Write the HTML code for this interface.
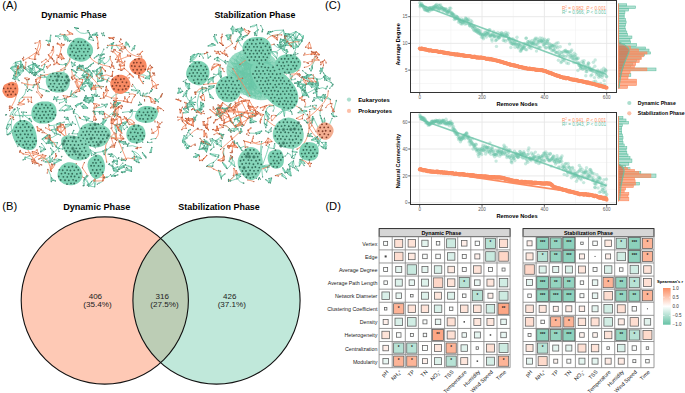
<!DOCTYPE html>
<html><head><meta charset="utf-8"><style>
html,body{margin:0;padding:0;background:#fff;width:685px;height:393px;overflow:hidden}
svg{display:block;font-family:"Liberation Sans", sans-serif}
</style></head><body>
<svg width="685" height="393" viewBox="0 0 685 393">
<rect width="685" height="393" fill="#fff"/>
<text x="2.30" y="8.90" font-size="11.2" text-anchor="start" fill="#000">(A)</text>
<text x="325.10" y="8.90" font-size="11.2" text-anchor="start" fill="#000">(C)</text>
<text x="2.30" y="209.90" font-size="11.2" text-anchor="start" fill="#000">(B)</text>
<text x="325.40" y="209.90" font-size="11.2" text-anchor="start" fill="#000">(D)</text>
<text x="74.00" y="18.30" font-size="8.9" font-weight="bold" text-anchor="middle" fill="#000">Dynamic Phase</text>
<text x="254.90" y="18.30" font-size="8.9" font-weight="bold" text-anchor="middle" fill="#000">Stabilization Phase</text>
<circle cx="104.8" cy="300.5" r="83.6" fill="#FEC9B5"/>
<circle cx="216.5" cy="300.5" r="83.6" fill="#C0E8DA"/>
<clipPath id="vc"><circle cx="104.8" cy="300.5" r="83.6"/></clipPath>
<circle cx="216.5" cy="300.5" r="83.6" fill="#BCCDB5" clip-path="url(#vc)"/>
<circle cx="104.8" cy="300.5" r="83.6" fill="none" stroke="#111" stroke-width="1.1"/>
<circle cx="216.5" cy="300.5" r="83.6" fill="none" stroke="#111" stroke-width="1.1"/>
<text x="96.75" y="209.70" font-size="9.1" font-weight="bold" text-anchor="middle" fill="#000">Dynamic Phase</text>
<text x="219.10" y="209.70" font-size="8.95" font-weight="bold" text-anchor="middle" fill="#000">Stabilization Phase</text>
<text x="95.40" y="298.90" font-size="8.0" text-anchor="middle" fill="#222">406</text>
<text x="97.50" y="307.30" font-size="8.1" text-anchor="middle" fill="#222">(35.4%)</text>
<text x="162.30" y="298.90" font-size="8.0" text-anchor="middle" fill="#222">316</text>
<text x="164.50" y="307.30" font-size="8.1" text-anchor="middle" fill="#222">(27.5%)</text>
<text x="229.70" y="298.90" font-size="8.0" text-anchor="middle" fill="#222">426</text>
<text x="231.80" y="307.30" font-size="8.1" text-anchor="middle" fill="#222">(37.1%)</text>
<line x1="410.5" x2="616.5" y1="83.45" y2="83.45" stroke="#F1F1F1" stroke-width="0.6"/>
<line x1="410.5" x2="616.5" y1="56.75" y2="56.75" stroke="#F1F1F1" stroke-width="0.6"/>
<line x1="410.5" x2="616.5" y1="30.05" y2="30.05" stroke="#F1F1F1" stroke-width="0.6"/>
<line x1="410.5" x2="616.5" y1="3.35" y2="3.35" stroke="#F1F1F1" stroke-width="0.6"/>
<line x1="450.87" x2="450.87" y1="0.5" y2="92.5" stroke="#F1F1F1" stroke-width="0.6"/>
<line x1="513.20" x2="513.20" y1="0.5" y2="92.5" stroke="#F1F1F1" stroke-width="0.6"/>
<line x1="575.53" x2="575.53" y1="0.5" y2="92.5" stroke="#F1F1F1" stroke-width="0.6"/>
<line x1="410.5" x2="616.5" y1="70.10" y2="70.10" stroke="#E6E6E6" stroke-width="0.9"/>
<line x1="410.5" x2="616.5" y1="43.40" y2="43.40" stroke="#E6E6E6" stroke-width="0.9"/>
<line x1="410.5" x2="616.5" y1="16.70" y2="16.70" stroke="#E6E6E6" stroke-width="0.9"/>
<line x1="419.70" x2="419.70" y1="0.5" y2="92.5" stroke="#E6E6E6" stroke-width="0.9"/>
<line x1="482.03" x2="482.03" y1="0.5" y2="92.5" stroke="#E6E6E6" stroke-width="0.9"/>
<line x1="544.37" x2="544.37" y1="0.5" y2="92.5" stroke="#E6E6E6" stroke-width="0.9"/>
<line x1="606.70" x2="606.70" y1="0.5" y2="92.5" stroke="#E6E6E6" stroke-width="0.9"/>
<g fill="#66C2A5" fill-opacity="0.36"><circle cx="419.70" cy="2.75" r="1.7"/><circle cx="420.06" cy="6.74" r="1.7"/><circle cx="420.42" cy="5.43" r="1.7"/><circle cx="420.78" cy="4.79" r="1.7"/><circle cx="421.14" cy="4.98" r="1.7"/><circle cx="421.50" cy="3.47" r="1.7"/><circle cx="421.86" cy="5.76" r="1.7"/><circle cx="422.22" cy="4.97" r="1.7"/><circle cx="422.58" cy="5.67" r="1.7"/><circle cx="422.94" cy="5.80" r="1.7"/><circle cx="423.30" cy="6.60" r="1.7"/><circle cx="423.66" cy="7.72" r="1.7"/><circle cx="424.02" cy="7.77" r="1.7"/><circle cx="424.38" cy="9.74" r="1.7"/><circle cx="424.74" cy="7.16" r="1.7"/><circle cx="425.10" cy="9.74" r="1.7"/><circle cx="425.46" cy="8.84" r="1.7"/><circle cx="425.83" cy="7.19" r="1.7"/><circle cx="426.19" cy="10.24" r="1.7"/><circle cx="426.55" cy="10.13" r="1.7"/><circle cx="426.91" cy="8.74" r="1.7"/><circle cx="427.27" cy="10.18" r="1.7"/><circle cx="427.63" cy="11.12" r="1.7"/><circle cx="427.99" cy="10.09" r="1.7"/><circle cx="428.35" cy="9.70" r="1.7"/><circle cx="428.71" cy="9.52" r="1.7"/><circle cx="429.07" cy="11.60" r="1.7"/><circle cx="429.43" cy="7.82" r="1.7"/><circle cx="429.79" cy="7.60" r="1.7"/><circle cx="430.15" cy="9.17" r="1.7"/><circle cx="430.51" cy="8.88" r="1.7"/><circle cx="430.87" cy="9.80" r="1.7"/><circle cx="431.23" cy="7.39" r="1.7"/><circle cx="431.59" cy="9.92" r="1.7"/><circle cx="431.95" cy="7.80" r="1.7"/><circle cx="432.31" cy="9.04" r="1.7"/><circle cx="432.67" cy="9.27" r="1.7"/><circle cx="433.03" cy="7.53" r="1.7"/><circle cx="433.39" cy="6.66" r="1.7"/><circle cx="433.75" cy="7.85" r="1.7"/><circle cx="434.11" cy="8.77" r="1.7"/><circle cx="434.47" cy="6.54" r="1.7"/><circle cx="434.83" cy="7.36" r="1.7"/><circle cx="435.19" cy="7.12" r="1.7"/><circle cx="435.55" cy="5.39" r="1.7"/><circle cx="435.91" cy="5.51" r="1.7"/><circle cx="436.27" cy="8.31" r="1.7"/><circle cx="436.63" cy="4.55" r="1.7"/><circle cx="436.99" cy="7.62" r="1.7"/><circle cx="437.36" cy="6.73" r="1.7"/><circle cx="437.72" cy="8.49" r="1.7"/><circle cx="438.08" cy="7.63" r="1.7"/><circle cx="438.44" cy="10.38" r="1.7"/><circle cx="438.80" cy="5.13" r="1.7"/><circle cx="439.16" cy="5.46" r="1.7"/><circle cx="439.52" cy="8.78" r="1.7"/><circle cx="439.88" cy="8.77" r="1.7"/><circle cx="440.24" cy="8.88" r="1.7"/><circle cx="440.60" cy="4.91" r="1.7"/><circle cx="440.96" cy="7.69" r="1.7"/><circle cx="441.32" cy="6.94" r="1.7"/><circle cx="441.68" cy="7.59" r="1.7"/><circle cx="442.04" cy="7.64" r="1.7"/><circle cx="442.40" cy="9.61" r="1.7"/><circle cx="442.76" cy="8.43" r="1.7"/><circle cx="443.12" cy="10.85" r="1.7"/><circle cx="443.48" cy="8.55" r="1.7"/><circle cx="443.84" cy="8.77" r="1.7"/><circle cx="444.20" cy="9.09" r="1.7"/><circle cx="444.56" cy="10.11" r="1.7"/><circle cx="444.92" cy="10.74" r="1.7"/><circle cx="445.28" cy="9.10" r="1.7"/><circle cx="445.64" cy="10.83" r="1.7"/><circle cx="446.00" cy="8.62" r="1.7"/><circle cx="446.36" cy="9.74" r="1.7"/><circle cx="446.72" cy="11.38" r="1.7"/><circle cx="447.08" cy="12.34" r="1.7"/><circle cx="447.44" cy="12.41" r="1.7"/><circle cx="447.80" cy="12.51" r="1.7"/><circle cx="448.16" cy="11.79" r="1.7"/><circle cx="448.52" cy="10.95" r="1.7"/><circle cx="448.89" cy="10.73" r="1.7"/><circle cx="449.25" cy="10.39" r="1.7"/><circle cx="449.61" cy="8.10" r="1.7"/><circle cx="449.97" cy="12.72" r="1.7"/><circle cx="450.33" cy="11.76" r="1.7"/><circle cx="450.69" cy="8.22" r="1.7"/><circle cx="451.05" cy="15.57" r="1.7"/><circle cx="451.41" cy="13.45" r="1.7"/><circle cx="451.77" cy="12.55" r="1.7"/><circle cx="452.13" cy="13.64" r="1.7"/><circle cx="452.49" cy="13.77" r="1.7"/><circle cx="452.85" cy="14.83" r="1.7"/><circle cx="453.21" cy="14.80" r="1.7"/><circle cx="453.57" cy="15.64" r="1.7"/><circle cx="453.93" cy="14.36" r="1.7"/><circle cx="454.29" cy="19.57" r="1.7"/><circle cx="454.65" cy="17.64" r="1.7"/><circle cx="455.01" cy="16.33" r="1.7"/><circle cx="455.37" cy="18.49" r="1.7"/><circle cx="455.73" cy="18.76" r="1.7"/><circle cx="456.09" cy="16.09" r="1.7"/><circle cx="456.45" cy="18.60" r="1.7"/><circle cx="456.81" cy="16.40" r="1.7"/><circle cx="457.17" cy="16.88" r="1.7"/><circle cx="457.53" cy="18.17" r="1.7"/><circle cx="457.89" cy="17.83" r="1.7"/><circle cx="458.25" cy="19.28" r="1.7"/><circle cx="458.61" cy="22.27" r="1.7"/><circle cx="458.97" cy="19.91" r="1.7"/><circle cx="459.33" cy="18.92" r="1.7"/><circle cx="459.69" cy="21.26" r="1.7"/><circle cx="460.05" cy="21.43" r="1.7"/><circle cx="460.42" cy="20.35" r="1.7"/><circle cx="460.78" cy="23.64" r="1.7"/><circle cx="461.14" cy="21.41" r="1.7"/><circle cx="461.50" cy="19.04" r="1.7"/><circle cx="461.86" cy="24.02" r="1.7"/><circle cx="462.22" cy="22.13" r="1.7"/><circle cx="462.58" cy="23.03" r="1.7"/><circle cx="462.94" cy="20.10" r="1.7"/><circle cx="463.30" cy="21.88" r="1.7"/><circle cx="463.66" cy="20.22" r="1.7"/><circle cx="464.02" cy="22.66" r="1.7"/><circle cx="464.38" cy="21.20" r="1.7"/><circle cx="464.74" cy="21.04" r="1.7"/><circle cx="465.10" cy="24.15" r="1.7"/><circle cx="465.46" cy="17.88" r="1.7"/><circle cx="465.82" cy="18.87" r="1.7"/><circle cx="466.18" cy="23.60" r="1.7"/><circle cx="466.54" cy="18.76" r="1.7"/><circle cx="466.90" cy="20.86" r="1.7"/><circle cx="467.26" cy="19.92" r="1.7"/><circle cx="467.62" cy="20.31" r="1.7"/><circle cx="467.98" cy="23.53" r="1.7"/><circle cx="468.34" cy="21.51" r="1.7"/><circle cx="468.70" cy="18.98" r="1.7"/><circle cx="469.06" cy="23.59" r="1.7"/><circle cx="469.42" cy="24.94" r="1.7"/><circle cx="469.78" cy="25.70" r="1.7"/><circle cx="470.14" cy="26.07" r="1.7"/><circle cx="470.50" cy="23.38" r="1.7"/><circle cx="470.86" cy="20.47" r="1.7"/><circle cx="471.22" cy="24.49" r="1.7"/><circle cx="471.58" cy="25.67" r="1.7"/><circle cx="471.95" cy="21.98" r="1.7"/><circle cx="472.31" cy="27.54" r="1.7"/><circle cx="472.67" cy="28.09" r="1.7"/><circle cx="473.03" cy="26.23" r="1.7"/><circle cx="473.39" cy="26.23" r="1.7"/><circle cx="473.75" cy="29.58" r="1.7"/><circle cx="474.11" cy="30.47" r="1.7"/><circle cx="474.47" cy="26.85" r="1.7"/><circle cx="474.83" cy="27.21" r="1.7"/><circle cx="475.19" cy="31.01" r="1.7"/><circle cx="475.55" cy="29.22" r="1.7"/><circle cx="475.91" cy="30.39" r="1.7"/><circle cx="476.27" cy="28.74" r="1.7"/><circle cx="476.63" cy="31.45" r="1.7"/><circle cx="476.99" cy="31.83" r="1.7"/><circle cx="477.35" cy="32.17" r="1.7"/><circle cx="477.71" cy="30.06" r="1.7"/><circle cx="478.07" cy="29.61" r="1.7"/><circle cx="478.43" cy="33.07" r="1.7"/><circle cx="478.79" cy="30.46" r="1.7"/><circle cx="479.15" cy="33.46" r="1.7"/><circle cx="479.51" cy="32.86" r="1.7"/><circle cx="479.87" cy="31.90" r="1.7"/><circle cx="480.23" cy="30.73" r="1.7"/><circle cx="480.59" cy="34.64" r="1.7"/><circle cx="480.95" cy="33.55" r="1.7"/><circle cx="481.31" cy="34.27" r="1.7"/><circle cx="481.67" cy="37.37" r="1.7"/><circle cx="482.03" cy="34.83" r="1.7"/><circle cx="482.39" cy="35.97" r="1.7"/><circle cx="482.75" cy="34.41" r="1.7"/><circle cx="483.11" cy="37.51" r="1.7"/><circle cx="483.48" cy="38.77" r="1.7"/><circle cx="483.84" cy="34.51" r="1.7"/><circle cx="484.20" cy="33.96" r="1.7"/><circle cx="484.56" cy="35.39" r="1.7"/><circle cx="484.92" cy="32.26" r="1.7"/><circle cx="485.28" cy="34.92" r="1.7"/><circle cx="485.64" cy="35.01" r="1.7"/><circle cx="486.00" cy="32.28" r="1.7"/><circle cx="486.36" cy="37.11" r="1.7"/><circle cx="486.72" cy="34.02" r="1.7"/><circle cx="487.08" cy="33.37" r="1.7"/><circle cx="487.44" cy="31.19" r="1.7"/><circle cx="487.80" cy="33.80" r="1.7"/><circle cx="488.16" cy="32.87" r="1.7"/><circle cx="488.52" cy="34.89" r="1.7"/><circle cx="488.88" cy="32.83" r="1.7"/><circle cx="489.24" cy="29.65" r="1.7"/><circle cx="489.60" cy="35.91" r="1.7"/><circle cx="489.96" cy="29.83" r="1.7"/><circle cx="490.32" cy="36.42" r="1.7"/><circle cx="490.68" cy="35.46" r="1.7"/><circle cx="491.04" cy="35.63" r="1.7"/><circle cx="491.40" cy="34.38" r="1.7"/><circle cx="491.76" cy="39.13" r="1.7"/><circle cx="492.12" cy="41.00" r="1.7"/><circle cx="492.48" cy="34.30" r="1.7"/><circle cx="492.84" cy="34.66" r="1.7"/><circle cx="493.20" cy="35.34" r="1.7"/><circle cx="493.56" cy="31.51" r="1.7"/><circle cx="493.92" cy="37.03" r="1.7"/><circle cx="494.28" cy="36.41" r="1.7"/><circle cx="494.64" cy="35.62" r="1.7"/><circle cx="495.01" cy="36.47" r="1.7"/><circle cx="495.37" cy="33.29" r="1.7"/><circle cx="495.73" cy="40.67" r="1.7"/><circle cx="496.09" cy="39.97" r="1.7"/><circle cx="496.45" cy="46.41" r="1.7"/><circle cx="496.81" cy="36.20" r="1.7"/><circle cx="497.17" cy="39.21" r="1.7"/><circle cx="497.53" cy="35.74" r="1.7"/><circle cx="497.89" cy="32.43" r="1.7"/><circle cx="498.25" cy="36.75" r="1.7"/><circle cx="498.61" cy="37.81" r="1.7"/><circle cx="498.97" cy="37.71" r="1.7"/><circle cx="499.33" cy="37.71" r="1.7"/><circle cx="499.69" cy="36.46" r="1.7"/><circle cx="500.05" cy="33.50" r="1.7"/><circle cx="500.41" cy="35.38" r="1.7"/><circle cx="500.77" cy="34.74" r="1.7"/><circle cx="501.13" cy="35.27" r="1.7"/><circle cx="501.49" cy="32.61" r="1.7"/><circle cx="501.85" cy="33.14" r="1.7"/><circle cx="502.21" cy="35.15" r="1.7"/><circle cx="502.57" cy="34.60" r="1.7"/><circle cx="502.93" cy="36.97" r="1.7"/><circle cx="503.29" cy="40.54" r="1.7"/><circle cx="503.65" cy="33.59" r="1.7"/><circle cx="504.01" cy="35.95" r="1.7"/><circle cx="504.37" cy="39.93" r="1.7"/><circle cx="504.73" cy="34.84" r="1.7"/><circle cx="505.09" cy="36.30" r="1.7"/><circle cx="505.45" cy="41.19" r="1.7"/><circle cx="505.81" cy="32.51" r="1.7"/><circle cx="506.17" cy="35.95" r="1.7"/><circle cx="506.54" cy="34.12" r="1.7"/><circle cx="506.90" cy="35.29" r="1.7"/><circle cx="507.26" cy="35.58" r="1.7"/><circle cx="507.62" cy="39.88" r="1.7"/><circle cx="507.98" cy="33.18" r="1.7"/><circle cx="508.34" cy="36.93" r="1.7"/><circle cx="508.70" cy="38.71" r="1.7"/><circle cx="509.06" cy="38.66" r="1.7"/><circle cx="509.42" cy="39.20" r="1.7"/><circle cx="509.78" cy="38.79" r="1.7"/><circle cx="510.14" cy="41.95" r="1.7"/><circle cx="510.50" cy="41.61" r="1.7"/><circle cx="510.86" cy="47.57" r="1.7"/><circle cx="511.22" cy="43.82" r="1.7"/><circle cx="511.58" cy="41.19" r="1.7"/><circle cx="511.94" cy="38.86" r="1.7"/><circle cx="512.30" cy="43.87" r="1.7"/><circle cx="512.66" cy="43.46" r="1.7"/><circle cx="513.02" cy="38.90" r="1.7"/><circle cx="513.38" cy="44.46" r="1.7"/><circle cx="513.74" cy="42.42" r="1.7"/><circle cx="514.10" cy="40.20" r="1.7"/><circle cx="514.46" cy="43.97" r="1.7"/><circle cx="514.82" cy="41.74" r="1.7"/><circle cx="515.18" cy="47.25" r="1.7"/><circle cx="515.54" cy="44.11" r="1.7"/><circle cx="515.90" cy="44.41" r="1.7"/><circle cx="516.26" cy="43.91" r="1.7"/><circle cx="516.62" cy="40.70" r="1.7"/><circle cx="516.98" cy="37.22" r="1.7"/><circle cx="517.34" cy="46.33" r="1.7"/><circle cx="517.70" cy="46.98" r="1.7"/><circle cx="518.07" cy="44.31" r="1.7"/><circle cx="518.43" cy="47.94" r="1.7"/><circle cx="518.79" cy="43.93" r="1.7"/><circle cx="519.15" cy="44.16" r="1.7"/><circle cx="519.51" cy="46.84" r="1.7"/><circle cx="519.87" cy="45.33" r="1.7"/><circle cx="520.23" cy="50.97" r="1.7"/><circle cx="520.59" cy="45.00" r="1.7"/><circle cx="520.95" cy="50.98" r="1.7"/><circle cx="521.31" cy="49.79" r="1.7"/><circle cx="521.67" cy="48.87" r="1.7"/><circle cx="522.03" cy="48.54" r="1.7"/><circle cx="522.39" cy="45.85" r="1.7"/><circle cx="522.75" cy="47.24" r="1.7"/><circle cx="523.11" cy="48.47" r="1.7"/><circle cx="523.47" cy="46.84" r="1.7"/><circle cx="523.83" cy="44.02" r="1.7"/><circle cx="524.19" cy="47.94" r="1.7"/><circle cx="524.55" cy="46.84" r="1.7"/><circle cx="524.91" cy="43.53" r="1.7"/><circle cx="525.27" cy="45.61" r="1.7"/><circle cx="525.63" cy="49.49" r="1.7"/><circle cx="525.99" cy="38.24" r="1.7"/><circle cx="526.35" cy="38.11" r="1.7"/><circle cx="526.71" cy="49.83" r="1.7"/><circle cx="527.07" cy="43.91" r="1.7"/><circle cx="527.43" cy="43.89" r="1.7"/><circle cx="527.79" cy="41.64" r="1.7"/><circle cx="528.15" cy="41.66" r="1.7"/><circle cx="528.51" cy="44.64" r="1.7"/><circle cx="528.87" cy="47.24" r="1.7"/><circle cx="529.23" cy="42.63" r="1.7"/><circle cx="529.60" cy="41.08" r="1.7"/><circle cx="529.96" cy="47.04" r="1.7"/><circle cx="530.32" cy="45.36" r="1.7"/><circle cx="530.68" cy="43.12" r="1.7"/><circle cx="531.04" cy="48.47" r="1.7"/><circle cx="531.40" cy="42.41" r="1.7"/><circle cx="531.76" cy="43.23" r="1.7"/><circle cx="532.12" cy="40.40" r="1.7"/><circle cx="532.48" cy="43.49" r="1.7"/><circle cx="532.84" cy="44.84" r="1.7"/><circle cx="533.20" cy="43.58" r="1.7"/><circle cx="533.56" cy="42.49" r="1.7"/><circle cx="533.92" cy="43.96" r="1.7"/><circle cx="534.28" cy="42.10" r="1.7"/><circle cx="534.64" cy="40.13" r="1.7"/><circle cx="535.00" cy="39.57" r="1.7"/><circle cx="535.36" cy="38.24" r="1.7"/><circle cx="535.72" cy="45.27" r="1.7"/><circle cx="536.08" cy="44.16" r="1.7"/><circle cx="536.44" cy="51.11" r="1.7"/><circle cx="536.80" cy="38.19" r="1.7"/><circle cx="537.16" cy="44.48" r="1.7"/><circle cx="537.52" cy="41.73" r="1.7"/><circle cx="537.88" cy="39.77" r="1.7"/><circle cx="538.24" cy="47.48" r="1.7"/><circle cx="538.60" cy="41.43" r="1.7"/><circle cx="538.96" cy="42.69" r="1.7"/><circle cx="539.32" cy="47.26" r="1.7"/><circle cx="539.68" cy="40.55" r="1.7"/><circle cx="540.04" cy="37.94" r="1.7"/><circle cx="540.40" cy="47.34" r="1.7"/><circle cx="540.76" cy="40.40" r="1.7"/><circle cx="541.13" cy="41.62" r="1.7"/><circle cx="541.49" cy="40.75" r="1.7"/><circle cx="541.85" cy="41.56" r="1.7"/><circle cx="542.21" cy="38.13" r="1.7"/><circle cx="542.57" cy="42.03" r="1.7"/><circle cx="542.93" cy="39.86" r="1.7"/><circle cx="543.29" cy="44.64" r="1.7"/><circle cx="543.65" cy="41.01" r="1.7"/><circle cx="544.01" cy="46.03" r="1.7"/><circle cx="544.37" cy="44.25" r="1.7"/><circle cx="544.73" cy="39.18" r="1.7"/><circle cx="545.09" cy="41.98" r="1.7"/><circle cx="545.45" cy="43.48" r="1.7"/><circle cx="545.81" cy="47.78" r="1.7"/><circle cx="546.17" cy="47.76" r="1.7"/><circle cx="546.53" cy="43.53" r="1.7"/><circle cx="546.89" cy="40.66" r="1.7"/><circle cx="547.25" cy="41.36" r="1.7"/><circle cx="547.61" cy="40.88" r="1.7"/><circle cx="547.97" cy="43.74" r="1.7"/><circle cx="548.33" cy="39.33" r="1.7"/><circle cx="548.69" cy="46.85" r="1.7"/><circle cx="549.05" cy="48.05" r="1.7"/><circle cx="549.41" cy="43.47" r="1.7"/><circle cx="549.77" cy="45.92" r="1.7"/><circle cx="550.13" cy="47.70" r="1.7"/><circle cx="550.49" cy="48.86" r="1.7"/><circle cx="550.85" cy="47.64" r="1.7"/><circle cx="551.21" cy="44.67" r="1.7"/><circle cx="551.57" cy="45.35" r="1.7"/><circle cx="551.93" cy="50.70" r="1.7"/><circle cx="552.29" cy="45.76" r="1.7"/><circle cx="552.66" cy="46.29" r="1.7"/><circle cx="553.02" cy="50.51" r="1.7"/><circle cx="553.38" cy="45.45" r="1.7"/><circle cx="553.74" cy="49.67" r="1.7"/><circle cx="554.10" cy="50.05" r="1.7"/><circle cx="554.46" cy="46.50" r="1.7"/><circle cx="554.82" cy="44.80" r="1.7"/><circle cx="555.18" cy="51.81" r="1.7"/><circle cx="555.54" cy="48.06" r="1.7"/><circle cx="555.90" cy="52.84" r="1.7"/><circle cx="556.26" cy="43.09" r="1.7"/><circle cx="556.62" cy="52.48" r="1.7"/><circle cx="556.98" cy="46.11" r="1.7"/><circle cx="557.34" cy="52.34" r="1.7"/><circle cx="557.70" cy="47.74" r="1.7"/><circle cx="558.06" cy="42.82" r="1.7"/><circle cx="558.42" cy="60.18" r="1.7"/><circle cx="558.78" cy="54.50" r="1.7"/><circle cx="559.14" cy="51.30" r="1.7"/><circle cx="559.50" cy="54.12" r="1.7"/><circle cx="559.86" cy="55.61" r="1.7"/><circle cx="560.22" cy="46.70" r="1.7"/><circle cx="560.58" cy="55.87" r="1.7"/><circle cx="560.94" cy="62.51" r="1.7"/><circle cx="561.30" cy="52.46" r="1.7"/><circle cx="561.66" cy="61.72" r="1.7"/><circle cx="562.02" cy="52.65" r="1.7"/><circle cx="562.38" cy="59.17" r="1.7"/><circle cx="562.74" cy="56.12" r="1.7"/><circle cx="563.10" cy="51.76" r="1.7"/><circle cx="563.46" cy="55.67" r="1.7"/><circle cx="563.82" cy="59.95" r="1.7"/><circle cx="564.19" cy="60.68" r="1.7"/><circle cx="564.55" cy="50.71" r="1.7"/><circle cx="564.91" cy="52.05" r="1.7"/><circle cx="565.27" cy="56.62" r="1.7"/><circle cx="565.63" cy="50.30" r="1.7"/><circle cx="565.99" cy="51.26" r="1.7"/><circle cx="566.35" cy="52.02" r="1.7"/><circle cx="566.71" cy="62.94" r="1.7"/><circle cx="567.07" cy="55.73" r="1.7"/><circle cx="567.43" cy="52.02" r="1.7"/><circle cx="567.79" cy="52.17" r="1.7"/><circle cx="568.15" cy="51.60" r="1.7"/><circle cx="568.51" cy="63.43" r="1.7"/><circle cx="568.87" cy="54.58" r="1.7"/><circle cx="569.23" cy="51.91" r="1.7"/><circle cx="569.59" cy="44.09" r="1.7"/><circle cx="569.95" cy="57.68" r="1.7"/><circle cx="570.31" cy="55.95" r="1.7"/><circle cx="570.67" cy="53.20" r="1.7"/><circle cx="571.03" cy="51.09" r="1.7"/><circle cx="571.39" cy="55.95" r="1.7"/><circle cx="571.75" cy="50.04" r="1.7"/><circle cx="572.11" cy="57.86" r="1.7"/><circle cx="572.47" cy="55.54" r="1.7"/><circle cx="572.83" cy="58.86" r="1.7"/><circle cx="573.19" cy="56.56" r="1.7"/><circle cx="573.55" cy="59.34" r="1.7"/><circle cx="573.91" cy="62.66" r="1.7"/><circle cx="574.27" cy="53.25" r="1.7"/><circle cx="574.63" cy="56.08" r="1.7"/><circle cx="574.99" cy="59.46" r="1.7"/><circle cx="575.35" cy="57.06" r="1.7"/><circle cx="575.72" cy="54.59" r="1.7"/><circle cx="576.08" cy="62.60" r="1.7"/><circle cx="576.44" cy="59.21" r="1.7"/><circle cx="576.80" cy="58.03" r="1.7"/><circle cx="577.16" cy="58.88" r="1.7"/><circle cx="577.52" cy="62.37" r="1.7"/><circle cx="577.88" cy="70.46" r="1.7"/><circle cx="578.24" cy="58.26" r="1.7"/><circle cx="578.60" cy="63.39" r="1.7"/><circle cx="578.96" cy="65.05" r="1.7"/><circle cx="579.32" cy="65.60" r="1.7"/><circle cx="579.68" cy="63.04" r="1.7"/><circle cx="580.04" cy="65.73" r="1.7"/><circle cx="580.40" cy="68.23" r="1.7"/><circle cx="580.76" cy="68.30" r="1.7"/><circle cx="581.12" cy="66.20" r="1.7"/><circle cx="581.48" cy="65.93" r="1.7"/><circle cx="581.84" cy="67.27" r="1.7"/><circle cx="582.20" cy="61.29" r="1.7"/><circle cx="582.56" cy="69.08" r="1.7"/><circle cx="582.92" cy="63.07" r="1.7"/><circle cx="583.28" cy="68.89" r="1.7"/><circle cx="583.64" cy="62.88" r="1.7"/><circle cx="584.00" cy="60.59" r="1.7"/><circle cx="584.36" cy="65.16" r="1.7"/><circle cx="584.72" cy="68.27" r="1.7"/><circle cx="585.08" cy="66.73" r="1.7"/><circle cx="585.44" cy="67.75" r="1.7"/><circle cx="585.80" cy="75.78" r="1.7"/><circle cx="586.16" cy="71.64" r="1.7"/><circle cx="586.52" cy="69.49" r="1.7"/><circle cx="586.88" cy="71.60" r="1.7"/><circle cx="587.25" cy="68.93" r="1.7"/><circle cx="587.61" cy="65.59" r="1.7"/><circle cx="587.97" cy="64.72" r="1.7"/><circle cx="588.33" cy="62.85" r="1.7"/><circle cx="588.69" cy="63.21" r="1.7"/><circle cx="589.05" cy="67.95" r="1.7"/><circle cx="589.41" cy="67.37" r="1.7"/><circle cx="589.77" cy="69.28" r="1.7"/><circle cx="590.13" cy="70.30" r="1.7"/><circle cx="590.49" cy="69.72" r="1.7"/><circle cx="590.85" cy="75.79" r="1.7"/><circle cx="591.21" cy="69.74" r="1.7"/><circle cx="591.57" cy="69.87" r="1.7"/><circle cx="591.93" cy="74.64" r="1.7"/><circle cx="592.29" cy="70.68" r="1.7"/><circle cx="592.65" cy="68.54" r="1.7"/><circle cx="593.01" cy="71.42" r="1.7"/><circle cx="593.37" cy="62.30" r="1.7"/><circle cx="593.73" cy="81.80" r="1.7"/><circle cx="594.09" cy="71.35" r="1.7"/><circle cx="594.45" cy="77.58" r="1.7"/><circle cx="594.81" cy="66.26" r="1.7"/><circle cx="595.17" cy="60.03" r="1.7"/><circle cx="595.53" cy="81.18" r="1.7"/><circle cx="595.89" cy="72.76" r="1.7"/><circle cx="596.25" cy="71.77" r="1.7"/><circle cx="596.61" cy="74.83" r="1.7"/><circle cx="596.97" cy="72.39" r="1.7"/><circle cx="597.33" cy="83.39" r="1.7"/><circle cx="597.69" cy="70.28" r="1.7"/><circle cx="598.05" cy="73.25" r="1.7"/><circle cx="598.41" cy="74.63" r="1.7"/><circle cx="598.78" cy="77.18" r="1.7"/><circle cx="599.14" cy="71.46" r="1.7"/><circle cx="599.50" cy="75.43" r="1.7"/><circle cx="599.86" cy="72.45" r="1.7"/><circle cx="600.22" cy="76.19" r="1.7"/><circle cx="600.58" cy="83.45" r="1.7"/><circle cx="600.94" cy="74.19" r="1.7"/><circle cx="601.30" cy="72.50" r="1.7"/><circle cx="601.66" cy="69.94" r="1.7"/><circle cx="602.02" cy="77.47" r="1.7"/><circle cx="602.38" cy="75.14" r="1.7"/><circle cx="602.74" cy="72.64" r="1.7"/><circle cx="603.10" cy="75.18" r="1.7"/><circle cx="603.46" cy="71.40" r="1.7"/><circle cx="603.82" cy="68.13" r="1.7"/><circle cx="604.18" cy="80.64" r="1.7"/><circle cx="604.54" cy="84.65" r="1.7"/><circle cx="604.90" cy="72.27" r="1.7"/><circle cx="605.26" cy="69.72" r="1.7"/><circle cx="605.62" cy="70.14" r="1.7"/><circle cx="605.98" cy="71.03" r="1.7"/><circle cx="606.34" cy="76.28" r="1.7"/><circle cx="606.70" cy="76.81" r="1.7"/></g>
<line x1="419.70" y1="4.42" x2="606.70" y2="74.59" stroke="#66C2A5" stroke-width="1.6" stroke-opacity="0.8"/>
<g fill="#FC8D62" fill-opacity="0.95"><circle cx="419.70" cy="48.28" r="1.85"/><circle cx="420.15" cy="48.74" r="1.85"/><circle cx="420.59" cy="49.01" r="1.85"/><circle cx="421.04" cy="48.92" r="1.85"/><circle cx="421.49" cy="48.25" r="1.85"/><circle cx="421.93" cy="48.44" r="1.85"/><circle cx="422.38" cy="49.08" r="1.85"/><circle cx="422.82" cy="49.16" r="1.85"/><circle cx="423.27" cy="49.04" r="1.85"/><circle cx="423.72" cy="49.32" r="1.85"/><circle cx="424.16" cy="48.96" r="1.85"/><circle cx="424.61" cy="49.33" r="1.85"/><circle cx="425.06" cy="49.62" r="1.85"/><circle cx="425.50" cy="49.19" r="1.85"/><circle cx="425.95" cy="49.67" r="1.85"/><circle cx="426.39" cy="49.57" r="1.85"/><circle cx="426.84" cy="49.70" r="1.85"/><circle cx="427.29" cy="49.84" r="1.85"/><circle cx="427.73" cy="49.78" r="1.85"/><circle cx="428.18" cy="50.07" r="1.85"/><circle cx="428.63" cy="50.40" r="1.85"/><circle cx="429.07" cy="50.55" r="1.85"/><circle cx="429.52" cy="50.43" r="1.85"/><circle cx="429.97" cy="50.39" r="1.85"/><circle cx="430.41" cy="50.31" r="1.85"/><circle cx="430.86" cy="50.37" r="1.85"/><circle cx="431.30" cy="50.34" r="1.85"/><circle cx="431.75" cy="50.51" r="1.85"/><circle cx="432.20" cy="50.78" r="1.85"/><circle cx="432.64" cy="50.84" r="1.85"/><circle cx="433.09" cy="51.22" r="1.85"/><circle cx="433.54" cy="50.88" r="1.85"/><circle cx="433.98" cy="50.82" r="1.85"/><circle cx="434.43" cy="50.88" r="1.85"/><circle cx="434.87" cy="51.10" r="1.85"/><circle cx="435.32" cy="51.19" r="1.85"/><circle cx="435.77" cy="51.03" r="1.85"/><circle cx="436.21" cy="51.30" r="1.85"/><circle cx="436.66" cy="51.22" r="1.85"/><circle cx="437.11" cy="51.33" r="1.85"/><circle cx="437.55" cy="51.49" r="1.85"/><circle cx="438.00" cy="51.33" r="1.85"/><circle cx="438.44" cy="51.81" r="1.85"/><circle cx="438.89" cy="51.84" r="1.85"/><circle cx="439.34" cy="52.01" r="1.85"/><circle cx="439.78" cy="52.08" r="1.85"/><circle cx="440.23" cy="51.66" r="1.85"/><circle cx="440.68" cy="51.69" r="1.85"/><circle cx="441.12" cy="52.14" r="1.85"/><circle cx="441.57" cy="52.10" r="1.85"/><circle cx="442.02" cy="52.05" r="1.85"/><circle cx="442.46" cy="52.20" r="1.85"/><circle cx="442.91" cy="52.19" r="1.85"/><circle cx="443.35" cy="52.80" r="1.85"/><circle cx="443.80" cy="52.74" r="1.85"/><circle cx="444.25" cy="52.58" r="1.85"/><circle cx="444.69" cy="52.45" r="1.85"/><circle cx="445.14" cy="52.81" r="1.85"/><circle cx="445.59" cy="53.09" r="1.85"/><circle cx="446.03" cy="53.06" r="1.85"/><circle cx="446.48" cy="53.20" r="1.85"/><circle cx="446.92" cy="53.32" r="1.85"/><circle cx="447.37" cy="52.89" r="1.85"/><circle cx="447.82" cy="53.42" r="1.85"/><circle cx="448.26" cy="53.36" r="1.85"/><circle cx="448.71" cy="52.98" r="1.85"/><circle cx="449.16" cy="53.27" r="1.85"/><circle cx="449.60" cy="53.52" r="1.85"/><circle cx="450.05" cy="53.80" r="1.85"/><circle cx="450.50" cy="53.66" r="1.85"/><circle cx="450.94" cy="53.48" r="1.85"/><circle cx="451.39" cy="53.77" r="1.85"/><circle cx="451.83" cy="53.69" r="1.85"/><circle cx="452.28" cy="54.00" r="1.85"/><circle cx="452.73" cy="53.97" r="1.85"/><circle cx="453.17" cy="54.18" r="1.85"/><circle cx="453.62" cy="54.10" r="1.85"/><circle cx="454.07" cy="53.97" r="1.85"/><circle cx="454.51" cy="54.61" r="1.85"/><circle cx="454.96" cy="54.38" r="1.85"/><circle cx="455.40" cy="54.37" r="1.85"/><circle cx="455.85" cy="54.60" r="1.85"/><circle cx="456.30" cy="54.60" r="1.85"/><circle cx="456.74" cy="54.42" r="1.85"/><circle cx="457.19" cy="54.22" r="1.85"/><circle cx="457.64" cy="54.57" r="1.85"/><circle cx="458.08" cy="54.69" r="1.85"/><circle cx="458.53" cy="55.15" r="1.85"/><circle cx="458.97" cy="54.46" r="1.85"/><circle cx="459.42" cy="54.92" r="1.85"/><circle cx="459.87" cy="55.00" r="1.85"/><circle cx="460.31" cy="55.28" r="1.85"/><circle cx="460.76" cy="55.12" r="1.85"/><circle cx="461.21" cy="55.39" r="1.85"/><circle cx="461.65" cy="55.20" r="1.85"/><circle cx="462.10" cy="55.17" r="1.85"/><circle cx="462.55" cy="55.32" r="1.85"/><circle cx="462.99" cy="55.33" r="1.85"/><circle cx="463.44" cy="55.63" r="1.85"/><circle cx="463.88" cy="55.20" r="1.85"/><circle cx="464.33" cy="55.70" r="1.85"/><circle cx="464.78" cy="56.00" r="1.85"/><circle cx="465.22" cy="55.71" r="1.85"/><circle cx="465.67" cy="55.89" r="1.85"/><circle cx="466.12" cy="56.00" r="1.85"/><circle cx="466.56" cy="55.92" r="1.85"/><circle cx="467.01" cy="55.84" r="1.85"/><circle cx="467.45" cy="56.21" r="1.85"/><circle cx="467.90" cy="56.04" r="1.85"/><circle cx="468.35" cy="55.77" r="1.85"/><circle cx="468.79" cy="55.98" r="1.85"/><circle cx="469.24" cy="56.22" r="1.85"/><circle cx="469.69" cy="56.21" r="1.85"/><circle cx="470.13" cy="56.32" r="1.85"/><circle cx="470.58" cy="56.37" r="1.85"/><circle cx="471.03" cy="56.26" r="1.85"/><circle cx="471.47" cy="56.49" r="1.85"/><circle cx="471.92" cy="57.04" r="1.85"/><circle cx="472.36" cy="56.59" r="1.85"/><circle cx="472.81" cy="56.83" r="1.85"/><circle cx="473.26" cy="56.56" r="1.85"/><circle cx="473.70" cy="56.89" r="1.85"/><circle cx="474.15" cy="56.78" r="1.85"/><circle cx="474.60" cy="56.40" r="1.85"/><circle cx="475.04" cy="57.15" r="1.85"/><circle cx="475.49" cy="57.22" r="1.85"/><circle cx="475.93" cy="57.34" r="1.85"/><circle cx="476.38" cy="57.61" r="1.85"/><circle cx="476.83" cy="57.55" r="1.85"/><circle cx="477.27" cy="57.13" r="1.85"/><circle cx="477.72" cy="57.40" r="1.85"/><circle cx="478.17" cy="57.72" r="1.85"/><circle cx="478.61" cy="57.70" r="1.85"/><circle cx="479.06" cy="57.31" r="1.85"/><circle cx="479.50" cy="57.66" r="1.85"/><circle cx="479.95" cy="57.63" r="1.85"/><circle cx="480.40" cy="57.54" r="1.85"/><circle cx="480.84" cy="57.38" r="1.85"/><circle cx="481.29" cy="57.31" r="1.85"/><circle cx="481.74" cy="57.56" r="1.85"/><circle cx="482.18" cy="57.81" r="1.85"/><circle cx="482.63" cy="57.88" r="1.85"/><circle cx="483.08" cy="57.61" r="1.85"/><circle cx="483.52" cy="57.77" r="1.85"/><circle cx="483.97" cy="58.22" r="1.85"/><circle cx="484.41" cy="58.13" r="1.85"/><circle cx="484.86" cy="58.24" r="1.85"/><circle cx="485.31" cy="58.37" r="1.85"/><circle cx="485.75" cy="58.56" r="1.85"/><circle cx="486.20" cy="58.82" r="1.85"/><circle cx="486.65" cy="58.72" r="1.85"/><circle cx="487.09" cy="59.01" r="1.85"/><circle cx="487.54" cy="58.50" r="1.85"/><circle cx="487.98" cy="58.72" r="1.85"/><circle cx="488.43" cy="59.17" r="1.85"/><circle cx="488.88" cy="58.69" r="1.85"/><circle cx="489.32" cy="58.88" r="1.85"/><circle cx="489.77" cy="59.55" r="1.85"/><circle cx="490.22" cy="58.83" r="1.85"/><circle cx="490.66" cy="59.12" r="1.85"/><circle cx="491.11" cy="58.93" r="1.85"/><circle cx="491.56" cy="59.71" r="1.85"/><circle cx="492.00" cy="59.41" r="1.85"/><circle cx="492.45" cy="59.51" r="1.85"/><circle cx="492.89" cy="59.64" r="1.85"/><circle cx="493.34" cy="59.72" r="1.85"/><circle cx="493.79" cy="59.61" r="1.85"/><circle cx="494.23" cy="60.23" r="1.85"/><circle cx="494.68" cy="60.25" r="1.85"/><circle cx="495.13" cy="60.36" r="1.85"/><circle cx="495.57" cy="60.27" r="1.85"/><circle cx="496.02" cy="60.41" r="1.85"/><circle cx="496.46" cy="60.34" r="1.85"/><circle cx="496.91" cy="60.49" r="1.85"/><circle cx="497.36" cy="60.67" r="1.85"/><circle cx="497.80" cy="60.95" r="1.85"/><circle cx="498.25" cy="61.03" r="1.85"/><circle cx="498.70" cy="60.87" r="1.85"/><circle cx="499.14" cy="61.04" r="1.85"/><circle cx="499.59" cy="61.31" r="1.85"/><circle cx="500.03" cy="61.53" r="1.85"/><circle cx="500.48" cy="61.26" r="1.85"/><circle cx="500.93" cy="61.85" r="1.85"/><circle cx="501.37" cy="61.72" r="1.85"/><circle cx="501.82" cy="61.74" r="1.85"/><circle cx="502.27" cy="62.17" r="1.85"/><circle cx="502.71" cy="62.07" r="1.85"/><circle cx="503.16" cy="62.62" r="1.85"/><circle cx="503.61" cy="62.29" r="1.85"/><circle cx="504.05" cy="62.60" r="1.85"/><circle cx="504.50" cy="63.11" r="1.85"/><circle cx="504.94" cy="62.76" r="1.85"/><circle cx="505.39" cy="63.22" r="1.85"/><circle cx="505.84" cy="62.89" r="1.85"/><circle cx="506.28" cy="63.44" r="1.85"/><circle cx="506.73" cy="63.46" r="1.85"/><circle cx="507.18" cy="63.50" r="1.85"/><circle cx="507.62" cy="63.76" r="1.85"/><circle cx="508.07" cy="63.76" r="1.85"/><circle cx="508.51" cy="64.07" r="1.85"/><circle cx="508.96" cy="63.94" r="1.85"/><circle cx="509.41" cy="64.21" r="1.85"/><circle cx="509.85" cy="64.30" r="1.85"/><circle cx="510.30" cy="65.06" r="1.85"/><circle cx="510.75" cy="64.36" r="1.85"/><circle cx="511.19" cy="64.73" r="1.85"/><circle cx="511.64" cy="65.25" r="1.85"/><circle cx="512.09" cy="64.95" r="1.85"/><circle cx="512.53" cy="64.98" r="1.85"/><circle cx="512.98" cy="64.96" r="1.85"/><circle cx="513.42" cy="65.53" r="1.85"/><circle cx="513.87" cy="65.08" r="1.85"/><circle cx="514.32" cy="65.56" r="1.85"/><circle cx="514.76" cy="65.12" r="1.85"/><circle cx="515.21" cy="65.77" r="1.85"/><circle cx="515.66" cy="65.70" r="1.85"/><circle cx="516.10" cy="66.04" r="1.85"/><circle cx="516.55" cy="66.31" r="1.85"/><circle cx="516.99" cy="65.94" r="1.85"/><circle cx="517.44" cy="66.09" r="1.85"/><circle cx="517.89" cy="66.07" r="1.85"/><circle cx="518.33" cy="66.32" r="1.85"/><circle cx="518.78" cy="66.74" r="1.85"/><circle cx="519.23" cy="67.08" r="1.85"/><circle cx="519.67" cy="66.97" r="1.85"/><circle cx="520.12" cy="67.09" r="1.85"/><circle cx="520.57" cy="67.22" r="1.85"/><circle cx="521.01" cy="67.04" r="1.85"/><circle cx="521.46" cy="67.20" r="1.85"/><circle cx="521.90" cy="67.44" r="1.85"/><circle cx="522.35" cy="67.45" r="1.85"/><circle cx="522.80" cy="67.63" r="1.85"/><circle cx="523.24" cy="67.66" r="1.85"/><circle cx="523.69" cy="67.65" r="1.85"/><circle cx="524.14" cy="67.72" r="1.85"/><circle cx="524.58" cy="68.18" r="1.85"/><circle cx="525.03" cy="68.43" r="1.85"/><circle cx="525.47" cy="67.87" r="1.85"/><circle cx="525.92" cy="68.21" r="1.85"/><circle cx="526.37" cy="68.06" r="1.85"/><circle cx="526.81" cy="68.71" r="1.85"/><circle cx="527.26" cy="68.49" r="1.85"/><circle cx="527.71" cy="68.48" r="1.85"/><circle cx="528.15" cy="68.85" r="1.85"/><circle cx="528.60" cy="68.72" r="1.85"/><circle cx="529.04" cy="68.51" r="1.85"/><circle cx="529.49" cy="68.50" r="1.85"/><circle cx="529.94" cy="68.45" r="1.85"/><circle cx="530.38" cy="69.04" r="1.85"/><circle cx="530.83" cy="69.22" r="1.85"/><circle cx="531.28" cy="68.87" r="1.85"/><circle cx="531.72" cy="68.84" r="1.85"/><circle cx="532.17" cy="69.06" r="1.85"/><circle cx="532.62" cy="69.44" r="1.85"/><circle cx="533.06" cy="69.06" r="1.85"/><circle cx="533.51" cy="69.12" r="1.85"/><circle cx="533.95" cy="69.23" r="1.85"/><circle cx="534.40" cy="69.52" r="1.85"/><circle cx="534.85" cy="69.41" r="1.85"/><circle cx="535.29" cy="69.37" r="1.85"/><circle cx="535.74" cy="69.72" r="1.85"/><circle cx="536.19" cy="70.05" r="1.85"/><circle cx="536.63" cy="69.65" r="1.85"/><circle cx="537.08" cy="69.68" r="1.85"/><circle cx="537.52" cy="69.84" r="1.85"/><circle cx="537.97" cy="69.72" r="1.85"/><circle cx="538.42" cy="70.09" r="1.85"/><circle cx="538.86" cy="70.05" r="1.85"/><circle cx="539.31" cy="70.16" r="1.85"/><circle cx="539.76" cy="70.03" r="1.85"/><circle cx="540.20" cy="69.88" r="1.85"/><circle cx="540.65" cy="70.33" r="1.85"/><circle cx="541.10" cy="69.90" r="1.85"/><circle cx="541.54" cy="70.08" r="1.85"/><circle cx="541.99" cy="70.30" r="1.85"/><circle cx="542.43" cy="70.40" r="1.85"/><circle cx="542.88" cy="70.21" r="1.85"/><circle cx="543.33" cy="70.69" r="1.85"/><circle cx="543.77" cy="70.74" r="1.85"/><circle cx="544.22" cy="71.00" r="1.85"/><circle cx="544.67" cy="70.80" r="1.85"/><circle cx="545.11" cy="70.78" r="1.85"/><circle cx="545.56" cy="71.11" r="1.85"/><circle cx="546.00" cy="71.30" r="1.85"/><circle cx="546.45" cy="71.60" r="1.85"/><circle cx="546.90" cy="71.68" r="1.85"/><circle cx="547.34" cy="72.18" r="1.85"/><circle cx="547.79" cy="71.82" r="1.85"/><circle cx="548.24" cy="72.29" r="1.85"/><circle cx="548.68" cy="72.60" r="1.85"/><circle cx="549.13" cy="72.69" r="1.85"/><circle cx="549.57" cy="72.87" r="1.85"/><circle cx="550.02" cy="72.67" r="1.85"/><circle cx="550.47" cy="72.79" r="1.85"/><circle cx="550.91" cy="73.47" r="1.85"/><circle cx="551.36" cy="73.15" r="1.85"/><circle cx="551.81" cy="73.32" r="1.85"/><circle cx="552.25" cy="73.79" r="1.85"/><circle cx="552.70" cy="74.15" r="1.85"/><circle cx="553.15" cy="74.16" r="1.85"/><circle cx="553.59" cy="74.30" r="1.85"/><circle cx="554.04" cy="74.25" r="1.85"/><circle cx="554.48" cy="74.56" r="1.85"/><circle cx="554.93" cy="75.08" r="1.85"/><circle cx="555.38" cy="74.76" r="1.85"/><circle cx="555.82" cy="75.30" r="1.85"/><circle cx="556.27" cy="74.94" r="1.85"/><circle cx="556.72" cy="75.56" r="1.85"/><circle cx="557.16" cy="75.61" r="1.85"/><circle cx="557.61" cy="75.81" r="1.85"/><circle cx="558.05" cy="75.90" r="1.85"/><circle cx="558.50" cy="75.67" r="1.85"/><circle cx="558.95" cy="75.93" r="1.85"/><circle cx="559.39" cy="76.15" r="1.85"/><circle cx="559.84" cy="76.37" r="1.85"/><circle cx="560.29" cy="76.93" r="1.85"/><circle cx="560.73" cy="76.88" r="1.85"/><circle cx="561.18" cy="77.05" r="1.85"/><circle cx="561.63" cy="77.24" r="1.85"/><circle cx="562.07" cy="77.02" r="1.85"/><circle cx="562.52" cy="77.38" r="1.85"/><circle cx="562.96" cy="77.47" r="1.85"/><circle cx="563.41" cy="77.64" r="1.85"/><circle cx="563.86" cy="77.96" r="1.85"/><circle cx="564.30" cy="77.49" r="1.85"/><circle cx="564.75" cy="77.43" r="1.85"/><circle cx="565.20" cy="77.78" r="1.85"/><circle cx="565.64" cy="78.12" r="1.85"/><circle cx="566.09" cy="78.59" r="1.85"/><circle cx="566.53" cy="78.07" r="1.85"/><circle cx="566.98" cy="77.95" r="1.85"/><circle cx="567.43" cy="78.24" r="1.85"/><circle cx="567.87" cy="78.20" r="1.85"/><circle cx="568.32" cy="78.18" r="1.85"/><circle cx="568.77" cy="78.36" r="1.85"/><circle cx="569.21" cy="78.79" r="1.85"/><circle cx="569.66" cy="78.57" r="1.85"/><circle cx="570.10" cy="78.73" r="1.85"/><circle cx="570.55" cy="79.32" r="1.85"/><circle cx="571.00" cy="79.18" r="1.85"/><circle cx="571.44" cy="79.49" r="1.85"/><circle cx="571.89" cy="79.31" r="1.85"/><circle cx="572.34" cy="79.26" r="1.85"/><circle cx="572.78" cy="79.71" r="1.85"/><circle cx="573.23" cy="80.02" r="1.85"/><circle cx="573.68" cy="79.40" r="1.85"/><circle cx="574.12" cy="79.69" r="1.85"/><circle cx="574.57" cy="79.56" r="1.85"/><circle cx="575.01" cy="80.25" r="1.85"/><circle cx="575.46" cy="79.84" r="1.85"/><circle cx="575.91" cy="79.72" r="1.85"/><circle cx="576.35" cy="79.83" r="1.85"/><circle cx="576.80" cy="80.40" r="1.85"/><circle cx="577.25" cy="80.39" r="1.85"/><circle cx="577.69" cy="80.57" r="1.85"/><circle cx="578.14" cy="80.42" r="1.85"/><circle cx="578.58" cy="80.51" r="1.85"/><circle cx="579.03" cy="80.80" r="1.85"/><circle cx="579.48" cy="81.21" r="1.85"/><circle cx="579.92" cy="80.85" r="1.85"/><circle cx="580.37" cy="81.21" r="1.85"/><circle cx="580.82" cy="81.07" r="1.85"/><circle cx="581.26" cy="81.24" r="1.85"/><circle cx="581.71" cy="81.04" r="1.85"/><circle cx="582.16" cy="81.24" r="1.85"/><circle cx="582.60" cy="81.67" r="1.85"/><circle cx="583.05" cy="81.60" r="1.85"/><circle cx="583.49" cy="81.39" r="1.85"/><circle cx="583.94" cy="81.97" r="1.85"/><circle cx="584.39" cy="81.86" r="1.85"/><circle cx="584.83" cy="81.79" r="1.85"/><circle cx="585.28" cy="81.87" r="1.85"/><circle cx="585.73" cy="82.12" r="1.85"/><circle cx="586.17" cy="82.61" r="1.85"/><circle cx="586.62" cy="82.69" r="1.85"/><circle cx="587.06" cy="82.46" r="1.85"/><circle cx="587.51" cy="82.53" r="1.85"/><circle cx="587.96" cy="82.16" r="1.85"/><circle cx="588.40" cy="82.98" r="1.85"/><circle cx="588.85" cy="82.65" r="1.85"/><circle cx="589.30" cy="82.82" r="1.85"/><circle cx="589.74" cy="83.44" r="1.85"/><circle cx="590.19" cy="83.35" r="1.85"/><circle cx="590.64" cy="83.23" r="1.85"/><circle cx="591.08" cy="83.47" r="1.85"/><circle cx="591.53" cy="83.49" r="1.85"/><circle cx="591.97" cy="83.47" r="1.85"/><circle cx="592.42" cy="83.87" r="1.85"/><circle cx="592.87" cy="83.72" r="1.85"/><circle cx="593.31" cy="84.08" r="1.85"/><circle cx="593.76" cy="84.19" r="1.85"/><circle cx="594.21" cy="84.08" r="1.85"/><circle cx="594.65" cy="84.45" r="1.85"/><circle cx="595.10" cy="84.39" r="1.85"/><circle cx="595.54" cy="84.23" r="1.85"/><circle cx="595.99" cy="84.70" r="1.85"/><circle cx="596.44" cy="84.86" r="1.85"/><circle cx="596.88" cy="84.80" r="1.85"/><circle cx="597.33" cy="85.16" r="1.85"/><circle cx="597.78" cy="84.97" r="1.85"/><circle cx="598.22" cy="85.60" r="1.85"/><circle cx="598.67" cy="85.32" r="1.85"/><circle cx="599.11" cy="85.69" r="1.85"/><circle cx="599.56" cy="85.88" r="1.85"/><circle cx="600.01" cy="85.46" r="1.85"/><circle cx="600.45" cy="86.14" r="1.85"/><circle cx="600.90" cy="85.71" r="1.85"/><circle cx="601.35" cy="86.07" r="1.85"/><circle cx="601.79" cy="86.03" r="1.85"/><circle cx="602.24" cy="86.67" r="1.85"/><circle cx="602.69" cy="86.33" r="1.85"/><circle cx="603.13" cy="86.40" r="1.85"/><circle cx="603.58" cy="86.87" r="1.85"/><circle cx="604.02" cy="86.99" r="1.85"/><circle cx="604.47" cy="86.57" r="1.85"/><circle cx="604.92" cy="87.18" r="1.85"/><circle cx="605.36" cy="87.43" r="1.85"/><circle cx="605.81" cy="87.60" r="1.85"/><circle cx="606.26" cy="87.50" r="1.85"/><circle cx="606.70" cy="87.65" r="1.85"/></g>
<rect x="410.5" y="0.5" width="206.0" height="92.0" fill="none" stroke="#333333" stroke-width="1"/>
<line x1="408.2" x2="410.5" y1="70.10" y2="70.10" stroke="#333333" stroke-width="0.8"/>
<text x="407.50" y="71.70" font-size="4.6" text-anchor="end" fill="#5a5a5a">5</text>
<line x1="408.2" x2="410.5" y1="43.40" y2="43.40" stroke="#333333" stroke-width="0.8"/>
<text x="407.50" y="45.00" font-size="4.6" text-anchor="end" fill="#5a5a5a">10</text>
<line x1="408.2" x2="410.5" y1="16.70" y2="16.70" stroke="#333333" stroke-width="0.8"/>
<text x="407.50" y="18.30" font-size="4.6" text-anchor="end" fill="#5a5a5a">15</text>
<line x1="419.70" x2="419.70" y1="92.5" y2="94.8" stroke="#333333" stroke-width="0.8"/>
<text x="419.70" y="98.70" font-size="4.6" text-anchor="middle" fill="#5a5a5a">0</text>
<line x1="482.03" x2="482.03" y1="92.5" y2="94.8" stroke="#333333" stroke-width="0.8"/>
<text x="482.03" y="98.70" font-size="4.6" text-anchor="middle" fill="#5a5a5a">200</text>
<line x1="544.37" x2="544.37" y1="92.5" y2="94.8" stroke="#333333" stroke-width="0.8"/>
<text x="544.37" y="98.70" font-size="4.6" text-anchor="middle" fill="#5a5a5a">400</text>
<line x1="606.70" x2="606.70" y1="92.5" y2="94.8" stroke="#333333" stroke-width="0.8"/>
<text x="606.70" y="98.70" font-size="4.6" text-anchor="middle" fill="#5a5a5a">600</text>
<text x="517.00" y="105.60" font-size="5.7" font-weight="bold" text-anchor="middle" fill="#000">Remove Nodes</text>
<text x="400.20" y="44.40" font-size="5.6" font-weight="bold" text-anchor="middle" fill="#000" transform="rotate(-90 400.2 44.4)">Average Degree</text>
<text x="606.00" y="9.60" font-size="4.6" text-anchor="end" fill="#FC8D62">R<tspan font-size="3" dy="-1.6">2</tspan><tspan dy="1.6"> = 0.982, </tspan><tspan font-style="italic">P</tspan> &lt; 0.001</text>
<text x="606.00" y="13.80" font-size="4.6" text-anchor="end" fill="#66C2A5">R<tspan font-size="3" dy="-1.6">2</tspan><tspan dy="1.6"> = 0.966, </tspan><tspan font-style="italic">P</tspan> &lt; 0.001</text>
<line x1="410.5" x2="616.5" y1="189.35" y2="189.35" stroke="#F1F1F1" stroke-width="0.6"/>
<line x1="410.5" x2="616.5" y1="162.45" y2="162.45" stroke="#F1F1F1" stroke-width="0.6"/>
<line x1="410.5" x2="616.5" y1="135.55" y2="135.55" stroke="#F1F1F1" stroke-width="0.6"/>
<line x1="450.87" x2="450.87" y1="112.5" y2="204.5" stroke="#F1F1F1" stroke-width="0.6"/>
<line x1="513.20" x2="513.20" y1="112.5" y2="204.5" stroke="#F1F1F1" stroke-width="0.6"/>
<line x1="575.53" x2="575.53" y1="112.5" y2="204.5" stroke="#F1F1F1" stroke-width="0.6"/>
<line x1="410.5" x2="616.5" y1="202.80" y2="202.80" stroke="#E6E6E6" stroke-width="0.9"/>
<line x1="410.5" x2="616.5" y1="175.90" y2="175.90" stroke="#E6E6E6" stroke-width="0.9"/>
<line x1="410.5" x2="616.5" y1="149.00" y2="149.00" stroke="#E6E6E6" stroke-width="0.9"/>
<line x1="410.5" x2="616.5" y1="122.10" y2="122.10" stroke="#E6E6E6" stroke-width="0.9"/>
<line x1="419.70" x2="419.70" y1="112.5" y2="204.5" stroke="#E6E6E6" stroke-width="0.9"/>
<line x1="482.03" x2="482.03" y1="112.5" y2="204.5" stroke="#E6E6E6" stroke-width="0.9"/>
<line x1="544.37" x2="544.37" y1="112.5" y2="204.5" stroke="#E6E6E6" stroke-width="0.9"/>
<line x1="606.70" x2="606.70" y1="112.5" y2="204.5" stroke="#E6E6E6" stroke-width="0.9"/>
<g fill="#66C2A5" fill-opacity="0.36"><circle cx="419.70" cy="114.87" r="1.7"/><circle cx="420.06" cy="117.10" r="1.7"/><circle cx="420.42" cy="116.90" r="1.7"/><circle cx="420.78" cy="116.18" r="1.7"/><circle cx="421.14" cy="117.56" r="1.7"/><circle cx="421.50" cy="118.05" r="1.7"/><circle cx="421.86" cy="117.82" r="1.7"/><circle cx="422.22" cy="117.49" r="1.7"/><circle cx="422.58" cy="118.88" r="1.7"/><circle cx="422.94" cy="117.97" r="1.7"/><circle cx="423.30" cy="118.34" r="1.7"/><circle cx="423.66" cy="119.30" r="1.7"/><circle cx="424.02" cy="117.93" r="1.7"/><circle cx="424.38" cy="120.29" r="1.7"/><circle cx="424.74" cy="118.97" r="1.7"/><circle cx="425.10" cy="120.65" r="1.7"/><circle cx="425.46" cy="120.06" r="1.7"/><circle cx="425.83" cy="122.89" r="1.7"/><circle cx="426.19" cy="121.56" r="1.7"/><circle cx="426.55" cy="121.99" r="1.7"/><circle cx="426.91" cy="122.71" r="1.7"/><circle cx="427.27" cy="123.13" r="1.7"/><circle cx="427.63" cy="123.12" r="1.7"/><circle cx="427.99" cy="123.63" r="1.7"/><circle cx="428.35" cy="125.42" r="1.7"/><circle cx="428.71" cy="124.13" r="1.7"/><circle cx="429.07" cy="124.45" r="1.7"/><circle cx="429.43" cy="124.21" r="1.7"/><circle cx="429.79" cy="124.81" r="1.7"/><circle cx="430.15" cy="123.65" r="1.7"/><circle cx="430.51" cy="122.92" r="1.7"/><circle cx="430.87" cy="123.85" r="1.7"/><circle cx="431.23" cy="123.44" r="1.7"/><circle cx="431.59" cy="121.29" r="1.7"/><circle cx="431.95" cy="121.77" r="1.7"/><circle cx="432.31" cy="121.56" r="1.7"/><circle cx="432.67" cy="121.32" r="1.7"/><circle cx="433.03" cy="123.06" r="1.7"/><circle cx="433.39" cy="122.76" r="1.7"/><circle cx="433.75" cy="120.99" r="1.7"/><circle cx="434.11" cy="122.49" r="1.7"/><circle cx="434.47" cy="121.82" r="1.7"/><circle cx="434.83" cy="121.28" r="1.7"/><circle cx="435.19" cy="121.31" r="1.7"/><circle cx="435.55" cy="121.61" r="1.7"/><circle cx="435.91" cy="120.10" r="1.7"/><circle cx="436.27" cy="121.63" r="1.7"/><circle cx="436.63" cy="121.08" r="1.7"/><circle cx="436.99" cy="120.93" r="1.7"/><circle cx="437.36" cy="120.70" r="1.7"/><circle cx="437.72" cy="120.86" r="1.7"/><circle cx="438.08" cy="123.06" r="1.7"/><circle cx="438.44" cy="123.15" r="1.7"/><circle cx="438.80" cy="122.34" r="1.7"/><circle cx="439.16" cy="121.07" r="1.7"/><circle cx="439.52" cy="120.15" r="1.7"/><circle cx="439.88" cy="123.65" r="1.7"/><circle cx="440.24" cy="121.28" r="1.7"/><circle cx="440.60" cy="122.88" r="1.7"/><circle cx="440.96" cy="122.47" r="1.7"/><circle cx="441.32" cy="122.34" r="1.7"/><circle cx="441.68" cy="121.16" r="1.7"/><circle cx="442.04" cy="121.63" r="1.7"/><circle cx="442.40" cy="120.10" r="1.7"/><circle cx="442.76" cy="123.14" r="1.7"/><circle cx="443.12" cy="120.56" r="1.7"/><circle cx="443.48" cy="120.38" r="1.7"/><circle cx="443.84" cy="121.69" r="1.7"/><circle cx="444.20" cy="121.02" r="1.7"/><circle cx="444.56" cy="122.63" r="1.7"/><circle cx="444.92" cy="123.60" r="1.7"/><circle cx="445.28" cy="122.76" r="1.7"/><circle cx="445.64" cy="123.90" r="1.7"/><circle cx="446.00" cy="119.20" r="1.7"/><circle cx="446.36" cy="124.00" r="1.7"/><circle cx="446.72" cy="121.52" r="1.7"/><circle cx="447.08" cy="123.56" r="1.7"/><circle cx="447.44" cy="123.15" r="1.7"/><circle cx="447.80" cy="122.67" r="1.7"/><circle cx="448.16" cy="124.40" r="1.7"/><circle cx="448.52" cy="122.44" r="1.7"/><circle cx="448.89" cy="123.59" r="1.7"/><circle cx="449.25" cy="125.77" r="1.7"/><circle cx="449.61" cy="122.73" r="1.7"/><circle cx="449.97" cy="122.58" r="1.7"/><circle cx="450.33" cy="123.06" r="1.7"/><circle cx="450.69" cy="121.27" r="1.7"/><circle cx="451.05" cy="124.36" r="1.7"/><circle cx="451.41" cy="123.34" r="1.7"/><circle cx="451.77" cy="123.52" r="1.7"/><circle cx="452.13" cy="126.08" r="1.7"/><circle cx="452.49" cy="123.77" r="1.7"/><circle cx="452.85" cy="128.51" r="1.7"/><circle cx="453.21" cy="129.27" r="1.7"/><circle cx="453.57" cy="126.67" r="1.7"/><circle cx="453.93" cy="129.82" r="1.7"/><circle cx="454.29" cy="129.18" r="1.7"/><circle cx="454.65" cy="132.24" r="1.7"/><circle cx="455.01" cy="130.23" r="1.7"/><circle cx="455.37" cy="132.90" r="1.7"/><circle cx="455.73" cy="131.14" r="1.7"/><circle cx="456.09" cy="134.63" r="1.7"/><circle cx="456.45" cy="132.15" r="1.7"/><circle cx="456.81" cy="133.96" r="1.7"/><circle cx="457.17" cy="133.80" r="1.7"/><circle cx="457.53" cy="134.54" r="1.7"/><circle cx="457.89" cy="134.58" r="1.7"/><circle cx="458.25" cy="137.19" r="1.7"/><circle cx="458.61" cy="139.49" r="1.7"/><circle cx="458.97" cy="136.53" r="1.7"/><circle cx="459.33" cy="138.64" r="1.7"/><circle cx="459.69" cy="138.51" r="1.7"/><circle cx="460.05" cy="137.19" r="1.7"/><circle cx="460.42" cy="141.68" r="1.7"/><circle cx="460.78" cy="139.63" r="1.7"/><circle cx="461.14" cy="139.16" r="1.7"/><circle cx="461.50" cy="139.71" r="1.7"/><circle cx="461.86" cy="136.77" r="1.7"/><circle cx="462.22" cy="137.43" r="1.7"/><circle cx="462.58" cy="137.96" r="1.7"/><circle cx="462.94" cy="138.54" r="1.7"/><circle cx="463.30" cy="135.90" r="1.7"/><circle cx="463.66" cy="137.62" r="1.7"/><circle cx="464.02" cy="135.10" r="1.7"/><circle cx="464.38" cy="134.91" r="1.7"/><circle cx="464.74" cy="138.67" r="1.7"/><circle cx="465.10" cy="136.91" r="1.7"/><circle cx="465.46" cy="135.30" r="1.7"/><circle cx="465.82" cy="134.15" r="1.7"/><circle cx="466.18" cy="133.40" r="1.7"/><circle cx="466.54" cy="132.99" r="1.7"/><circle cx="466.90" cy="133.16" r="1.7"/><circle cx="467.26" cy="136.99" r="1.7"/><circle cx="467.62" cy="137.74" r="1.7"/><circle cx="467.98" cy="136.07" r="1.7"/><circle cx="468.34" cy="138.83" r="1.7"/><circle cx="468.70" cy="136.89" r="1.7"/><circle cx="469.06" cy="142.11" r="1.7"/><circle cx="469.42" cy="138.80" r="1.7"/><circle cx="469.78" cy="141.06" r="1.7"/><circle cx="470.14" cy="144.84" r="1.7"/><circle cx="470.50" cy="139.96" r="1.7"/><circle cx="470.86" cy="141.17" r="1.7"/><circle cx="471.22" cy="142.26" r="1.7"/><circle cx="471.58" cy="144.01" r="1.7"/><circle cx="471.95" cy="142.69" r="1.7"/><circle cx="472.31" cy="138.90" r="1.7"/><circle cx="472.67" cy="143.48" r="1.7"/><circle cx="473.03" cy="149.06" r="1.7"/><circle cx="473.39" cy="144.72" r="1.7"/><circle cx="473.75" cy="146.06" r="1.7"/><circle cx="474.11" cy="144.92" r="1.7"/><circle cx="474.47" cy="146.00" r="1.7"/><circle cx="474.83" cy="147.79" r="1.7"/><circle cx="475.19" cy="147.51" r="1.7"/><circle cx="475.55" cy="144.21" r="1.7"/><circle cx="475.91" cy="149.78" r="1.7"/><circle cx="476.27" cy="144.50" r="1.7"/><circle cx="476.63" cy="149.84" r="1.7"/><circle cx="476.99" cy="151.54" r="1.7"/><circle cx="477.35" cy="148.73" r="1.7"/><circle cx="477.71" cy="150.03" r="1.7"/><circle cx="478.07" cy="154.49" r="1.7"/><circle cx="478.43" cy="150.96" r="1.7"/><circle cx="478.79" cy="156.46" r="1.7"/><circle cx="479.15" cy="153.51" r="1.7"/><circle cx="479.51" cy="149.30" r="1.7"/><circle cx="479.87" cy="152.04" r="1.7"/><circle cx="480.23" cy="153.43" r="1.7"/><circle cx="480.59" cy="149.64" r="1.7"/><circle cx="480.95" cy="148.69" r="1.7"/><circle cx="481.31" cy="150.71" r="1.7"/><circle cx="481.67" cy="154.57" r="1.7"/><circle cx="482.03" cy="150.82" r="1.7"/><circle cx="482.39" cy="148.77" r="1.7"/><circle cx="482.75" cy="147.29" r="1.7"/><circle cx="483.11" cy="145.24" r="1.7"/><circle cx="483.48" cy="149.65" r="1.7"/><circle cx="483.84" cy="150.54" r="1.7"/><circle cx="484.20" cy="149.15" r="1.7"/><circle cx="484.56" cy="147.14" r="1.7"/><circle cx="484.92" cy="151.37" r="1.7"/><circle cx="485.28" cy="146.06" r="1.7"/><circle cx="485.64" cy="154.07" r="1.7"/><circle cx="486.00" cy="146.96" r="1.7"/><circle cx="486.36" cy="149.62" r="1.7"/><circle cx="486.72" cy="147.53" r="1.7"/><circle cx="487.08" cy="147.36" r="1.7"/><circle cx="487.44" cy="151.97" r="1.7"/><circle cx="487.80" cy="148.94" r="1.7"/><circle cx="488.16" cy="147.40" r="1.7"/><circle cx="488.52" cy="147.15" r="1.7"/><circle cx="488.88" cy="151.14" r="1.7"/><circle cx="489.24" cy="151.70" r="1.7"/><circle cx="489.60" cy="152.85" r="1.7"/><circle cx="489.96" cy="142.84" r="1.7"/><circle cx="490.32" cy="149.55" r="1.7"/><circle cx="490.68" cy="150.81" r="1.7"/><circle cx="491.04" cy="154.24" r="1.7"/><circle cx="491.40" cy="148.46" r="1.7"/><circle cx="491.76" cy="151.16" r="1.7"/><circle cx="492.12" cy="147.18" r="1.7"/><circle cx="492.48" cy="149.17" r="1.7"/><circle cx="492.84" cy="151.59" r="1.7"/><circle cx="493.20" cy="151.15" r="1.7"/><circle cx="493.56" cy="155.10" r="1.7"/><circle cx="493.92" cy="154.04" r="1.7"/><circle cx="494.28" cy="154.28" r="1.7"/><circle cx="494.64" cy="156.79" r="1.7"/><circle cx="495.01" cy="154.19" r="1.7"/><circle cx="495.37" cy="154.13" r="1.7"/><circle cx="495.73" cy="150.55" r="1.7"/><circle cx="496.09" cy="161.09" r="1.7"/><circle cx="496.45" cy="154.57" r="1.7"/><circle cx="496.81" cy="155.50" r="1.7"/><circle cx="497.17" cy="153.84" r="1.7"/><circle cx="497.53" cy="151.08" r="1.7"/><circle cx="497.89" cy="151.89" r="1.7"/><circle cx="498.25" cy="151.59" r="1.7"/><circle cx="498.61" cy="152.36" r="1.7"/><circle cx="498.97" cy="149.50" r="1.7"/><circle cx="499.33" cy="150.65" r="1.7"/><circle cx="499.69" cy="156.13" r="1.7"/><circle cx="500.05" cy="152.25" r="1.7"/><circle cx="500.41" cy="154.15" r="1.7"/><circle cx="500.77" cy="154.25" r="1.7"/><circle cx="501.13" cy="151.21" r="1.7"/><circle cx="501.49" cy="152.17" r="1.7"/><circle cx="501.85" cy="151.79" r="1.7"/><circle cx="502.21" cy="153.68" r="1.7"/><circle cx="502.57" cy="152.56" r="1.7"/><circle cx="502.93" cy="154.24" r="1.7"/><circle cx="503.29" cy="150.35" r="1.7"/><circle cx="503.65" cy="148.39" r="1.7"/><circle cx="504.01" cy="145.32" r="1.7"/><circle cx="504.37" cy="146.95" r="1.7"/><circle cx="504.73" cy="153.03" r="1.7"/><circle cx="505.09" cy="152.84" r="1.7"/><circle cx="505.45" cy="154.57" r="1.7"/><circle cx="505.81" cy="151.47" r="1.7"/><circle cx="506.17" cy="147.39" r="1.7"/><circle cx="506.54" cy="149.90" r="1.7"/><circle cx="506.90" cy="157.47" r="1.7"/><circle cx="507.26" cy="155.93" r="1.7"/><circle cx="507.62" cy="155.43" r="1.7"/><circle cx="507.98" cy="150.58" r="1.7"/><circle cx="508.34" cy="152.23" r="1.7"/><circle cx="508.70" cy="152.22" r="1.7"/><circle cx="509.06" cy="149.71" r="1.7"/><circle cx="509.42" cy="157.30" r="1.7"/><circle cx="509.78" cy="157.04" r="1.7"/><circle cx="510.14" cy="150.34" r="1.7"/><circle cx="510.50" cy="155.54" r="1.7"/><circle cx="510.86" cy="158.54" r="1.7"/><circle cx="511.22" cy="161.89" r="1.7"/><circle cx="511.58" cy="160.42" r="1.7"/><circle cx="511.94" cy="162.76" r="1.7"/><circle cx="512.30" cy="155.56" r="1.7"/><circle cx="512.66" cy="156.46" r="1.7"/><circle cx="513.02" cy="153.67" r="1.7"/><circle cx="513.38" cy="157.46" r="1.7"/><circle cx="513.74" cy="158.51" r="1.7"/><circle cx="514.10" cy="158.52" r="1.7"/><circle cx="514.46" cy="151.20" r="1.7"/><circle cx="514.82" cy="160.62" r="1.7"/><circle cx="515.18" cy="155.40" r="1.7"/><circle cx="515.54" cy="155.20" r="1.7"/><circle cx="515.90" cy="153.16" r="1.7"/><circle cx="516.26" cy="156.02" r="1.7"/><circle cx="516.62" cy="153.97" r="1.7"/><circle cx="516.98" cy="153.60" r="1.7"/><circle cx="517.34" cy="156.58" r="1.7"/><circle cx="517.70" cy="157.54" r="1.7"/><circle cx="518.07" cy="156.77" r="1.7"/><circle cx="518.43" cy="157.16" r="1.7"/><circle cx="518.79" cy="154.80" r="1.7"/><circle cx="519.15" cy="154.76" r="1.7"/><circle cx="519.51" cy="154.00" r="1.7"/><circle cx="519.87" cy="151.34" r="1.7"/><circle cx="520.23" cy="151.65" r="1.7"/><circle cx="520.59" cy="156.52" r="1.7"/><circle cx="520.95" cy="154.18" r="1.7"/><circle cx="521.31" cy="154.04" r="1.7"/><circle cx="521.67" cy="153.09" r="1.7"/><circle cx="522.03" cy="154.56" r="1.7"/><circle cx="522.39" cy="155.33" r="1.7"/><circle cx="522.75" cy="157.42" r="1.7"/><circle cx="523.11" cy="158.17" r="1.7"/><circle cx="523.47" cy="153.29" r="1.7"/><circle cx="523.83" cy="151.72" r="1.7"/><circle cx="524.19" cy="153.46" r="1.7"/><circle cx="524.55" cy="154.11" r="1.7"/><circle cx="524.91" cy="155.86" r="1.7"/><circle cx="525.27" cy="158.37" r="1.7"/><circle cx="525.63" cy="163.68" r="1.7"/><circle cx="525.99" cy="155.90" r="1.7"/><circle cx="526.35" cy="156.94" r="1.7"/><circle cx="526.71" cy="159.20" r="1.7"/><circle cx="527.07" cy="160.83" r="1.7"/><circle cx="527.43" cy="154.40" r="1.7"/><circle cx="527.79" cy="162.28" r="1.7"/><circle cx="528.15" cy="150.52" r="1.7"/><circle cx="528.51" cy="154.00" r="1.7"/><circle cx="528.87" cy="148.06" r="1.7"/><circle cx="529.23" cy="158.51" r="1.7"/><circle cx="529.60" cy="157.69" r="1.7"/><circle cx="529.96" cy="159.39" r="1.7"/><circle cx="530.32" cy="157.85" r="1.7"/><circle cx="530.68" cy="159.19" r="1.7"/><circle cx="531.04" cy="160.56" r="1.7"/><circle cx="531.40" cy="152.93" r="1.7"/><circle cx="531.76" cy="159.13" r="1.7"/><circle cx="532.12" cy="158.29" r="1.7"/><circle cx="532.48" cy="154.88" r="1.7"/><circle cx="532.84" cy="158.33" r="1.7"/><circle cx="533.20" cy="157.47" r="1.7"/><circle cx="533.56" cy="153.98" r="1.7"/><circle cx="533.92" cy="157.25" r="1.7"/><circle cx="534.28" cy="160.01" r="1.7"/><circle cx="534.64" cy="156.74" r="1.7"/><circle cx="535.00" cy="156.97" r="1.7"/><circle cx="535.36" cy="152.09" r="1.7"/><circle cx="535.72" cy="162.07" r="1.7"/><circle cx="536.08" cy="157.03" r="1.7"/><circle cx="536.44" cy="162.00" r="1.7"/><circle cx="536.80" cy="160.36" r="1.7"/><circle cx="537.16" cy="160.10" r="1.7"/><circle cx="537.52" cy="159.69" r="1.7"/><circle cx="537.88" cy="157.81" r="1.7"/><circle cx="538.24" cy="155.25" r="1.7"/><circle cx="538.60" cy="163.57" r="1.7"/><circle cx="538.96" cy="157.57" r="1.7"/><circle cx="539.32" cy="157.83" r="1.7"/><circle cx="539.68" cy="157.79" r="1.7"/><circle cx="540.04" cy="162.69" r="1.7"/><circle cx="540.40" cy="156.81" r="1.7"/><circle cx="540.76" cy="160.38" r="1.7"/><circle cx="541.13" cy="158.70" r="1.7"/><circle cx="541.49" cy="160.59" r="1.7"/><circle cx="541.85" cy="157.08" r="1.7"/><circle cx="542.21" cy="155.61" r="1.7"/><circle cx="542.57" cy="155.62" r="1.7"/><circle cx="542.93" cy="160.06" r="1.7"/><circle cx="543.29" cy="156.52" r="1.7"/><circle cx="543.65" cy="153.39" r="1.7"/><circle cx="544.01" cy="161.03" r="1.7"/><circle cx="544.37" cy="152.88" r="1.7"/><circle cx="544.73" cy="160.75" r="1.7"/><circle cx="545.09" cy="153.82" r="1.7"/><circle cx="545.45" cy="155.11" r="1.7"/><circle cx="545.81" cy="151.88" r="1.7"/><circle cx="546.17" cy="155.59" r="1.7"/><circle cx="546.53" cy="157.11" r="1.7"/><circle cx="546.89" cy="157.66" r="1.7"/><circle cx="547.25" cy="159.12" r="1.7"/><circle cx="547.61" cy="153.63" r="1.7"/><circle cx="547.97" cy="158.00" r="1.7"/><circle cx="548.33" cy="159.71" r="1.7"/><circle cx="548.69" cy="155.37" r="1.7"/><circle cx="549.05" cy="160.80" r="1.7"/><circle cx="549.41" cy="160.15" r="1.7"/><circle cx="549.77" cy="160.67" r="1.7"/><circle cx="550.13" cy="153.49" r="1.7"/><circle cx="550.49" cy="154.00" r="1.7"/><circle cx="550.85" cy="160.04" r="1.7"/><circle cx="551.21" cy="166.10" r="1.7"/><circle cx="551.57" cy="158.99" r="1.7"/><circle cx="551.93" cy="158.81" r="1.7"/><circle cx="552.29" cy="158.31" r="1.7"/><circle cx="552.66" cy="157.17" r="1.7"/><circle cx="553.02" cy="160.36" r="1.7"/><circle cx="553.38" cy="155.95" r="1.7"/><circle cx="553.74" cy="156.37" r="1.7"/><circle cx="554.10" cy="159.60" r="1.7"/><circle cx="554.46" cy="161.75" r="1.7"/><circle cx="554.82" cy="161.69" r="1.7"/><circle cx="555.18" cy="158.69" r="1.7"/><circle cx="555.54" cy="163.96" r="1.7"/><circle cx="555.90" cy="159.59" r="1.7"/><circle cx="556.26" cy="160.97" r="1.7"/><circle cx="556.62" cy="162.51" r="1.7"/><circle cx="556.98" cy="155.67" r="1.7"/><circle cx="557.34" cy="159.00" r="1.7"/><circle cx="557.70" cy="159.98" r="1.7"/><circle cx="558.06" cy="158.23" r="1.7"/><circle cx="558.42" cy="167.21" r="1.7"/><circle cx="558.78" cy="162.62" r="1.7"/><circle cx="559.14" cy="161.32" r="1.7"/><circle cx="559.50" cy="161.41" r="1.7"/><circle cx="559.86" cy="166.94" r="1.7"/><circle cx="560.22" cy="159.16" r="1.7"/><circle cx="560.58" cy="161.64" r="1.7"/><circle cx="560.94" cy="157.57" r="1.7"/><circle cx="561.30" cy="158.61" r="1.7"/><circle cx="561.66" cy="161.17" r="1.7"/><circle cx="562.02" cy="156.05" r="1.7"/><circle cx="562.38" cy="164.59" r="1.7"/><circle cx="562.74" cy="167.30" r="1.7"/><circle cx="563.10" cy="167.27" r="1.7"/><circle cx="563.46" cy="169.84" r="1.7"/><circle cx="563.82" cy="166.54" r="1.7"/><circle cx="564.19" cy="174.40" r="1.7"/><circle cx="564.55" cy="167.95" r="1.7"/><circle cx="564.91" cy="166.24" r="1.7"/><circle cx="565.27" cy="163.89" r="1.7"/><circle cx="565.63" cy="170.00" r="1.7"/><circle cx="565.99" cy="163.34" r="1.7"/><circle cx="566.35" cy="170.43" r="1.7"/><circle cx="566.71" cy="168.30" r="1.7"/><circle cx="567.07" cy="175.48" r="1.7"/><circle cx="567.43" cy="171.93" r="1.7"/><circle cx="567.79" cy="172.46" r="1.7"/><circle cx="568.15" cy="163.54" r="1.7"/><circle cx="568.51" cy="166.11" r="1.7"/><circle cx="568.87" cy="172.68" r="1.7"/><circle cx="569.23" cy="167.43" r="1.7"/><circle cx="569.59" cy="167.58" r="1.7"/><circle cx="569.95" cy="170.36" r="1.7"/><circle cx="570.31" cy="170.42" r="1.7"/><circle cx="570.67" cy="172.45" r="1.7"/><circle cx="571.03" cy="173.56" r="1.7"/><circle cx="571.39" cy="177.79" r="1.7"/><circle cx="571.75" cy="172.61" r="1.7"/><circle cx="572.11" cy="168.32" r="1.7"/><circle cx="572.47" cy="167.36" r="1.7"/><circle cx="572.83" cy="174.91" r="1.7"/><circle cx="573.19" cy="176.59" r="1.7"/><circle cx="573.55" cy="174.26" r="1.7"/><circle cx="573.91" cy="170.17" r="1.7"/><circle cx="574.27" cy="173.14" r="1.7"/><circle cx="574.63" cy="176.75" r="1.7"/><circle cx="574.99" cy="173.38" r="1.7"/><circle cx="575.35" cy="175.27" r="1.7"/><circle cx="575.72" cy="173.19" r="1.7"/><circle cx="576.08" cy="175.78" r="1.7"/><circle cx="576.44" cy="181.34" r="1.7"/><circle cx="576.80" cy="175.48" r="1.7"/><circle cx="577.16" cy="172.67" r="1.7"/><circle cx="577.52" cy="179.07" r="1.7"/><circle cx="577.88" cy="175.73" r="1.7"/><circle cx="578.24" cy="171.43" r="1.7"/><circle cx="578.60" cy="176.84" r="1.7"/><circle cx="578.96" cy="177.32" r="1.7"/><circle cx="579.32" cy="165.43" r="1.7"/><circle cx="579.68" cy="170.71" r="1.7"/><circle cx="580.04" cy="169.74" r="1.7"/><circle cx="580.40" cy="178.52" r="1.7"/><circle cx="580.76" cy="167.65" r="1.7"/><circle cx="581.12" cy="179.83" r="1.7"/><circle cx="581.48" cy="175.61" r="1.7"/><circle cx="581.84" cy="171.89" r="1.7"/><circle cx="582.20" cy="169.37" r="1.7"/><circle cx="582.56" cy="177.58" r="1.7"/><circle cx="582.92" cy="175.88" r="1.7"/><circle cx="583.28" cy="172.13" r="1.7"/><circle cx="583.64" cy="182.62" r="1.7"/><circle cx="584.00" cy="173.17" r="1.7"/><circle cx="584.36" cy="172.42" r="1.7"/><circle cx="584.72" cy="177.80" r="1.7"/><circle cx="585.08" cy="173.02" r="1.7"/><circle cx="585.44" cy="170.67" r="1.7"/><circle cx="585.80" cy="172.29" r="1.7"/><circle cx="586.16" cy="170.89" r="1.7"/><circle cx="586.52" cy="167.67" r="1.7"/><circle cx="586.88" cy="177.25" r="1.7"/><circle cx="587.25" cy="175.05" r="1.7"/><circle cx="587.61" cy="178.28" r="1.7"/><circle cx="587.97" cy="172.23" r="1.7"/><circle cx="588.33" cy="177.72" r="1.7"/><circle cx="588.69" cy="174.53" r="1.7"/><circle cx="589.05" cy="175.99" r="1.7"/><circle cx="589.41" cy="176.15" r="1.7"/><circle cx="589.77" cy="169.67" r="1.7"/><circle cx="590.13" cy="175.68" r="1.7"/><circle cx="590.49" cy="169.52" r="1.7"/><circle cx="590.85" cy="172.29" r="1.7"/><circle cx="591.21" cy="170.85" r="1.7"/><circle cx="591.57" cy="177.96" r="1.7"/><circle cx="591.93" cy="172.57" r="1.7"/><circle cx="592.29" cy="173.58" r="1.7"/><circle cx="592.65" cy="180.67" r="1.7"/><circle cx="593.01" cy="177.82" r="1.7"/><circle cx="593.37" cy="179.84" r="1.7"/><circle cx="593.73" cy="180.09" r="1.7"/><circle cx="594.09" cy="173.71" r="1.7"/><circle cx="594.45" cy="183.50" r="1.7"/><circle cx="594.81" cy="187.25" r="1.7"/><circle cx="595.17" cy="187.60" r="1.7"/><circle cx="595.53" cy="183.49" r="1.7"/><circle cx="595.89" cy="184.38" r="1.7"/><circle cx="596.25" cy="181.82" r="1.7"/><circle cx="596.61" cy="179.16" r="1.7"/><circle cx="596.97" cy="174.69" r="1.7"/><circle cx="597.33" cy="180.68" r="1.7"/><circle cx="597.69" cy="181.73" r="1.7"/><circle cx="598.05" cy="187.83" r="1.7"/><circle cx="598.41" cy="181.46" r="1.7"/><circle cx="598.78" cy="177.21" r="1.7"/><circle cx="599.14" cy="177.43" r="1.7"/><circle cx="599.50" cy="192.20" r="1.7"/><circle cx="599.86" cy="179.13" r="1.7"/><circle cx="600.22" cy="178.31" r="1.7"/><circle cx="600.58" cy="182.31" r="1.7"/><circle cx="600.94" cy="191.60" r="1.7"/><circle cx="601.30" cy="185.92" r="1.7"/><circle cx="601.66" cy="183.15" r="1.7"/><circle cx="602.02" cy="185.69" r="1.7"/><circle cx="602.38" cy="189.49" r="1.7"/><circle cx="602.74" cy="189.73" r="1.7"/><circle cx="603.10" cy="182.59" r="1.7"/><circle cx="603.46" cy="192.51" r="1.7"/><circle cx="603.82" cy="179.64" r="1.7"/><circle cx="604.18" cy="188.37" r="1.7"/><circle cx="604.54" cy="185.97" r="1.7"/><circle cx="604.90" cy="192.42" r="1.7"/><circle cx="605.26" cy="191.29" r="1.7"/><circle cx="605.62" cy="184.84" r="1.7"/><circle cx="605.98" cy="196.03" r="1.7"/><circle cx="606.34" cy="179.24" r="1.7"/><circle cx="606.70" cy="194.14" r="1.7"/></g>
<line x1="419.70" y1="119.28" x2="606.70" y2="185.72" stroke="#66C2A5" stroke-width="1.6" stroke-opacity="0.8"/>
<g fill="#FC8D62" fill-opacity="0.95"><circle cx="419.70" cy="169.49" r="1.9"/><circle cx="420.15" cy="169.26" r="1.9"/><circle cx="420.59" cy="169.24" r="1.9"/><circle cx="421.04" cy="169.27" r="1.9"/><circle cx="421.49" cy="169.66" r="1.9"/><circle cx="421.93" cy="169.71" r="1.9"/><circle cx="422.38" cy="169.81" r="1.9"/><circle cx="422.82" cy="170.00" r="1.9"/><circle cx="423.27" cy="170.61" r="1.9"/><circle cx="423.72" cy="169.79" r="1.9"/><circle cx="424.16" cy="170.07" r="1.9"/><circle cx="424.61" cy="170.19" r="1.9"/><circle cx="425.06" cy="170.49" r="1.9"/><circle cx="425.50" cy="170.36" r="1.9"/><circle cx="425.95" cy="170.53" r="1.9"/><circle cx="426.39" cy="170.64" r="1.9"/><circle cx="426.84" cy="170.43" r="1.9"/><circle cx="427.29" cy="171.26" r="1.9"/><circle cx="427.73" cy="170.84" r="1.9"/><circle cx="428.18" cy="171.28" r="1.9"/><circle cx="428.63" cy="171.18" r="1.9"/><circle cx="429.07" cy="170.81" r="1.9"/><circle cx="429.52" cy="171.52" r="1.9"/><circle cx="429.97" cy="171.30" r="1.9"/><circle cx="430.41" cy="171.47" r="1.9"/><circle cx="430.86" cy="171.11" r="1.9"/><circle cx="431.30" cy="171.65" r="1.9"/><circle cx="431.75" cy="171.88" r="1.9"/><circle cx="432.20" cy="171.35" r="1.9"/><circle cx="432.64" cy="171.62" r="1.9"/><circle cx="433.09" cy="171.65" r="1.9"/><circle cx="433.54" cy="171.33" r="1.9"/><circle cx="433.98" cy="171.88" r="1.9"/><circle cx="434.43" cy="171.79" r="1.9"/><circle cx="434.87" cy="171.69" r="1.9"/><circle cx="435.32" cy="171.67" r="1.9"/><circle cx="435.77" cy="171.95" r="1.9"/><circle cx="436.21" cy="171.59" r="1.9"/><circle cx="436.66" cy="171.32" r="1.9"/><circle cx="437.11" cy="172.04" r="1.9"/><circle cx="437.55" cy="171.50" r="1.9"/><circle cx="438.00" cy="172.56" r="1.9"/><circle cx="438.44" cy="171.70" r="1.9"/><circle cx="438.89" cy="172.19" r="1.9"/><circle cx="439.34" cy="172.11" r="1.9"/><circle cx="439.78" cy="172.27" r="1.9"/><circle cx="440.23" cy="172.39" r="1.9"/><circle cx="440.68" cy="172.60" r="1.9"/><circle cx="441.12" cy="172.41" r="1.9"/><circle cx="441.57" cy="172.02" r="1.9"/><circle cx="442.02" cy="172.10" r="1.9"/><circle cx="442.46" cy="172.52" r="1.9"/><circle cx="442.91" cy="172.61" r="1.9"/><circle cx="443.35" cy="172.70" r="1.9"/><circle cx="443.80" cy="172.87" r="1.9"/><circle cx="444.25" cy="172.13" r="1.9"/><circle cx="444.69" cy="172.47" r="1.9"/><circle cx="445.14" cy="172.65" r="1.9"/><circle cx="445.59" cy="172.85" r="1.9"/><circle cx="446.03" cy="173.03" r="1.9"/><circle cx="446.48" cy="172.46" r="1.9"/><circle cx="446.92" cy="172.64" r="1.9"/><circle cx="447.37" cy="173.13" r="1.9"/><circle cx="447.82" cy="172.67" r="1.9"/><circle cx="448.26" cy="173.26" r="1.9"/><circle cx="448.71" cy="172.84" r="1.9"/><circle cx="449.16" cy="173.30" r="1.9"/><circle cx="449.60" cy="173.20" r="1.9"/><circle cx="450.05" cy="173.01" r="1.9"/><circle cx="450.50" cy="173.06" r="1.9"/><circle cx="450.94" cy="172.96" r="1.9"/><circle cx="451.39" cy="173.48" r="1.9"/><circle cx="451.83" cy="172.90" r="1.9"/><circle cx="452.28" cy="173.01" r="1.9"/><circle cx="452.73" cy="173.41" r="1.9"/><circle cx="453.17" cy="173.33" r="1.9"/><circle cx="453.62" cy="173.70" r="1.9"/><circle cx="454.07" cy="173.58" r="1.9"/><circle cx="454.51" cy="173.93" r="1.9"/><circle cx="454.96" cy="173.61" r="1.9"/><circle cx="455.40" cy="173.63" r="1.9"/><circle cx="455.85" cy="173.38" r="1.9"/><circle cx="456.30" cy="173.53" r="1.9"/><circle cx="456.74" cy="173.61" r="1.9"/><circle cx="457.19" cy="173.96" r="1.9"/><circle cx="457.64" cy="173.97" r="1.9"/><circle cx="458.08" cy="174.05" r="1.9"/><circle cx="458.53" cy="173.95" r="1.9"/><circle cx="458.97" cy="174.55" r="1.9"/><circle cx="459.42" cy="173.90" r="1.9"/><circle cx="459.87" cy="174.55" r="1.9"/><circle cx="460.31" cy="174.32" r="1.9"/><circle cx="460.76" cy="174.23" r="1.9"/><circle cx="461.21" cy="174.41" r="1.9"/><circle cx="461.65" cy="173.90" r="1.9"/><circle cx="462.10" cy="174.40" r="1.9"/><circle cx="462.55" cy="174.01" r="1.9"/><circle cx="462.99" cy="174.16" r="1.9"/><circle cx="463.44" cy="174.64" r="1.9"/><circle cx="463.88" cy="174.45" r="1.9"/><circle cx="464.33" cy="174.27" r="1.9"/><circle cx="464.78" cy="174.74" r="1.9"/><circle cx="465.22" cy="174.67" r="1.9"/><circle cx="465.67" cy="174.89" r="1.9"/><circle cx="466.12" cy="174.77" r="1.9"/><circle cx="466.56" cy="174.93" r="1.9"/><circle cx="467.01" cy="174.86" r="1.9"/><circle cx="467.45" cy="174.67" r="1.9"/><circle cx="467.90" cy="174.61" r="1.9"/><circle cx="468.35" cy="174.99" r="1.9"/><circle cx="468.79" cy="175.01" r="1.9"/><circle cx="469.24" cy="174.89" r="1.9"/><circle cx="469.69" cy="175.23" r="1.9"/><circle cx="470.13" cy="175.48" r="1.9"/><circle cx="470.58" cy="174.96" r="1.9"/><circle cx="471.03" cy="175.54" r="1.9"/><circle cx="471.47" cy="175.10" r="1.9"/><circle cx="471.92" cy="175.64" r="1.9"/><circle cx="472.36" cy="174.96" r="1.9"/><circle cx="472.81" cy="175.75" r="1.9"/><circle cx="473.26" cy="175.31" r="1.9"/><circle cx="473.70" cy="175.19" r="1.9"/><circle cx="474.15" cy="175.87" r="1.9"/><circle cx="474.60" cy="175.28" r="1.9"/><circle cx="475.04" cy="175.93" r="1.9"/><circle cx="475.49" cy="176.22" r="1.9"/><circle cx="475.93" cy="175.62" r="1.9"/><circle cx="476.38" cy="175.67" r="1.9"/><circle cx="476.83" cy="175.95" r="1.9"/><circle cx="477.27" cy="176.60" r="1.9"/><circle cx="477.72" cy="176.01" r="1.9"/><circle cx="478.17" cy="176.12" r="1.9"/><circle cx="478.61" cy="176.18" r="1.9"/><circle cx="479.06" cy="176.20" r="1.9"/><circle cx="479.50" cy="176.64" r="1.9"/><circle cx="479.95" cy="176.37" r="1.9"/><circle cx="480.40" cy="175.80" r="1.9"/><circle cx="480.84" cy="175.92" r="1.9"/><circle cx="481.29" cy="176.45" r="1.9"/><circle cx="481.74" cy="176.59" r="1.9"/><circle cx="482.18" cy="176.35" r="1.9"/><circle cx="482.63" cy="176.20" r="1.9"/><circle cx="483.08" cy="176.32" r="1.9"/><circle cx="483.52" cy="176.84" r="1.9"/><circle cx="483.97" cy="176.52" r="1.9"/><circle cx="484.41" cy="176.56" r="1.9"/><circle cx="484.86" cy="176.25" r="1.9"/><circle cx="485.31" cy="176.35" r="1.9"/><circle cx="485.75" cy="176.55" r="1.9"/><circle cx="486.20" cy="176.40" r="1.9"/><circle cx="486.65" cy="176.85" r="1.9"/><circle cx="487.09" cy="176.38" r="1.9"/><circle cx="487.54" cy="176.91" r="1.9"/><circle cx="487.98" cy="176.73" r="1.9"/><circle cx="488.43" cy="176.63" r="1.9"/><circle cx="488.88" cy="177.13" r="1.9"/><circle cx="489.32" cy="177.10" r="1.9"/><circle cx="489.77" cy="177.41" r="1.9"/><circle cx="490.22" cy="176.94" r="1.9"/><circle cx="490.66" cy="177.03" r="1.9"/><circle cx="491.11" cy="177.12" r="1.9"/><circle cx="491.56" cy="176.94" r="1.9"/><circle cx="492.00" cy="177.65" r="1.9"/><circle cx="492.45" cy="177.14" r="1.9"/><circle cx="492.89" cy="177.14" r="1.9"/><circle cx="493.34" cy="177.26" r="1.9"/><circle cx="493.79" cy="177.01" r="1.9"/><circle cx="494.23" cy="176.80" r="1.9"/><circle cx="494.68" cy="177.39" r="1.9"/><circle cx="495.13" cy="177.55" r="1.9"/><circle cx="495.57" cy="177.49" r="1.9"/><circle cx="496.02" cy="177.34" r="1.9"/><circle cx="496.46" cy="177.24" r="1.9"/><circle cx="496.91" cy="177.65" r="1.9"/><circle cx="497.36" cy="177.20" r="1.9"/><circle cx="497.80" cy="177.75" r="1.9"/><circle cx="498.25" cy="177.30" r="1.9"/><circle cx="498.70" cy="177.43" r="1.9"/><circle cx="499.14" cy="177.45" r="1.9"/><circle cx="499.59" cy="177.05" r="1.9"/><circle cx="500.03" cy="177.70" r="1.9"/><circle cx="500.48" cy="177.71" r="1.9"/><circle cx="500.93" cy="177.57" r="1.9"/><circle cx="501.37" cy="177.50" r="1.9"/><circle cx="501.82" cy="178.10" r="1.9"/><circle cx="502.27" cy="177.71" r="1.9"/><circle cx="502.71" cy="178.10" r="1.9"/><circle cx="503.16" cy="177.87" r="1.9"/><circle cx="503.61" cy="177.81" r="1.9"/><circle cx="504.05" cy="178.29" r="1.9"/><circle cx="504.50" cy="178.46" r="1.9"/><circle cx="504.94" cy="178.51" r="1.9"/><circle cx="505.39" cy="179.46" r="1.9"/><circle cx="505.84" cy="178.62" r="1.9"/><circle cx="506.28" cy="178.81" r="1.9"/><circle cx="506.73" cy="179.04" r="1.9"/><circle cx="507.18" cy="179.32" r="1.9"/><circle cx="507.62" cy="179.54" r="1.9"/><circle cx="508.07" cy="179.52" r="1.9"/><circle cx="508.51" cy="179.30" r="1.9"/><circle cx="508.96" cy="179.77" r="1.9"/><circle cx="509.41" cy="179.52" r="1.9"/><circle cx="509.85" cy="180.67" r="1.9"/><circle cx="510.30" cy="180.23" r="1.9"/><circle cx="510.75" cy="180.11" r="1.9"/><circle cx="511.19" cy="180.26" r="1.9"/><circle cx="511.64" cy="180.77" r="1.9"/><circle cx="512.09" cy="180.59" r="1.9"/><circle cx="512.53" cy="180.17" r="1.9"/><circle cx="512.98" cy="180.90" r="1.9"/><circle cx="513.42" cy="180.90" r="1.9"/><circle cx="513.87" cy="181.01" r="1.9"/><circle cx="514.32" cy="180.94" r="1.9"/><circle cx="514.76" cy="180.71" r="1.9"/><circle cx="515.21" cy="180.80" r="1.9"/><circle cx="515.66" cy="181.56" r="1.9"/><circle cx="516.10" cy="180.73" r="1.9"/><circle cx="516.55" cy="181.34" r="1.9"/><circle cx="516.99" cy="181.41" r="1.9"/><circle cx="517.44" cy="180.91" r="1.9"/><circle cx="517.89" cy="181.44" r="1.9"/><circle cx="518.33" cy="181.81" r="1.9"/><circle cx="518.78" cy="181.74" r="1.9"/><circle cx="519.23" cy="181.84" r="1.9"/><circle cx="519.67" cy="181.99" r="1.9"/><circle cx="520.12" cy="181.89" r="1.9"/><circle cx="520.57" cy="181.65" r="1.9"/><circle cx="521.01" cy="181.86" r="1.9"/><circle cx="521.46" cy="182.34" r="1.9"/><circle cx="521.90" cy="181.29" r="1.9"/><circle cx="522.35" cy="182.29" r="1.9"/><circle cx="522.80" cy="182.03" r="1.9"/><circle cx="523.24" cy="182.08" r="1.9"/><circle cx="523.69" cy="181.92" r="1.9"/><circle cx="524.14" cy="182.22" r="1.9"/><circle cx="524.58" cy="182.05" r="1.9"/><circle cx="525.03" cy="181.65" r="1.9"/><circle cx="525.47" cy="182.19" r="1.9"/><circle cx="525.92" cy="182.52" r="1.9"/><circle cx="526.37" cy="182.19" r="1.9"/><circle cx="526.81" cy="182.50" r="1.9"/><circle cx="527.26" cy="182.42" r="1.9"/><circle cx="527.71" cy="182.30" r="1.9"/><circle cx="528.15" cy="182.29" r="1.9"/><circle cx="528.60" cy="182.48" r="1.9"/><circle cx="529.04" cy="182.21" r="1.9"/><circle cx="529.49" cy="182.50" r="1.9"/><circle cx="529.94" cy="182.82" r="1.9"/><circle cx="530.38" cy="182.28" r="1.9"/><circle cx="530.83" cy="182.63" r="1.9"/><circle cx="531.28" cy="182.25" r="1.9"/><circle cx="531.72" cy="182.76" r="1.9"/><circle cx="532.17" cy="182.46" r="1.9"/><circle cx="532.62" cy="182.56" r="1.9"/><circle cx="533.06" cy="183.36" r="1.9"/><circle cx="533.51" cy="183.08" r="1.9"/><circle cx="533.95" cy="183.01" r="1.9"/><circle cx="534.40" cy="182.38" r="1.9"/><circle cx="534.85" cy="183.26" r="1.9"/><circle cx="535.29" cy="182.56" r="1.9"/><circle cx="535.74" cy="182.54" r="1.9"/><circle cx="536.19" cy="182.72" r="1.9"/><circle cx="536.63" cy="182.70" r="1.9"/><circle cx="537.08" cy="183.03" r="1.9"/><circle cx="537.52" cy="182.93" r="1.9"/><circle cx="537.97" cy="182.90" r="1.9"/><circle cx="538.42" cy="182.87" r="1.9"/><circle cx="538.86" cy="182.83" r="1.9"/><circle cx="539.31" cy="183.09" r="1.9"/><circle cx="539.76" cy="183.24" r="1.9"/><circle cx="540.20" cy="183.23" r="1.9"/><circle cx="540.65" cy="183.01" r="1.9"/><circle cx="541.10" cy="183.57" r="1.9"/><circle cx="541.54" cy="183.49" r="1.9"/><circle cx="541.99" cy="183.30" r="1.9"/><circle cx="542.43" cy="183.36" r="1.9"/><circle cx="542.88" cy="183.31" r="1.9"/><circle cx="543.33" cy="183.96" r="1.9"/><circle cx="543.77" cy="183.39" r="1.9"/><circle cx="544.22" cy="183.39" r="1.9"/><circle cx="544.67" cy="183.15" r="1.9"/><circle cx="545.11" cy="183.89" r="1.9"/><circle cx="545.56" cy="183.48" r="1.9"/><circle cx="546.00" cy="183.31" r="1.9"/><circle cx="546.45" cy="183.33" r="1.9"/><circle cx="546.90" cy="183.17" r="1.9"/><circle cx="547.34" cy="183.24" r="1.9"/><circle cx="547.79" cy="183.81" r="1.9"/><circle cx="548.24" cy="183.40" r="1.9"/><circle cx="548.68" cy="183.67" r="1.9"/><circle cx="549.13" cy="183.82" r="1.9"/><circle cx="549.57" cy="183.24" r="1.9"/><circle cx="550.02" cy="183.83" r="1.9"/><circle cx="550.47" cy="183.91" r="1.9"/><circle cx="550.91" cy="184.14" r="1.9"/><circle cx="551.36" cy="184.74" r="1.9"/><circle cx="551.81" cy="184.74" r="1.9"/><circle cx="552.25" cy="185.38" r="1.9"/><circle cx="552.70" cy="185.60" r="1.9"/><circle cx="553.15" cy="186.34" r="1.9"/><circle cx="553.59" cy="187.09" r="1.9"/><circle cx="554.04" cy="186.87" r="1.9"/><circle cx="554.48" cy="187.42" r="1.9"/><circle cx="554.93" cy="187.48" r="1.9"/><circle cx="555.38" cy="187.52" r="1.9"/><circle cx="555.82" cy="187.57" r="1.9"/><circle cx="556.27" cy="187.38" r="1.9"/><circle cx="556.72" cy="187.96" r="1.9"/><circle cx="557.16" cy="187.82" r="1.9"/><circle cx="557.61" cy="188.03" r="1.9"/><circle cx="558.05" cy="188.46" r="1.9"/><circle cx="558.50" cy="188.53" r="1.9"/><circle cx="558.95" cy="188.41" r="1.9"/><circle cx="559.39" cy="188.36" r="1.9"/><circle cx="559.84" cy="188.49" r="1.9"/><circle cx="560.29" cy="188.56" r="1.9"/><circle cx="560.73" cy="188.78" r="1.9"/><circle cx="561.18" cy="189.02" r="1.9"/><circle cx="561.63" cy="188.90" r="1.9"/><circle cx="562.07" cy="189.38" r="1.9"/><circle cx="562.52" cy="189.58" r="1.9"/><circle cx="562.96" cy="189.43" r="1.9"/><circle cx="563.41" cy="189.82" r="1.9"/><circle cx="563.86" cy="189.70" r="1.9"/><circle cx="564.30" cy="189.87" r="1.9"/><circle cx="564.75" cy="189.93" r="1.9"/><circle cx="565.20" cy="189.93" r="1.9"/><circle cx="565.64" cy="190.25" r="1.9"/><circle cx="566.09" cy="190.28" r="1.9"/><circle cx="566.53" cy="190.75" r="1.9"/><circle cx="566.98" cy="190.39" r="1.9"/><circle cx="567.43" cy="190.79" r="1.9"/><circle cx="567.87" cy="190.58" r="1.9"/><circle cx="568.32" cy="191.55" r="1.9"/><circle cx="568.77" cy="191.15" r="1.9"/><circle cx="569.21" cy="191.01" r="1.9"/><circle cx="569.66" cy="191.83" r="1.9"/><circle cx="570.10" cy="191.42" r="1.9"/><circle cx="570.55" cy="191.43" r="1.9"/><circle cx="571.00" cy="191.56" r="1.9"/><circle cx="571.44" cy="192.10" r="1.9"/><circle cx="571.89" cy="191.78" r="1.9"/><circle cx="572.34" cy="191.93" r="1.9"/><circle cx="572.78" cy="192.35" r="1.9"/><circle cx="573.23" cy="192.04" r="1.9"/><circle cx="573.68" cy="192.37" r="1.9"/><circle cx="574.12" cy="192.48" r="1.9"/><circle cx="574.57" cy="192.73" r="1.9"/><circle cx="575.01" cy="192.60" r="1.9"/><circle cx="575.46" cy="192.85" r="1.9"/><circle cx="575.91" cy="192.70" r="1.9"/><circle cx="576.35" cy="193.01" r="1.9"/><circle cx="576.80" cy="193.42" r="1.9"/><circle cx="577.25" cy="193.44" r="1.9"/><circle cx="577.69" cy="193.27" r="1.9"/><circle cx="578.14" cy="193.74" r="1.9"/><circle cx="578.58" cy="193.67" r="1.9"/><circle cx="579.03" cy="193.69" r="1.9"/><circle cx="579.48" cy="193.92" r="1.9"/><circle cx="579.92" cy="194.53" r="1.9"/><circle cx="580.37" cy="193.94" r="1.9"/><circle cx="580.82" cy="193.97" r="1.9"/><circle cx="581.26" cy="194.03" r="1.9"/><circle cx="581.71" cy="194.32" r="1.9"/><circle cx="582.16" cy="193.85" r="1.9"/><circle cx="582.60" cy="194.25" r="1.9"/><circle cx="583.05" cy="194.42" r="1.9"/><circle cx="583.49" cy="194.50" r="1.9"/><circle cx="583.94" cy="194.27" r="1.9"/><circle cx="584.39" cy="194.69" r="1.9"/><circle cx="584.83" cy="194.72" r="1.9"/><circle cx="585.28" cy="193.98" r="1.9"/><circle cx="585.73" cy="194.21" r="1.9"/><circle cx="586.17" cy="194.33" r="1.9"/><circle cx="586.62" cy="194.29" r="1.9"/><circle cx="587.06" cy="194.54" r="1.9"/><circle cx="587.51" cy="195.18" r="1.9"/><circle cx="587.96" cy="194.48" r="1.9"/><circle cx="588.40" cy="194.52" r="1.9"/><circle cx="588.85" cy="194.76" r="1.9"/><circle cx="589.30" cy="195.45" r="1.9"/><circle cx="589.74" cy="194.66" r="1.9"/><circle cx="590.19" cy="194.68" r="1.9"/><circle cx="590.64" cy="195.21" r="1.9"/><circle cx="591.08" cy="195.10" r="1.9"/><circle cx="591.53" cy="195.04" r="1.9"/><circle cx="591.97" cy="195.38" r="1.9"/><circle cx="592.42" cy="195.18" r="1.9"/><circle cx="592.87" cy="195.56" r="1.9"/><circle cx="593.31" cy="195.52" r="1.9"/><circle cx="593.76" cy="195.80" r="1.9"/><circle cx="594.21" cy="196.32" r="1.9"/><circle cx="594.65" cy="196.31" r="1.9"/><circle cx="595.10" cy="195.34" r="1.9"/><circle cx="595.54" cy="196.21" r="1.9"/><circle cx="595.99" cy="196.05" r="1.9"/><circle cx="596.44" cy="196.21" r="1.9"/><circle cx="596.88" cy="196.18" r="1.9"/><circle cx="597.33" cy="196.60" r="1.9"/><circle cx="597.78" cy="197.01" r="1.9"/><circle cx="598.22" cy="196.97" r="1.9"/><circle cx="598.67" cy="197.59" r="1.9"/><circle cx="599.11" cy="197.25" r="1.9"/><circle cx="599.56" cy="197.08" r="1.9"/><circle cx="600.01" cy="198.00" r="1.9"/><circle cx="600.45" cy="197.50" r="1.9"/><circle cx="600.90" cy="197.45" r="1.9"/><circle cx="601.35" cy="197.44" r="1.9"/><circle cx="601.79" cy="198.14" r="1.9"/><circle cx="602.24" cy="198.18" r="1.9"/><circle cx="602.69" cy="198.62" r="1.9"/><circle cx="603.13" cy="198.51" r="1.9"/><circle cx="603.58" cy="198.22" r="1.9"/><circle cx="604.02" cy="197.93" r="1.9"/><circle cx="604.47" cy="198.89" r="1.9"/><circle cx="604.92" cy="198.35" r="1.9"/><circle cx="605.36" cy="198.71" r="1.9"/><circle cx="605.81" cy="199.07" r="1.9"/><circle cx="606.26" cy="198.48" r="1.9"/><circle cx="606.70" cy="199.83" r="1.9"/></g>
<line x1="419.70" y1="169.18" x2="606.70" y2="197.15" stroke="#FC8D62" stroke-width="1.7"/>
<rect x="410.5" y="112.5" width="206.0" height="92.0" fill="none" stroke="#333333" stroke-width="1"/>
<line x1="408.2" x2="410.5" y1="202.80" y2="202.80" stroke="#333333" stroke-width="0.8"/>
<text x="407.50" y="204.40" font-size="4.6" text-anchor="end" fill="#5a5a5a">0</text>
<line x1="408.2" x2="410.5" y1="175.90" y2="175.90" stroke="#333333" stroke-width="0.8"/>
<text x="407.50" y="177.50" font-size="4.6" text-anchor="end" fill="#5a5a5a">20</text>
<line x1="408.2" x2="410.5" y1="149.00" y2="149.00" stroke="#333333" stroke-width="0.8"/>
<text x="407.50" y="150.60" font-size="4.6" text-anchor="end" fill="#5a5a5a">40</text>
<line x1="408.2" x2="410.5" y1="122.10" y2="122.10" stroke="#333333" stroke-width="0.8"/>
<text x="407.50" y="123.70" font-size="4.6" text-anchor="end" fill="#5a5a5a">60</text>
<line x1="419.70" x2="419.70" y1="204.5" y2="206.8" stroke="#333333" stroke-width="0.8"/>
<text x="419.70" y="210.80" font-size="4.6" text-anchor="middle" fill="#5a5a5a">0</text>
<line x1="482.03" x2="482.03" y1="204.5" y2="206.8" stroke="#333333" stroke-width="0.8"/>
<text x="482.03" y="210.80" font-size="4.6" text-anchor="middle" fill="#5a5a5a">200</text>
<line x1="544.37" x2="544.37" y1="204.5" y2="206.8" stroke="#333333" stroke-width="0.8"/>
<text x="544.37" y="210.80" font-size="4.6" text-anchor="middle" fill="#5a5a5a">400</text>
<line x1="606.70" x2="606.70" y1="204.5" y2="206.8" stroke="#333333" stroke-width="0.8"/>
<text x="606.70" y="210.80" font-size="4.6" text-anchor="middle" fill="#5a5a5a">600</text>
<text x="517.00" y="217.50" font-size="5.7" font-weight="bold" text-anchor="middle" fill="#000">Remove Nodes</text>
<text x="400.20" y="161.00" font-size="5.6" font-weight="bold" text-anchor="middle" fill="#000" transform="rotate(-90 400.2 161.0)">Natural Connectivity</text>
<text x="606.00" y="121.70" font-size="4.6" text-anchor="end" fill="#FC8D62">R<tspan font-size="3" dy="-1.6">2</tspan><tspan dy="1.6"> = 0.941, </tspan><tspan font-style="italic">P</tspan> &lt; 0.001</text>
<text x="606.00" y="126.20" font-size="4.6" text-anchor="end" fill="#66C2A5">R<tspan font-size="3" dy="-1.6">2</tspan><tspan dy="1.6"> = 0.943, </tspan><tspan font-style="italic">P</tspan> &lt; 0.001</text>
<rect x="618.5" y="3.8" width="8.2" height="2.20" fill="#66C2A5" fill-opacity="0.5" stroke="#66C2A5" stroke-width="0.6"/><rect x="618.5" y="6" width="17" height="2.50" fill="#66C2A5" fill-opacity="0.5" stroke="#66C2A5" stroke-width="0.6"/><rect x="618.5" y="8.5" width="10" height="2.50" fill="#66C2A5" fill-opacity="0.5" stroke="#66C2A5" stroke-width="0.6"/><rect x="618.5" y="11" width="6.4" height="2.50" fill="#66C2A5" fill-opacity="0.5" stroke="#66C2A5" stroke-width="0.6"/><rect x="618.5" y="13.5" width="5.7" height="2.50" fill="#66C2A5" fill-opacity="0.5" stroke="#66C2A5" stroke-width="0.6"/><rect x="618.5" y="16" width="5.7" height="2.50" fill="#66C2A5" fill-opacity="0.5" stroke="#66C2A5" stroke-width="0.6"/><rect x="618.5" y="18.5" width="7" height="2.50" fill="#66C2A5" fill-opacity="0.5" stroke="#66C2A5" stroke-width="0.6"/><rect x="618.5" y="21" width="7.6" height="2.50" fill="#66C2A5" fill-opacity="0.5" stroke="#66C2A5" stroke-width="0.6"/><rect x="618.5" y="23.5" width="7" height="2.50" fill="#66C2A5" fill-opacity="0.5" stroke="#66C2A5" stroke-width="0.6"/><rect x="618.5" y="26" width="6.5" height="2.50" fill="#66C2A5" fill-opacity="0.5" stroke="#66C2A5" stroke-width="0.6"/><rect x="618.5" y="28.5" width="7" height="2.50" fill="#66C2A5" fill-opacity="0.5" stroke="#66C2A5" stroke-width="0.6"/><rect x="618.5" y="31" width="8.3" height="2.50" fill="#66C2A5" fill-opacity="0.5" stroke="#66C2A5" stroke-width="0.6"/><rect x="618.5" y="33.5" width="9" height="2.50" fill="#66C2A5" fill-opacity="0.5" stroke="#66C2A5" stroke-width="0.6"/><rect x="618.5" y="36" width="13.4" height="2.50" fill="#66C2A5" fill-opacity="0.5" stroke="#66C2A5" stroke-width="0.6"/><rect x="618.5" y="38.5" width="11.5" height="2.50" fill="#66C2A5" fill-opacity="0.5" stroke="#66C2A5" stroke-width="0.6"/><rect x="618.5" y="41" width="12" height="2.50" fill="#66C2A5" fill-opacity="0.5" stroke="#66C2A5" stroke-width="0.6"/><rect x="618.5" y="43.5" width="18" height="2.80" fill="#66C2A5" fill-opacity="0.5" stroke="#66C2A5" stroke-width="0.6"/><rect x="618.5" y="47" width="27" height="2.10" fill="#66C2A5" fill-opacity="0.5" stroke="#66C2A5" stroke-width="0.6"/><rect x="618.5" y="49.1" width="30.5" height="2.10" fill="#66C2A5" fill-opacity="0.5" stroke="#66C2A5" stroke-width="0.6"/><rect x="618.5" y="51.9" width="32" height="2.10" fill="#66C2A5" fill-opacity="0.5" stroke="#66C2A5" stroke-width="0.6"/><rect x="618.5" y="54" width="26" height="2.00" fill="#66C2A5" fill-opacity="0.5" stroke="#66C2A5" stroke-width="0.6"/><rect x="618.5" y="56.8" width="22" height="2.10" fill="#66C2A5" fill-opacity="0.5" stroke="#66C2A5" stroke-width="0.6"/><rect x="618.5" y="59.6" width="18" height="2.10" fill="#66C2A5" fill-opacity="0.5" stroke="#66C2A5" stroke-width="0.6"/><rect x="618.5" y="62.4" width="14" height="2.80" fill="#66C2A5" fill-opacity="0.5" stroke="#66C2A5" stroke-width="0.6"/><rect x="618.5" y="65.2" width="12" height="2.10" fill="#66C2A5" fill-opacity="0.5" stroke="#66C2A5" stroke-width="0.6"/><rect x="618.5" y="68" width="37.5" height="2.80" fill="#66C2A5" fill-opacity="0.5" stroke="#66C2A5" stroke-width="0.6"/><rect x="618.5" y="73.6" width="12.3" height="2.80" fill="#66C2A5" fill-opacity="0.5" stroke="#66C2A5" stroke-width="0.6"/><rect x="618.5" y="46" width="12" height="3.00" fill="#FC8D62" fill-opacity="0.7" stroke="#FC8D62" stroke-width="0.6"/><rect x="618.5" y="49" width="20" height="2.90" fill="#FC8D62" fill-opacity="0.7" stroke="#FC8D62" stroke-width="0.6"/><rect x="618.5" y="51.9" width="28.5" height="2.10" fill="#FC8D62" fill-opacity="0.7" stroke="#FC8D62" stroke-width="0.6"/><rect x="618.5" y="54" width="25" height="2.80" fill="#FC8D62" fill-opacity="0.7" stroke="#FC8D62" stroke-width="0.6"/><rect x="618.5" y="56.8" width="22.8" height="2.80" fill="#FC8D62" fill-opacity="0.7" stroke="#FC8D62" stroke-width="0.6"/><rect x="618.5" y="59.6" width="20.7" height="2.80" fill="#FC8D62" fill-opacity="0.7" stroke="#FC8D62" stroke-width="0.6"/><rect x="618.5" y="62.4" width="17.2" height="2.80" fill="#FC8D62" fill-opacity="0.7" stroke="#FC8D62" stroke-width="0.6"/><rect x="618.5" y="65.2" width="15.8" height="2.80" fill="#FC8D62" fill-opacity="0.7" stroke="#FC8D62" stroke-width="0.6"/><rect x="618.5" y="68" width="28.4" height="2.80" fill="#FC8D62" fill-opacity="0.7" stroke="#FC8D62" stroke-width="0.6"/><rect x="618.5" y="70.8" width="11.6" height="2.80" fill="#FC8D62" fill-opacity="0.7" stroke="#FC8D62" stroke-width="0.6"/><rect x="618.5" y="73.6" width="10" height="2.80" fill="#FC8D62" fill-opacity="0.7" stroke="#FC8D62" stroke-width="0.6"/><rect x="618.5" y="76.4" width="9.5" height="2.80" fill="#FC8D62" fill-opacity="0.7" stroke="#FC8D62" stroke-width="0.6"/><rect x="618.5" y="79.2" width="18" height="2.80" fill="#FC8D62" fill-opacity="0.7" stroke="#FC8D62" stroke-width="0.6"/><rect x="618.5" y="82" width="18" height="3.50" fill="#FC8D62" fill-opacity="0.7" stroke="#FC8D62" stroke-width="0.6"/><rect x="618.5" y="85.5" width="9" height="2.80" fill="#FC8D62" fill-opacity="0.7" stroke="#FC8D62" stroke-width="0.6"/><polygon points="618.5,42 619.0,42.0 625.5,46.0 629.5,50.0 627.5,55.0 625.5,60.0 624.0,66.0 621.5,75.0 619.5,85.0 619.0,88.3 618.5,88.3" fill="#A8745A" fill-opacity="0.5"/>
<line x1="618.5" x2="618.5" y1="3.6" y2="88.3" stroke="#FC8D62" stroke-width="0.9"/>
<path d="M619 42 Q631 47 629 52 T624 64 T620 80 L619 88" fill="none" stroke="#66C2A5" stroke-width="1.1" stroke-opacity="0.9"/>
<rect x="618.5" y="116.5" width="4.4" height="2.50" fill="#66C2A5" fill-opacity="0.5" stroke="#66C2A5" stroke-width="0.6"/><rect x="618.5" y="119" width="7.5" height="2.50" fill="#66C2A5" fill-opacity="0.5" stroke="#66C2A5" stroke-width="0.6"/><rect x="618.5" y="121.5" width="10" height="2.50" fill="#66C2A5" fill-opacity="0.5" stroke="#66C2A5" stroke-width="0.6"/><rect x="618.5" y="124" width="3.8" height="2.50" fill="#66C2A5" fill-opacity="0.5" stroke="#66C2A5" stroke-width="0.6"/><rect x="618.5" y="126.5" width="3.2" height="2.50" fill="#66C2A5" fill-opacity="0.5" stroke="#66C2A5" stroke-width="0.6"/><rect x="618.5" y="129" width="2.8" height="2.50" fill="#66C2A5" fill-opacity="0.5" stroke="#66C2A5" stroke-width="0.6"/><rect x="618.5" y="131.5" width="3.2" height="2.50" fill="#66C2A5" fill-opacity="0.5" stroke="#66C2A5" stroke-width="0.6"/><rect x="618.5" y="134" width="3.8" height="2.50" fill="#66C2A5" fill-opacity="0.5" stroke="#66C2A5" stroke-width="0.6"/><rect x="618.5" y="136.5" width="4.5" height="2.50" fill="#66C2A5" fill-opacity="0.5" stroke="#66C2A5" stroke-width="0.6"/><rect x="618.5" y="139" width="3.8" height="2.50" fill="#66C2A5" fill-opacity="0.5" stroke="#66C2A5" stroke-width="0.6"/><rect x="618.5" y="141.5" width="4.5" height="2.50" fill="#66C2A5" fill-opacity="0.5" stroke="#66C2A5" stroke-width="0.6"/><rect x="618.5" y="144" width="5.7" height="2.50" fill="#66C2A5" fill-opacity="0.5" stroke="#66C2A5" stroke-width="0.6"/><rect x="618.5" y="146.5" width="8.3" height="2.50" fill="#66C2A5" fill-opacity="0.5" stroke="#66C2A5" stroke-width="0.6"/><rect x="618.5" y="149" width="7.6" height="2.50" fill="#66C2A5" fill-opacity="0.5" stroke="#66C2A5" stroke-width="0.6"/><rect x="618.5" y="151.5" width="8.3" height="2.50" fill="#66C2A5" fill-opacity="0.5" stroke="#66C2A5" stroke-width="0.6"/><rect x="618.5" y="154" width="9.5" height="2.50" fill="#66C2A5" fill-opacity="0.5" stroke="#66C2A5" stroke-width="0.6"/><rect x="618.5" y="156.5" width="11.5" height="2.50" fill="#66C2A5" fill-opacity="0.5" stroke="#66C2A5" stroke-width="0.6"/><rect x="618.5" y="159" width="13.4" height="3.60" fill="#66C2A5" fill-opacity="0.5" stroke="#66C2A5" stroke-width="0.6"/><rect x="618.5" y="162.6" width="10.3" height="2.60" fill="#66C2A5" fill-opacity="0.5" stroke="#66C2A5" stroke-width="0.6"/><rect x="618.5" y="165.2" width="7" height="2.50" fill="#66C2A5" fill-opacity="0.5" stroke="#66C2A5" stroke-width="0.6"/><rect x="618.5" y="167.7" width="11.5" height="1.90" fill="#66C2A5" fill-opacity="0.5" stroke="#66C2A5" stroke-width="0.6"/><rect x="618.5" y="171.5" width="22.3" height="1.90" fill="#66C2A5" fill-opacity="0.5" stroke="#66C2A5" stroke-width="0.6"/><rect x="618.5" y="174" width="37.5" height="3.30" fill="#66C2A5" fill-opacity="0.5" stroke="#66C2A5" stroke-width="0.6"/><rect x="618.5" y="182.4" width="21" height="2.60" fill="#66C2A5" fill-opacity="0.5" stroke="#66C2A5" stroke-width="0.6"/><rect x="618.5" y="165.8" width="4" height="1.90" fill="#FC8D62" fill-opacity="0.7" stroke="#FC8D62" stroke-width="0.6"/><rect x="618.5" y="167.7" width="9" height="1.90" fill="#FC8D62" fill-opacity="0.7" stroke="#FC8D62" stroke-width="0.6"/><rect x="618.5" y="169.6" width="16" height="1.90" fill="#FC8D62" fill-opacity="0.7" stroke="#FC8D62" stroke-width="0.6"/><rect x="618.5" y="171.5" width="20.3" height="2.50" fill="#FC8D62" fill-opacity="0.7" stroke="#FC8D62" stroke-width="0.6"/><rect x="618.5" y="174" width="32.4" height="3.30" fill="#FC8D62" fill-opacity="0.7" stroke="#FC8D62" stroke-width="0.6"/><rect x="618.5" y="177.3" width="16" height="2.50" fill="#FC8D62" fill-opacity="0.7" stroke="#FC8D62" stroke-width="0.6"/><rect x="618.5" y="179.8" width="16.6" height="2.60" fill="#FC8D62" fill-opacity="0.7" stroke="#FC8D62" stroke-width="0.6"/><rect x="618.5" y="182.4" width="17" height="2.60" fill="#FC8D62" fill-opacity="0.7" stroke="#FC8D62" stroke-width="0.6"/><rect x="618.5" y="185" width="14.8" height="2.50" fill="#FC8D62" fill-opacity="0.7" stroke="#FC8D62" stroke-width="0.6"/><rect x="618.5" y="187.5" width="7" height="2.50" fill="#FC8D62" fill-opacity="0.7" stroke="#FC8D62" stroke-width="0.6"/><rect x="618.5" y="190" width="5.7" height="2.50" fill="#FC8D62" fill-opacity="0.7" stroke="#FC8D62" stroke-width="0.6"/><rect x="618.5" y="192.5" width="10.3" height="2.50" fill="#FC8D62" fill-opacity="0.7" stroke="#FC8D62" stroke-width="0.6"/><rect x="618.5" y="195" width="9.5" height="2.60" fill="#FC8D62" fill-opacity="0.7" stroke="#FC8D62" stroke-width="0.6"/><rect x="618.5" y="197.6" width="10.3" height="3.20" fill="#FC8D62" fill-opacity="0.7" stroke="#FC8D62" stroke-width="0.6"/><polygon points="618.5,164 619.0,164.0 623.5,168.0 624.0,172.0 623.0,178.0 621.0,186.0 619.5,195.0 619.0,200.8 618.5,200.8" fill="#A8745A" fill-opacity="0.5"/>
<line x1="618.5" x2="618.5" y1="116.4" y2="201.5" stroke="#FC8D62" stroke-width="0.9"/>
<path d="M619 164 Q625 168 624 172 T621 186 L619.5 200" fill="none" stroke="#66C2A5" stroke-width="1.1" stroke-opacity="0.9"/>
<circle cx="349" cy="99.6" r="2.1" fill="#66C2A5" fill-opacity="0.55"/>
<circle cx="349" cy="110.9" r="2.1" fill="#FC8D62" fill-opacity="0.55"/>
<text x="358.20" y="101.70" font-size="5.85" font-weight="bold" text-anchor="start" fill="#000">Eukaryotes</text>
<text x="358.20" y="113.00" font-size="5.85" font-weight="bold" text-anchor="start" fill="#000">Prokaryotes</text>
<circle cx="629.3" cy="103" r="2.1" fill="#66C2A5" fill-opacity="0.55"/>
<circle cx="629.3" cy="113.3" r="2.1" fill="#FC8D62" fill-opacity="0.55"/>
<text x="637.80" y="105.00" font-size="5.15" font-weight="bold" text-anchor="start" fill="#000">Dynamic Phase</text>
<text x="637.80" y="115.30" font-size="5.15" font-weight="bold" text-anchor="start" fill="#000">Stabilization Phase</text>
<rect x="379.10" y="228.6" width="131.00" height="7.9" fill="#D6D6D6" stroke="#1a1a1a" stroke-width="0.9"/><rect x="379.10" y="236.8" width="131.00" height="130.90" fill="#fff"/><line x1="379.10" x2="379.10" y1="236.8" y2="367.70" stroke="#8f8f8f" stroke-width="0.9"/><line x1="392.20" x2="392.20" y1="236.8" y2="367.70" stroke="#8f8f8f" stroke-width="0.9"/><line x1="405.30" x2="405.30" y1="236.8" y2="367.70" stroke="#8f8f8f" stroke-width="0.9"/><line x1="418.40" x2="418.40" y1="236.8" y2="367.70" stroke="#8f8f8f" stroke-width="0.9"/><line x1="431.50" x2="431.50" y1="236.8" y2="367.70" stroke="#8f8f8f" stroke-width="0.9"/><line x1="444.60" x2="444.60" y1="236.8" y2="367.70" stroke="#8f8f8f" stroke-width="0.9"/><line x1="457.70" x2="457.70" y1="236.8" y2="367.70" stroke="#8f8f8f" stroke-width="0.9"/><line x1="470.80" x2="470.80" y1="236.8" y2="367.70" stroke="#8f8f8f" stroke-width="0.9"/><line x1="483.90" x2="483.90" y1="236.8" y2="367.70" stroke="#8f8f8f" stroke-width="0.9"/><line x1="497.00" x2="497.00" y1="236.8" y2="367.70" stroke="#8f8f8f" stroke-width="0.9"/><line x1="510.10" x2="510.10" y1="236.8" y2="367.70" stroke="#8f8f8f" stroke-width="0.9"/><line x1="379.10" x2="510.10" y1="236.80" y2="236.80" stroke="#8f8f8f" stroke-width="0.9"/><line x1="379.10" x2="510.10" y1="249.89" y2="249.89" stroke="#8f8f8f" stroke-width="0.9"/><line x1="379.10" x2="510.10" y1="262.98" y2="262.98" stroke="#8f8f8f" stroke-width="0.9"/><line x1="379.10" x2="510.10" y1="276.07" y2="276.07" stroke="#8f8f8f" stroke-width="0.9"/><line x1="379.10" x2="510.10" y1="289.16" y2="289.16" stroke="#8f8f8f" stroke-width="0.9"/><line x1="379.10" x2="510.10" y1="302.25" y2="302.25" stroke="#8f8f8f" stroke-width="0.9"/><line x1="379.10" x2="510.10" y1="315.34" y2="315.34" stroke="#8f8f8f" stroke-width="0.9"/><line x1="379.10" x2="510.10" y1="328.43" y2="328.43" stroke="#8f8f8f" stroke-width="0.9"/><line x1="379.10" x2="510.10" y1="341.52" y2="341.52" stroke="#8f8f8f" stroke-width="0.9"/><line x1="379.10" x2="510.10" y1="354.61" y2="354.61" stroke="#8f8f8f" stroke-width="0.9"/><line x1="379.10" x2="510.10" y1="367.70" y2="367.70" stroke="#8f8f8f" stroke-width="0.9"/><rect x="383.65" y="241.34" width="4" height="4" fill="#FAFDFC" stroke="#5a5a5a" stroke-width="0.75"/><rect x="394.75" y="239.34" width="8" height="8" fill="#FEE0D4" stroke="#5a5a5a" stroke-width="0.75"/><rect x="408.10" y="239.59" width="7.5" height="7.5" fill="#FEE3D8" stroke="#5a5a5a" stroke-width="0.75"/><rect x="421.80" y="240.19" width="6.3" height="6.3" fill="#E3F4EE" stroke="#5a5a5a" stroke-width="0.75"/><rect x="436.30" y="241.59" width="3.5" height="3.5" fill="#FAFDFC" stroke="#5a5a5a" stroke-width="0.75"/><rect x="446.65" y="238.84" width="9" height="9" fill="#CDEBE1" stroke="#5a5a5a" stroke-width="0.75"/><rect x="461.50" y="240.59" width="5.5" height="5.5" fill="#FFEEE8" stroke="#5a5a5a" stroke-width="0.75"/><rect x="475.15" y="241.15" width="4.4" height="4.4" fill="#FAFDFC" stroke="#5a5a5a" stroke-width="0.75"/><rect x="485.35" y="238.25" width="10.2" height="10.2" fill="#B7E2D5" stroke="#5a5a5a" stroke-width="0.75"/><text x="490.45" y="244.25" font-size="4.6" font-weight="bold" text-anchor="middle" fill="#222">*</text><rect x="499.40" y="239.19" width="8.3" height="8.3" fill="#FEDED2" stroke="#5a5a5a" stroke-width="0.75"/><rect x="384.65" y="255.44" width="2" height="2" fill="#444"/><rect x="394.50" y="252.19" width="8.5" height="8.5" fill="#FEDDD0" stroke="#5a5a5a" stroke-width="0.75"/><rect x="408.60" y="253.19" width="6.5" height="6.5" fill="#FEE9E0" stroke="#5a5a5a" stroke-width="0.75"/><rect x="422.70" y="254.19" width="4.5" height="4.5" fill="#FAFDFC" stroke="#5a5a5a" stroke-width="0.75"/><rect x="435.80" y="254.19" width="4.5" height="4.5" fill="#FAFDFC" stroke="#5a5a5a" stroke-width="0.75"/><rect x="447.40" y="252.69" width="7.5" height="7.5" fill="#D9F0E9" stroke="#5a5a5a" stroke-width="0.75"/><rect x="462.25" y="254.44" width="4" height="4" fill="#FAFDFC" stroke="#5a5a5a" stroke-width="0.75"/><rect x="474.85" y="253.94" width="5" height="5" fill="#FFF0EB" stroke="#5a5a5a" stroke-width="0.75"/><rect x="485.70" y="251.69" width="9.5" height="9.5" fill="#C8E9DF" stroke="#5a5a5a" stroke-width="0.75"/><rect x="498.80" y="251.69" width="9.5" height="9.5" fill="#FED6C7" stroke="#5a5a5a" stroke-width="0.75"/><rect x="383.65" y="267.53" width="4" height="4" fill="#FAFDFC" stroke="#5a5a5a" stroke-width="0.75"/><rect x="395.75" y="266.53" width="6" height="6" fill="#E5F5F0" stroke="#5a5a5a" stroke-width="0.75"/><rect x="407.10" y="264.78" width="9.5" height="9.5" fill="#C8E9DF" stroke="#5a5a5a" stroke-width="0.75"/><rect x="421.95" y="266.53" width="6" height="6" fill="#E5F5F0" stroke="#5a5a5a" stroke-width="0.75"/><rect x="434.30" y="265.78" width="7.5" height="7.5" fill="#D9F0E9" stroke="#5a5a5a" stroke-width="0.75"/><rect x="447.90" y="266.28" width="6.5" height="6.5" fill="#FEE9E0" stroke="#5a5a5a" stroke-width="0.75"/><rect x="462.25" y="267.53" width="4" height="4" fill="#FAFDFC" stroke="#5a5a5a" stroke-width="0.75"/><rect x="473.60" y="265.78" width="7.5" height="7.5" fill="#FEE3D8" stroke="#5a5a5a" stroke-width="0.75"/><rect x="488.45" y="267.53" width="4" height="4" fill="#FAFDFC" stroke="#5a5a5a" stroke-width="0.75"/><rect x="502.05" y="268.03" width="3" height="3" fill="#FAFDFC" stroke="#5a5a5a" stroke-width="0.75"/><rect x="383.90" y="280.87" width="3.5" height="3.5" fill="#FAFDFC" stroke="#5a5a5a" stroke-width="0.75"/><rect x="395.25" y="279.12" width="7" height="7" fill="#DDF2EB" stroke="#5a5a5a" stroke-width="0.75"/><rect x="409.10" y="279.87" width="5.5" height="5.5" fill="#E8F6F2" stroke="#5a5a5a" stroke-width="0.75"/><rect x="421.45" y="279.12" width="7" height="7" fill="#DDF2EB" stroke="#5a5a5a" stroke-width="0.75"/><rect x="433.30" y="277.87" width="9.5" height="9.5" fill="#FED6C7" stroke="#5a5a5a" stroke-width="0.75"/><rect x="447.40" y="278.87" width="7.5" height="7.5" fill="#FEE3D8" stroke="#5a5a5a" stroke-width="0.75"/><rect x="459.15" y="277.51" width="10.2" height="10.2" fill="#B7E2D5" stroke="#5a5a5a" stroke-width="0.75"/><text x="464.25" y="283.51" font-size="4.6" font-weight="bold" text-anchor="middle" fill="#222">*</text><rect x="474.60" y="279.87" width="5.5" height="5.5" fill="#E8F6F2" stroke="#5a5a5a" stroke-width="0.75"/><rect x="486.95" y="279.12" width="7" height="7" fill="#FEE6DC" stroke="#5a5a5a" stroke-width="0.75"/><rect x="499.30" y="278.37" width="8.5" height="8.5" fill="#D1EDE4" stroke="#5a5a5a" stroke-width="0.75"/><rect x="381.90" y="291.96" width="7.5" height="7.5" fill="#D9F0E9" stroke="#5a5a5a" stroke-width="0.75"/><rect x="396.00" y="292.96" width="5.5" height="5.5" fill="#E8F6F2" stroke="#5a5a5a" stroke-width="0.75"/><rect x="410.60" y="294.46" width="2.5" height="2.5" fill="#FAFDFC" stroke="#5a5a5a" stroke-width="0.75"/><rect x="421.45" y="292.21" width="7" height="7" fill="#DDF2EB" stroke="#5a5a5a" stroke-width="0.75"/><rect x="434.55" y="292.21" width="7" height="7" fill="#FEE6DC" stroke="#5a5a5a" stroke-width="0.75"/><rect x="447.65" y="292.21" width="7" height="7" fill="#DDF2EB" stroke="#5a5a5a" stroke-width="0.75"/><rect x="462.50" y="293.96" width="3.5" height="3.5" fill="#FAFDFC" stroke="#5a5a5a" stroke-width="0.75"/><rect x="472.25" y="290.61" width="10.2" height="10.2" fill="#B7E2D5" stroke="#5a5a5a" stroke-width="0.75"/><text x="477.35" y="296.61" font-size="4.6" font-weight="bold" text-anchor="middle" fill="#222">*</text><rect x="487.95" y="293.21" width="5" height="5" fill="#FFF0EB" stroke="#5a5a5a" stroke-width="0.75"/><rect x="499.05" y="291.21" width="9" height="9" fill="#CDEBE1" stroke="#5a5a5a" stroke-width="0.75"/><rect x="384.40" y="307.55" width="2.5" height="2.5" fill="#FAFDFC" stroke="#5a5a5a" stroke-width="0.75"/><rect x="393.65" y="303.69" width="10.2" height="10.2" fill="#FDB497" stroke="#5a5a5a" stroke-width="0.75"/><text x="398.75" y="309.69" font-size="4.6" font-weight="bold" text-anchor="middle" fill="#222">*</text><rect x="408.10" y="305.05" width="7.5" height="7.5" fill="#FEE3D8" stroke="#5a5a5a" stroke-width="0.75"/><rect x="421.20" y="305.05" width="7.5" height="7.5" fill="#FEE3D8" stroke="#5a5a5a" stroke-width="0.75"/><rect x="434.30" y="305.05" width="7.5" height="7.5" fill="#D9F0E9" stroke="#5a5a5a" stroke-width="0.75"/><rect x="449.40" y="307.05" width="3.5" height="3.5" fill="#FAFDFC" stroke="#5a5a5a" stroke-width="0.75"/><rect x="460.50" y="305.05" width="7.5" height="7.5" fill="#FEE3D8" stroke="#5a5a5a" stroke-width="0.75"/><rect x="473.60" y="305.05" width="7.5" height="7.5" fill="#FEE3D8" stroke="#5a5a5a" stroke-width="0.75"/><rect x="486.20" y="304.55" width="8.5" height="8.5" fill="#D1EDE4" stroke="#5a5a5a" stroke-width="0.75"/><rect x="498.05" y="303.30" width="11.0" height="11.0" fill="#FDA685" stroke="#5a5a5a" stroke-width="0.75"/><text x="503.55" y="309.69" font-size="4.6" font-weight="bold" text-anchor="middle" fill="#222">**</text><rect x="383.15" y="319.38" width="5" height="5" fill="#FFF0EB" stroke="#5a5a5a" stroke-width="0.75"/><rect x="395.00" y="318.13" width="7.5" height="7.5" fill="#D9F0E9" stroke="#5a5a5a" stroke-width="0.75"/><rect x="407.60" y="317.63" width="8.5" height="8.5" fill="#D1EDE4" stroke="#5a5a5a" stroke-width="0.75"/><rect x="422.95" y="319.88" width="4" height="4" fill="#FAFDFC" stroke="#5a5a5a" stroke-width="0.75"/><rect x="435.30" y="319.13" width="5.5" height="5.5" fill="#E8F6F2" stroke="#5a5a5a" stroke-width="0.75"/><rect x="447.15" y="317.88" width="8" height="8" fill="#FEE0D4" stroke="#5a5a5a" stroke-width="0.75"/><rect x="463.50" y="321.13" width="1.5" height="1.5" fill="#444"/><rect x="473.85" y="318.38" width="7" height="7" fill="#FEE6DC" stroke="#5a5a5a" stroke-width="0.75"/><rect x="486.95" y="318.38" width="7" height="7" fill="#FEE6DC" stroke="#5a5a5a" stroke-width="0.75"/><rect x="500.80" y="319.13" width="5.5" height="5.5" fill="#E8F6F2" stroke="#5a5a5a" stroke-width="0.75"/><rect x="381.90" y="331.23" width="7.5" height="7.5" fill="#FEE3D8" stroke="#5a5a5a" stroke-width="0.75"/><rect x="396.50" y="332.73" width="4.5" height="4.5" fill="#FAFDFC" stroke="#5a5a5a" stroke-width="0.75"/><rect x="410.35" y="333.48" width="3" height="3" fill="#FAFDFC" stroke="#5a5a5a" stroke-width="0.75"/><rect x="423.20" y="333.23" width="3.5" height="3.5" fill="#FAFDFC" stroke="#5a5a5a" stroke-width="0.75"/><rect x="432.55" y="329.48" width="11.0" height="11.0" fill="#FDA685" stroke="#5a5a5a" stroke-width="0.75"/><text x="438.05" y="335.88" font-size="4.6" font-weight="bold" text-anchor="middle" fill="#222">**</text><rect x="447.15" y="330.98" width="8" height="8" fill="#FEE0D4" stroke="#5a5a5a" stroke-width="0.75"/><rect x="462.00" y="332.73" width="4.5" height="4.5" fill="#EEF8F5" stroke="#5a5a5a" stroke-width="0.75"/><rect x="474.35" y="331.98" width="6" height="6" fill="#E5F5F0" stroke="#5a5a5a" stroke-width="0.75"/><rect x="489.70" y="334.23" width="1.5" height="1.5" fill="#444"/><rect x="500.80" y="332.23" width="5.5" height="5.5" fill="#E8F6F2" stroke="#5a5a5a" stroke-width="0.75"/><rect x="382.90" y="345.31" width="5.5" height="5.5" fill="#FFEEE8" stroke="#5a5a5a" stroke-width="0.75"/><rect x="393.65" y="342.96" width="10.2" height="10.2" fill="#B7E2D5" stroke="#5a5a5a" stroke-width="0.75"/><text x="398.75" y="348.96" font-size="4.6" font-weight="bold" text-anchor="middle" fill="#222">*</text><rect x="406.75" y="342.96" width="10.2" height="10.2" fill="#B7E2D5" stroke="#5a5a5a" stroke-width="0.75"/><text x="411.85" y="348.96" font-size="4.6" font-weight="bold" text-anchor="middle" fill="#222">*</text><rect x="422.45" y="345.56" width="5" height="5" fill="#FAFDFC" stroke="#5a5a5a" stroke-width="0.75"/><rect x="434.55" y="344.56" width="7" height="7" fill="#FEE6DC" stroke="#5a5a5a" stroke-width="0.75"/><rect x="446.05" y="342.96" width="10.2" height="10.2" fill="#FDB497" stroke="#5a5a5a" stroke-width="0.75"/><text x="451.15" y="348.96" font-size="4.6" font-weight="bold" text-anchor="middle" fill="#222">*</text><rect x="461.00" y="344.81" width="6.5" height="6.5" fill="#E1F3ED" stroke="#5a5a5a" stroke-width="0.75"/><rect x="476.10" y="346.81" width="2.5" height="2.5" fill="#FAFDFC" stroke="#5a5a5a" stroke-width="0.75"/><rect x="486.45" y="344.06" width="8" height="8" fill="#FEE0D4" stroke="#5a5a5a" stroke-width="0.75"/><rect x="499.05" y="343.56" width="9" height="9" fill="#CDEBE1" stroke="#5a5a5a" stroke-width="0.75"/><rect x="382.90" y="358.41" width="5.5" height="5.5" fill="#E8F6F2" stroke="#5a5a5a" stroke-width="0.75"/><rect x="393.65" y="356.06" width="10.2" height="10.2" fill="#FDB497" stroke="#5a5a5a" stroke-width="0.75"/><text x="398.75" y="362.06" font-size="4.6" font-weight="bold" text-anchor="middle" fill="#222">*</text><rect x="406.75" y="356.06" width="10.2" height="10.2" fill="#FDB497" stroke="#5a5a5a" stroke-width="0.75"/><text x="411.85" y="362.06" font-size="4.6" font-weight="bold" text-anchor="middle" fill="#222">*</text><rect x="422.45" y="358.66" width="5" height="5" fill="#FFF0EB" stroke="#5a5a5a" stroke-width="0.75"/><rect x="434.55" y="357.66" width="7" height="7" fill="#DDF2EB" stroke="#5a5a5a" stroke-width="0.75"/><rect x="446.05" y="356.06" width="10.2" height="10.2" fill="#B7E2D5" stroke="#5a5a5a" stroke-width="0.75"/><text x="451.15" y="362.06" font-size="4.6" font-weight="bold" text-anchor="middle" fill="#222">*</text><rect x="460.75" y="357.66" width="7" height="7" fill="#FEE6DC" stroke="#5a5a5a" stroke-width="0.75"/><rect x="476.60" y="360.41" width="1.5" height="1.5" fill="#444"/><rect x="486.45" y="357.16" width="8" height="8" fill="#D5EEE6" stroke="#5a5a5a" stroke-width="0.75"/><rect x="498.45" y="356.06" width="10.2" height="10.2" fill="#FDB497" stroke="#5a5a5a" stroke-width="0.75"/><text x="503.55" y="362.06" font-size="4.6" font-weight="bold" text-anchor="middle" fill="#222">*</text>
<text x="441.40" y="234.50" font-size="5.4" font-weight="bold" text-anchor="middle" fill="#000">Dynamic Phase</text>
<text x="377.40" y="245.84" font-size="5.3" text-anchor="end" fill="#222">Vertex</text>
<text x="377.40" y="258.94" font-size="5.3" text-anchor="end" fill="#222">Edge</text>
<text x="377.40" y="272.03" font-size="5.3" text-anchor="end" fill="#222">Average Degree</text>
<text x="377.40" y="285.12" font-size="5.3" text-anchor="end" fill="#222">Average Path Length</text>
<text x="377.40" y="298.21" font-size="5.3" text-anchor="end" fill="#222">Network Diameter</text>
<text x="377.40" y="311.30" font-size="5.3" text-anchor="end" fill="#222">Clustering Coefficient</text>
<text x="377.40" y="324.38" font-size="5.3" text-anchor="end" fill="#222">Density</text>
<text x="377.40" y="337.48" font-size="5.3" text-anchor="end" fill="#222">Heterogeneity</text>
<text x="377.40" y="350.56" font-size="5.3" text-anchor="end" fill="#222">Centralization</text>
<text x="377.40" y="363.66" font-size="5.3" text-anchor="end" fill="#222">Modularity</text>
<text x="388.65" y="372.30" font-size="5.4" text-anchor="end" fill="#222" transform="rotate(-45 388.65000000000003 372.3)">pH</text>
<text x="401.75" y="372.30" font-size="5.4" text-anchor="end" fill="#222" transform="rotate(-45 401.75 372.3)">NH<tspan font-size="3.6" dy="1.2">4</tspan><tspan font-size="3.6" dy="-2.6">+</tspan></text>
<text x="414.85" y="372.30" font-size="5.4" text-anchor="end" fill="#222" transform="rotate(-45 414.85 372.3)">TP</text>
<text x="427.95" y="372.30" font-size="5.4" text-anchor="end" fill="#222" transform="rotate(-45 427.95000000000005 372.3)">TN</text>
<text x="441.05" y="372.30" font-size="5.4" text-anchor="end" fill="#222" transform="rotate(-45 441.05 372.3)">NO<tspan font-size="3.6" dy="1.2">3</tspan><tspan font-size="3.6" dy="-2.6">−</tspan></text>
<text x="454.15" y="372.30" font-size="5.4" text-anchor="end" fill="#222" transform="rotate(-45 454.15000000000003 372.3)">TSS</text>
<text x="467.25" y="372.30" font-size="5.4" text-anchor="end" fill="#222" transform="rotate(-45 467.25 372.3)">Temperature</text>
<text x="480.35" y="372.30" font-size="5.4" text-anchor="end" fill="#222" transform="rotate(-45 480.35 372.3)">Humidity</text>
<text x="493.45" y="372.30" font-size="5.4" text-anchor="end" fill="#222" transform="rotate(-45 493.45000000000005 372.3)">Wind Speed</text>
<text x="506.55" y="372.30" font-size="5.4" text-anchor="end" fill="#222" transform="rotate(-45 506.55 372.3)">Time</text>
<rect x="523.00" y="228.6" width="131.00" height="7.9" fill="#D6D6D6" stroke="#1a1a1a" stroke-width="0.9"/><rect x="523.00" y="236.8" width="131.00" height="130.90" fill="#fff"/><line x1="523.00" x2="523.00" y1="236.8" y2="367.70" stroke="#8f8f8f" stroke-width="0.9"/><line x1="536.10" x2="536.10" y1="236.8" y2="367.70" stroke="#8f8f8f" stroke-width="0.9"/><line x1="549.20" x2="549.20" y1="236.8" y2="367.70" stroke="#8f8f8f" stroke-width="0.9"/><line x1="562.30" x2="562.30" y1="236.8" y2="367.70" stroke="#8f8f8f" stroke-width="0.9"/><line x1="575.40" x2="575.40" y1="236.8" y2="367.70" stroke="#8f8f8f" stroke-width="0.9"/><line x1="588.50" x2="588.50" y1="236.8" y2="367.70" stroke="#8f8f8f" stroke-width="0.9"/><line x1="601.60" x2="601.60" y1="236.8" y2="367.70" stroke="#8f8f8f" stroke-width="0.9"/><line x1="614.70" x2="614.70" y1="236.8" y2="367.70" stroke="#8f8f8f" stroke-width="0.9"/><line x1="627.80" x2="627.80" y1="236.8" y2="367.70" stroke="#8f8f8f" stroke-width="0.9"/><line x1="640.90" x2="640.90" y1="236.8" y2="367.70" stroke="#8f8f8f" stroke-width="0.9"/><line x1="654.00" x2="654.00" y1="236.8" y2="367.70" stroke="#8f8f8f" stroke-width="0.9"/><line x1="523.00" x2="654.00" y1="236.80" y2="236.80" stroke="#8f8f8f" stroke-width="0.9"/><line x1="523.00" x2="654.00" y1="249.89" y2="249.89" stroke="#8f8f8f" stroke-width="0.9"/><line x1="523.00" x2="654.00" y1="262.98" y2="262.98" stroke="#8f8f8f" stroke-width="0.9"/><line x1="523.00" x2="654.00" y1="276.07" y2="276.07" stroke="#8f8f8f" stroke-width="0.9"/><line x1="523.00" x2="654.00" y1="289.16" y2="289.16" stroke="#8f8f8f" stroke-width="0.9"/><line x1="523.00" x2="654.00" y1="302.25" y2="302.25" stroke="#8f8f8f" stroke-width="0.9"/><line x1="523.00" x2="654.00" y1="315.34" y2="315.34" stroke="#8f8f8f" stroke-width="0.9"/><line x1="523.00" x2="654.00" y1="328.43" y2="328.43" stroke="#8f8f8f" stroke-width="0.9"/><line x1="523.00" x2="654.00" y1="341.52" y2="341.52" stroke="#8f8f8f" stroke-width="0.9"/><line x1="523.00" x2="654.00" y1="354.61" y2="354.61" stroke="#8f8f8f" stroke-width="0.9"/><line x1="523.00" x2="654.00" y1="367.70" y2="367.70" stroke="#8f8f8f" stroke-width="0.9"/><rect x="527.05" y="240.84" width="5" height="5" fill="#FFF0EB" stroke="#5a5a5a" stroke-width="0.75"/><rect x="536.75" y="237.44" width="11.8" height="11.8" fill="#8CD1BC" stroke="#5a5a5a" stroke-width="0.75"/><text x="542.65" y="244.25" font-size="4.6" font-weight="bold" text-anchor="middle" fill="#222">***</text><rect x="550.25" y="237.84" width="11.0" height="11.0" fill="#94D4C0" stroke="#5a5a5a" stroke-width="0.75"/><text x="555.75" y="244.25" font-size="4.6" font-weight="bold" text-anchor="middle" fill="#222">**</text><rect x="562.95" y="237.44" width="11.8" height="11.8" fill="#8CD1BC" stroke="#5a5a5a" stroke-width="0.75"/><text x="568.85" y="244.25" font-size="4.6" font-weight="bold" text-anchor="middle" fill="#222">***</text><rect x="580.70" y="242.09" width="2.5" height="2.5" fill="#FAFDFC" stroke="#5a5a5a" stroke-width="0.75"/><rect x="592.80" y="241.09" width="4.5" height="4.5" fill="#FAFDFC" stroke="#5a5a5a" stroke-width="0.75"/><rect x="604.90" y="240.09" width="6.5" height="6.5" fill="#FEE9E0" stroke="#5a5a5a" stroke-width="0.75"/><rect x="616.15" y="238.25" width="10.2" height="10.2" fill="#B7E2D5" stroke="#5a5a5a" stroke-width="0.75"/><text x="621.25" y="244.25" font-size="4.6" font-weight="bold" text-anchor="middle" fill="#222">*</text><rect x="628.45" y="237.44" width="11.8" height="11.8" fill="#8CD1BC" stroke="#5a5a5a" stroke-width="0.75"/><text x="634.35" y="244.25" font-size="4.6" font-weight="bold" text-anchor="middle" fill="#222">***</text><rect x="642.35" y="238.25" width="10.2" height="10.2" fill="#FDB497" stroke="#5a5a5a" stroke-width="0.75"/><text x="647.45" y="244.25" font-size="4.6" font-weight="bold" text-anchor="middle" fill="#222">*</text><rect x="526.05" y="252.94" width="7" height="7" fill="#FEE6DC" stroke="#5a5a5a" stroke-width="0.75"/><rect x="537.55" y="251.34" width="10.2" height="10.2" fill="#B7E2D5" stroke="#5a5a5a" stroke-width="0.75"/><text x="542.65" y="257.33" font-size="4.6" font-weight="bold" text-anchor="middle" fill="#222">*</text><rect x="550.25" y="250.94" width="11.0" height="11.0" fill="#94D4C0" stroke="#5a5a5a" stroke-width="0.75"/><text x="555.75" y="257.33" font-size="4.6" font-weight="bold" text-anchor="middle" fill="#222">**</text><rect x="562.95" y="250.53" width="11.8" height="11.8" fill="#8CD1BC" stroke="#5a5a5a" stroke-width="0.75"/><text x="568.85" y="257.33" font-size="4.6" font-weight="bold" text-anchor="middle" fill="#222">***</text><rect x="579.45" y="253.94" width="5" height="5" fill="#FFF0EB" stroke="#5a5a5a" stroke-width="0.75"/><rect x="594.55" y="255.94" width="1" height="1" fill="#444"/><rect x="605.65" y="253.94" width="5" height="5" fill="#FFF0EB" stroke="#5a5a5a" stroke-width="0.75"/><rect x="617.00" y="252.19" width="8.5" height="8.5" fill="#D1EDE4" stroke="#5a5a5a" stroke-width="0.75"/><rect x="628.45" y="250.53" width="11.8" height="11.8" fill="#8CD1BC" stroke="#5a5a5a" stroke-width="0.75"/><text x="634.35" y="257.33" font-size="4.6" font-weight="bold" text-anchor="middle" fill="#222">***</text><rect x="642.35" y="251.34" width="10.2" height="10.2" fill="#FDB497" stroke="#5a5a5a" stroke-width="0.75"/><text x="647.45" y="257.33" font-size="4.6" font-weight="bold" text-anchor="middle" fill="#222">*</text><rect x="524.80" y="264.78" width="9.5" height="9.5" fill="#FED6C7" stroke="#5a5a5a" stroke-width="0.75"/><rect x="539.15" y="266.03" width="7" height="7" fill="#DDF2EB" stroke="#5a5a5a" stroke-width="0.75"/><rect x="552.75" y="266.53" width="6" height="6" fill="#E5F5F0" stroke="#5a5a5a" stroke-width="0.75"/><rect x="565.35" y="266.03" width="7" height="7" fill="#DDF2EB" stroke="#5a5a5a" stroke-width="0.75"/><rect x="578.45" y="266.03" width="7" height="7" fill="#FEE6DC" stroke="#5a5a5a" stroke-width="0.75"/><rect x="593.05" y="267.53" width="4" height="4" fill="#FAFDFC" stroke="#5a5a5a" stroke-width="0.75"/><rect x="604.40" y="265.78" width="7.5" height="7.5" fill="#D9F0E9" stroke="#5a5a5a" stroke-width="0.75"/><rect x="619.50" y="267.78" width="3.5" height="3.5" fill="#FAFDFC" stroke="#5a5a5a" stroke-width="0.75"/><rect x="630.10" y="265.28" width="8.5" height="8.5" fill="#D1EDE4" stroke="#5a5a5a" stroke-width="0.75"/><rect x="643.70" y="265.78" width="7.5" height="7.5" fill="#FEE3D8" stroke="#5a5a5a" stroke-width="0.75"/><rect x="526.55" y="279.62" width="6" height="6" fill="#E5F5F0" stroke="#5a5a5a" stroke-width="0.75"/><rect x="536.75" y="276.72" width="11.8" height="11.8" fill="#8CD1BC" stroke="#5a5a5a" stroke-width="0.75"/><text x="542.65" y="283.51" font-size="4.6" font-weight="bold" text-anchor="middle" fill="#222">***</text><rect x="550.25" y="277.12" width="11.0" height="11.0" fill="#94D4C0" stroke="#5a5a5a" stroke-width="0.75"/><text x="555.75" y="283.51" font-size="4.6" font-weight="bold" text-anchor="middle" fill="#222">**</text><rect x="563.35" y="277.12" width="11.0" height="11.0" fill="#94D4C0" stroke="#5a5a5a" stroke-width="0.75"/><text x="568.85" y="283.51" font-size="4.6" font-weight="bold" text-anchor="middle" fill="#222">**</text><rect x="580.20" y="280.87" width="3.5" height="3.5" fill="#FAFDFC" stroke="#5a5a5a" stroke-width="0.75"/><rect x="592.30" y="279.87" width="5.5" height="5.5" fill="#E8F6F2" stroke="#5a5a5a" stroke-width="0.75"/><rect x="603.05" y="277.51" width="10.2" height="10.2" fill="#FDB497" stroke="#5a5a5a" stroke-width="0.75"/><text x="608.15" y="283.51" font-size="4.6" font-weight="bold" text-anchor="middle" fill="#222">*</text><rect x="615.75" y="277.12" width="11.0" height="11.0" fill="#94D4C0" stroke="#5a5a5a" stroke-width="0.75"/><text x="621.25" y="283.51" font-size="4.6" font-weight="bold" text-anchor="middle" fill="#222">**</text><rect x="629.25" y="277.51" width="10.2" height="10.2" fill="#B7E2D5" stroke="#5a5a5a" stroke-width="0.75"/><text x="634.35" y="283.51" font-size="4.6" font-weight="bold" text-anchor="middle" fill="#222">*</text><rect x="643.45" y="278.62" width="8" height="8" fill="#FEE0D4" stroke="#5a5a5a" stroke-width="0.75"/><rect x="527.80" y="293.96" width="3.5" height="3.5" fill="#FAFDFC" stroke="#5a5a5a" stroke-width="0.75"/><rect x="536.75" y="289.81" width="11.8" height="11.8" fill="#8CD1BC" stroke="#5a5a5a" stroke-width="0.75"/><text x="542.65" y="296.61" font-size="4.6" font-weight="bold" text-anchor="middle" fill="#222">***</text><rect x="549.85" y="289.81" width="11.8" height="11.8" fill="#8CD1BC" stroke="#5a5a5a" stroke-width="0.75"/><text x="555.75" y="296.61" font-size="4.6" font-weight="bold" text-anchor="middle" fill="#222">***</text><rect x="562.95" y="289.81" width="11.8" height="11.8" fill="#8CD1BC" stroke="#5a5a5a" stroke-width="0.75"/><text x="568.85" y="296.61" font-size="4.6" font-weight="bold" text-anchor="middle" fill="#222">***</text><rect x="579.95" y="293.71" width="4" height="4" fill="#FAFDFC" stroke="#5a5a5a" stroke-width="0.75"/><rect x="592.30" y="292.96" width="5.5" height="5.5" fill="#E8F6F2" stroke="#5a5a5a" stroke-width="0.75"/><rect x="603.90" y="291.46" width="8.5" height="8.5" fill="#FEDDD0" stroke="#5a5a5a" stroke-width="0.75"/><rect x="615.75" y="290.21" width="11.0" height="11.0" fill="#94D4C0" stroke="#5a5a5a" stroke-width="0.75"/><text x="621.25" y="296.61" font-size="4.6" font-weight="bold" text-anchor="middle" fill="#222">**</text><rect x="628.85" y="290.21" width="11.0" height="11.0" fill="#94D4C0" stroke="#5a5a5a" stroke-width="0.75"/><text x="634.35" y="296.61" font-size="4.6" font-weight="bold" text-anchor="middle" fill="#222">**</text><rect x="642.35" y="290.61" width="10.2" height="10.2" fill="#FDB497" stroke="#5a5a5a" stroke-width="0.75"/><text x="647.45" y="296.61" font-size="4.6" font-weight="bold" text-anchor="middle" fill="#222">*</text><rect x="525.80" y="305.05" width="7.5" height="7.5" fill="#FEE3D8" stroke="#5a5a5a" stroke-width="0.75"/><rect x="539.15" y="305.30" width="7" height="7" fill="#FEE6DC" stroke="#5a5a5a" stroke-width="0.75"/><rect x="553.25" y="306.30" width="5" height="5" fill="#FFF0EB" stroke="#5a5a5a" stroke-width="0.75"/><rect x="565.85" y="305.80" width="6" height="6" fill="#FEEBE4" stroke="#5a5a5a" stroke-width="0.75"/><rect x="579.20" y="306.05" width="5.5" height="5.5" fill="#FFEEE8" stroke="#5a5a5a" stroke-width="0.75"/><rect x="592.05" y="305.80" width="6" height="6" fill="#E5F5F0" stroke="#5a5a5a" stroke-width="0.75"/><rect x="603.90" y="304.55" width="8.5" height="8.5" fill="#D1EDE4" stroke="#5a5a5a" stroke-width="0.75"/><rect x="617.25" y="304.80" width="8" height="8" fill="#FEE0D4" stroke="#5a5a5a" stroke-width="0.75"/><rect x="632.10" y="306.55" width="4.5" height="4.5" fill="#FAFDFC" stroke="#5a5a5a" stroke-width="0.75"/><rect x="646.95" y="308.30" width="1" height="1" fill="#444"/><rect x="525.30" y="317.63" width="8.5" height="8.5" fill="#FEDDD0" stroke="#5a5a5a" stroke-width="0.75"/><rect x="540.90" y="320.13" width="3.5" height="3.5" fill="#FAFDFC" stroke="#5a5a5a" stroke-width="0.75"/><rect x="550.65" y="316.78" width="10.2" height="10.2" fill="#FDB497" stroke="#5a5a5a" stroke-width="0.75"/><text x="555.75" y="322.78" font-size="4.6" font-weight="bold" text-anchor="middle" fill="#222">*</text><rect x="563.75" y="316.78" width="10.2" height="10.2" fill="#FDB497" stroke="#5a5a5a" stroke-width="0.75"/><text x="568.85" y="322.78" font-size="4.6" font-weight="bold" text-anchor="middle" fill="#222">*</text><rect x="578.20" y="318.13" width="7.5" height="7.5" fill="#FEE3D8" stroke="#5a5a5a" stroke-width="0.75"/><rect x="591.05" y="317.88" width="8" height="8" fill="#FEE0D4" stroke="#5a5a5a" stroke-width="0.75"/><rect x="603.90" y="317.63" width="8.5" height="8.5" fill="#D1EDE4" stroke="#5a5a5a" stroke-width="0.75"/><rect x="618.25" y="318.88" width="6" height="6" fill="#FEEBE4" stroke="#5a5a5a" stroke-width="0.75"/><rect x="630.10" y="317.63" width="8.5" height="8.5" fill="#FEDDD0" stroke="#5a5a5a" stroke-width="0.75"/><rect x="644.20" y="318.63" width="6.5" height="6.5" fill="#E1F3ED" stroke="#5a5a5a" stroke-width="0.75"/><rect x="528.05" y="333.48" width="3" height="3" fill="#FAFDFC" stroke="#5a5a5a" stroke-width="0.75"/><rect x="536.75" y="329.08" width="11.8" height="11.8" fill="#8CD1BC" stroke="#5a5a5a" stroke-width="0.75"/><text x="542.65" y="335.88" font-size="4.6" font-weight="bold" text-anchor="middle" fill="#222">***</text><rect x="550.25" y="329.48" width="11.0" height="11.0" fill="#94D4C0" stroke="#5a5a5a" stroke-width="0.75"/><text x="555.75" y="335.88" font-size="4.6" font-weight="bold" text-anchor="middle" fill="#222">**</text><rect x="562.95" y="329.08" width="11.8" height="11.8" fill="#8CD1BC" stroke="#5a5a5a" stroke-width="0.75"/><text x="568.85" y="335.88" font-size="4.6" font-weight="bold" text-anchor="middle" fill="#222">***</text><rect x="579.70" y="332.73" width="4.5" height="4.5" fill="#FFF3EE" stroke="#5a5a5a" stroke-width="0.75"/><rect x="592.80" y="332.73" width="4.5" height="4.5" fill="#FFF3EE" stroke="#5a5a5a" stroke-width="0.75"/><rect x="604.40" y="331.23" width="7.5" height="7.5" fill="#FEE3D8" stroke="#5a5a5a" stroke-width="0.75"/><rect x="615.75" y="329.48" width="11.0" height="11.0" fill="#94D4C0" stroke="#5a5a5a" stroke-width="0.75"/><text x="621.25" y="335.88" font-size="4.6" font-weight="bold" text-anchor="middle" fill="#222">**</text><rect x="629.25" y="329.88" width="10.2" height="10.2" fill="#B7E2D5" stroke="#5a5a5a" stroke-width="0.75"/><text x="634.35" y="335.88" font-size="4.6" font-weight="bold" text-anchor="middle" fill="#222">*</text><rect x="642.95" y="330.48" width="9" height="9" fill="#FEDACB" stroke="#5a5a5a" stroke-width="0.75"/><rect x="526.05" y="344.56" width="7" height="7" fill="#FEE6DC" stroke="#5a5a5a" stroke-width="0.75"/><rect x="537.55" y="342.96" width="10.2" height="10.2" fill="#B7E2D5" stroke="#5a5a5a" stroke-width="0.75"/><text x="542.65" y="348.96" font-size="4.6" font-weight="bold" text-anchor="middle" fill="#222">*</text><rect x="552.75" y="345.06" width="6" height="6" fill="#E5F5F0" stroke="#5a5a5a" stroke-width="0.75"/><rect x="565.85" y="345.06" width="6" height="6" fill="#E5F5F0" stroke="#5a5a5a" stroke-width="0.75"/><rect x="577.95" y="344.06" width="8" height="8" fill="#FEE0D4" stroke="#5a5a5a" stroke-width="0.75"/><rect x="591.30" y="344.31" width="7.5" height="7.5" fill="#FEE3D8" stroke="#5a5a5a" stroke-width="0.75"/><rect x="606.90" y="346.81" width="2.5" height="2.5" fill="#FAFDFC" stroke="#5a5a5a" stroke-width="0.75"/><rect x="617.50" y="344.31" width="7.5" height="7.5" fill="#D9F0E9" stroke="#5a5a5a" stroke-width="0.75"/><rect x="632.10" y="345.81" width="4.5" height="4.5" fill="#FAFDFC" stroke="#5a5a5a" stroke-width="0.75"/><rect x="646.20" y="346.81" width="2.5" height="2.5" fill="#FAFDFC" stroke="#5a5a5a" stroke-width="0.75"/><rect x="526.55" y="358.16" width="6" height="6" fill="#E5F5F0" stroke="#5a5a5a" stroke-width="0.75"/><rect x="538.15" y="356.66" width="9" height="9" fill="#FEDACB" stroke="#5a5a5a" stroke-width="0.75"/><rect x="553.75" y="359.16" width="4" height="4" fill="#FFF5F1" stroke="#5a5a5a" stroke-width="0.75"/><rect x="566.85" y="359.16" width="4" height="4" fill="#FAFDFC" stroke="#5a5a5a" stroke-width="0.75"/><rect x="578.95" y="358.16" width="6" height="6" fill="#E5F5F0" stroke="#5a5a5a" stroke-width="0.75"/><rect x="592.05" y="358.16" width="6" height="6" fill="#E5F5F0" stroke="#5a5a5a" stroke-width="0.75"/><rect x="605.15" y="358.16" width="6" height="6" fill="#FEEBE4" stroke="#5a5a5a" stroke-width="0.75"/><rect x="618.25" y="358.16" width="6" height="6" fill="#FEEBE4" stroke="#5a5a5a" stroke-width="0.75"/><rect x="632.85" y="359.66" width="3" height="3" fill="#FAFDFC" stroke="#5a5a5a" stroke-width="0.75"/><rect x="645.70" y="359.41" width="3.5" height="3.5" fill="#FAFDFC" stroke="#5a5a5a" stroke-width="0.75"/>
<text x="588.55" y="234.50" font-size="5.4" font-weight="bold" text-anchor="middle" fill="#000">Stabilization Phase</text>
<text x="532.55" y="372.30" font-size="5.4" text-anchor="end" fill="#222" transform="rotate(-45 532.55 372.3)">pH</text>
<text x="545.65" y="372.30" font-size="5.4" text-anchor="end" fill="#222" transform="rotate(-45 545.65 372.3)">NH<tspan font-size="3.6" dy="1.2">4</tspan><tspan font-size="3.6" dy="-2.6">+</tspan></text>
<text x="558.75" y="372.30" font-size="5.4" text-anchor="end" fill="#222" transform="rotate(-45 558.75 372.3)">TP</text>
<text x="571.85" y="372.30" font-size="5.4" text-anchor="end" fill="#222" transform="rotate(-45 571.85 372.3)">TN</text>
<text x="584.95" y="372.30" font-size="5.4" text-anchor="end" fill="#222" transform="rotate(-45 584.95 372.3)">NO<tspan font-size="3.6" dy="1.2">3</tspan><tspan font-size="3.6" dy="-2.6">−</tspan></text>
<text x="598.05" y="372.30" font-size="5.4" text-anchor="end" fill="#222" transform="rotate(-45 598.05 372.3)">TSS</text>
<text x="611.15" y="372.30" font-size="5.4" text-anchor="end" fill="#222" transform="rotate(-45 611.15 372.3)">Temperature</text>
<text x="624.25" y="372.30" font-size="5.4" text-anchor="end" fill="#222" transform="rotate(-45 624.25 372.3)">Humidity</text>
<text x="637.35" y="372.30" font-size="5.4" text-anchor="end" fill="#222" transform="rotate(-45 637.35 372.3)">Wind Speed</text>
<text x="650.45" y="372.30" font-size="5.4" text-anchor="end" fill="#222" transform="rotate(-45 650.45 372.3)">Time</text>
<defs><linearGradient id="cb" x1="0" y1="0" x2="0" y2="1"><stop offset="0" stop-color="#FC8D62"/><stop offset="0.5" stop-color="#FFFFFF"/><stop offset="1" stop-color="#66C2A5"/></linearGradient></defs>
<rect x="663" y="288" width="7.6" height="36.7" fill="url(#cb)"/>
<text x="672.60" y="289.60" font-size="4.5" text-anchor="start" fill="#333">1.0</text>
<line x1="663" x2="664.6" y1="297.18" y2="297.18" stroke="#fff" stroke-width="0.5"/><line x1="669" x2="670.6" y1="297.18" y2="297.18" stroke="#fff" stroke-width="0.5"/>
<text x="672.60" y="298.78" font-size="4.5" text-anchor="start" fill="#333">0.5</text>
<text x="672.60" y="307.96" font-size="4.5" text-anchor="start" fill="#333">0.0</text>
<line x1="663" x2="664.6" y1="315.54" y2="315.54" stroke="#fff" stroke-width="0.5"/><line x1="669" x2="670.6" y1="315.54" y2="315.54" stroke="#fff" stroke-width="0.5"/>
<text x="672.60" y="317.14" font-size="4.5" text-anchor="start" fill="#333">−0.5</text>
<text x="672.60" y="326.32" font-size="4.5" text-anchor="start" fill="#333">−1.0</text>
<text x="657.00" y="283.20" font-size="4.15" font-weight="bold" text-anchor="start" fill="#000">Spearman's r</text>
<clipPath id="n1"><circle cx="83" cy="107.5" r="82.5"/></clipPath><g clip-path="url(#n1)"><path d="M100.2 133.7Q106.3 133.1 126 143.9M17.3 107.6Q25.4 130.6 12.8 133.1M69.8 59Q60.5 72.9 65 78.4M99.9 145.1Q100.1 118.6 115.4 110.8M49.6 125.5Q53.7 126.2 64.2 122M15.1 115.1Q18.7 115.9 37.4 115M43.3 160.9Q53.7 156 69.1 133.8M142.7 142.2Q136.5 134.6 130.8 133.4M19.2 108.6Q3.7 121.5 17.9 146.5M95.4 147.8Q83.6 143.7 75.3 116.1M128.9 92.6Q116.8 91.2 111.4 98.2M122.8 112.3Q142.3 108.9 148.3 116.3M48.9 138.8L49.7 139.8M48.9 138.8L48.9 141.7M48.9 138.8L49.5 135.3M48.9 138.8L49.9 135M48.9 138.8L49.7 139.8M48.9 141.7L48.8 143.1M48.9 141.7L49.7 139.8M48.9 141.7L48.9 138.8M48.9 141.7L46.3 143.6M48.9 141.7L48.9 138.8M49.5 135.3L49.9 135M49.5 135.3L47.2 135M49.5 135.3L48.9 138.8M49.5 135.3L49.7 139.8M47.2 135L49.5 135.3M47.2 135L49.9 135M47.2 135L45 137.3M47.2 135L48.9 138.8M42.1 139.1L45 137.3M42.1 139.1L46.3 143.6M42.1 139.1L47.2 135M42.1 139.1L48.9 138.8M49.9 135L49.5 135.3M49.9 135L47.2 135M49.9 135L48.9 138.8M49.9 135L49.7 139.8M45 137.3L47.2 135M45 137.3L42.1 139.1M45 137.3L48.9 138.8M45 137.3L49.5 135.3M49.7 139.8L48.9 138.8M49.7 139.8L48.9 141.7M49.7 139.8L48.8 143.1M49.7 139.8L52.3 142.6M48.8 143.1L48.9 141.7M48.8 143.1L46.3 143.6M48.8 143.1L49.7 139.8M48.8 143.1L52.3 142.6M46.3 143.6L48.8 143.1M46.3 143.6L48.9 141.7M46.3 143.6L49.7 139.8M46.3 143.6L48.9 138.8M46.3 143.6L52.3 142.6M52.3 142.6L48.9 141.7M52.3 142.6L48.8 143.1M52.3 142.6L49.7 139.8M52.3 142.6L48.9 138.8M28.2 66.4L32.2 68.9M28.2 66.4L33 64.2M28.2 66.4L33.7 63.5M28.2 66.4L30.6 72.4M28.2 66.4L33.9 75.3M33 64.2L33.7 63.5M33 64.2L35.1 63.5M33 64.2L36.1 65.3M33 64.2L32.2 68.9M35.1 63.5L33.7 63.5M35.1 63.5L36.1 65.3M35.1 63.5L33 64.2M35.1 63.5L37 67.3M35.1 63.5L32.2 68.9M32.2 68.9L30.6 72.4M32.2 68.9L28.2 66.4M32.2 68.9L33 64.2M32.2 68.9L35.3 72.5M33.7 63.5L33 64.2M33.7 63.5L35.1 63.5M33.7 63.5L36.1 65.3M33.7 63.5L37 67.3M35.6 72.6L35.3 72.5M35.6 72.6L36.4 72.6M35.6 72.6L36.1 74.6M35.6 72.6L35.3 75.7M35.6 72.6L33 64.2M42.5 69.6L39.6 69.2M42.5 69.6L37 67.3M42.5 69.6L36.4 72.6M42.5 69.6L35.6 72.6M35.3 72.5L35.6 72.6M35.3 72.5L36.4 72.6M35.3 72.5L36.1 74.6M35.3 72.5L33.9 75.3M33.9 75.3L35.3 75.7M33.9 75.3L36.1 74.6M33.9 75.3L35.3 72.5M33.9 75.3L35.6 72.6M36.4 72.6L35.6 72.6M36.4 72.6L35.3 72.5M36.4 72.6L36.1 74.6M36.4 72.6L35.3 75.7M39.6 69.2L42.5 69.6M39.6 69.2L37 67.3M39.6 69.2L36.4 72.6M39.6 69.2L36.1 65.3M36.1 74.6L35.3 75.7M36.1 74.6L36.4 72.6M36.1 74.6L35.6 72.6M36.1 74.6L33.9 75.3M36.1 65.3L35.1 63.5M36.1 65.3L37 67.3M36.1 65.3L33.7 63.5M36.1 65.3L33 64.2M36.1 65.3L30.6 72.4M35.3 75.7L36.1 74.6M35.3 75.7L33.9 75.3M35.3 75.7L35.6 72.6M35.3 75.7L35.3 72.5M30.6 72.4L32.2 68.9M30.6 72.4L33.9 75.3M30.6 72.4L35.3 72.5M30.6 72.4L35.6 72.6M37 67.3L36.1 65.3M37 67.3L39.6 69.2M37 67.3L35.1 63.5M37 67.3L33 64.2M115.2 104.7L113.5 104.2M115.2 104.7L113.5 105.1M115.2 104.7L114.3 106.4M115.2 104.7L116.3 106.4M113.5 104.2L113.5 105.1M113.5 104.2L115.2 104.7M113.5 104.2L114.3 106.4M113.5 104.2L114.3 101.7M117.7 102.8L118.4 104.2M117.7 102.8L120.2 102.9M117.7 102.8L115 101.4M117.7 102.8L115.2 104.7M114.3 106.4L113.5 105.1M114.3 106.4L113.3 107.8M114.3 106.4L116.3 106.4M114.3 106.4L115.2 104.7M114.3 106.4L114.3 106.4M114.3 101.7L115 101.4M114.3 101.7L113.5 104.2M114.3 101.7L115.2 104.7M114.3 101.7L113.5 105.1M120.2 102.9L118.4 104.2M120.2 102.9L117.7 102.8M120.2 102.9L115.2 104.7M120.2 102.9L116.3 106.4M116.3 106.4L114.3 106.4M116.3 106.4L115.2 104.7M116.3 106.4L118.4 104.2M116.3 106.4L113.5 105.1M116.3 106.4L114.3 106.4M113.3 107.8L114.3 106.4M113.3 107.8L113.5 105.1M113.3 107.8L116.3 106.4M113.3 107.8L113.5 104.2M113.5 105.1L113.5 104.2M113.5 105.1L114.3 106.4M113.5 105.1L115.2 104.7M113.5 105.1L113.3 107.8M115 101.4L114.3 101.7M115 101.4L117.7 102.8M115 101.4L113.5 104.2M115 101.4L115.2 104.7M118.4 104.2L117.7 102.8M118.4 104.2L120.2 102.9M118.4 104.2L116.3 106.4M118.4 104.2L115.2 104.7M118.4 104.2L118.4 104.2M87.4 98.1L84.9 97.4M87.4 98.1L84.8 99M87.4 98.1L84.6 100.1M87.4 98.1L90.2 100.7M87.4 98.1L93.2 97.6M84.9 97.4L84.8 99M84.9 97.4L87.4 98.1M84.9 97.4L84.6 100.1M84.9 97.4L83.5 100.5M84.9 97.4L93.2 97.6M93.2 97.6L92.6 96.9M93.2 97.6L93.6 100M93.2 97.6L90.2 100.7M93.2 97.6L87.4 98.1M88.9 102.9L90.2 100.7M88.9 102.9L85.8 101.8M88.9 102.9L87.4 98.1M88.9 102.9L84.6 100.1M84.8 99L84.6 100.1M84.8 99L84.9 97.4M84.8 99L83.5 100.5M84.8 99L87.4 98.1M85.8 101.8L84.6 100.1M85.8 101.8L83.5 100.5M85.8 101.8L84.8 99M85.8 101.8L88.9 102.9M85.8 101.8L87.4 98.1M84.6 100.1L84.8 99M84.6 100.1L83.5 100.5M84.6 100.1L85.8 101.8M84.6 100.1L84.9 97.4M84.6 100.1L90.2 100.7M93.6 100L93.2 97.6M93.6 100L92.6 96.9M93.6 100L90.2 100.7M93.6 100L88.9 102.9M92.6 96.9L93.2 97.6M92.6 96.9L93.6 100M92.6 96.9L90.2 100.7M92.6 96.9L87.4 98.1M83.5 100.5L84.6 100.1M83.5 100.5L84.8 99M83.5 100.5L85.8 101.8M83.5 100.5L84.9 97.4M90.2 100.7L88.9 102.9M90.2 100.7L93.6 100M90.2 100.7L87.4 98.1M90.2 100.7L93.2 97.6M100.2 73.9L101.3 73.5M100.2 73.9L101 75.1M100.2 73.9L102.4 73.5M100.2 73.9L96.8 74.3M101 67.2L100.1 67.2M101 67.2L97 69.6M101 67.2L101.3 73.5M101 67.2L102.4 73.5M102 80.5L102 80.8M102 80.5L103.9 79.8M102 80.5L97.6 81.6M102 80.5L101 75.1M96.8 74.3L100.2 73.9M96.8 74.3L101 75.1M96.8 74.3L101.3 73.5M96.8 74.3L97 69.6M102.4 73.5L101.3 73.5M102.4 73.5L101 75.1M102.4 73.5L100.2 73.9M102.4 73.5L96.8 74.3M97 69.6L100.1 67.2M97 69.6L96.8 74.3M97 69.6L101 67.2M97 69.6L100.2 73.9M100.1 67.2L101 67.2M100.1 67.2L97 69.6M100.1 67.2L101.3 73.5M100.1 67.2L100.2 73.9M103.9 79.8L102 80.5M103.9 79.8L102 80.8M103.9 79.8L101 75.1M103.9 79.8L102.4 73.5M102 80.8L102 80.5M102 80.8L103.9 79.8M102 80.8L97.6 81.6M102 80.8L101 75.1M101.3 73.5L102.4 73.5M101.3 73.5L100.2 73.9M101.3 73.5L101 75.1M101.3 73.5L96.8 74.3M101 75.1L100.2 73.9M101 75.1L101.3 73.5M101 75.1L102.4 73.5M101 75.1L96.8 74.3M97.6 81.6L102 80.8M97.6 81.6L102 80.5M97.6 81.6L103.9 79.8M97.6 81.6L101 75.1M97.6 81.6L97 69.6M79.6 65.2L79.6 66.6M79.6 65.2L80.9 66.2M79.6 65.2L82 66.6M79.6 65.2L77.3 66.8M79.6 66.6L80.9 66.2M79.6 66.6L79.6 65.2M79.6 66.6L79.3 68.1M79.6 66.6L77.3 66.8M80.9 66.2L82 66.6M80.9 66.2L79.6 66.6M80.9 66.2L79.6 65.2M80.9 66.2L82.9 65.4M76.9 70.2L77.4 68.7M76.9 70.2L79.3 68.1M76.9 70.2L77.3 66.8M76.9 70.2L81.3 70.1M82 66.6L80.9 66.2M82 66.6L82.9 65.4M82 66.6L79.6 66.6M82 66.6L79.6 65.2M82 66.6L77.3 66.8M77.4 68.7L76.9 70.2M77.4 68.7L77.3 66.8M77.4 68.7L79.3 68.1M77.4 68.7L79.6 66.6M82.9 65.4L82 66.6M82.9 65.4L80.9 66.2M82.9 65.4L79.6 65.2M82.9 65.4L79.6 66.6M82.9 65.4L85.1 71.8M77.3 66.8L77.4 68.7M77.3 66.8L79.6 66.6M77.3 66.8L79.3 68.1M77.3 66.8L79.6 65.2M81.3 70.1L79.3 68.1M81.3 70.1L82 66.6M81.3 70.1L79.6 66.6M81.3 70.1L80.9 66.2M85.1 71.8L81.3 70.1M85.1 71.8L82 66.6M85.1 71.8L82.9 65.4M85.1 71.8L79.3 68.1M79.3 68.1L79.6 66.6M79.3 68.1L77.4 68.7M79.3 68.1L77.3 66.8M79.3 68.1L80.9 66.2M14.9 79.4L12.9 78.6M14.9 79.4L15.4 73.7M14.9 79.4L19.9 75M14.9 79.4L18.5 72.7M23.4 70.8L23.5 67.1M23.4 70.8L20.3 67.3M23.4 70.8L18.8 72.8M23.4 70.8L21 66.4M18.7 68.6L17.5 69.7M18.7 68.6L20.3 67.3M18.7 68.6L21 66.4M18.7 68.6L16.9 65.7M18.7 68.6L15.4 73.7M16.9 65.7L15.2 66.2M16.9 65.7L18.7 68.6M16.9 65.7L15.5 62.4M16.9 65.7L20.3 67.3M15.2 66.2L16.9 65.7M15.2 66.2L15.5 62.4M15.2 66.2L17.5 69.7M15.2 66.2L18.7 68.6M15.2 66.2L16.9 65.7M17.5 69.7L18.7 68.6M17.5 69.7L15.2 71.6M17.5 69.7L18.5 72.7M17.5 69.7L18.8 72.8M12.9 78.6L14.9 79.4M12.9 78.6L15.4 73.7M12.9 78.6L15.2 71.6M12.9 78.6L19.9 75M19.9 75L18.8 72.8M19.9 75L18.5 72.7M19.9 75L15.4 73.7M19.9 75L23.4 70.8M18.5 72.7L18.8 72.8M18.5 72.7L19.9 75M18.5 72.7L17.5 69.7M18.5 72.7L15.4 73.7M15.4 73.7L15.2 71.6M15.4 73.7L18.5 72.7M15.4 73.7L18.8 72.8M15.4 73.7L17.5 69.7M15.4 73.7L10.5 68.3M9 66.3L10.8 67.3M9 66.3L10.5 68.3M9 66.3L15.2 66.2M9 66.3L15.5 62.4M15.2 71.6L15.4 73.7M15.2 71.6L17.5 69.7M15.2 71.6L18.5 72.7M15.2 71.6L18.8 72.8M21 66.4L20.3 67.3M21 66.4L20.9 65M21 66.4L22.4 64.5M21 66.4L23.5 67.1M22.4 64.5L20.9 65M22.4 64.5L21 66.4M22.4 64.5L23.5 67.1M22.4 64.5L20.3 67.3M20.9 65L21 66.4M20.9 65L22.4 64.5M20.9 65L20.3 67.3M20.9 65L23.5 67.1M20.7 61L22.4 64.5M20.7 61L20.9 65M20.7 61L15.5 62.4M20.7 61L21 66.4M20.7 61L19.9 75M15.5 62.4L16.9 65.7M15.5 62.4L15.2 66.2M15.5 62.4L20.7 61M15.5 62.4L20.9 65M23.5 67.1L21 66.4M23.5 67.1L22.4 64.5M23.5 67.1L20.3 67.3M23.5 67.1L20.9 65M10.8 67.3L10.5 68.3M10.8 67.3L9 66.3M10.8 67.3L15.2 66.2M10.8 67.3L15.2 71.6M10.8 67.3L20.3 67.3M10.5 68.3L10.8 67.3M10.5 68.3L9 66.3M10.5 68.3L15.2 66.2M10.5 68.3L15.2 71.6M10.5 68.3L23.4 70.8M18.8 72.8L18.5 72.7M18.8 72.8L19.9 75M18.8 72.8L17.5 69.7M18.8 72.8L15.4 73.7M18.8 72.8L18.5 72.7M20.3 67.3L21 66.4M20.3 67.3L18.7 68.6M20.3 67.3L20.9 65M20.3 67.3L23.5 67.1M89.7 70.5L88.6 69.7M89.7 70.5L91.8 73.1M89.7 70.5L86.9 74.2M89.7 70.5L90.6 75.2M88.6 69.7L89.7 70.5M88.6 69.7L85 71.4M88.6 69.7L91.8 73.1M88.6 69.7L86.9 74.2M82.2 84.2L84 83.9M82.2 84.2L85.6 81.2M82.2 84.2L86.2 79.5M82.2 84.2L88.7 83.1M88.7 83.1L91.1 84.7M88.7 83.1L88.9 79.6M88.7 83.1L92.3 83M88.7 83.1L85.6 81.2M88.7 83.1L88.9 79.6M86.2 79.5L85.6 81.2M86.2 79.5L88.9 79.6M86.2 79.5L87 76.9M86.2 79.5L83.9 76.2M83.9 76.2L82.1 75.3M83.9 76.2L87 76.9M83.9 76.2L86.9 74.2M83.9 76.2L86.2 79.5M91.4 88.1L91.4 90.1M91.4 88.1L91.1 84.7M91.4 88.1L92.3 83M91.4 88.1L88.7 83.1M92.3 83L91.1 84.7M92.3 83L88.7 83.1M92.3 83L88.9 79.6M92.3 83L91.4 88.1M91.8 73.1L90.6 75.2M91.8 73.1L89.7 70.5M91.8 73.1L92.3 76.9M91.8 73.1L88.6 69.7M86.9 74.2L87 76.9M86.9 74.2L85 71.4M86.9 74.2L83.9 76.2M86.9 74.2L90.6 75.2M92.3 76.9L90.6 75.2M92.3 76.9L91.8 73.1M92.3 76.9L88.9 79.6M92.3 76.9L87 76.9M85.6 81.2L86.2 79.5M85.6 81.2L84 83.9M85.6 81.2L88.9 79.6M85.6 81.2L88.7 83.1M91.4 90.1L91.4 88.1M91.4 90.1L91.1 84.7M91.4 90.1L92.3 83M91.4 90.1L88.7 83.1M87 76.9L86.9 74.2M87 76.9L86.2 79.5M87 76.9L83.9 76.2M87 76.9L88.9 79.6M88.9 79.6L86.2 79.5M88.9 79.6L87 76.9M88.9 79.6L88.7 83.1M88.9 79.6L85.6 81.2M90.6 75.2L91.8 73.1M90.6 75.2L92.3 76.9M90.6 75.2L86.9 74.2M90.6 75.2L87 76.9M90.6 75.2L85.6 81.2M84 83.9L82.2 84.2M84 83.9L85.6 81.2M84 83.9L88.7 83.1M84 83.9L86.2 79.5M82.1 75.3L83.9 76.2M82.1 75.3L85 71.4M82.1 75.3L86.9 74.2M82.1 75.3L87 76.9M82.1 75.3L91.4 90.1M91.1 84.7L92.3 83M91.1 84.7L88.7 83.1M91.1 84.7L91.4 88.1M91.1 84.7L91.4 90.1M85 71.4L86.9 74.2M85 71.4L88.6 69.7M85 71.4L82.1 75.3M85 71.4L89.7 70.5M121.5 131Q122.7 127.9 120.7 125.2M121.5 131Q120.2 128.2 120.7 125.2M119.3 124.4Q118.5 128.3 121.5 131M119.3 124.4Q122.1 127.1 121.5 131M115.1 125.2Q117.3 125.4 119.3 124.4M115.1 125.2Q117 123.8 119.3 124.4M116.5 131.8Q116.9 128.2 115.1 125.2M116.5 131.8Q114.4 128.8 115.1 125.2M118.4 130.2Q119.8 127.8 120.7 125.2M116.5 131.8Q114.9 135.3 115.3 139.2M139.5 90.5Q140.6 92.8 140.8 95.4M137.2 93.2Q139.1 92.5 139.5 90.5M137.2 93.2Q137.8 91.4 139.5 90.5M140.8 95.4Q136.5 90.1 132.6 84.4M98.7 54.5Q97.8 55.4 96.8 56.3M94.3 58.1Q97.1 57 98.7 54.5M94.3 58.1Q96 55.7 98.7 54.5M98.7 54.5Q98.5 56.9 100.7 58.1M29.1 89.4Q30.2 90.6 31.9 90.5M29.1 89.4Q30.7 89.2 31.9 90.5M27.6 91.4Q28.8 90.8 29.1 89.4M27.6 91.4Q28 90.2 29.1 89.4M118.1 169.4Q120.7 167.2 124.1 167.2M119.2 169.4Q121.8 168.5 124.1 167.2M122.9 163Q119.5 165.4 118.1 169.4M123.9 166.1Q121.3 167.4 119.2 169.4M125.6 164.6Q120.9 165.5 118.1 169.4M125.6 164.6Q122.8 168.5 118.1 169.4M10.6 124.5Q9.3 123.7 7.9 124.5M10.6 124.5Q9.3 125 7.9 124.5M6.4 128.2Q8.1 126.8 7.9 124.5M6.4 128.2Q6.2 126 7.9 124.5M7.6 129Q8.9 126.6 10.6 124.5M130 112.4Q131.8 111.7 132.2 109.8M130 112.4Q130.3 110.5 132.2 109.8M131.5 111.5Q132.2 110.8 132.2 109.8M131.5 111.5Q130.9 112.2 130 112.4M131.7 110.3Q131.9 110.9 131.5 111.5M130.8 110Q131.2 110.3 131.7 110.3M132.2 109.8Q133.5 116.5 127.3 119.5M75.4 72.1Q74.4 69.7 71.9 69.6M71.5 69.6Q73 71.5 75.4 72.1M76.7 72.5Q74.8 70.2 71.9 69.6M76.7 72.5Q73.8 71.8 71.9 69.6M76.7 72.5Q75.5 76.5 71.4 77M36.3 84.5Q33.9 85.2 33.1 87.5M34.2 84.3Q32.8 85.7 33.1 87.5M34.2 84.3Q34.1 86.1 33.1 87.5M39.6 146.5Q42.7 147.7 45.5 149.4M40.8 151.4Q43.6 151.4 45.5 149.4M40.8 151.4Q42.7 149.2 45.5 149.4M40.8 151.9Q41.9 148.8 39.6 146.5M41.6 143.5Q44 146.1 45.5 149.4M44 148.9Q42.6 150.6 40.8 151.9M104.3 154.7Q104.5 152.5 102.9 151M104.3 154.7Q102.8 153.2 102.9 151M106.1 150.3Q104.4 150.1 102.9 151M106.1 150.3Q104.6 151.2 102.9 151M106.1 150.3Q104 152 104.3 154.7M106.1 150.3Q106.2 152.9 104.3 154.7M106.8 149.1Q104.6 149.5 102.9 151M106.8 149.1Q105.3 150.9 102.9 151M106.8 149.1Q106.3 149.6 106.1 150.3M104.3 154.7Q107 147.5 114.3 145.4M66.1 119.2Q67.3 118.6 67.7 117.4M66.1 119.2Q66.4 117.8 67.7 117.4M64.4 117.2Q66 117.4 67.7 117.4M68 119.4Q68.3 118.3 67.7 117.4M68 119.4Q67.4 118.4 67.7 117.4M68 119.4Q66.4 117.8 64.4 117.2M89.5 37.4Q90.4 37.7 91.4 37.4M90 34.6Q90.3 36.2 91.4 37.4M90 34.6Q91.5 35.6 91.4 37.4M88.9 39.1Q88.9 36.8 90 34.6M93.4 40.4Q91.1 40.1 88.9 39.1M91 36.4Q89.4 37.4 88.9 39.1M91 36.4Q90.3 38.1 88.9 39.1M91 36.4Q93.1 37.9 93.4 40.4M73.3 111.1Q73.3 111.7 73.8 112.1M74.6 109.4Q73.7 110.6 73.8 112.1M74.6 109.4Q74.7 110.9 73.8 112.1M73.5 111.1Q73.5 111.6 73.8 112.1M73.5 111.1Q73.8 111.5 73.8 112.1M73.5 113.2Q74.1 112.2 73.5 111.1M73.5 113.2Q73 112.1 73.5 111.1M73.5 113.2Q77.8 113.2 79.3 117.3M52.5 161.2Q51.4 162.1 49.9 162.5M52.5 157.8Q50.6 159.8 49.9 162.5M52.5 157.8Q52.1 160.6 49.9 162.5M45 161.8Q47.4 162.9 49.9 162.5M45 161.8Q47.6 161.3 49.9 162.5M45 161.8Q48.7 161 52.5 161.2M49.6 156.2Q48.9 159.4 49.9 162.5M49.6 156.2Q51.6 159.2 49.9 162.5M49.9 162.5Q45.8 156.2 38.8 159M50.5 148Q52.4 149.5 53.4 151.7M51.7 154.5Q53.3 153.5 53.4 151.7M51.7 154.5Q51.9 152.7 53.4 151.7M51.7 154.5Q53.2 150.9 50.5 148M121.8 159.7Q122.9 160.2 123.8 159.5M121.8 159.7Q122.8 159.2 123.8 159.5M125.7 160.6Q124.9 159.8 123.8 159.5M125.7 160.6Q123.8 159.7 121.8 159.7M125.7 160.6Q123.6 160.6 121.8 159.7M121.5 160.3Q122.8 160.2 123.8 159.5M121.5 160.3Q122.5 159.4 123.8 159.5M121.7 158.1Q122.3 159.4 123.8 159.5M125.7 160.6Q121.4 161.6 118.3 158.4M141.5 104.3Q140.1 103.7 139.6 102.2M138.4 105.1Q140.1 105.6 141.5 104.3M138.4 105.1Q139.7 103.8 141.5 104.3M140.1 104.2Q139 104.3 138.4 105.1M140.1 104.2Q139.4 105 138.4 105.1M64.7 34.5Q64.6 38.5 67.7 41.1M64.7 34.5Q68 36.9 67.7 41.1M65.1 40Q64.7 37.3 64.7 34.5M69.5 41.2Q68.3 36.9 64.7 34.5M69.5 41.2Q65.4 39.1 64.7 34.5M70.9 40.4Q70 40.4 69.5 41.2M70.9 40.4Q70.4 41 69.5 41.2M63.7 35.8Q63.2 38.3 65.1 40M63.7 35.8Q65.8 39.4 69.5 41.2M64.7 34.5Q60.5 37.5 55.6 36M107 177.2Q105.2 177 103.6 177.6M107 177.2Q105.4 178.3 103.6 177.6M110.6 174.6Q109.4 176.8 107 177.2M103.6 177.6Q103.5 182.2 99 183.1M138.7 162.5Q136.4 161.4 134.2 160M139.2 162.5Q137.5 159.8 134.2 160M139.2 162.5Q136.1 162.4 134.2 160M136.6 161.7Q135.6 160.6 134.2 160M139.2 162.5Q137.9 159.5 136.4 156.6M49.1 91.5Q47.7 90.4 45.9 91M49.1 91.5Q47.4 92.2 45.9 91M46.5 90.4Q47.7 91.2 49.1 91.5M49.1 91.5Q44.3 89.6 39.3 88.1M59.4 103Q63.9 102.7 66.2 98.8M66.2 102.5Q67.3 100.7 66.2 98.8M64.4 98.4Q64.3 100.9 66.2 102.5M64.4 98.4Q66.1 100.1 66.2 102.5M64.4 98.4Q58.7 101.8 54.4 96.8M115.1 113.9Q114.9 114.9 115.7 115.6M115.1 113.9Q115.8 114.6 115.7 115.6M114.6 116.7Q115.2 115.4 115.1 113.9M114.6 116.7Q114.2 115.2 115.1 113.9M118.3 114.3Q116.8 113.4 115.1 113.9M118.3 114.3Q116.6 114.7 115.1 113.9M113.8 113Q115.7 114.9 118.3 114.3M113.8 113Q116.4 112.6 118.3 114.3M112.6 114.3Q114 115.2 115.7 115.6M112.6 114.3Q113.2 115.9 114.6 116.7M112.6 114.3Q113.9 115.2 114.6 116.7M155.6 99Q156.5 101 158.4 101.9M155.6 99Q157.5 99.9 158.4 101.9M155 98.6Q157.6 99.3 158.4 101.9M155.7 101.5Q156.1 99.9 155 98.6M155.7 101.5Q155 100.1 155 98.6M155.7 101.5Q160.4 98.8 162.3 93.7M86 95.6Q86 97.3 87.2 98.6M86 95.6Q87.1 96.9 87.2 98.6M87.8 97.9Q87.3 98.1 87.2 98.6M85.8 95.9Q86 95.8 86 95.6M85.8 95.9Q86.5 97.2 87.8 97.9M85.3 97.5Q85.8 96.8 85.8 95.9M76.3 92.3Q72.2 92.7 70.4 96.4M76.9 96.7Q73.6 98 70.4 96.4M71.7 90.9Q70 93.4 70.4 96.4M71.7 90.9Q71.7 93.8 70.4 96.4M71.9 94.1Q73.8 96.5 76.9 96.7M71.9 94.1Q74.8 94.6 76.9 96.7M32.4 62Q35.1 65.2 39.3 65.7M37.9 66.5Q38.8 66.5 39.3 65.7M6.5 114.7Q6 114.6 5.6 114.9M6.5 114.7Q6.1 114.9 5.6 114.9M13.8 75.4Q14.6 76.4 15.7 76.8M13.8 75.4Q14.9 75.9 15.7 76.8M19.1 80.7Q18 76.5 13.8 75.4M19.1 80.7Q15.2 79.3 13.8 75.4M72.5 121.8Q73.2 124 75.5 124.3M71.4 125.4Q72.6 123.8 72.5 121.8M71.4 125.4Q71.3 123.4 72.5 121.8M71.4 125.4Q68.8 122.8 65.7 124.7M123.1 141.6Q121.7 142.2 120.4 141.3M119.2 141.6Q121.1 142.6 123.1 141.6M119.2 141.6Q121.2 140.5 123.1 141.6M119.7 141.1Q119.3 141.1 119.2 141.6M119.2 142.1Q119.7 141.7 119.7 141.1M119.2 142.1Q121.7 142.6 123.7 144.2M87.6 107.9Q85.2 105.6 82.1 106.6M87.6 107.9Q84.5 108.6 82.1 106.6M83.8 104.4Q82.6 105.2 82.1 106.6M83.8 104.4Q83.3 105.8 82.1 106.6M83.8 104.4Q85.2 106.7 87.6 107.9M83.8 104.4Q86.1 105.6 87.6 107.9M83.2 108.3Q83.1 107.2 82.1 106.6M83.2 108.3Q82.3 107.7 82.1 106.6M83.2 108.3Q85.5 109 87.6 107.9M83.2 108.3Q85.3 107.1 87.6 107.9M61.4 156.8Q61.6 156.5 61.9 156.3M55.6 36Q58.2 36.7 59.8 38.9M60.2 34.1Q58.5 36.6 55.6 36M149.9 152.5Q150.5 152.6 151.1 152.3M149.9 152.5Q150.5 152.2 151.1 152.3M151.8 147.4Q150.9 149.8 151.1 152.3M151.8 147.4Q152.1 150 151.1 152.3M151.8 147.4Q150.4 149.8 149.9 152.5M87 68Q86.2 68 85.5 68.4M87 68Q86.3 68.6 85.5 68.4M87 71.6Q87.7 69.8 87 68M87 71.6Q86.3 69.8 87 68M87 68Q89.6 64.6 93.5 63M25.1 157.1Q24.7 159 23 159.9M29.7 155.8Q25.9 157.1 23 159.9M25.3 159.2Q24.1 159.3 23 159.9M25.1 157.1Q29.7 158.9 34.6 160M27.3 88.2Q26.7 86 24.9 84.7M27.3 88.2Q26.1 83.5 28.4 79.4M72.5 108.9Q70.9 107.9 70.5 106.2M65.3 105.1Q67.6 107.1 70.5 106.2M65.3 105.1Q68 105 70.5 106.2M64.1 110.5Q68.5 111 72.5 108.9M64.1 110.5Q68 108.4 72.5 108.9M64.3 111.2Q68.8 110.4 70.5 106.2M64.3 111.2Q66.7 107.7 70.5 106.2M65.3 105.1Q61.5 107 59.3 110.6M30.7 68.3Q30.4 71 32.6 72.5M30.7 68.3Q32.6 70 32.6 72.5M25.3 67.2Q28.9 70 32.6 72.5M29.4 72.8Q30.9 71.7 32.6 72.5M29.4 72.8Q29.1 70.3 30.7 68.3M25.8 69.4Q25.9 68.3 25.3 67.2M25.8 69.4Q27.1 71.7 29.4 72.8M25.8 69.4Q28.4 70.2 29.4 72.8M31.9 73.7Q32.5 73.2 32.6 72.5M31.9 73.7Q32.1 73 32.6 72.5M31.9 73.7Q30.8 71.1 30.7 68.3M32.6 72.5Q34.2 73 34.3 74.6M151.9 142.2Q149.8 143 147.6 142.4M147.6 141.9Q147.6 142.1 147.6 142.4M92.6 70.9Q94.6 71.9 96.7 71M92.6 70.9Q94.7 69.7 96.7 71M93.9 71.7Q93.1 71.5 92.6 70.9M92.6 70.9Q95 73 96.4 75.9M44.2 72.3Q42.4 68.1 44.8 64.3M42.7 69.5Q45.2 67.5 44.8 64.3M40 69Q41.3 69.8 42.7 69.5M40 69Q41.4 68.8 42.7 69.5M57.9 134.1Q59 135.1 60.4 135M57.9 134.1Q59.3 134.2 60.4 135M57.9 134.1Q52.7 138.7 45.7 138.3M15.1 109.1Q14.5 109.1 14 109.4M15.1 109.1Q14.7 109.5 14 109.4M12.3 114.6Q13.3 111.6 15.1 109.1M14.3 109.1Q14.2 109.3 14 109.4M15.1 109.1Q10.7 111.2 10 116.1M93.8 154.8Q90.6 153.3 90.1 149.8M95.8 153.7Q95.1 154.8 93.8 154.8M94.9 152.7Q92.5 151.3 90.1 149.8M94.9 152.7Q94 153.5 93.8 154.8M94.9 152.7Q94.8 154 93.8 154.8M91.7 155.3Q92.1 152.3 90.1 149.8M91.7 155.3Q89.8 152.9 90.1 149.8M94.9 152.7Q101.4 152.7 106.8 149.1M107.6 79.8Q107.7 78.5 108.9 78M106.9 81.9Q107.2 80.9 107.6 79.8M107.3 80.4Q106.7 81 106.9 81.9M107.3 80.4Q107.3 81.2 106.9 81.9M66.4 63.8Q65.8 63.7 65.2 63.9M66.4 63.8Q65.8 64.2 65.2 63.9M65.6 65.6Q65.8 64.7 65.2 63.9M65.6 65.6Q65 64.8 65.2 63.9M66.4 63.8Q62.9 65.6 59.3 64.3M89.7 101Q91.1 102.1 92.8 102.1M89.7 101Q91.4 101.1 92.8 102.1M93.1 97.9Q92.7 100 92.8 102.1M93.1 97.9Q90.5 98.5 89.7 101M93.1 97.9Q91.9 100 89.7 101M57.3 128.2Q56 130.9 56.5 133.8M51.4 130Q53.6 132.3 56.5 133.8M51.4 130Q54.1 128.6 57.3 128.2M54.1 126.8Q55.5 130.2 56.5 133.8M54.5 133.8Q55.5 134 56.5 133.8M54.5 133.8Q52.6 132.2 51.4 130M55.3 129.9Q56.8 129.7 57.3 128.2M55.3 129.9Q53.3 129.6 51.4 130M54.4 96.8Q55.3 99.1 56.7 101.1M53.6 99.5Q54.6 98.3 54.4 96.8M53.6 99.5Q53.7 98.1 54.4 96.8M56.8 99.5Q56.9 100.4 56.7 101.1M58 96.9Q55.1 97 53.6 99.5M58 96.9Q56.5 99.3 53.6 99.5M112.3 161.9Q113.1 162 113.7 161.6M112.3 161.9Q113 161.4 113.7 161.6M117.5 161Q115.5 160.5 113.7 161.6M117.5 161Q114.9 161.1 112.3 161.9M117 164.4Q114.9 163.6 113.7 161.6M117 164.4Q117 162.7 117.5 161M113.7 160.2Q113.3 161.2 112.3 161.9M113.7 160.2Q115.4 161.3 117.5 161M113.7 160.2Q115.7 160 117.5 161M113.7 160.2Q111.8 165.5 113.9 170.8M118.8 157.6Q118.7 158.1 118.3 158.4M143.6 81.5Q143.4 81.3 143.1 81.3M143.6 81.5Q143.3 81.5 143.1 81.3M149.3 93.1Q150.1 92.1 151.2 91.4M152.3 89.6Q151.3 90.2 151.2 91.4M152.3 89.6Q152.3 90.8 151.2 91.4M150.5 91.1Q151.8 90.8 152.3 89.6M150.5 91.1Q151.2 90 152.3 89.6M26.4 112.4Q25.1 112.1 23.8 112.1M21.6 112Q22.7 111.9 23.8 112.1M23.8 112.1Q22.6 114.3 22.8 116.8M96.2 96.4Q94.2 94.5 91.6 94.6M96.2 96.4Q93.4 96.7 91.6 94.6M96.9 95.7Q94.3 95.1 91.6 94.6M97.5 94.8Q97.5 95.4 96.9 95.7M99.2 96.4Q97.7 96.8 96.2 96.4M94.7 94.2Q94.8 95.7 96.2 96.4M96.2 96.4Q96.8 90.3 93.6 85.2M75.1 65.2Q73.8 66.1 72.4 66.6M71.4 62Q71.6 64.4 72.4 66.6M71.4 62Q72.4 64.5 75.1 65.2M71.4 62Q74 62.8 75.1 65.2M75 62.3Q74.3 64.9 72.4 66.6M116.2 45.1Q117.9 48.4 120.9 50.6M134.2 48.9Q134 48.8 133.9 48.7M134.9 45.6Q134.7 47.3 134.2 48.9M131.9 50.5Q134.5 48.7 134.9 45.6M131.9 50.5Q132 47.2 134.9 45.6M142.5 152.6Q143 156.1 146 157.9M142.5 152.6Q145.1 154.7 146 157.9M144.8 155.6Q143.6 154.1 142.5 152.6M145.8 156.7Q145.8 157.3 146 157.9M132.1 158Q136.5 160.8 141.2 158.5M132.1 158Q136.7 156.5 141.2 158.5M132.1 151Q135.5 156.2 141.2 158.5M132.1 151Q138.6 152.4 141.2 158.5M136.4 156.6Q133.8 156 132.1 158M132.1 151Q135.2 152.9 134.3 156.4M34.3 74.6Q35 73.8 35.1 72.8M34.3 74.6Q34.4 73.6 35.1 72.8M39.8 71.2Q36.3 71.7 34.3 74.6M39.8 71.2Q37.7 73.9 34.3 74.6M78.4 28.4Q77.8 28.8 77.2 28.4M74.7 27.6Q75.8 28.6 77.2 28.4M74.7 27.6Q76.1 27.7 77.2 28.4M74.7 27.6Q76.4 28.8 78.4 28.4M74.7 27.6Q76.7 27.3 78.4 28.4M86.5 175.9Q85.9 177.6 84.8 179.2M84.7 177.9Q85.2 176.5 86.5 175.9M87.9 175.8Q85.8 177 84.8 179.2M87.9 175.8Q87 178.1 84.8 179.2M84.7 177.9Q87.8 180.4 88.8 184.2M65 127.2Q68.7 127.4 70.9 124.4M65.7 124.7Q68.4 125.9 70.9 124.4M65.7 124.7Q68.3 123.9 70.9 124.4M70.9 124.4Q68.5 121.3 67.7 117.4M60.6 125.1Q59.1 123.8 57.1 123.7M60.6 125.1Q58.4 125.4 57.1 123.7M60.2 122.8Q58.5 122.8 57.1 123.7M60.2 122.8Q58.7 123.7 57.1 123.7M60.2 122.8Q61.2 123.8 60.6 125.1M57.1 123.7Q55.9 126 57.3 128.2M99 183.1Q98.1 183.6 97.3 184.2M120.6 152.3Q123.3 150.8 122.9 147.7M80.5 103.3Q77.3 103.1 75.4 105.7M80.5 103.3Q78.5 105.6 75.4 105.7M82.1 102.9Q78.3 103.3 75.4 105.7M82.1 102.9Q79.1 105.2 75.4 105.7M82.1 102.9Q81.4 103.5 80.5 103.3M76.3 106.9Q78 103.1 82.1 102.9M80.5 103.3Q80 105.6 82.1 106.6M50.3 41.6Q50.5 38.3 50.8 35.1M46.1 40.3Q47.9 42.1 50.3 41.6M46.1 40.3Q48.5 39.9 50.3 41.6M50.1 40.2Q49.6 37.5 50.8 35.1M50.1 40.2Q47.3 42.5 49.2 45.6M52.9 180.3Q52.3 181.2 51.3 181.7M51.5 177.8Q50.9 179.7 51.3 181.7M51.5 177.8Q52.6 179.8 51.3 181.7M51.5 177.8Q51.7 179.3 52.9 180.3M55.4 180.9Q54.2 180.2 52.9 180.3M55.4 180.9Q54.1 180.9 52.9 180.3M55.4 180.9Q53.4 179.4 51.5 177.8M51.3 181.7Q51.6 175 47.9 169.4M88.7 186.2Q88 185.6 87.2 185M95.4 178.6Q90.1 180.8 88.7 186.2M95.4 178.6Q94.3 184.4 88.7 186.2M94.7 186.8Q90.7 186.8 87.2 185M94.7 186.8Q96.4 182.8 95.4 178.6M94.7 186.8Q93.7 182.6 95.4 178.6M91.7 181.5Q89.7 183.5 87.2 185M91.7 181.5Q90.6 184.1 88.7 186.2M88.8 184.2Q88.1 184.7 87.2 185M88.7 186.2Q88.1 181.9 84.8 179.2M59.3 110.6Q61.1 111.5 62.8 110.2M59.3 110.6Q60.9 109.6 62.8 110.2M101.8 33.2Q102 34.5 102.8 35.5M104.5 35.7Q102.7 35 101.8 33.2M103.6 32.8Q103.5 34.4 104.5 35.7M131.5 89.8Q133.5 91.6 136.1 90.7M131.5 89.8Q134 89.2 136.1 90.7M136.1 90.7Q137.7 89.1 139.5 90.5M109.4 163.7Q108.9 163.8 108.8 164.3M109.4 163.7Q109.2 164.1 108.8 164.3M112.1 165.4Q110.4 164.8 108.8 164.3M108.8 164.3Q113.2 168 118.1 171.1M89.4 33.6Q88.9 31.8 87.3 30.8M88.3 30.7Q87.8 30.6 87.3 30.8M88.3 30.7Q87.8 30.9 87.3 30.8M89 32.4Q89 33.1 89.4 33.6M89 32.4Q79.8 36 74.7 27.6M82.5 85Q80.8 86.3 80.7 88.4M82.5 85Q82.2 87 80.7 88.4M84.4 90.7Q82.5 89.6 80.7 88.4M83.3 89.2Q81.8 89.4 80.7 88.4M85.9 85.9Q82.6 85.8 80.7 88.4M85.9 85.9Q84 88.6 80.7 88.4M85.9 85.9Q81.7 87.3 79.7 91.2M51.1 142.9Q54.2 142.1 57.3 142.7M52.8 146.3Q52.7 144.2 51.1 142.9M52.8 146.3Q50.9 145.1 51.1 142.9M56 146.4Q57.2 144.7 57.3 142.7M56 146.4Q54.4 143.4 51.1 142.9M105.7 107Q105.5 105.7 104.3 105.1M105.7 107Q104.5 106.4 104.3 105.1M107.2 104Q106 105.2 105.7 107M107.2 104Q107.1 105.8 105.7 107M101.9 104.2Q104.6 104.8 107.2 104M107.2 104Q101.3 108.4 94 108M112.2 44.2Q113.3 43.7 113.6 42.6M112.2 44.2Q112.7 43.1 113.6 42.6M111.7 48.8Q113.3 45.9 113.6 42.6M111.7 48.8Q112.9 46.6 112.2 44.2M111.7 48.8Q110.9 46.4 112.2 44.2M111.6 44.1Q112.9 43.8 113.6 42.6M111.6 44.1Q112.2 42.8 113.6 42.6M111.6 44.1Q111.9 44 112.2 44.2M107.1 47.7Q109.2 43.6 113.6 42.6M105.9 120.6Q104.7 119.1 102.8 118.8M105.9 120.6Q104 120.3 102.8 118.8M101 123.4Q104.2 123.4 105.9 120.6M101 123.4Q102.8 120.9 105.9 120.6M103.6 119.1Q103.3 118.8 102.8 118.8M102.6 124.5Q105.1 123.3 105.9 120.6M102.6 124.5Q103.1 121.6 105.9 120.6M102.6 124.5Q103.8 122 103.6 119.1M102.6 124.5Q101.9 121.6 103.6 119.1M131.4 167.3Q128.9 165.7 126.5 167.4M131.4 171.2Q132.5 169.2 131.4 167.3M131.4 171.2Q130.8 169.2 131.4 167.3M126.7 170Q128.9 171.2 131.4 171.2M126.7 170Q129.3 169.4 131.4 171.2M127.1 168.5Q128.5 171 131.4 171.2M127.1 168.5Q129.8 169 131.4 171.2M131.4 166.8Q131.1 169 131.4 171.2M131.4 166.8Q123.7 162.8 118.1 169.4M145.2 78.2Q148 77.6 149.9 75.6M145.2 78.2Q146.8 75.6 149.9 75.6M149.8 72.8Q149.1 74.2 149.9 75.6M149.8 72.8Q150.4 74.2 149.9 75.6M149.4 78.8Q150.1 77.2 149.9 75.6M149.4 78.8Q148.9 77.1 149.9 75.6M149.4 78.8Q147.5 77.7 145.2 78.2M149.4 78.8Q147.2 79.3 145.2 78.2M147.8 71.3Q148.6 72.3 149.8 72.8M147.8 71.3Q149.1 71.6 149.8 72.8M149.4 78.8Q145.2 73.4 138.6 75.2M112 153.9Q110.6 153.5 109.6 154.4M112 153.9Q110.9 154.7 109.6 154.4M108.2 154.2Q110.1 154.4 112 153.9M110.3 156.3Q111.8 155.6 112 153.9M110.3 156.3Q110.5 154.7 112 153.9M111.9 154.2Q111.4 155.4 110.3 156.3M113.2 156.9Q112 154.8 109.6 154.4M113.2 156.9Q110.7 156.6 109.6 154.4M111.9 154.2Q119 157.1 117 164.4M79.5 78.8Q82.3 78.7 84.2 76.7M79.5 78.8Q81.6 77 84.2 76.7M84 77.6Q84.4 77.2 84.2 76.7M79.5 78.8Q77.5 75.9 74.1 75M46.9 77.3Q44 75.4 40.6 74.9M44.6 75.9Q42.8 74.5 40.6 74.9M44.6 75.9Q42.4 76.2 40.6 74.9M46.9 77.3Q39.5 78.9 35.1 72.8M115.7 175.6Q113.5 174.6 111.6 176M115.7 175.6Q113.8 177 111.6 176M114.8 175.4Q113 174.9 111.6 176M115 176.3Q115 175.8 114.8 175.4M115 176.3Q114.6 175.9 114.8 175.4M117.9 174.8Q114.9 176.2 111.6 176M117.9 174.8Q116.4 175.8 114.8 175.4M111.6 176Q114.5 173.1 118.1 171.1M84 185.6Q83.5 185.5 83.1 185.7M84 185.6Q83.5 185.9 83.1 185.7M84 179.9Q82.3 182.7 84 185.6M84 179.9Q85.6 182.8 84 185.6M104.1 54.2Q103.1 53.9 102.2 54.3M104.1 54.2Q103.2 54.6 102.2 54.3M101.2 55.9Q102.3 54.4 104.1 54.2M100.1 55.2Q102.3 55.7 104.1 54.2M100.1 55.2Q101.8 53.7 104.1 54.2M103.8 49.2Q102.7 52.7 100.1 55.2M104.1 54.2Q97.5 56.9 98.4 63.9M94.7 112.3Q94.9 111.8 94.5 111.3M94.7 112.3Q94.4 111.9 94.5 111.3M93.1 111.2Q93.8 111.6 94.5 111.3M95.1 114.3Q94.9 112.2 93.1 111.2M95.1 114.3Q93.3 113.2 93.1 111.2M94.1 111.3Q93.6 111 93.1 111.2M94.1 111.3Q93.5 111.5 93.1 111.2M94.1 111.3Q94 113 95.1 114.3M94.1 111.3Q94.9 112.7 95.1 114.3M94.1 111.3Q98.8 111.8 103.6 111.6M113.9 170.8Q115.6 171.7 117.3 171M113.9 170.8Q115.6 170.2 117.3 171M118 166.8Q115.6 168.3 113.9 170.8M113.4 168.7Q113.2 169.9 113.9 170.8M113.4 168.7Q113.9 169.7 113.9 170.8M113.4 168.7Q116 168.4 118 166.8M113.4 168.7Q115.3 166.8 118 166.8M118.1 171.1Q117.7 171.1 117.3 171M118.1 171.1Q116 170.9 113.9 170.8M112.8 166.6Q112.2 169 113.9 170.8M112.8 166.6Q114.3 168.4 113.9 170.8M112.8 166.6Q115.8 168.4 118.1 171.1M73.8 130.4Q72.5 131.8 72.2 133.7M73.8 130.4Q73.5 132.3 72.2 133.7M77.5 133.9Q74.8 133.9 72.2 133.7M22.3 97.3Q25.6 94.2 26.1 89.7M22.3 97.3Q18.7 98.9 18.9 102.8M122.8 122.8Q123.8 123.7 125.2 123.5M127 121.8Q126.1 122.6 125.2 123.5M127 121.8Q124.7 121.4 122.8 122.8M127 121.8Q125.1 122.8 122.8 122.8M123.5 125.5Q124.7 124.8 125.2 123.5M123.5 125.5Q124 124.2 125.2 123.5M123.5 125.5Q125.8 124.1 127 121.8M124.2 129.6Q121.4 126.7 122.8 122.8M127.4 127.2Q125.9 124.2 122.8 122.8M127.4 127.2Q125.5 128 124.2 129.6M127 121.8Q129.1 122.4 129.2 124.6M147.2 93.1Q145.7 96 142.4 96.1M142.4 95.3Q144.7 93.9 147.2 93.1M147 96.3Q144.5 96.8 142.4 95.3M143.3 93.2Q142.6 94.2 142.4 95.3M155.8 138.5Q153.4 138.6 151.1 139.3M123.7 144.2Q125 143.3 125.1 141.7M127.6 144.8Q126.9 142.9 125.1 141.7M127.6 144.8Q125.5 144 125.1 141.7M127.6 144.8Q125.8 143.5 123.7 144.2M125.5 142.1Q125.2 141.9 125.1 141.7M125.1 141.7Q124.1 142.1 123.1 141.6M127.4 146.2Q128.5 144.9 128.9 143.2M127.4 146.2Q127.6 144.4 128.9 143.2M127.4 146.2Q132.6 144.7 137.4 147.3M39.3 88.1Q39.6 85.7 38.1 83.9M99.1 112.2Q99.5 112.1 99.6 111.7M99.1 112.2Q99.2 111.8 99.6 111.7M102.9 114.6Q100.9 113.5 99.6 111.7M99.7 113.8Q99.2 112.8 99.6 111.7M99.7 113.8Q101.4 113.7 102.9 114.6M103.6 111.6Q101.6 110.6 99.6 111.7M103.6 111.6Q101.6 112.7 99.6 111.7M103.6 111.6Q102.6 112.9 102.9 114.6M103.6 111.6Q103.9 113.2 102.9 114.6M22.8 116.8Q21.7 115.3 19.9 115.8M99.2 59.6Q101.7 58.5 104.3 57.5M100.7 58.1Q102.7 58.9 104.3 57.5M98.4 63.9Q102.3 61.6 104.3 57.5M99.9 63.4Q101.1 60.9 100.7 58.1M99.9 63.4Q99.6 60.6 100.7 58.1M99.9 63.4Q99.2 63.8 98.4 63.9M104.6 63.8Q103 60.2 99.2 59.6M104.6 63.8Q100.9 63 99.2 59.6M104.6 63.8Q109.5 61.7 110.2 56.4M29.7 118.3Q29.5 118.8 29 118.9M31.6 121.7Q30.8 119.9 29 118.9M31.6 121.7Q29.5 121 29 118.9M31.6 121.7Q31.5 119.5 29.7 118.3M31.6 121.7Q30.1 120.3 29.7 118.3M29 118.9Q24.4 116.5 21.6 112M92.3 34.9Q95.2 35 97 32.8M92.3 34.9Q94.3 32.9 97 32.8M95.4 34.5Q96.7 34.1 97 32.8M95.4 34.5Q96 33.4 97 32.8M95.4 34.5Q93.8 34.1 92.3 34.9M95.4 34.5Q93.9 35.2 92.3 34.9M97.8 35.2Q95.1 34 92.3 34.9M97.8 35.2Q95 36.3 92.3 34.9M97.8 35.2Q96.8 34.2 95.4 34.5M97.8 35.2Q96.4 35.3 95.4 34.5M97.8 35.2Q96.6 35.4 96.6 36.5M10.2 133.6Q8.5 133.7 7.1 134.6M10.2 133.6Q8.9 134.9 7.1 134.6M8 134.7Q7.6 134.4 7.1 134.6M8 134.7Q7.5 134.8 7.1 134.6M12.5 130.1Q9.3 131.6 8 134.7M12.5 130.1Q11.3 133.5 8 134.7M7.1 134.6Q5.3 125.9 10.4 118.7M59 151.5Q58.9 148.4 56.2 147M62.8 149.1Q59.2 149.1 56.2 147M59.3 148.4Q58 147 56.2 147M59.3 148.4Q57.4 148.6 56.2 147M62.5 145Q63 147 62.8 149.1M88.5 67Q90.4 66.4 91.2 64.6M93.5 63Q91.9 63.2 91.2 64.6M90.3 66.1Q91.5 64.2 93.5 63M54.1 163.4Q53.7 161.5 54 159.6M61.2 160.1Q57.7 158.2 54 159.6M61.2 160.1Q57.5 161.5 54 159.6M61.2 160.1Q57.9 162.3 54.1 163.4M59 159.4Q56.5 161.3 54.1 163.4M59 159.4Q60 160.2 61.2 160.1M59 159.4Q60.2 159.5 61.2 160.1M59 159.4Q56.8 163.1 52.9 164.8M121.4 172Q121.7 172.6 122.4 172.6M121.4 172Q122 172.1 122.4 172.6M124.8 171.8Q123.7 172.5 122.4 172.6M124.8 171.8Q123.1 171.8 121.4 172M125.2 171.8Q123.2 170.8 121.4 172M125.2 171.8Q123.3 172.8 121.4 172M125.2 171.8Q126.4 168.5 123.9 166.1M86.3 119.9Q86.2 120.4 86.6 120.8M86.3 119.9Q86.6 120.3 86.6 120.8M83.8 116.3Q86.2 117.3 86.3 119.9M92.4 121.5Q86.5 121.5 83.8 116.3M89.1 118.3Q87.2 118.9 86.6 120.8M89.1 118.3Q88.3 120.1 86.6 120.8M89.1 118.3Q86.9 116.1 83.8 116.3M89.1 118.3Q86 118.5 83.8 116.3M89.1 118.3Q83.7 122.2 79.3 117.3M98.6 85.6Q98.8 86.3 99.5 86.7M98.6 85.6Q99.2 86 99.5 86.7M103.3 86.6Q101.4 87.1 99.5 86.7M103.3 86.6Q100.9 86.5 98.6 85.6M98.6 85.6Q94 85.6 91.2 89.2M87.6 83Q89.2 84.2 89.4 86.2M129.6 46.8Q128.6 43.8 126.1 42M129.6 46.8Q126.6 45.3 126.1 42M128.1 44.2Q127.7 42.5 126.1 42M128.1 44.2Q126.5 43.6 126.1 42M128.1 44.2Q128.4 45.7 129.6 46.8M125 47.7Q127.3 45.2 126.1 42M125 47.7Q124.8 44.7 126.1 42" stroke="#6CC8A9" stroke-width="0.8" fill="none"/><path d="M106.7 162Q100.9 142.6 114.8 132.8M107.5 45.3Q120.6 46.3 122.5 43.6M111.1 128.2Q120.3 142.3 126.3 159.4M78.5 68Q88 71.2 101.3 88.6M25.7 152.4Q50.1 154.4 50.5 170.5M90.2 57Q92.8 63.3 109.7 66.7M40.3 76Q52.4 74.2 65.2 69.4M111.2 51.1Q119.9 53.3 120.9 70.4M15.3 81Q22.5 88.6 9.6 110.4M76.2 163.6Q78 171.5 83.2 177.6M35 163.9Q30.2 150.1 13.2 131M113.8 114.4Q122.1 82 102.4 78.5M60.9 69.6Q73.6 65.4 69.6 45.9M39.4 82.4Q35.3 87.5 21.8 82.8M41.7 65.8Q56.1 55.6 53.5 47M155 121.9Q153.9 112.3 151.1 107.4M64.9 128.4L63.1 124.5M64.9 128.4L60 126.5M64.9 128.4L61.1 132.6M64.9 128.4L63.1 124.5M60.7 124.1L63.1 124.5M60.7 124.1L60 126.5M60.7 124.1L57.9 126.9M60.7 124.1L61.1 132.6M63.1 124.5L60.7 124.1M63.1 124.5L60 126.5M63.1 124.5L64.9 128.4M63.1 124.5L57.1 130.1M57.1 130.1L57.3 127.3M57.1 130.1L59.7 131.9M57.1 130.1L57.9 126.9M66.3 137.2L61.1 132.6M66.3 137.2L59.7 131.9M66.3 137.2L64.9 128.4M57.9 126.9L57.3 127.3M57.9 126.9L60 126.5M57.9 126.9L57.1 130.1M61.1 132.6L59.7 131.9M61.1 132.6L57.1 130.1M61.1 132.6L64.9 128.4M59.7 131.9L61.1 132.6M59.7 131.9L57.1 130.1M59.7 131.9L57.3 127.3M60 126.5L57.9 126.9M60 126.5L60.7 124.1M60 126.5L57.3 127.3M57.3 127.3L57.9 126.9M57.3 127.3L57.1 130.1M57.3 127.3L60 126.5M112.6 123.6L111.2 123.3M112.6 123.6L114.9 120M112.6 123.6L116.6 125.5M118.4 107.7L115.5 109.2M118.4 107.7L113.9 111.8M118.4 107.7L117.3 115.9M115.5 109.2L113.9 111.8M115.5 109.2L118.4 107.7M115.5 109.2L117.3 115.9M116.6 125.5L118.1 127.6M116.6 125.5L112.6 123.6M116.6 125.5L118.6 130.6M111.3 119L113.4 118.9M111.3 119L114.9 120M111.3 119L111.2 123.3M113.9 111.8L115.5 109.2M113.9 111.8L117.3 115.9M113.9 111.8L118.4 107.7M118.6 130.6L118.1 127.6M118.6 130.6L121.9 133.1M118.6 130.6L116.6 125.5M114.9 120L113.4 118.9M114.9 120L111.3 119M114.9 120L112.6 123.6M117.3 115.9L119.8 116.9M117.3 115.9L120.6 117.3M117.3 115.9L114.9 120M121.6 123L116.6 125.5M121.6 123L120.6 117.3M121.6 123L118.1 127.6M119.8 116.9L120.6 117.3M119.8 116.9L117.3 115.9M119.8 116.9L114.9 120M121.9 133.1L118.6 130.6M121.9 133.1L118.1 127.6M121.9 133.1L116.6 125.5M111.2 123.3L112.6 123.6M111.2 123.3L111.3 119M111.2 123.3L113.4 118.9M120.6 117.3L119.8 116.9M120.6 117.3L117.3 115.9M120.6 117.3L121.6 123M113.4 118.9L114.9 120M113.4 118.9L111.3 119M113.4 118.9L112.6 123.6M118.1 127.6L116.6 125.5M118.1 127.6L118.6 130.6M118.1 127.6L121.6 123M97.6 175.2L95.5 177.2M97.6 175.2L102.8 174.4M97.6 175.2L93.9 181M93.9 181L95.5 177.2M93.9 181L97.6 175.2M93.9 181L102.8 180.9M102.8 180.9L104.7 177.5M102.8 180.9L104.2 177.2M102.8 180.9L102.8 174.4M102.8 180.9L104.2 177.2M104.7 177.5L104.2 177.2M104.7 177.5L102.8 174.4M104.7 177.5L102.8 180.9M95.5 177.2L97.6 175.2M95.5 177.2L93.9 181M95.5 177.2L102.8 174.4M95.5 177.2L95.5 177.2M104.2 177.2L104.7 177.5M104.2 177.2L102.8 174.4M104.2 177.2L102.8 180.9M104.2 177.2L95.5 177.2M102.8 174.4L104.2 177.2M102.8 174.4L104.7 177.5M102.8 174.4L97.6 175.2M119.3 50.2Q120.8 49.8 121.2 48.3M121.4 47.8Q121.4 48.1 121.2 48.3M125.7 47.8Q123.6 49.5 121.2 48.3M125.7 47.8Q123.1 50.4 119.3 50.2M124.7 46.7Q124.9 47.5 125.7 47.8M122.2 51.8Q121.2 50.2 119.3 50.2M125.7 47.8Q121 46.3 116.2 45.1M76.2 79.3Q79.5 78.8 82.7 79.5M78.6 88.1Q82.9 84.8 82.7 79.5M78.6 88.1Q78.3 83.5 76.2 79.3M82 82.6Q78.5 81.9 76.2 79.3M82 82.6Q79.6 84.9 78.6 88.1M75.1 81.8Q76.5 80.9 76.2 79.3M77.3 87Q76.9 83.1 76.2 79.3M77.3 87Q76 84.5 75.1 81.8M77.3 87Q79.8 88.4 79.7 91.2M112.7 71.4Q113.1 74.3 111.1 76.4M112.5 76.3Q111.8 76.2 111.1 76.4M112.4 75.2Q112.1 73.3 112.7 71.4M111.1 76.4Q106.6 73.7 101.8 75.8M103.7 92.4Q102.7 95.2 104 97.9M100.3 98.4Q102.2 98.5 104 97.9M103.7 97Q102.9 94.7 103.7 92.4M105.8 95.8Q104.4 96.5 104 97.9M103.7 97Q103.4 91.9 108.3 90.6M96.4 75.9Q98.2 76.8 99.3 78.6M101.8 75.8Q100.3 76.9 99.3 78.6M41.7 160.5Q44.9 158.9 45.9 155.5M38.8 159Q42.7 157.9 45.9 155.5M42.8 154.3Q41.9 157.6 38.8 159M123.8 138.7Q122.5 139.4 121.2 140.3M120.2 135.6Q120.9 137.9 121.2 140.3M120.2 135.6Q121.3 138 123.8 138.7M122.9 138.9Q123.4 138.8 123.8 138.7M120.2 134.2Q122.7 135.9 123.8 138.7M114 49.4Q113.3 50.6 112.6 51.8M115.5 49.9Q114.8 49.6 114 49.4M113.9 51.1Q113.3 51.5 112.6 51.8M113.9 51.1Q114.4 50.3 114 49.4M91.2 89.2Q92.3 86 95.7 85M95.8 89.2Q93.5 88.6 91.2 89.2M93.6 85.2Q95.3 86.9 95.8 89.2M91.6 88.3Q94.3 87.5 95.7 85M91.6 88.3Q93.4 89.9 95.8 89.2M91.6 88.3Q97.4 86.8 103.3 86.6M53.1 46.4Q53.2 48.6 52 50.4M18.9 102.8Q22.8 102.8 24.1 99.2M24.2 104.1Q21.5 103.8 18.9 102.8M18 104.7Q21.1 102 24.1 99.2M18 104.7Q21.2 105.8 24.2 104.1M50.1 138.5Q50.3 136.8 49.5 135.3M50 135.8Q49.9 135.4 49.5 135.3M45.7 138.3Q47.4 136.5 49.5 135.3M45.7 138.3Q47.8 139.9 50.1 138.5M49.3 137.2Q49.5 138 50.1 138.5M49.3 137.2Q47.7 138.3 45.7 138.3M50.6 140Q50.2 137.6 49.5 135.3M50.6 140Q54.9 141.9 56 146.4M151.3 102.1Q153 103.1 155 103.3M155.3 101.5Q153 100.5 151.3 102.1M150.6 97.5Q154.2 99.3 155 103.3M150.6 97.5Q150.9 99.9 151.3 102.1M148.8 96.5Q151.2 98.9 151.3 102.1M148.8 96.5Q149.9 96.7 150.6 97.5M148.8 96.5Q145.3 97.8 142.4 95.3M48.4 54.8Q49.2 58.5 52.8 59.6M52.4 58.4Q53 58.8 52.8 59.6M52.4 58.4Q50.6 56.4 48.4 54.8M51.2 57.8Q49.2 56.9 48.4 54.8M51.2 57.8Q52 57.7 52.4 58.4M48.4 54.8Q53.3 52 53.1 46.4M24.9 78.1Q26 78.8 26.8 79.7M28.4 79.4Q27.7 80 26.8 79.7M29.4 78.9Q27.4 77.1 24.9 78.1M29.4 78.9Q28.9 79.1 28.4 79.4M24.9 78.1Q29.4 82.3 27.3 88.2M47.2 173Q47.7 171.3 47.9 169.4M110.2 147.1Q112.3 147.4 114.4 147.1M114.3 145.4Q114.2 146.3 114.4 147.1M111.9 145.1Q113.1 145.7 114.3 145.4M115.6 142.5Q115.2 144.9 114.4 147.1M115.6 142.5Q114.5 146.7 110.2 147.1M114.4 147.1Q112.6 142.6 111.3 138M49.2 44Q48.5 44.5 48.1 45.2M49.2 45.6Q49.5 44.8 49.2 44M47.5 44.5Q48.5 44.6 49.2 44M137.4 147.3Q136.6 147.7 136 148.4M137.3 148.7Q136.6 148.7 136 148.4M137.3 148.7Q137.2 148 137.4 147.3M141 147.4Q139.1 148.3 137.4 147.3M152.8 72.9Q153.1 74.5 154.8 75M153.6 73.3Q153.2 73.1 152.8 72.9M154.5 73Q153.7 73.4 152.8 72.9M150.7 76.8Q153.8 76.1 154.5 73M150.7 76.8Q148.6 71.6 151.7 66.9M142.8 51.1Q140.6 51.8 140.1 54.1M141.8 57Q141.4 55.2 140.1 54.1M138.9 55Q141 53.2 142.8 51.1M137.2 54.3Q138.6 53.8 140.1 54.1M141.8 57Q130.9 56.9 125 47.7M104.3 113Q104.4 113.7 104.4 114.3M110 116.5Q107.2 114.7 104.3 113M105.1 116.9Q104.3 115.1 104.3 113M110 116.5Q106.5 117.8 102.8 118.8M138.9 75.1Q139.8 79.9 143.1 83.6M138.6 75.2Q139.8 79.9 143.1 83.6M138.6 75.2Q138.8 75.1 138.9 75.1M143.7 77.1Q141.1 76.6 138.9 75.1M138.7 77.8Q138.5 76.4 138.9 75.1M138.7 75.9Q138.6 75.4 138.9 75.1M138.7 75.9Q138.5 76.8 138.7 77.8M96.1 107.1Q95.4 108.2 94 108M93.6 103.5Q95.3 105.6 94 108M99.2 105.2Q97.8 106.3 96.1 107.1M99.2 105.2Q96.8 103 93.6 103.5M96.6 105.3Q96.1 106.1 96.1 107.1M96.6 105.3Q95.1 104.4 93.6 103.5M94 108Q94.8 110 93.1 111.2M9.4 108.2Q10.9 108.8 12.2 107.7M9.4 106.2Q9.4 107.2 9.4 108.2M12.7 107.8Q11 107.5 9.4 108.2M10 106.1Q9.6 107.1 9.4 108.2M10 106.1Q11.6 106.6 12.7 107.8M61 53.7Q62 56.5 64 58.7M61.5 54.7Q62.9 56.6 64 58.7M61.5 54.7Q61.6 54.1 61 53.7M61.6 59.5Q62.6 58.5 64 58.7M61.6 59.5Q60.2 57.2 61.5 54.7M58.4 57.4Q61 58.8 64 58.7M58.4 57.4Q59.6 55.5 61 53.7M56.9 55Q60.4 56.9 64 58.7M113.5 100.4Q115.7 99.9 117.2 98.3M117.2 98.3Q111.1 98.7 105.8 95.8M87.6 77.7Q87.3 77.7 87 77.9M87 76.9Q87.3 77.4 87 77.9M87.9 77.8Q87.5 78 87 77.9M88.6 74Q89 76.1 87.6 77.7M96.6 36.5Q97.2 37 97.5 37.7M96.6 36.5Q99.5 42.4 97.7 48.6M127.4 121.7Q127.6 119.8 126.4 118.2M124.3 116.7Q125.4 119.5 127.4 121.7M122.9 119.3Q124.6 118.5 126.4 118.2M127.3 120.3Q126.8 117.6 124.3 116.7M124.3 116.7Q127.1 120.4 129.2 124.6M113.9 106.3Q111.9 106.4 110.6 107.9M110.7 103.2Q112.3 104.8 113.9 106.3M114.8 102.6Q112.2 104.9 110.6 107.9M116.5 101.1Q114.7 103.4 113.9 106.3M116.5 101.1Q116.2 102.4 114.8 102.6M110.6 107.9Q114.7 107.8 118.7 106.7M106.1 87.1Q106.5 86.8 106.4 86.4M108.3 90.6Q107.1 89 106.1 87.1M105.5 90.5Q106.9 90.8 108.3 90.6M105.9 89.6Q106.7 88.1 106.4 86.4M105.9 89.6Q106.2 88.4 106.1 87.1M105.9 89.6Q108.5 92.8 105.8 95.8M159.1 127.1Q158.1 126.9 157.1 126.8M159.8 127.3Q158.4 127.3 157.1 126.8M159.8 127.3Q159.4 127.4 159.1 127.1M162 122Q160 124.8 157.1 126.8M157.4 121.9Q158.5 124.4 159.1 127.1M160.1 123.8Q158.9 122.6 157.4 121.9M157.1 126.8Q160.7 133.1 155.8 138.5M124.4 65.2Q121.8 66.4 119.3 64.9M120.1 66.1Q119.8 65.5 119.3 64.9M120.1 66.1Q122.4 66.6 124.4 65.2M118.2 60.1Q122.2 61.6 124.4 65.2M124.8 61.2Q122.9 64.2 119.3 64.9M124.8 61.2Q124.6 63.2 124.4 65.2M79.9 118Q80.1 117.9 80.4 118M79.3 117.3Q79.9 117.6 80.4 118M79.3 117.3Q79.7 117.6 79.9 118M50.4 170.3Q52 167.7 52.9 164.8M52 164.1Q52.7 167.6 50.4 170.3M51.5 164.2Q52.1 164.7 52.9 164.8M51.5 164.2Q51.8 164.1 52 164.1M51.4 171.4Q49.3 167.8 51.5 164.2M54.7 164.7Q53.7 168.3 50.4 170.3M44.2 132.6Q43.1 133.1 42 132.5M44.2 132.6Q49.5 134.5 50.6 140M124.8 96.8Q125 97.5 124.9 98.3M123.6 101.1Q125.6 99.3 124.8 96.8M128 102.2Q127.3 99.6 124.9 98.3M128 102.2Q125.8 101.9 123.6 101.1M128 102.2Q120.9 100 113.5 100.4M37.1 126.7Q38.7 128.9 41.3 129.3M37.6 130.7Q39.6 130.3 41.3 129.3M37.6 130.7Q38.5 128.5 37.1 126.7M43.1 131.1Q40.5 129.5 37.6 130.7M39.1 131.4Q36.9 129.6 37.1 126.7M40.8 129.7Q41.1 129.6 41.3 129.3M56.1 156.5Q55.5 155.2 55.7 153.7M56.5 155.6Q56.2 156 56.1 156.5M55.7 153.7Q56.6 157.2 54 159.6M36.4 83.8Q40.1 81.7 40.7 77.5M35.7 79.6Q37.5 76.8 40.7 77.5M36 79.8Q38.5 79 40.7 77.5M36 79.8Q35.8 79.8 35.7 79.6M35.9 81.4Q36.1 82.6 36.4 83.8M35.9 81.4Q35.6 80.6 36 79.8M36 79.8Q35.6 84.8 39.3 88.1M23.3 60.6Q23.1 59.6 22.5 58.7M23.6 57.2Q23.6 58.9 23.3 60.6M23.3 60.6Q30.1 56.7 36.5 52.2M37.8 163.1Q39 164.5 40.8 164.6M41.7 164.9Q41.2 164.9 40.8 164.6M39.2 165.9Q38.8 164.3 37.8 163.1M57.6 43.1Q60.3 45.5 63.9 45.1M61.5 43.4Q62.5 44.5 63.9 45.1M57.1 43.8Q60.3 45.7 63.9 45.1M57.1 43.8Q57.3 43.3 57.6 43.1M64.1 44.3Q64.2 44.7 63.9 45.1M61.3 47.5Q60.4 44.2 57.1 43.8M61.3 47.5Q61.8 45.1 64.1 44.3M61.3 47.5Q60.7 52.7 58.4 57.4M17.7 68.5Q17.5 67.7 17.7 66.9M18.9 68.8Q18.6 67.6 17.7 66.9M18.4 65.9Q17.8 67.1 17.7 68.5M17.7 66.9Q16.3 71.8 15.7 76.8M94.2 116Q95 117.8 96.3 119.3M95.7 120.3Q96.3 120 96.3 119.3M93.8 120.2Q94.9 119.4 96.3 119.3M93.8 120.2Q93.1 118 94.2 116M95.7 120.3Q95 115.6 93.1 111.2M111.5 120.2Q114.2 120.3 116.9 119.3M111.9 127.8Q111.7 124 111.5 120.2M117.1 123.9Q117.9 121.6 116.9 119.3M111.5 120.2Q110.8 115.7 115.1 113.9M53.9 60.7Q54.9 62.7 53.9 64.7M57.1 62.5Q55.2 63.1 53.9 64.7M59.3 64.3Q56.4 62.7 53.9 64.7M59.3 64.3Q58 63.6 57.1 62.5M56.5 62Q58 63 59.3 64.3M53.6 61.1Q53.7 60.9 53.9 60.7M57.1 62.5Q55.8 56.6 61 53.7M48.9 124.5Q47.8 127.7 50.1 130.3M45.6 127.8Q47.8 129.1 50.1 130.3M160.8 97.1Q160.5 95 162.3 93.7M161 96.3Q161.8 95.1 162.3 93.7M161.7 95Q161.6 96.2 160.8 97.1M35.5 48.6Q39.2 50.6 38.8 54.7M36.9 53.6Q37.7 54.5 38.8 54.7M36.9 53.6Q42.4 48.1 39.9 40.7M134 122.5Q131.7 118.7 127.3 119.5M134.8 124.6Q129.9 123.8 127.3 119.5M134.8 124.6Q134.1 123.7 134 122.5M129.2 124.6Q132 124.5 134.8 124.6M151.6 129Q151.6 131.7 153.8 133.1M151.9 133.2Q152.8 132.9 153.8 133.1M151.9 133.2Q157.1 132 159.1 127.1M102.2 67.2Q104.1 69.1 105.3 71.5M105.4 70.7Q102.9 69.7 102.2 67.2M102.2 67.2Q100.9 72.6 96.4 75.9M97.5 43.1Q97.2 45.7 98.7 47.8M97.7 48.6Q98.2 48.1 98.7 47.8M32.3 151.6Q33 153.5 33.2 155.5M36.5 152.5Q34.2 152.8 32.3 151.6M38.4 153.4Q35.6 154 33.2 155.5M37.1 149.8Q35.3 152.3 32.3 151.6M37.1 149.8Q37.2 151.8 38.4 153.4M153.1 86.3Q152 83.4 151.9 80.4M151.6 88.6Q152 87.2 153.1 86.3M158.2 84.5Q156.1 86.7 153.1 86.3M158.2 84.5Q153.8 84.9 151.6 88.6M156.7 88.4Q156.7 83 151.9 80.4M156.7 88.4Q154.4 88.2 153.1 86.3M151.9 80.4Q152.2 78.3 150.7 76.8M110.6 67.8Q111.8 66.4 113.7 66.1M112 64.8Q111.8 66.6 110.6 67.8M114.1 68.3Q113.7 66.2 112 64.8M111.5 65Q111.8 65.1 112 64.8M111.5 65Q112.4 67 114.1 68.3M130.5 56.3Q128.6 56.6 127.4 55.1M130.6 55.4Q129 54.9 127.4 55.1M130.6 55.4Q130.8 55.9 130.5 56.3M130.6 55.4Q124.3 57.6 118.2 60.1M27.9 99Q28.2 100.5 28.4 101.9M31.7 102.4Q28.8 101.9 27.9 99M31.4 97.2Q30.8 99.9 31.7 102.4M31.4 97.2Q26.9 97 22.3 97.3M115.3 139.2Q113.6 137.6 111.3 138M116.6 140.5Q114.8 137.5 111.3 138M116.6 140.5Q115.5 140.3 115.3 139.2M116 133.6Q117 136.6 115.3 139.2M116 133.6Q116.2 137.1 116.6 140.5M111.3 138Q117.6 137.8 123.8 138.7M118.3 69.4Q120.2 69.7 122 70.2M124.5 68.6Q122.8 68.6 122 70.2M124.5 68.6Q121.4 69.3 118.3 69.4M122 70.2Q124.6 68.4 124.4 65.2M20.2 151Q20.3 150.7 20.3 150.3M23.2 153.9Q20.8 153.5 20.2 151M19.5 152.1Q19.2 150.9 20.3 150.3M19.5 152.1Q21.9 151.8 23.2 153.9M23.2 153.9Q33.1 154.2 36.8 163.4M24.2 68.5Q26.3 65.5 25.9 62M23.8 66.1Q23.2 67.4 24.2 68.5M25 68.2Q24.7 68.5 24.2 68.5M42.5 95.3Q42.5 96.9 41.2 97.7M41.9 95.1Q42 96.5 41.2 97.7M36.7 91.9Q39.4 94.4 41.2 97.7M42.5 95.3Q35.5 91.5 38.1 83.9M120.1 53.2Q120 57.9 122.1 62.1M118.2 60Q117.8 56.2 120.1 53.2M115.5 59.3Q117.1 55.7 120.1 53.2M115.5 59.3Q116.9 59.7 118.2 60M116.9 62.2Q119.2 58 120.1 53.2M117.8 61.8Q120 60.7 122.1 62.1M120.1 53.2Q116.5 52.2 114 49.4M31.7 159.5Q31.2 160.7 32.1 161.8M36.8 163.4Q34.8 161.7 32.1 161.8M36.8 163.4Q35.2 160.2 31.7 159.5M34.6 160Q33.4 161 32.1 161.8M32.6 163.4Q33.2 161.5 34.6 160M35.1 162.1Q35.9 162.9 36.8 163.4M35.1 162.1Q33.6 162.3 32.6 163.4M32.1 161.8Q36.4 153 45.9 155.5M82.4 167.8Q82.9 164.9 84.4 162.5M82.4 167.8Q85 171.9 87.9 175.8M112.3 62.9Q110 60 110.2 56.4M112.3 62.9Q111.7 63.8 111.5 65M157.9 112Q158.5 110.2 157.2 108.9M157.9 106.6Q157 107.6 157.2 108.9M157.9 106.6Q158.3 109.3 157.9 112M163.5 110.5Q161.1 107.9 157.9 106.6M160.9 108.7Q159 108.1 157.2 108.9M112.3 38.4Q113.1 38.6 113.4 39.4M114 37.4Q113.8 38.5 113.4 39.4M108.9 37.7Q111.7 37.3 113.4 39.4M108.9 37.7Q111.5 37.5 114 37.4M109.9 38.4Q112.2 38.9 114 37.4M109.9 38.4Q109.3 38.2 108.9 37.7M122.4 106.6Q120.7 106.9 119 106.9M121.3 108.5Q119.9 108.1 119 106.9M121.3 108.5Q121.5 107.3 122.4 106.6M121.9 105.3Q120.1 105.6 119 106.9M121.9 105.3Q122 106 122.4 106.6M118.7 106.7Q120.1 105.4 121.9 105.3M118.7 106.7Q113.9 110.5 114.6 116.7M119.5 41.6Q120.3 40.4 120.7 38.9M121.1 39.7Q120.7 39.4 120.7 38.9M119.5 41.6Q122.4 44.6 125 47.7M48.4 61.3Q46.7 60.9 46 59.2M41.7 62.1Q43.9 60.7 46 59.2M46.5 66.5Q48.8 66.3 50.4 64.8M47.3 68Q49.5 67 50.4 64.8M47.3 68Q46.8 67.4 46.5 66.5M34.7 59.4Q33.8 55.4 36.5 52.2M35.8 59.1Q35.2 59.2 34.7 59.4M29.2 58.2Q31.9 59.2 34.7 59.4M79.7 91.2Q79.3 89.8 78.7 88.5M75.3 92.7Q78.3 91.7 78.7 88.5M75.3 92.7Q77.4 91.7 79.7 91.2M78.7 88.5Q73.7 91.6 70.4 96.4M71.9 78Q71.8 79.1 72.7 79.6M71.4 77Q71.7 78.5 72.7 79.6M75 78.2Q74 79 72.7 79.6M74.1 75Q72 76.9 72.7 79.6M74.1 75Q73.6 76.9 75 78.2M71.9 78Q72.8 73.8 71.5 69.6M144.5 99.7Q144.5 100.3 144.6 100.9M135.4 94.8Q132.5 98.3 131.2 102.7M127.3 101.1Q128.8 102.9 131.2 102.7M129.4 94.1Q132.6 93.3 135.4 94.8M134.3 96.7Q135.2 96 135.4 94.8M129.3 96.7Q126.9 98.3 127.3 101.1M72.7 34Q71.2 32.6 69.2 33M67.4 30.7Q69 31.3 69.2 33M67.4 30.7Q70.1 32.4 72.7 34M72.7 34Q66.5 36.1 60.2 34.1M134.3 159Q135 157.7 134.3 156.4M134.3 159Q127.9 156.7 121.8 159.7M129.8 73.5Q130.8 76 133.3 77.1M129.4 74.1Q132.2 74.5 133.3 77.1M126 77.5Q127.7 75.9 129.4 74.1M129.2 77.8Q127.5 78.7 126 77.5M133.3 77.1Q129.4 72.3 124.5 68.6M35 43.2Q38.1 43.2 39.9 40.7M39.9 40.7Q36.9 49.9 34.7 59.4M132.6 84.4Q131.6 85.1 131.9 86.3M69.6 96.5Q68.7 96.9 67.8 96.4M66.2 97.8Q68.1 97.7 69.6 96.5M63.2 95.6Q65.5 95.8 67.8 96.4M63.2 95.6Q63.8 98 66.2 98.8M13.4 117.3Q12.1 115.7 10 116.1M10.4 118.7Q11.7 117.5 13.4 117.3M13.7 119.6Q12.7 118.5 13.4 117.3M150.2 65.2Q148.1 67.2 147.5 70M151.7 66.9Q149.7 68.6 147.5 70M151.7 66.9Q150.7 66.2 150.2 65.2M152.6 67.5Q150.1 68.8 147.5 70M152.6 67.5Q150.7 67.1 150.2 65.2M148.6 68.1Q147.5 68.8 147.5 70" stroke="#F4895F" stroke-width="0.8" fill="none"/><path d="M100.2 133.7h0M126 143.9h0M17.3 107.6h0M12.8 133.1h0M69.8 59h0M65 78.4h0M99.9 145.1h0M115.4 110.8h0M49.6 125.5h0M64.2 122h0M15.1 115.1h0M37.4 115h0M43.3 160.9h0M69.1 133.8h0M142.7 142.2h0M130.8 133.4h0M19.2 108.6h0M17.9 146.5h0M95.4 147.8h0M75.3 116.1h0M128.9 92.6h0M111.4 98.2h0M122.8 112.3h0M148.3 116.3h0M48.9 138.8h0M48.9 141.7h0M49.5 135.3h0M47.2 135h0M42.1 139.1h0M49.9 135h0M45 137.3h0M49.7 139.8h0M48.8 143.1h0M46.3 143.6h0M52.3 142.6h0M28.2 66.4h0M33 64.2h0M35.1 63.5h0M32.2 68.9h0M33.7 63.5h0M35.6 72.6h0M42.5 69.6h0M35.3 72.5h0M33.9 75.3h0M36.4 72.6h0M39.6 69.2h0M36.1 74.6h0M36.1 65.3h0M35.3 75.7h0M30.6 72.4h0M37 67.3h0M115.2 104.7h0M113.5 104.2h0M117.7 102.8h0M114.3 106.4h0M114.3 101.7h0M120.2 102.9h0M116.3 106.4h0M113.3 107.8h0M113.5 105.1h0M115 101.4h0M118.4 104.2h0M87.4 98.1h0M84.9 97.4h0M93.2 97.6h0M88.9 102.9h0M84.8 99h0M85.8 101.8h0M84.6 100.1h0M93.6 100h0M92.6 96.9h0M83.5 100.5h0M90.2 100.7h0M100.2 73.9h0M101 67.2h0M102 80.5h0M96.8 74.3h0M102.4 73.5h0M97 69.6h0M100.1 67.2h0M103.9 79.8h0M102 80.8h0M101.3 73.5h0M101 75.1h0M97.6 81.6h0M79.6 65.2h0M79.6 66.6h0M80.9 66.2h0M76.9 70.2h0M82 66.6h0M77.4 68.7h0M82.9 65.4h0M77.3 66.8h0M81.3 70.1h0M85.1 71.8h0M79.3 68.1h0M14.9 79.4h0M23.4 70.8h0M18.7 68.6h0M16.9 65.7h0M15.2 66.2h0M17.5 69.7h0M12.9 78.6h0M19.9 75h0M18.5 72.7h0M15.4 73.7h0M9 66.3h0M15.2 71.6h0M21 66.4h0M22.4 64.5h0M20.9 65h0M20.7 61h0M15.5 62.4h0M23.5 67.1h0M10.8 67.3h0M10.5 68.3h0M18.8 72.8h0M20.3 67.3h0M89.7 70.5h0M88.6 69.7h0M82.2 84.2h0M88.7 83.1h0M86.2 79.5h0M83.9 76.2h0M91.4 88.1h0M92.3 83h0M91.8 73.1h0M86.9 74.2h0M92.3 76.9h0M85.6 81.2h0M91.4 90.1h0M87 76.9h0M88.9 79.6h0M90.6 75.2h0M84 83.9h0M82.1 75.3h0M91.1 84.7h0M85 71.4h0M120.7 125.2h0M121.5 131h0M119.3 124.4h0M115.1 125.2h0M116.5 131.8h0M118.4 130.2h0M140.8 95.4h0M139.5 90.5h0M137.2 93.2h0M96.8 56.3h0M98.7 54.5h0M94.3 58.1h0M31.9 90.5h0M29.1 89.4h0M27.6 91.4h0M124.1 167.2h0M118.1 169.4h0M119.2 169.4h0M122.9 163h0M123.9 166.1h0M125.6 164.6h0M7.9 124.5h0M10.6 124.5h0M6.4 128.2h0M7.6 129h0M132.2 109.8h0M130 112.4h0M131.5 111.5h0M131.7 110.3h0M130.8 110h0M71.9 69.6h0M75.4 72.1h0M71.5 69.6h0M76.7 72.5h0M33.1 87.5h0M36.3 84.5h0M34.2 84.3h0M45.5 149.4h0M39.6 146.5h0M40.8 151.4h0M40.8 151.9h0M41.6 143.5h0M44 148.9h0M102.9 151h0M104.3 154.7h0M106.1 150.3h0M106.8 149.1h0M67.7 117.4h0M66.1 119.2h0M64.4 117.2h0M68 119.4h0M91.4 37.4h0M89.5 37.4h0M90 34.6h0M88.9 39.1h0M93.4 40.4h0M91 36.4h0M73.8 112.1h0M73.3 111.1h0M74.6 109.4h0M73.5 111.1h0M73.5 113.2h0M49.9 162.5h0M52.5 161.2h0M52.5 157.8h0M45 161.8h0M49.6 156.2h0M53.4 151.7h0M50.5 148h0M51.7 154.5h0M123.8 159.5h0M121.8 159.7h0M125.7 160.6h0M121.5 160.3h0M121.7 158.1h0M139.6 102.2h0M141.5 104.3h0M138.4 105.1h0M140.1 104.2h0M67.7 41.1h0M64.7 34.5h0M65.1 40h0M69.5 41.2h0M70.9 40.4h0M63.7 35.8h0M103.6 177.6h0M107 177.2h0M110.6 174.6h0M134.2 160h0M138.7 162.5h0M139.2 162.5h0M136.6 161.7h0M45.9 91h0M49.1 91.5h0M46.5 90.4h0M66.2 98.8h0M59.4 103h0M66.2 102.5h0M64.4 98.4h0M115.7 115.6h0M115.1 113.9h0M114.6 116.7h0M118.3 114.3h0M113.8 113h0M112.6 114.3h0M158.4 101.9h0M155.6 99h0M155 98.6h0M155.7 101.5h0M87.2 98.6h0M86 95.6h0M87.8 97.9h0M85.8 95.9h0M85.3 97.5h0M70.4 96.4h0M76.3 92.3h0M76.9 96.7h0M71.7 90.9h0M71.9 94.1h0M39.3 65.7h0M32.4 62h0M37.9 66.5h0M5.6 114.9h0M6.5 114.7h0M15.7 76.8h0M13.8 75.4h0M19.1 80.7h0M75.5 124.3h0M72.5 121.8h0M71.4 125.4h0M120.4 141.3h0M123.1 141.6h0M119.2 141.6h0M119.7 141.1h0M119.2 142.1h0M82.1 106.6h0M87.6 107.9h0M83.8 104.4h0M83.2 108.3h0M61.9 156.3h0M61.4 156.8h0M59.8 38.9h0M55.6 36h0M60.2 34.1h0M151.1 152.3h0M149.9 152.5h0M151.8 147.4h0M85.5 68.4h0M87 68h0M87 71.6h0M23 159.9h0M25.1 157.1h0M29.7 155.8h0M25.3 159.2h0M24.9 84.7h0M27.3 88.2h0M70.5 106.2h0M72.5 108.9h0M65.3 105.1h0M64.1 110.5h0M64.3 111.2h0M32.6 72.5h0M30.7 68.3h0M25.3 67.2h0M29.4 72.8h0M25.8 69.4h0M31.9 73.7h0M147.6 142.4h0M151.9 142.2h0M147.6 141.9h0M96.7 71h0M92.6 70.9h0M93.9 71.7h0M44.8 64.3h0M44.2 72.3h0M42.7 69.5h0M40 69h0M60.4 135h0M57.9 134.1h0M14 109.4h0M15.1 109.1h0M12.3 114.6h0M14.3 109.1h0M90.1 149.8h0M93.8 154.8h0M95.8 153.7h0M94.9 152.7h0M91.7 155.3h0M108.9 78h0M107.6 79.8h0M106.9 81.9h0M107.3 80.4h0M65.2 63.9h0M66.4 63.8h0M65.6 65.6h0M92.8 102.1h0M89.7 101h0M93.1 97.9h0M56.5 133.8h0M57.3 128.2h0M51.4 130h0M54.1 126.8h0M54.5 133.8h0M55.3 129.9h0M56.7 101.1h0M54.4 96.8h0M53.6 99.5h0M56.8 99.5h0M58 96.9h0M113.7 161.6h0M112.3 161.9h0M117.5 161h0M117 164.4h0M113.7 160.2h0M118.3 158.4h0M118.8 157.6h0M143.1 81.3h0M143.6 81.5h0M151.2 91.4h0M149.3 93.1h0M152.3 89.6h0M150.5 91.1h0M23.8 112.1h0M26.4 112.4h0M21.6 112h0M91.6 94.6h0M96.2 96.4h0M96.9 95.7h0M97.5 94.8h0M99.2 96.4h0M94.7 94.2h0M72.4 66.6h0M75.1 65.2h0M71.4 62h0M75 62.3h0M120.9 50.6h0M116.2 45.1h0M133.9 48.7h0M134.2 48.9h0M134.9 45.6h0M131.9 50.5h0M146 157.9h0M142.5 152.6h0M144.8 155.6h0M145.8 156.7h0M141.2 158.5h0M132.1 158h0M132.1 151h0M136.4 156.6h0M35.1 72.8h0M34.3 74.6h0M39.8 71.2h0M77.2 28.4h0M78.4 28.4h0M74.7 27.6h0M84.8 179.2h0M86.5 175.9h0M84.7 177.9h0M87.9 175.8h0M70.9 124.4h0M65 127.2h0M65.7 124.7h0M57.1 123.7h0M60.6 125.1h0M60.2 122.8h0M97.3 184.2h0M99 183.1h0M122.9 147.7h0M120.6 152.3h0M75.4 105.7h0M80.5 103.3h0M82.1 102.9h0M76.3 106.9h0M50.8 35.1h0M50.3 41.6h0M46.1 40.3h0M50.1 40.2h0M51.3 181.7h0M52.9 180.3h0M51.5 177.8h0M55.4 180.9h0M87.2 185h0M88.7 186.2h0M95.4 178.6h0M94.7 186.8h0M91.7 181.5h0M88.8 184.2h0M62.8 110.2h0M59.3 110.6h0M102.8 35.5h0M101.8 33.2h0M104.5 35.7h0M103.6 32.8h0M136.1 90.7h0M131.5 89.8h0M108.8 164.3h0M109.4 163.7h0M112.1 165.4h0M87.3 30.8h0M89.4 33.6h0M88.3 30.7h0M89 32.4h0M80.7 88.4h0M82.5 85h0M84.4 90.7h0M83.3 89.2h0M85.9 85.9h0M57.3 142.7h0M51.1 142.9h0M52.8 146.3h0M56 146.4h0M104.3 105.1h0M105.7 107h0M107.2 104h0M101.9 104.2h0M113.6 42.6h0M112.2 44.2h0M111.7 48.8h0M111.6 44.1h0M107.1 47.7h0M102.8 118.8h0M105.9 120.6h0M101 123.4h0M103.6 119.1h0M102.6 124.5h0M126.5 167.4h0M131.4 167.3h0M131.4 171.2h0M126.7 170h0M127.1 168.5h0M131.4 166.8h0M149.9 75.6h0M145.2 78.2h0M149.8 72.8h0M149.4 78.8h0M147.8 71.3h0M109.6 154.4h0M112 153.9h0M108.2 154.2h0M110.3 156.3h0M111.9 154.2h0M113.2 156.9h0M84.2 76.7h0M79.5 78.8h0M84 77.6h0M40.6 74.9h0M46.9 77.3h0M44.6 75.9h0M111.6 176h0M115.7 175.6h0M114.8 175.4h0M115 176.3h0M117.9 174.8h0M83.1 185.7h0M84 185.6h0M84 179.9h0M102.2 54.3h0M104.1 54.2h0M101.2 55.9h0M100.1 55.2h0M103.8 49.2h0M94.5 111.3h0M94.7 112.3h0M93.1 111.2h0M95.1 114.3h0M94.1 111.3h0M117.3 171h0M113.9 170.8h0M118 166.8h0M113.4 168.7h0M118.1 171.1h0M112.8 166.6h0M72.2 133.7h0M73.8 130.4h0M77.5 133.9h0M26.1 89.7h0M22.3 97.3h0M125.2 123.5h0M122.8 122.8h0M127 121.8h0M123.5 125.5h0M124.2 129.6h0M127.4 127.2h0M142.4 96.1h0M147.2 93.1h0M142.4 95.3h0M147 96.3h0M143.3 93.2h0M151.1 139.3h0M155.8 138.5h0M125.1 141.7h0M123.7 144.2h0M127.6 144.8h0M125.5 142.1h0M128.9 143.2h0M127.4 146.2h0M38.1 83.9h0M39.3 88.1h0M99.6 111.7h0M99.1 112.2h0M102.9 114.6h0M99.7 113.8h0M103.6 111.6h0M19.9 115.8h0M22.8 116.8h0M104.3 57.5h0M99.2 59.6h0M100.7 58.1h0M98.4 63.9h0M99.9 63.4h0M104.6 63.8h0M29 118.9h0M29.7 118.3h0M31.6 121.7h0M97 32.8h0M92.3 34.9h0M95.4 34.5h0M97.8 35.2h0M7.1 134.6h0M10.2 133.6h0M8 134.7h0M12.5 130.1h0M56.2 147h0M59 151.5h0M62.8 149.1h0M59.3 148.4h0M62.5 145h0M91.2 64.6h0M88.5 67h0M93.5 63h0M90.3 66.1h0M54 159.6h0M54.1 163.4h0M61.2 160.1h0M59 159.4h0M122.4 172.6h0M121.4 172h0M124.8 171.8h0M125.2 171.8h0M86.6 120.8h0M86.3 119.9h0M83.8 116.3h0M92.4 121.5h0M89.1 118.3h0M99.5 86.7h0M98.6 85.6h0M103.3 86.6h0M89.4 86.2h0M87.6 83h0M126.1 42h0M129.6 46.8h0M128.1 44.2h0M125 47.7h0" stroke="#4A8873" stroke-width="1.25" stroke-linecap="round"/><path d="M106.7 162h0M114.8 132.8h0M107.5 45.3h0M122.5 43.6h0M111.1 128.2h0M126.3 159.4h0M78.5 68h0M101.3 88.6h0M25.7 152.4h0M50.5 170.5h0M90.2 57h0M109.7 66.7h0M40.3 76h0M65.2 69.4h0M111.2 51.1h0M120.9 70.4h0M15.3 81h0M9.6 110.4h0M76.2 163.6h0M83.2 177.6h0M35 163.9h0M13.2 131h0M113.8 114.4h0M102.4 78.5h0M60.9 69.6h0M69.6 45.9h0M39.4 82.4h0M21.8 82.8h0M41.7 65.8h0M53.5 47h0M155 121.9h0M151.1 107.4h0M64.9 128.4h0M60.7 124.1h0M63.1 124.5h0M57.1 130.1h0M66.3 137.2h0M57.9 126.9h0M61.1 132.6h0M59.7 131.9h0M60 126.5h0M57.3 127.3h0M112.6 123.6h0M118.4 107.7h0M115.5 109.2h0M116.6 125.5h0M111.3 119h0M113.9 111.8h0M118.6 130.6h0M114.9 120h0M117.3 115.9h0M121.6 123h0M119.8 116.9h0M121.9 133.1h0M111.2 123.3h0M120.6 117.3h0M113.4 118.9h0M118.1 127.6h0M97.6 175.2h0M93.9 181h0M102.8 180.9h0M104.7 177.5h0M95.5 177.2h0M104.2 177.2h0M102.8 174.4h0M121.2 48.3h0M119.3 50.2h0M121.4 47.8h0M125.7 47.8h0M124.7 46.7h0M122.2 51.8h0M82.7 79.5h0M76.2 79.3h0M78.6 88.1h0M82 82.6h0M75.1 81.8h0M77.3 87h0M111.1 76.4h0M112.7 71.4h0M112.5 76.3h0M112.4 75.2h0M104 97.9h0M103.7 92.4h0M100.3 98.4h0M103.7 97h0M105.8 95.8h0M99.3 78.6h0M96.4 75.9h0M101.8 75.8h0M45.9 155.5h0M41.7 160.5h0M38.8 159h0M42.8 154.3h0M121.2 140.3h0M123.8 138.7h0M120.2 135.6h0M122.9 138.9h0M120.2 134.2h0M112.6 51.8h0M114 49.4h0M115.5 49.9h0M113.9 51.1h0M95.7 85h0M91.2 89.2h0M95.8 89.2h0M93.6 85.2h0M91.6 88.3h0M52 50.4h0M53.1 46.4h0M24.1 99.2h0M18.9 102.8h0M24.2 104.1h0M18 104.7h0M49.5 135.3h0M50.1 138.5h0M50 135.8h0M45.7 138.3h0M49.3 137.2h0M50.6 140h0M155 103.3h0M151.3 102.1h0M155.3 101.5h0M150.6 97.5h0M148.8 96.5h0M52.8 59.6h0M48.4 54.8h0M52.4 58.4h0M51.2 57.8h0M26.8 79.7h0M24.9 78.1h0M28.4 79.4h0M29.4 78.9h0M47.9 169.4h0M47.2 173h0M114.4 147.1h0M110.2 147.1h0M114.3 145.4h0M111.9 145.1h0M115.6 142.5h0M48.1 45.2h0M49.2 44h0M49.2 45.6h0M47.5 44.5h0M136 148.4h0M137.4 147.3h0M137.3 148.7h0M141 147.4h0M154.8 75h0M152.8 72.9h0M153.6 73.3h0M154.5 73h0M150.7 76.8h0M140.1 54.1h0M142.8 51.1h0M141.8 57h0M138.9 55h0M137.2 54.3h0M104.4 114.3h0M104.3 113h0M110 116.5h0M105.1 116.9h0M143.1 83.6h0M138.9 75.1h0M138.6 75.2h0M143.7 77.1h0M138.7 77.8h0M138.7 75.9h0M94 108h0M96.1 107.1h0M93.6 103.5h0M99.2 105.2h0M96.6 105.3h0M12.2 107.7h0M9.4 108.2h0M9.4 106.2h0M12.7 107.8h0M10 106.1h0M64 58.7h0M61 53.7h0M61.5 54.7h0M61.6 59.5h0M58.4 57.4h0M56.9 55h0M117.2 98.3h0M113.5 100.4h0M87 77.9h0M87.6 77.7h0M87 76.9h0M87.9 77.8h0M88.6 74h0M97.5 37.7h0M96.6 36.5h0M126.4 118.2h0M127.4 121.7h0M124.3 116.7h0M122.9 119.3h0M127.3 120.3h0M110.6 107.9h0M113.9 106.3h0M110.7 103.2h0M114.8 102.6h0M116.5 101.1h0M106.4 86.4h0M106.1 87.1h0M108.3 90.6h0M105.5 90.5h0M105.9 89.6h0M157.1 126.8h0M159.1 127.1h0M159.8 127.3h0M162 122h0M157.4 121.9h0M160.1 123.8h0M119.3 64.9h0M124.4 65.2h0M120.1 66.1h0M118.2 60.1h0M124.8 61.2h0M80.4 118h0M79.9 118h0M79.3 117.3h0M52.9 164.8h0M50.4 170.3h0M52 164.1h0M51.5 164.2h0M51.4 171.4h0M54.7 164.7h0M42 132.5h0M44.2 132.6h0M124.9 98.3h0M124.8 96.8h0M123.6 101.1h0M128 102.2h0M41.3 129.3h0M37.1 126.7h0M37.6 130.7h0M43.1 131.1h0M39.1 131.4h0M40.8 129.7h0M55.7 153.7h0M56.1 156.5h0M56.5 155.6h0M40.7 77.5h0M36.4 83.8h0M35.7 79.6h0M36 79.8h0M35.9 81.4h0M22.5 58.7h0M23.3 60.6h0M23.6 57.2h0M40.8 164.6h0M37.8 163.1h0M41.7 164.9h0M39.2 165.9h0M63.9 45.1h0M57.6 43.1h0M61.5 43.4h0M57.1 43.8h0M64.1 44.3h0M61.3 47.5h0M17.7 66.9h0M17.7 68.5h0M18.9 68.8h0M18.4 65.9h0M96.3 119.3h0M94.2 116h0M95.7 120.3h0M93.8 120.2h0M116.9 119.3h0M111.5 120.2h0M111.9 127.8h0M117.1 123.9h0M53.9 64.7h0M53.9 60.7h0M57.1 62.5h0M59.3 64.3h0M56.5 62h0M53.6 61.1h0M50.1 130.3h0M48.9 124.5h0M45.6 127.8h0M162.3 93.7h0M160.8 97.1h0M161 96.3h0M161.7 95h0M38.8 54.7h0M35.5 48.6h0M36.9 53.6h0M127.3 119.5h0M134 122.5h0M134.8 124.6h0M129.2 124.6h0M153.8 133.1h0M151.6 129h0M151.9 133.2h0M105.3 71.5h0M102.2 67.2h0M105.4 70.7h0M98.7 47.8h0M97.5 43.1h0M97.7 48.6h0M33.2 155.5h0M32.3 151.6h0M36.5 152.5h0M38.4 153.4h0M37.1 149.8h0M151.9 80.4h0M153.1 86.3h0M151.6 88.6h0M158.2 84.5h0M156.7 88.4h0M113.7 66.1h0M110.6 67.8h0M112 64.8h0M114.1 68.3h0M111.5 65h0M127.4 55.1h0M130.5 56.3h0M130.6 55.4h0M28.4 101.9h0M27.9 99h0M31.7 102.4h0M31.4 97.2h0M111.3 138h0M115.3 139.2h0M116.6 140.5h0M116 133.6h0M122 70.2h0M118.3 69.4h0M124.5 68.6h0M20.3 150.3h0M20.2 151h0M23.2 153.9h0M19.5 152.1h0M25.9 62h0M24.2 68.5h0M23.8 66.1h0M25 68.2h0M41.2 97.7h0M42.5 95.3h0M41.9 95.1h0M36.7 91.9h0M122.1 62.1h0M120.1 53.2h0M118.2 60h0M115.5 59.3h0M116.9 62.2h0M117.8 61.8h0M32.1 161.8h0M31.7 159.5h0M36.8 163.4h0M34.6 160h0M32.6 163.4h0M35.1 162.1h0M84.4 162.5h0M82.4 167.8h0M110.2 56.4h0M112.3 62.9h0M157.2 108.9h0M157.9 112h0M157.9 106.6h0M163.5 110.5h0M160.9 108.7h0M113.4 39.4h0M112.3 38.4h0M114 37.4h0M108.9 37.7h0M109.9 38.4h0M119 106.9h0M122.4 106.6h0M121.3 108.5h0M121.9 105.3h0M118.7 106.7h0M120.7 38.9h0M119.5 41.6h0M121.1 39.7h0M46 59.2h0M48.4 61.3h0M41.7 62.1h0M50.4 64.8h0M46.5 66.5h0M47.3 68h0M36.5 52.2h0M34.7 59.4h0M35.8 59.1h0M29.2 58.2h0M78.7 88.5h0M79.7 91.2h0M75.3 92.7h0M72.7 79.6h0M71.9 78h0M71.4 77h0M75 78.2h0M74.1 75h0M144.6 100.9h0M144.5 99.7h0M131.2 102.7h0M135.4 94.8h0M127.3 101.1h0M129.4 94.1h0M134.3 96.7h0M129.3 96.7h0M69.2 33h0M72.7 34h0M67.4 30.7h0M134.3 156.4h0M134.3 159h0M133.3 77.1h0M129.8 73.5h0M129.4 74.1h0M126 77.5h0M129.2 77.8h0M39.9 40.7h0M35 43.2h0M131.9 86.3h0M132.6 84.4h0M67.8 96.4h0M69.6 96.5h0M66.2 97.8h0M63.2 95.6h0M10 116.1h0M13.4 117.3h0M10.4 118.7h0M13.7 119.6h0M147.5 70h0M150.2 65.2h0M151.7 66.9h0M152.6 67.5h0M148.6 68.1h0" stroke="#A85C44" stroke-width="1.25" stroke-linecap="round"/><path d="M93.1 50L92.9 52.2L92.1 54.2L91 56.1L89.7 57.8L88.1 59.2L86.3 60.4L84.3 61.2L82.1 61.7L80 61.7L77.9 61.3L75.9 60.7L74 59.9L72.2 59L70.4 57.7L68.8 56.2L67.6 54.3L67 52.2L67 50L67.6 47.9L68.5 46L69.5 44.2L70.7 42.5L72.1 40.9L73.7 39.5L75.6 38.3L77.7 37.7L80 37.7L82.2 38.2L84.1 39.1L85.9 40.2L87.5 41.4L89.1 42.7L90.6 44.1L91.9 45.8L92.8 47.8Z" fill="#7DD2B4"/><path d="M73.5 41.4h0M78.3 42h0M81.4 42.1h0M85.1 41.8h0M71.5 45.5h0M76.3 45.3h0M80.1 45.3h0M83.6 45.1h0M87.8 45.2h0M70.4 48.6h0M73.9 48.1h0M77.7 48.7h0M81.4 48.6h0M85.3 48.6h0M89.1 48.9h0M72.3 51.7h0M76 52.3h0M79.4 51.4h0M83.9 51.8h0M87.8 51.6h0M70.2 54.9h0M74.3 55.4h0M77.9 55.8h0M81.8 55.6h0M85.7 55.3h0M89.9 55.6h0M75.9 58.4h0M79.7 58.5h0M83.8 58.4h0" stroke="#336D5A" stroke-width="1.85" stroke-linecap="round"/><path d="M146.7 66.3L146.6 67.7L146.2 69.2L145.7 70.5L144.9 71.7L143.8 72.8L142.6 73.7L141.3 74.4L139.8 74.8L138.3 74.9L136.8 74.7L135.4 74.3L134 73.6L132.9 72.7L131.8 71.7L130.9 70.5L130.2 69.2L129.7 67.8L129.5 66.3L129.6 64.8L130 63.3L130.8 62L131.8 60.9L133 60L134.2 59.3L135.5 58.6L136.8 58.2L138.3 57.8L139.8 57.8L141.3 58L142.8 58.6L144 59.5L145.1 60.7L145.8 62L146.3 63.4L146.6 64.9Z" fill="#F88A63"/><path d="M135 59.6h0M139 58.8h0M133.8 62.7h0M136.8 62.6h0M140.7 62.7h0M131.7 65.9h0M134.9 66.2h0M139.4 66.4h0M143 66.1h0M133.2 69.8h0M137.1 69.7h0M141.1 69.7h0M145.3 69.4h0M135.2 72.9h0M139.3 73.1h0" stroke="#84402C" stroke-width="1.85" stroke-linecap="round"/><path d="M129.7 87.6L128.9 89L127.9 90.2L126.7 91.3L125.5 92.3L124 93.1L122.4 93.7L120.6 93.9L118.8 93.8L117 93.3L115.4 92.5L113.9 91.3L112.7 90L111.8 88.6L111 87.1L110.5 85.5L110.3 83.9L110.4 82.3L110.8 80.8L111.6 79.3L112.5 78L113.7 76.9L115.1 76L116.6 75.3L118.2 74.8L120 74.7L121.8 74.8L123.5 75.3L125.2 76.1L126.6 77.1L127.9 78.3L129 79.7L129.8 81.2L130.3 82.8L130.4 84.5L130.2 86.1Z" fill="#F88A63"/><path d="M118.2 75.8h0M112.6 79.4h0M115.9 79.5h0M120.8 79.2h0M124 78.8h0M114.9 82.6h0M117.9 82.6h0M122.4 82.1h0M126.5 82.5h0M112.4 86h0M116.4 85.6h0M120 86h0M124.5 86h0M128.3 86.3h0M114 88.9h0M118.5 89.7h0M122.6 89.5h0M125.9 88.9h0" stroke="#84402C" stroke-width="1.85" stroke-linecap="round"/><path d="M18.4 90L18.3 91.4L18 92.8L17.4 94.1L16.6 95.2L15.6 96.2L14.4 96.9L13.2 97.5L11.9 97.9L10.5 98.1L9.1 98.1L7.7 97.8L6.5 97.2L5.3 96.3L4.4 95.3L3.6 94.1L2.9 92.8L2.4 91.5L2.1 90L2.2 88.5L2.6 87.1L3.4 85.8L4.5 84.8L5.7 84.1L6.8 83.5L8 83L9.2 82.5L10.5 82L11.9 81.8L13.4 81.9L14.8 82.4L16 83.3L16.9 84.5L17.5 85.8L18 87.2L18.3 88.6Z" fill="#F88A63"/><path d="M9.1 84.4h0M13 84.5h0M3.6 88.4h0M7.8 88.4h0M10.8 88.3h0M15.3 88.4h0M5.8 91.7h0M9.3 91.4h0M13.1 91.7h0M7.8 95h0M11.1 94.4h0M15.6 94.4h0" stroke="#84402C" stroke-width="1.85" stroke-linecap="round"/><path d="M69.8 82L69.7 83.9L69.3 85.8L68.6 87.6L67.5 89.3L65.9 90.7L64.1 91.6L62.1 92.2L60 92.5L58 92.5L56 92.4L54 92.1L52 91.5L50.3 90.4L48.8 89.1L47.6 87.5L46.8 85.7L46.2 83.9L45.8 82L45.8 80L46.1 78L47 76.2L48.4 74.6L50.2 73.4L52.1 72.7L54.1 72.3L56.1 72L58 71.8L60 71.7L62.1 71.8L64.2 72.2L66.1 73.2L67.7 74.6L68.8 76.3L69.4 78.2L69.7 80.1Z" fill="#86D5B9"/><path d="M52.9 73.6h0M56.9 73.5h0M60.9 73.6h0M50.8 76.5h0M55 76.4h0M58.3 76.3h0M62.2 77h0M66.8 76.7h0M49.5 79.9h0M53 80.6h0M57 80.2h0M61.1 80.4h0M64.7 80.4h0M68.6 80.3h0M50.6 83.8h0M54.4 83.6h0M59.2 83.9h0M62.8 83.8h0M66.6 83h0M48.9 86.4h0M53.1 86.6h0M57 87.3h0M61 86.9h0M65 86.6h0M51.3 90h0M54.9 90h0M59.2 90.3h0M62.6 90.4h0" stroke="#336D5A" stroke-width="1.85" stroke-linecap="round"/><circle cx="57" cy="80.2" r="1.3" fill="none" stroke="#336D5A" stroke-width="0.6"/><circle cx="66.6" cy="83" r="1.3" fill="none" stroke="#336D5A" stroke-width="0.6"/><circle cx="62.6" cy="90.4" r="1.3" fill="none" stroke="#336D5A" stroke-width="0.6"/><circle cx="68.6" cy="80.3" r="1.3" fill="none" stroke="#336D5A" stroke-width="0.6"/><circle cx="58.3" cy="76.3" r="1.3" fill="none" stroke="#336D5A" stroke-width="0.6"/><circle cx="66.8" cy="76.7" r="1.3" fill="none" stroke="#336D5A" stroke-width="0.6"/><path d="M56.6 112.5L56.3 114.5L55.9 116.4L55 118.2L53.8 119.9L52.2 121.3L50.3 122.3L48.3 123L46.1 123.4L44 123.6L41.8 123.6L39.6 123.4L37.4 122.8L35.4 121.7L33.7 120.3L32.5 118.5L31.8 116.5L31.4 114.5L31.4 112.5L31.6 110.5L32.1 108.6L33 106.8L34.2 105.1L35.8 103.7L37.7 102.7L39.8 102L41.9 101.6L44 101.4L46.2 101.4L48.4 101.6L50.6 102.2L52.6 103.2L54.3 104.7L55.5 106.5L56.2 108.5L56.5 110.5Z" fill="#7DD2B4"/><path d="M38.3 104.5h0M41.9 104.5h0M45.9 105.1h0M50.4 105.1h0M36 108h0M39.9 108.4h0M44.1 107.8h0M47.8 107.7h0M52.1 108.3h0M34 111.3h0M38.3 111.4h0M42.5 111.6h0M45.8 111.7h0M49.8 111.1h0M53.6 111.9h0M36.5 114.5h0M40.1 115.3h0M44 115h0M48.3 114.7h0M52.2 114.3h0M55.4 115h0M34.8 117.7h0M38.7 118.1h0M42 118h0M46.4 118h0M50.2 118h0M53.5 118.4h0M40.7 121.8h0M44 121.3h0M48.4 121.8h0" stroke="#336D5A" stroke-width="1.85" stroke-linecap="round"/><path d="M35.3 130.2L36.1 132.8L36.6 135.4L36.9 137.9L37.1 140.5L36.9 143L36.3 145.3L35.2 147.4L33.7 148.9L31.9 149.8L29.8 150.1L27.7 150L25.6 149.5L23.5 148.8L21.5 147.7L19.4 146.3L17.5 144.6L15.7 142.4L14.3 140L13.2 137.3L12.6 134.6L12.4 131.9L12.6 129.3L13.1 127L14.1 125L15.3 123.4L16.8 122L18.5 121L20.3 120.3L22.3 120L24.4 119.9L26.6 120.4L28.8 121.4L30.9 123L32.8 125.1L34.2 127.6Z" fill="#7DD2B4"/><path d="M20.4 121h0M24.4 121h0M18.5 123.9h0M22.9 124.6h0M26.8 123.7h0M16.3 127.3h0M20.4 127.4h0M25 127.1h0M28.7 127h0M32.4 127.7h0M15.1 131.2h0M18.3 131h0M22.6 131h0M26.7 130.7h0M30.7 130.5h0M16.5 134.8h0M20.5 134.5h0M24.9 134.2h0M28.1 134.5h0M32 134.5h0M18.3 137.4h0M22.4 138.2h0M26.8 137.3h0M30.3 137.6h0M34.6 138.1h0M16.7 141.3h0M20.3 141h0M24.9 141.4h0M28.3 141.3h0M32.7 141.5h0M36.1 141h0M19 144.5h0M23.1 144.9h0M26.5 144.2h0M30.2 144.9h0M34.4 144.3h0M24.5 147.7h0M28.1 147.8h0M32.6 147.4h0" stroke="#336D5A" stroke-width="1.85" stroke-linecap="round"/><path d="M110.5 135L110 137.1L109.2 139.1L108.1 141.1L106.7 143L104.8 144.7L102.6 146.1L99.9 147.1L96.9 147.5L94 147.3L91.2 146.8L88.6 146.1L86.1 145.3L83.6 144.3L81.3 143L79.4 141.3L78 139.4L77.4 137.2L77.4 135L78 132.9L78.9 130.9L80 128.9L81.4 127.1L83.2 125.3L85.5 123.9L88.1 122.9L91.1 122.5L94 122.6L96.8 123.1L99.4 123.8L101.9 124.7L104.4 125.7L106.6 127L108.6 128.7L109.9 130.6L110.6 132.8Z" fill="#86D5B9"/><path d="M90.4 125.1h0M95 124.4h0M98.3 124.2h0M81.5 128.3h0M85 127.6h0M89.3 128.4h0M92.8 128.4h0M96.4 128.2h0M100.6 128.1h0M104.1 128.3h0M83.2 131.8h0M86.8 131.5h0M90.7 131.6h0M95.2 131.7h0M98.5 131.7h0M102.2 131.6h0M105.9 131.6h0M81.4 135.1h0M85.4 135h0M89.1 134.5h0M92.7 134.9h0M97 134.8h0M100.8 135h0M104.1 135h0M108.2 135.3h0M79.6 138.4h0M83.1 138.5h0M87 138.7h0M91.1 138.5h0M94.5 138h0M98.7 138.4h0M102.9 138.7h0M106.9 138h0M85.2 141.3h0M88.8 142.1h0M93 141.8h0M96.6 142h0M100.8 142h0M104.7 141.8h0M86.5 144.8h0M90.3 145.3h0M94.3 145.4h0M98.3 144.8h0" stroke="#336D5A" stroke-width="1.85" stroke-linecap="round"/><circle cx="95" cy="124.4" r="1.3" fill="none" stroke="#336D5A" stroke-width="0.6"/><circle cx="100.8" cy="142" r="1.3" fill="none" stroke="#336D5A" stroke-width="0.6"/><circle cx="108.2" cy="135.3" r="1.3" fill="none" stroke="#336D5A" stroke-width="0.6"/><circle cx="91.1" cy="138.5" r="1.3" fill="none" stroke="#336D5A" stroke-width="0.6"/><circle cx="98.3" cy="144.8" r="1.3" fill="none" stroke="#336D5A" stroke-width="0.6"/><circle cx="92.8" cy="128.4" r="1.3" fill="none" stroke="#336D5A" stroke-width="0.6"/><path d="M87.8 157.8L86.2 158.9L84.3 159.6L82.4 160.1L80.3 160.4L78.1 160.5L75.7 160.3L73.2 159.5L70.6 158.2L68.4 156.4L66.5 154.3L65 152.1L63.8 149.8L62.8 147.5L61.9 145.3L61.3 142.9L61.2 140.6L61.7 138.6L62.8 136.9L64.6 135.9L66.7 135.4L69 135.2L71.2 135.4L73.4 135.6L75.7 135.9L78.1 136.5L80.6 137.5L83 139L85.2 140.9L87 143.1L88.4 145.5L89.4 147.9L90 150.2L90.2 152.5L89.9 154.6L89.1 156.4Z" fill="#86D5B9"/><path d="M66.4 138.1h0M70.7 137.3h0M74 137.6h0M78.5 137.6h0M64.5 141.1h0M68.4 141h0M72.5 141.2h0M76 141.5h0M80.7 140.7h0M63.1 144.1h0M66.9 144.4h0M70.6 144.8h0M74.5 145h0M78.4 145h0M82.1 144.3h0M85.7 144.1h0M64.5 148.1h0M68 148h0M72.7 148.5h0M76.3 148.3h0M79.9 148.4h0M84.4 147.7h0M66.3 151h0M70.2 151.4h0M74.6 151.4h0M77.9 151.5h0M81.9 151.3h0M85.8 151.1h0M69 155h0M72.5 154.6h0M75.9 154.3h0M79.8 154.6h0M84 155.2h0M88.2 154.6h0M78.1 157.7h0M82.4 158.1h0M85.7 158h0" stroke="#336D5A" stroke-width="1.85" stroke-linecap="round"/><circle cx="74" cy="137.6" r="1.3" fill="none" stroke="#336D5A" stroke-width="0.6"/><circle cx="74.6" cy="151.4" r="1.3" fill="none" stroke="#336D5A" stroke-width="0.6"/><circle cx="64.5" cy="141.1" r="1.3" fill="none" stroke="#336D5A" stroke-width="0.6"/><circle cx="63.1" cy="144.1" r="1.3" fill="none" stroke="#336D5A" stroke-width="0.6"/><circle cx="79.8" cy="154.6" r="1.3" fill="none" stroke="#336D5A" stroke-width="0.6"/><circle cx="72.7" cy="148.5" r="1.3" fill="none" stroke="#336D5A" stroke-width="0.6"/><path d="M145.5 134L145.4 135.7L145 137.4L144.4 139L143.4 140.4L142.2 141.6L140.7 142.4L139.2 143L137.6 143.3L136 143.4L134.4 143.3L132.8 143.1L131.2 142.5L129.8 141.7L128.5 140.5L127.5 139.1L126.8 137.4L126.5 135.7L126.4 134L126.6 132.3L127.1 130.6L127.8 129.1L128.7 127.7L129.9 126.6L131.3 125.7L132.8 125L134.4 124.6L136 124.4L137.6 124.5L139.3 124.8L140.8 125.4L142.2 126.3L143.4 127.6L144.3 129L145 130.6L145.3 132.3Z" fill="#7DD2B4"/><path d="M134 126h0M138.5 125.7h0M132.7 129.1h0M136.1 129.2h0M140.7 129.3h0M130.7 132.5h0M134.7 132.3h0M137.9 133h0M142.4 132.7h0M128.4 135.6h0M132.8 136.6h0M136.2 136.3h0M140.4 135.7h0M144.1 135.9h0M130.6 139.2h0M134.3 139h0M138.5 139.8h0M142.4 139.2h0M136.8 142.7h0" stroke="#336D5A" stroke-width="1.85" stroke-linecap="round"/><path d="M157.9 112.5L157.8 114L157.4 115.5L156.8 116.9L156 118.3L154.9 119.6L153.6 120.9L151.9 121.9L150 122.5L148 122.8L146 122.9L144.1 122.7L142.3 122.5L140.5 122.1L138.7 121.5L137.1 120.6L135.9 119.5L135.1 118.1L134.9 116.5L135.2 115L135.7 113.5L136.4 112.1L137.2 110.8L138.2 109.4L139.5 108.2L141.1 107.1L143 106.4L145 106L147 105.9L148.9 106.1L150.8 106.5L152.5 106.9L154.2 107.6L155.7 108.5L156.9 109.6L157.7 111Z" fill="#7DD2B4"/><path d="M145.3 108.4h0M149.1 108.3h0M153.6 108.6h0M139.4 111.9h0M143.5 112.3h0M147.6 112.2h0M151.6 111.7h0M155.3 111.9h0M137.7 115.6h0M141.6 115.3h0M145.6 114.9h0M148.9 115.5h0M152.9 115.3h0M140 118.7h0M143.1 118.9h0M147.7 118.9h0M151.7 118.2h0M145.7 121.8h0" stroke="#336D5A" stroke-width="1.85" stroke-linecap="round"/><path d="M82.4 174L82.4 176L82 178L81.1 179.9L79.9 181.6L78.2 183L76.3 184.1L74.3 184.8L72.1 185.2L70 185.3L67.9 185L65.8 184.6L63.8 183.9L62 182.8L60.3 181.5L59 179.9L58 178L57.6 176L57.5 174L57.9 172L58.5 170.2L59.4 168.4L60.6 166.7L62 165.2L63.7 163.9L65.6 162.9L67.8 162.3L70 162.2L72.2 162.4L74.3 163.1L76.2 164.1L77.9 165.4L79.3 166.8L80.5 168.4L81.4 170.2L82.1 172Z" fill="#7DD2B4"/><path d="M64.8 166.4h0M68.8 167.1h0M72.4 166.5h0M76.3 167.2h0M59.4 169.8h0M62.7 170.2h0M67.1 170.1h0M70.4 170.5h0M74.3 170.3h0M78.3 169.9h0M61.5 173.6h0M65.1 173h0M68.6 173.8h0M72.2 173.7h0M76.9 173.9h0M80.4 173.2h0M58.8 176.5h0M63.4 176.8h0M67.3 176.9h0M71.1 176.5h0M74.6 176.5h0M78.9 177.3h0M60.7 180h0M65 180.2h0M68.8 180.3h0M73.1 179.8h0M76.1 180.7h0M67 184.1h0M71 183.3h0M74.2 183.4h0" stroke="#336D5A" stroke-width="1.85" stroke-linecap="round"/><path d="M105.1 166.5L105 168.6L104.6 170.6L103.8 172.5L102.9 174.1L101.8 175.4L100.7 176.6L99.4 177.7L98 178.5L96.5 178.9L95 178.8L93.5 178.1L92.3 176.9L91.2 175.4L90.3 173.8L89.5 172.2L88.8 170.5L88.1 168.6L87.6 166.5L87.6 164.3L88 162.1L88.8 160.2L89.9 158.7L91.2 157.6L92.5 156.7L93.8 155.9L95.1 155.2L96.5 154.7L98 154.5L99.5 154.9L100.9 155.8L102.1 157.1L103 158.8L103.8 160.5L104.4 162.4L104.9 164.4Z" fill="#7DD2B4"/><path d="M96 155.9h0M94.8 159.7h0M98.3 159.9h0M93 162.8h0M96 162.9h0M100.6 162.3h0M91.1 165.7h0M94.1 165.8h0M98.5 165.9h0M102.5 166h0M92.7 169.9h0M96.7 170h0M100.3 169.6h0M90.9 173.1h0M94.8 173h0M98 173.2h0M102.5 172.5h0M96.2 175.9h0" stroke="#336D5A" stroke-width="1.85" stroke-linecap="round"/></g>
<clipPath id="n2"><circle cx="257" cy="105" r="83.5"/></clipPath><g clip-path="url(#n2)"><path d="M275.6 92.1L273.1 95.7L269.7 98.4L265.4 100L260.7 100.3L256 99.6L251.4 98.1L247.2 96.2L243.2 94.1L239.2 91.6L235.5 88.7L232.1 85.2L229.3 81.1L227.4 76.6L226.5 71.9L226.6 67.3L227.7 63L229.6 59.1L232.3 55.8L235.7 53.3L239.6 51.5L243.7 50.4L247.9 49.9L252.1 49.8L256.5 50L261.1 50.7L265.8 52.2L270.3 54.6L274.2 58L277.1 62.3L278.8 66.9L279.4 71.5L279.3 75.9L278.8 80L278.1 84.1L277.1 88.1Z" fill="#98DBC3"/><path d="M256.9 66Q259.9 65.7 274.1 63.1M267.6 63.4Q263.6 65.1 258.6 59.6M252.4 76.2Q248.9 78.7 239.2 81.2M262.9 87.9Q252.5 85.3 254.1 74.8M280.9 78.4Q280 70.8 281.2 72.7M265 86.1Q259.8 73 250.3 52.5M263.3 79.2Q250.6 75.3 240.2 64.7M230.2 67.4Q241.1 63.1 245.5 60.5M255.9 51.3Q252.6 66.9 257.4 84.8M279.3 77.4Q262.4 83 235 82.1M249.6 81Q252.3 81 246.8 88M256.6 70.2Q254.8 66.2 256.5 70.8M245.5 66.1Q254.6 68.6 259.3 78.1M277.4 62.9Q273.6 81.4 259.5 96.5M262.8 91.7Q257.3 80.9 249.2 68M229.2 72.3Q252.6 73.3 276.5 79.2M256.2 62.7Q247.5 60.3 241.5 67.7M250 52.4Q253.1 74.1 259.1 89.4M241.8 80.6Q239.8 78.6 236.2 83.2M242.1 55.5Q243.4 61.9 236.9 57.7M275.9 86.5Q256.5 80.2 234.2 72M251.9 90.5Q240.5 83.7 234.9 88.1M244.7 59.1Q253.2 81.1 255.8 93.7M250.6 67.6Q253.8 61.4 257.8 51.8M239.2 74.2Q260 76 271.9 72.3M255.3 62.7Q253.7 69.9 242.5 72.6M265.5 67.3Q256.1 57 256.3 57.9M256.4 82.8Q260.9 85.9 260.8 78.2M278.2 69.7Q260.5 76.3 250.9 77.2M271.3 91.8Q252.4 74.5 238.9 68.6M248.2 97.4Q248.2 78.7 253.5 62.3M251.5 79.1Q253.8 76.3 247.1 80.4M248.6 73Q241.5 58.7 243.4 54.1M275.7 81Q255.2 69.3 243.5 52.9M251.7 86.1Q259.4 90 257.4 93.1M267.7 66.1Q264.7 66 256.1 64.4M281 75.4Q254.5 68.2 233 69.7M255.8 73.9Q256.7 82.9 254.5 83.7M268.7 90.8Q254.4 90.1 249.3 97.6M265.1 85Q263.1 74.6 260.4 65.7M245.7 85.5Q256 87.1 268.5 87.5M228.7 79.9Q248.9 82.2 266.7 85.6M237.9 67.2Q262.7 63.5 276.2 69M256 89.7Q268.5 76.3 281.6 71.4M229.4 84.6Q253.2 76.8 278.9 65.4M267 59Q262.1 60 256.1 54.7M257.9 95Q256.6 91.6 262 81.4M259.7 92.8Q256.6 76.9 261.7 66.8M232 63.8Q249.3 65.3 275.4 69.7M254 94.5Q252.1 95.3 249.4 96.6M281.4 70.7Q275.5 83.7 260 93.6M249.7 91.4Q255.5 86 254.1 77.5M261.5 58.5Q255.1 78.6 247.4 92.3M236.4 87.4Q248.8 84.2 251 83.9M266.7 86.4Q249.8 90.1 237.5 86.4M255.9 88.7Q251.5 96.1 241.6 93.9M276.7 83.1Q271.8 79.1 267.4 76.6M266.4 92.3Q252.1 76.4 239.7 61.8M259.5 87.4Q255.8 93.8 246.8 92.4M234 73.8Q247.9 78.7 261.6 93.9M250 67.6Q237.9 73.7 230.2 67.8M255.9 76Q241.5 80.3 235.9 86.3M233.3 77.6Q234.6 78.5 243.8 84.9M236.2 62.2Q241.7 80.5 250.7 87.4M255 54.9Q261.4 71.2 271.6 79.8M238.7 78.3Q245.9 82.2 255 95.3M232.8 65.7Q250.3 64.4 257.6 65.4M259.8 96.5Q247.4 92.8 236.5 79.5M239.2 69Q245 75.4 254.3 86.1M248.1 84.2Q257.8 69.6 273.7 58.3M257.2 84.7Q264.7 78 266.6 63.5M239.9 64Q251.1 70.5 256.4 69.6M231 73.6Q243.1 78.6 261.6 89.3M274.9 88.7Q267.4 70 252.4 53.5M267.7 94.3Q247.1 85.5 231.1 87.5M234 71.7Q233.2 64 241.1 62.9M261.4 88Q251.1 80.3 231.3 74.7M274.6 82.9Q259.4 72.6 237.2 62.4M247.3 92.6Q258 78.7 259.8 67.6M239.4 83.6Q243.6 79.4 247.5 82.8M269.8 54.6Q264.9 69 264 75.8M263.8 82.4Q269.9 72.4 266.1 58.3M261.9 82.5Q276 79.9 280.3 75.4M248 87.5Q250.3 72.5 260.4 52.1M246.3 75.5Q251.7 67.7 257.9 58.5M261 92.8Q254.1 68.3 254.5 51M263.4 71.8Q248.5 76.2 244.4 89.6M233.7 58.6Q242.9 67.1 240.7 70.9M249 73.4Q249 81.1 253.3 90.1M239.2 61Q242.9 69.9 258.4 69.3M241.9 81.7Q250.1 76.8 264.1 66.2M256.7 85.2Q259.7 80.5 265.6 84.7M247 82.2Q241.2 68.5 232 64.5M247.4 65.8Q249.1 63.6 261.6 63.9M241.5 57.2Q249.2 57.3 257.6 56.5M258.3 57.7Q253.5 68.4 237.4 69.1M237.4 79.2Q246.2 66.7 250.6 55.1M269.2 89.3Q265.5 92.5 256.6 84.9M257.7 61.2Q258.8 52.4 249.2 54.5M266.9 63.9Q264.9 74.4 255 87M244.3 55.9Q260.3 59 275.4 62.3M234.7 88.9Q250.7 86.9 254.9 92M262.8 80Q248.2 83 226.6 78.6M267.5 65.1Q272.2 69.4 278 76.8M259.1 66.8Q254.5 75.5 238 82.9M243.7 56.5Q251.1 70.6 251.6 77.4M244.5 87.3Q244 71.1 250.6 56M261.6 61.4Q249.9 82.2 235 91.2M229.3 75.1Q229.7 74.9 233.1 79.3M263.3 51.6Q246.9 65.4 230.9 80M265.8 82.3Q263.2 83 249.7 74.8M240 86.2Q248 64.7 267.4 54.6M254.2 75.9Q248.8 67.7 245.6 54.1M260.2 70Q252.7 65.3 243.1 68.9M241.7 60.1Q246.8 77.1 250.5 93.4M280.2 74.6Q257 73.4 243.4 67.2M239.2 85.7Q255.5 74.7 265.8 59.7M261.6 77.2Q262.4 77.5 273.6 76.9M265.8 84.4Q262.1 82.6 269.1 71.2M253.6 73.1Q257.4 72.3 256.9 81.5M274.3 61.1Q273.5 61.7 275.3 63.2M249 74.2Q250.4 77.4 261.6 85.4M228.6 71.6Q245.5 66.5 259 54.7M238.5 56.7Q250.6 56 260.4 66.5M251.3 81.6Q257.7 64 271.9 57.5M269.9 71.2Q258.7 72.7 255.4 68.1M273 79.1Q277.4 70.8 274.9 73.1M252.3 61.2Q262.6 73.1 272.1 84.3M252.2 67.8Q244.3 69.8 243.3 83.5M240.6 72.3Q244.5 76.6 259.7 69.6M262.7 76.2Q269.8 65.7 277.9 63.6M256.6 65.1Q253.6 76.4 253.1 85.9M263.6 86.7Q253.3 72.2 235 63.7M249 81Q262.1 69 272.3 64.8M236.2 61.8Q244.7 82.2 256.3 95.8M262.4 63.3Q255.5 67.7 244.8 74.5M268 71.5Q246 68.2 234.6 68.4M249.1 96.3Q260.9 75.3 271.6 62M255.6 72.6Q257.8 63.7 268.3 64M245.3 81.4Q246.8 95.3 258.5 97.6M242.6 90.1Q240.7 81.6 244.3 67.8M247.6 66.4Q242 68.4 239.9 63.6M231.1 60.9Q247.9 65.8 256.1 65.1M237.2 84.9Q232 84.2 238.7 87.6M241.2 85.3Q246.4 80.7 245.9 76M255.3 69.7Q266.6 75.9 270.9 88.2M231 75Q238.5 78.8 243.5 79.6M266.9 62.7Q274.5 69.1 277.4 77.8M234.7 68.9Q246.6 72.6 261.3 80.1M244.1 86.4Q248.4 75.6 262.5 65.8M262.5 95.1Q241 82.3 227.8 79.7M234.5 85.4Q253.7 89.2 272.4 83.5M237.9 64.7Q253.6 61.2 262.8 55.1M233.5 81.9Q243.1 70.6 245 64.7M236.2 64.4Q243.1 73.5 257.6 75.1M268.2 66.1Q265.1 72.3 261.1 66.9M246.8 70.2Q250.5 70.7 243.1 65.8M270.6 67.6Q260.6 55.8 257 53.4M280.1 69.3Q259.5 64.4 249.3 53.9M229.6 71.1Q230.7 72.7 242 70.3M256 82.4Q258 85.3 270.5 87.6M262.6 80.7Q274.3 81.2 278.1 76.4M256.2 91Q261.2 78.7 272.3 74.2M269.9 82.3Q271.8 75.9 262.4 75.4M239.6 73.3Q237.1 80.6 235.9 86.7M251.9 95.9Q253.9 73.8 258.4 56.3M230.1 79.1Q244.9 74.2 270.8 74.5M240.5 70.7Q249.1 76.5 263 93.3M239.5 67.4Q256 72.2 277.8 85.6M241.4 59Q252.7 69.2 269 71.2M228.1 67Q251.2 70 275.8 75.2M270.8 76.5Q275.4 74 271.1 71.9M230.5 79.4Q251.3 68.2 263.9 54M263.6 52.4Q273.7 60.4 279.8 67.8M258.6 57.3Q250.7 66.5 237.3 68.3M233.7 61.9Q243 61.1 243.9 63.2M232.9 78.7Q240.8 80.2 247.1 89.8M243.5 69.5Q257.5 72.9 267.5 71.8M269.3 67.3Q265.8 77.3 274.2 87.9M252.3 83Q252.1 74.7 254.4 73M267 64.5Q264.4 79.2 255.4 92.8M231.7 75.9Q228.9 64.1 229.2 63.6M273 57.5Q260.8 53.7 258.4 57M264.8 95.7Q259.2 91.5 247.8 82.5M244.7 83Q240.7 79.4 229.8 74.1M236.3 87.3Q257.6 85.6 268.5 84.6M226.7 75.8Q238.7 74.8 241.4 71.4M254.2 78.7Q256.2 74.6 250.1 77.5M261 80.7Q252.6 90 235.6 91.1M263.9 92.1Q250.7 72.4 236.8 57.6M265.4 58.5Q267.9 62.2 278.7 70.8M253.8 59.6Q252 77.5 260 86.9M267.5 86.6Q251.7 82.2 233.3 69.5M259.3 72.1Q255.3 66.9 251.1 59.9M246.3 64.6Q256.1 73.6 265.7 78.7M272 57.9Q263.8 61.1 265.4 57M250.1 86.7Q246.1 80.4 241.6 76.9M267.3 92.3Q271.1 81.1 276 72.7M252.2 64.1Q240.7 61 235.7 59.3M272.7 85Q265.3 83.1 251.1 75.1M257 76.3Q272.9 76.8 280.3 82.2M273.7 90.8Q269.1 77.3 260.2 55.7M249 68Q247.7 64.8 237.7 55.2M235.9 72.4Q248.1 62.8 262.9 63.9M242.3 52.5Q243.7 68 244.6 86.3M257.7 88Q269.4 93 271.6 89.4M265.5 83.3Q262.8 86.4 254.6 83M241.5 87.4Q243.3 75.4 246.9 67.1M253.1 66.7Q261.6 78.1 262.1 86.4M262.6 73.8Q257.3 66.1 242.1 64.7M253.2 94.5Q260.9 94.3 274 87.4M233.8 76.2Q243.2 73.5 241.7 61.3M266.7 94.1Q252.8 72.2 248.5 58.6M243.4 90Q236.2 83.6 239.4 74.7M242.8 54.7Q263 54.8 274.3 61.9M242.9 81.1Q252 74.8 252.5 59.1M266.5 84.7Q271.7 89.1 269.2 82.9M239.5 71.2Q258.4 74.6 278.1 75M267 55.1Q269.8 56.7 263 55.5M234.9 81.5Q237.4 75.3 245 61.8" stroke="#6CC8A9" stroke-width="0.5" fill="none" transform="rotate(40 254 74)"/><path d="M313.8 118.7Q325.6 138 315.8 151M283.1 45.3Q291.7 46.9 297.3 37M269.4 144.6Q263.3 165.5 256.3 178.4M201.3 112.4Q192.5 106.2 202.2 86.9M290.9 101.4Q295.5 93.9 291.7 86.9M332.1 118.3Q325.3 137.6 311.8 148.8M237.9 40.2Q242.9 51.6 251.6 49.8M323.3 132Q325.9 128.2 320.4 115.6M261.7 141.5Q259.1 150.4 262.6 176.9M288.8 34.2L289.3 34.3M288.8 34.2L286.2 36.2M288.8 34.2L285.5 33.6M288.8 34.2L290.3 37.2M279.2 46.9L280.8 47M279.2 46.9L280.7 44.7M279.2 46.9L282.9 46.3M279.2 46.9L279.7 42.6M301.8 41.4L301.8 40.2M301.8 41.4L302.8 38.1M301.8 41.4L298.2 46.7M301.8 41.4L295.5 38.7M284.1 50L282.9 46.3M284.1 50L280.8 47M284.1 50L285.5 45.4M284.1 50L279.2 46.9M289.3 34.3L288.8 34.2M289.3 34.3L290.3 37.2M289.3 34.3L286.2 36.2M289.3 34.3L285.5 33.6M285 40.2L283.3 40.2M285 40.2L283 40.2M285 40.2L284.9 37.8M285 40.2L287 42M298.2 46.7L293.6 48.6M298.2 46.7L301.8 41.4M298.2 46.7L291.7 45.8M298.2 46.7L293.3 41.5M298.2 46.7L290.3 37.2M302.8 38.1L301.8 40.2M302.8 38.1L301.8 41.4M302.8 38.1L303.8 34.1M302.8 38.1L299.4 33.8M302.8 38.1L302.8 38.1M284.7 43.2L285.5 45.4M284.7 43.2L287 42M284.7 43.2L285 40.2M284.7 43.2L283.3 40.2M284.7 43.2L296 31.5M285.3 35.9L286.2 36.2M285.3 35.9L284.9 37.8M285.3 35.9L285.5 33.6M285.3 35.9L288.8 34.2M295.5 38.7L293.3 41.5M295.5 38.7L293.3 34.9M295.5 38.7L290.3 37.2M295.5 38.7L299.4 33.8M285.5 45.4L284.7 43.2M285.5 45.4L282.9 46.3M285.5 45.4L287 42M285.5 45.4L288.5 43.2M285.5 45.4L287 42M280.7 44.7L280.8 47M280.7 44.7L279.7 42.6M280.7 44.7L279.2 46.9M280.7 44.7L282.9 46.3M280.7 44.7L291.7 45.8M293.3 41.5L295.5 38.7M293.3 41.5L291.7 45.8M293.3 41.5L288.5 43.2M293.3 41.5L290.3 37.2M291.7 45.8L293.6 48.6M291.7 45.8L288.5 43.2M291.7 45.8L293.3 41.5M291.7 45.8L287 42M279.7 42.6L281.1 42M279.7 42.6L280.7 44.7M279.7 42.6L280.6 39M279.7 42.6L283 40.2M293.6 48.6L291.7 45.8M293.6 48.6L298.2 46.7M293.6 48.6L293.3 41.5M293.6 48.6L288.5 43.2M288.5 43.2L287 42M288.5 43.2L285.5 45.4M288.5 43.2L284.7 43.2M288.5 43.2L291.7 45.8M299.4 33.8L296 31.5M299.4 33.8L303.8 34.1M299.4 33.8L302.8 38.1M299.4 33.8L295.5 38.7M290.3 37.2L289.3 34.3M290.3 37.2L288.8 34.2M290.3 37.2L293.3 34.9M290.3 37.2L286.2 36.2M290.3 37.2L280.7 44.7M286.2 36.2L285.3 35.9M286.2 36.2L284.9 37.8M286.2 36.2L285.5 33.6M286.2 36.2L288.8 34.2M286.2 36.2L284.1 50M282.9 46.3L280.8 47M282.9 46.3L280.7 44.7M282.9 46.3L285.5 45.4M282.9 46.3L284.7 43.2M282.9 46.3L289.3 34.3M280.6 39L283 40.2M280.6 39L283.3 40.2M280.6 39L281.1 42M280.6 39L279.7 42.6M280.6 39L283.3 40.2M293.3 34.9L290.3 37.2M293.3 34.9L289.3 34.3M293.3 34.9L295.5 38.7M293.3 34.9L296 31.5M281.1 42L279.7 42.6M281.1 42L283 40.2M281.1 42L280.7 44.7M281.1 42L283.3 40.2M281.1 42L285 40.2M283.3 40.2L283 40.2M283.3 40.2L285 40.2M283.3 40.2L281.1 42M283.3 40.2L284.9 37.8M280.8 47L279.2 46.9M280.8 47L282.9 46.3M280.8 47L280.7 44.7M280.8 47L284.1 50M287 42L288.5 43.2M287 42L284.7 43.2M287 42L285 40.2M287 42L285.5 45.4M285.5 33.6L285.3 35.9M285.5 33.6L286.2 36.2M285.5 33.6L288.8 34.2M285.5 33.6L289.3 34.3M301.8 40.2L301.8 41.4M301.8 40.2L302.8 38.1M301.8 40.2L303.8 34.1M301.8 40.2L295.5 38.7M301.8 40.2L283.3 40.2M283 40.2L283.3 40.2M283 40.2L285 40.2M283 40.2L281.1 42M283 40.2L280.6 39M296 31.5L299.4 33.8M296 31.5L293.3 34.9M296 31.5L295.5 38.7M296 31.5L289.3 34.3M284.9 37.8L285.3 35.9M284.9 37.8L286.2 36.2M284.9 37.8L285 40.2M284.9 37.8L283.3 40.2M303.8 34.1L302.8 38.1M303.8 34.1L299.4 33.8M303.8 34.1L301.8 40.2M303.8 34.1L301.8 41.4M306 92.9L305.3 90.3M306 92.9L306.6 95.5M306 92.9L302.8 95.7M306 92.9L300.8 87.9M306.6 95.5L306 92.9M306.6 95.5L302.8 95.7M306.6 95.5L305.3 90.3M306.6 95.5L300.8 87.9M306.3 78.6L306.7 77.2M306.3 78.6L304.3 77M306.3 78.6L306.8 75.2M306.3 78.6L302.3 77.5M317.2 79.1L318 83.1M317.2 79.1L316.1 83.2M317.2 79.1L318.2 85M317.2 79.1L311.2 74.7M305.3 90.3L306 92.9M305.3 90.3L300.8 87.9M305.3 90.3L306.6 95.5M305.3 90.3L305.3 84.9M305.3 90.3L300.8 87.9M316.8 89.6L315.3 89.9M316.8 89.6L316.5 88.2M316.8 89.6L316.5 91.4M316.8 89.6L318.2 85M312 84.7L311.1 83.9M312 84.7L309.6 81.8M312 84.7L316.1 83.2M312 84.7L316.5 88.2M306.8 75.2L306.7 77.2M306.8 75.2L304.3 77M306.8 75.2L306.3 78.6M306.8 75.2L311.2 74.7M306.7 77.2L306.3 78.6M306.7 77.2L306.8 75.2M306.7 77.2L304.3 77M306.7 77.2L302.3 77.5M305.3 84.9L303.1 85.1M305.3 84.9L309.6 81.8M305.3 84.9L305.3 90.3M305.3 84.9L300.8 87.9M318.2 85L318 83.1M318.2 85L316.1 83.2M318.2 85L316.5 88.2M318.2 85L316.8 89.6M316.5 88.2L316.8 89.6M316.5 88.2L315.3 89.9M316.5 88.2L316.5 91.4M316.5 88.2L318.2 85M316.5 88.2L306.7 77.2M302.8 95.7L306.6 95.5M302.8 95.7L306 92.9M302.8 95.7L305.3 90.3M302.8 95.7L300.8 87.9M302.8 95.7L316.5 88.2M298.6 84.2L298.2 84.1M298.6 84.2L298.8 82.7M298.6 84.2L297.6 86.1M298.6 84.2L298 81.6M298.6 84.2L300.8 87.9M298.2 84.1L298.6 84.2M298.2 84.1L298.8 82.7M298.2 84.1L297.6 86.1M298.2 84.1L298 81.6M298.2 84.1L318.2 85M300.3 82L298.8 82.7M300.3 82L298 81.6M300.3 82L298.6 84.2M300.3 82L298.2 84.1M309.6 81.8L311.1 83.9M309.6 81.8L312 84.7M309.6 81.8L306.3 78.6M309.6 81.8L305.3 84.9M309.6 81.8L309.6 81.8M304.3 77L302.3 77.5M304.3 77L302.2 76.7M304.3 77L306.7 77.2M304.3 77L306.3 78.6M304.3 77L302.2 76.7M298.8 82.7L298 81.6M298.8 82.7L298.2 84.1M298.8 82.7L300.3 82M298.8 82.7L298.6 84.2M298.8 82.7L297.6 86.1M316.5 91.4L316.8 89.6M316.5 91.4L315.3 89.9M316.5 91.4L316.5 88.2M316.5 91.4L316.7 95.2M316.5 91.4L312 84.7M297.6 86.1L298.6 84.2M297.6 86.1L298.2 84.1M297.6 86.1L298.8 82.7M297.6 86.1L300.8 87.9M298 81.6L298.8 82.7M298 81.6L300.3 82M298 81.6L298.2 84.1M298 81.6L298.6 84.2M316.1 83.2L318 83.1M316.1 83.2L318.2 85M316.1 83.2L317.2 79.1M316.1 83.2L312 84.7M315.3 89.9L316.8 89.6M315.3 89.9L316.5 91.4M315.3 89.9L316.5 88.2M315.3 89.9L316.7 95.2M315.3 89.9L316.8 89.6M303.1 85.1L305.3 84.9M303.1 85.1L300.8 87.9M303.1 85.1L300.3 82M303.1 85.1L298.6 84.2M311.1 83.9L312 84.7M311.1 83.9L309.6 81.8M311.1 83.9L316.1 83.2M311.1 83.9L305.3 84.9M311.1 83.9L298.6 84.2M302.2 76.7L302.3 77.5M302.2 76.7L304.3 77M302.2 76.7L306.3 78.6M302.2 76.7L306.7 77.2M302.2 76.7L300.3 82M311.2 74.7L306.8 75.2M311.2 74.7L306.7 77.2M311.2 74.7L306.3 78.6M311.2 74.7L304.3 77M311.2 74.7L298.8 82.7M300.8 87.9L303.1 85.1M300.8 87.9L297.6 86.1M300.8 87.9L298.6 84.2M300.8 87.9L298.2 84.1M302.3 77.5L302.2 76.7M302.3 77.5L304.3 77M302.3 77.5L306.3 78.6M302.3 77.5L306.7 77.2M316.7 95.2L316.5 91.4M316.7 95.2L315.3 89.9M316.7 95.2L316.8 89.6M316.7 95.2L316.5 88.2M318 83.1L318.2 85M318 83.1L316.1 83.2M318 83.1L317.2 79.1M318 83.1L316.5 88.2M194.8 110.4L196.8 112.3M194.8 110.4L193 106M194.8 110.4L199.8 109.8M194.8 110.4L200 108.5M187.7 107.1L187.4 107.6M187.7 107.1L186.9 108.4M187.7 107.1L187.2 105.1M187.7 107.1L188.6 109.9M187.2 105.1L187.2 103.6M187.2 105.1L187.7 107.1M187.2 105.1L187.4 107.6M187.2 105.1L186.9 108.4M200.8 102L202.9 103.5M200.8 102L200 108.5M200.8 102L201 109.5M200.8 102L201.9 109.5M199.8 109.8L201 109.5M199.8 109.8L200 108.5M199.8 109.8L201.9 109.5M199.8 109.8L196.8 112.3M199.8 109.8L199.8 109.8M201.9 109.5L201 109.5M201.9 109.5L199.8 109.8M201.9 109.5L200 108.5M201.9 109.5L196.8 112.3M186.9 108.4L187.4 107.6M186.9 108.4L187.7 107.1M186.9 108.4L188.6 109.9M186.9 108.4L187.2 105.1M200 108.5L199.8 109.8M200 108.5L201 109.5M200 108.5L201.9 109.5M200 108.5L196.8 112.3M191.5 104.7L193 106M191.5 104.7L187.2 105.1M191.5 104.7L187.7 107.1M191.5 104.7L187.2 103.6M187.2 103.6L187.2 105.1M187.2 103.6L187.7 107.1M187.2 103.6L187.4 107.6M187.2 103.6L191.5 104.7M202.9 103.5L200.8 102M202.9 103.5L200 108.5M202.9 103.5L201.9 109.5M202.9 103.5L201 109.5M202.9 103.5L200 108.5M201 109.5L201.9 109.5M201 109.5L199.8 109.8M201 109.5L200 108.5M201 109.5L196.8 112.3M193 106L191.5 104.7M193 106L194.8 110.4M193 106L187.7 107.1M193 106L187.4 107.6M188.6 109.9L186.9 108.4M188.6 109.9L187.4 107.6M188.6 109.9L187.7 107.1M188.6 109.9L187.2 105.1M196.8 112.3L194.8 110.4M196.8 112.3L199.8 109.8M196.8 112.3L200 108.5M196.8 112.3L201 109.5M187.4 107.6L187.7 107.1M187.4 107.6L186.9 108.4M187.4 107.6L187.2 105.1M187.4 107.6L188.6 109.9M187.4 107.6L187.7 107.1M225.1 110.7L225.2 110.3M225.1 110.7L225.2 108.9M225.1 110.7L226.7 108.2M225.1 110.7L222.5 108.2M222.5 108.2L225.2 108.9M222.5 108.2L219.5 108.2M222.5 108.2L225.2 110.3M222.5 108.2L225.1 110.7M222.5 108.2L217.5 110M220.6 112.7L222.8 113.7M220.6 112.7L218.8 111.2M220.6 112.7L217.5 110M220.6 112.7L217 114.9M225.2 108.9L225.2 110.3M225.2 108.9L226.7 108.2M225.2 108.9L225.1 110.7M225.2 108.9L222.5 108.2M219.5 108.2L218.5 108M219.5 108.2L219.1 107M219.5 108.2L217.5 110M219.5 108.2L216.6 108.4M218.5 108L219.5 108.2M218.5 108L219.1 107M218.5 108L216.6 108.4M218.5 108L217.5 110M218.5 108L225.2 108.9M219.1 107L218.5 108M219.1 107L219.5 108.2M219.1 107L216.6 108.4M219.1 107L217.5 110M217.5 110L218.8 111.2M217.5 110L216.6 108.4M217.5 110L218.5 108M217.5 110L219.5 108.2M217.5 110L217 114.9M216.6 108.4L217.5 110M216.6 108.4L218.5 108M216.6 108.4L219.5 108.2M216.6 108.4L219.1 107M216.6 108.4L220.2 117.8M225.2 110.3L225.1 110.7M225.2 110.3L225.2 108.9M225.2 110.3L226.7 108.2M225.2 110.3L222.5 108.2M225.2 110.3L220.6 112.7M216.2 114.2L217 114.9M216.2 114.2L218.8 111.2M216.2 114.2L217.5 110M216.2 114.2L220.6 112.7M216.2 114.2L219.1 107M222.8 113.7L220.6 112.7M222.8 113.7L225.1 110.7M222.8 113.7L225.2 110.3M222.8 113.7L218.8 111.2M226.7 108.2L225.2 108.9M226.7 108.2L225.2 110.3M226.7 108.2L225.1 110.7M226.7 108.2L222.5 108.2M220.2 117.8L217 114.9M220.2 117.8L222.8 113.7M220.2 117.8L220.6 112.7M220.2 117.8L216.2 114.2M220.2 117.8L218.8 111.2M217 114.9L216.2 114.2M217 114.9L218.8 111.2M217 114.9L220.6 112.7M217 114.9L220.2 117.8M218.8 111.2L217.5 110M218.8 111.2L220.6 112.7M218.8 111.2L219.5 108.2M218.8 111.2L218.5 108M187.3 147.7L187.4 147.6M187.3 147.7L188.1 148.3M187.3 147.7L189.4 146.2M187.3 147.7L185.3 149.7M182.2 149.4L183.1 147.9M182.2 149.4L185.3 149.7M182.2 149.4L178.7 148.9M182.2 149.4L187.3 147.7M184.9 141.7L185.4 144.6M184.9 141.7L181.9 142.3M184.9 141.7L179.6 143M184.9 141.7L189.4 146.2M181.9 142.3L179.6 143M181.9 142.3L184.9 141.7M181.9 142.3L185.4 144.6M181.9 142.3L177.9 146.3M181.9 142.3L178.7 148.9M185.4 144.6L184.9 141.7M185.4 144.6L187.4 147.6M185.4 144.6L187.3 147.7M185.4 144.6L183.1 147.9M189.4 146.2L187.4 147.6M189.4 146.2L188.1 148.3M189.4 146.2L187.3 147.7M189.4 146.2L185.4 144.6M183.1 147.9L182.2 149.4M183.1 147.9L185.3 149.7M183.1 147.9L185.4 144.6M183.1 147.9L187.3 147.7M183.1 147.9L182.2 149.4M188.1 148.3L187.3 147.7M188.1 148.3L187.4 147.6M188.1 148.3L189.4 146.2M188.1 148.3L185.3 149.7M179.6 143L181.9 142.3M179.6 143L177.9 146.3M179.6 143L184.9 141.7M179.6 143L178.7 148.9M178.7 148.9L177.9 146.3M178.7 148.9L182.2 149.4M178.7 148.9L183.1 147.9M178.7 148.9L179.6 143M187.4 147.6L187.3 147.7M187.4 147.6L188.1 148.3M187.4 147.6L189.4 146.2M187.4 147.6L185.3 149.7M185.3 149.7L183.1 147.9M185.3 149.7L187.3 147.7M185.3 149.7L187.4 147.6M185.3 149.7L182.2 149.4M177.9 146.3L178.7 148.9M177.9 146.3L179.6 143M177.9 146.3L182.2 149.4M177.9 146.3L183.1 147.9M205.7 148.3L204.6 148.8M205.7 148.3L207.5 148.9M205.7 148.3L203.1 148.5M205.7 148.3L206.5 152M203.1 148.5L204.6 148.8M203.1 148.5L205.7 148.3M203.1 148.5L199.1 149.5M203.1 148.5L207.5 148.9M201 143.5L201.2 142.8M201 143.5L201.6 141.7M201 143.5L205.5 143.3M201 143.5L206.1 141.9M205.5 143.3L206.1 141.9M205.5 143.3L207.5 144.8M205.5 143.3L209.2 143.8M205.5 143.3L201.6 141.7M201.2 142.8L201 143.5M201.2 142.8L201.6 141.7M201.2 142.8L205.5 143.3M201.2 142.8L206.1 141.9M201.2 142.8L205.7 148.3M199.1 149.5L203.1 148.5M199.1 149.5L204.6 148.8M199.1 149.5L201 143.5M199.1 149.5L205.7 148.3M206.1 141.9L205.5 143.3M206.1 141.9L207.5 144.8M206.1 141.9L209.2 143.8M206.1 141.9L201.6 141.7M206.1 141.9L201.2 142.8M209.2 143.8L207.5 144.8M209.2 143.8L206.1 141.9M209.2 143.8L205.5 143.3M209.2 143.8L207.5 148.9M204.6 148.8L205.7 148.3M204.6 148.8L203.1 148.5M204.6 148.8L207.5 148.9M204.6 148.8L206.5 152M207.5 148.9L205.7 148.3M207.5 148.9L204.6 148.8M207.5 148.9L206.5 152M207.5 148.9L207.5 144.8M207.5 148.9L203.1 148.5M206.5 152L207.5 148.9M206.5 152L204.6 148.8M206.5 152L205.7 148.3M206.5 152L203.1 148.5M207.5 144.8L209.2 143.8M207.5 144.8L205.5 143.3M207.5 144.8L206.1 141.9M207.5 144.8L205.7 148.3M207.5 144.8L205.7 148.3M201.6 141.7L201.2 142.8M201.6 141.7L201 143.5M201.6 141.7L205.5 143.3M201.6 141.7L206.1 141.9M201.6 141.7L199.1 149.5M324.4 118.2Q325.2 120.8 324.4 123.4M324.5 123.1Q325.6 120.6 324.4 118.2M324.5 123.1Q323.5 120.6 324.4 118.2M324.4 123.4Q316.4 115.3 322.4 105.5M283.4 30.1Q283.2 32.9 284.5 35.3M283.4 30.1Q285.1 32.5 284.5 35.3M277.7 35Q281.2 33.3 283.4 30.1M277.7 35Q272.1 37.6 267.8 33.2M300.1 159.5Q303.3 160.3 304.7 163.2M302.1 159.7Q303.2 161.6 304.7 163.2M299.5 165.8Q302.1 163.3 302.1 159.7M299.5 165.8Q299.2 162 302.1 159.7M300.1 159.3Q298.5 162.4 299.5 165.8M300.1 159.3Q301.7 162.7 299.5 165.8M304.1 165.5Q303.3 161.7 300.1 159.5M304.1 165.5Q301.3 163.1 300.1 159.5M304.9 106.9Q307.9 107.7 310.5 105.9M312.1 65.9Q310.6 68.2 311 70.9M312.1 65.9Q312.8 68.7 311 70.9M312.4 67.9Q312.3 69.7 311 70.9M312.4 67.9Q312.4 66.9 312.1 65.9M309.5 68.6Q309.6 70.2 311 70.9M312.1 65.9Q314.8 61.4 315.2 56.2M182.3 141Q185.6 140.8 187.1 137.9M184.1 135.5Q185.2 137.3 187.1 137.9M184.1 135.5Q183.7 138.4 182.3 141M186.9 134.9Q182.8 136.6 182.3 141M186.9 134.9Q185.4 138.5 182.3 141M295.9 83Q295.3 83.2 294.6 83.2M298.3 83.7Q296.6 82.8 294.6 83.2M298.3 83.7Q296.4 84 294.6 83.2M298.3 83.7Q297.3 82.9 295.9 83M298.3 83.7Q296.9 84.1 295.9 83M297.7 81.4Q296.5 81.9 295.9 83M315.8 84.7Q315.5 87 316.8 89M315.8 84.7Q317.4 86.6 316.8 89M319 88.6Q317.9 86.3 315.8 84.7M319 88.6Q316.3 87.6 315.8 84.7M250.1 122.7Q250.8 121.7 250.4 120.6M250.1 122.7Q249.7 121.5 250.4 120.6M251 122.6Q251.1 121.5 250.4 120.6M251 122.6Q250.2 121.7 250.4 120.6M250.6 118.2Q249.8 119.4 250.4 120.6M250.6 118.2Q250.9 119.4 250.4 120.6M256.1 121.5Q253.4 121.1 251 122.6M256.1 121.5Q253.7 122.8 251 122.6M256.1 121.5Q252.9 120.6 250.6 118.2M253.3 122.3Q251.6 121.6 250.1 122.7M253.3 122.3Q251.8 123.2 250.1 122.7M253.3 122.3Q251.5 120.5 250.6 118.2M251 122.6Q252.7 118.7 252.4 114.5M221.4 135Q220.7 133.7 219.2 133.3M221.4 135Q220.1 134.5 219.2 133.3M222.9 134.8Q221.4 133.1 219.2 133.3M222.9 134.8Q220.8 134.6 219.2 133.3M222.9 134.8Q222.1 134.5 221.4 135M222.9 134.8Q222.2 135.2 221.4 135M222.4 138.7Q222.6 136.7 221.4 135M222.4 138.7Q223.3 136.8 222.9 134.8M221.2 138.1Q221.5 136.1 222.9 134.8M223.8 134.3Q223.3 136.8 221.2 138.1M223.8 134.3Q220 137.9 215.6 140.8M325.2 75.4Q324.6 73.9 323.4 72.8M326.5 80.3Q326 76.1 323.4 72.8M326.5 80.3Q324.3 78.2 325.2 75.4M330 80Q328.9 76.3 325.2 75.4M330 80Q326.7 78.6 325.2 75.4M324.7 80Q325.7 77.8 325.2 75.4M324.7 80Q323.9 77.6 325.2 75.4M330.2 78.1Q327.1 77.8 324.7 80M330.2 78.1Q328 80.6 324.7 80M188.3 88.9Q190.2 86.8 189.6 83.9M188.3 88.9Q188.3 86.3 189.6 83.9M189.7 88.6Q188.8 88.3 188.3 88.9M186.8 83.5Q188.2 84.2 189.6 83.9M186.8 83.5Q188.3 83.3 189.6 83.9M186.8 83.5Q189.6 85.3 189.7 88.6M185.3 82.7Q187.4 83.5 189.6 83.9M185.3 82.7Q184.9 86.7 188.3 88.9M185.3 82.7Q188.6 85 188.3 88.9M185.3 82Q186.1 86.2 189.7 88.6M185.3 82Q189 84.3 189.7 88.6M189.7 88.6Q186.9 90.3 186 93.3M324.1 96Q325.1 95.5 325.2 94.5M324.1 96Q324.2 94.9 325.2 94.5M330.4 99.3Q327.9 96.4 324.1 96M330.4 99.3Q326.4 99.3 324.1 96M324.5 98.8Q325.5 96.8 325.2 94.5M324.5 98.8Q324.3 96.5 325.2 94.5M274 148.6Q275.4 146.2 274.7 143.6M274 148.6Q273.5 146 274.7 143.6M274 148.6Q269.3 148.9 266.2 145.3M205.9 148.1Q205.5 146.7 204.5 145.7M205.9 148.1Q204.6 147.2 204.5 145.7M203.5 147.6Q204.7 147.9 205.9 148.1M202.1 148Q203.4 146.9 204.5 145.7M190.4 59.2Q193 57.3 194.2 54.3M190.4 59.2Q191.4 56.1 194.2 54.3M190.1 61.9Q194.3 59.2 194.2 54.3M190.1 61.9Q191.1 57.5 194.2 54.3M194.6 61.7Q192 61.3 190.4 59.2M194.6 61.7Q192.3 61.3 190.1 61.9M190.5 56.9Q193.1 56.7 194.2 54.3M190.5 56.9Q191.8 54.8 194.2 54.3M198.3 53.5Q193.3 54.9 190.4 59.2M198.3 53.5Q195.7 58.2 190.4 59.2M198.3 53.5Q191.8 55.4 190.1 61.9M198.3 53.5Q196 59.5 190.1 61.9M198.3 53.5Q201.5 54.5 204.6 53.7M332.9 84.7Q332.8 84.5 332.9 84.2M331 82.3Q331.2 84 332.9 84.7M331 82.3Q332.4 83.1 332.9 84.7M329.8 88.3Q330.9 86.1 332.9 84.7M332 86.1Q332.7 85.6 332.9 84.7M332 86.1Q332.1 85.2 332.9 84.7M331 82.3Q328.6 81.5 326.5 80.3M308.8 97.1Q307.7 93.9 304.8 92M308.8 97.1Q306.2 95.1 304.8 92M307.2 94.8Q306.5 92.9 304.8 92M307.2 94.8Q305.5 93.8 304.8 92M307.2 94.8Q307.3 96.4 308.8 97.1M307.2 94.8Q308.3 95.7 308.8 97.1M304.8 92Q301.7 93.4 302.2 96.7M232.9 130.9Q233.6 131 234.3 131.3M238.1 128.9Q234.9 128.4 232.9 130.9M238.1 128.9Q235.9 131.2 232.9 130.9M236.7 126.5Q234.1 128.1 232.9 130.9M238.1 128.9Q233 127.3 228.4 130.1M285 156.2Q287 155.3 287.6 153.1M287.6 153.1Q291.3 153.8 291.6 157.6M210.1 153.8Q212.1 156.4 215.3 156.2M210.1 153.8Q213.1 154.2 215.3 156.2M218.5 157Q214.3 155.3 210.1 153.8M218.8 155Q214.5 154 210.1 153.8M218.8 155Q218.9 156.1 218.5 157M217.3 143.9Q218.7 146.2 221.4 146.5M217.3 143.9Q220.1 144 221.4 146.5M221 140.7Q221.3 143.6 221.4 146.5M221 140.7Q219.3 142.4 217.3 143.9M221 140.7Q218.3 138.4 215.6 140.8M238.2 40.9Q237.1 40.8 236.4 41.5M238.2 40.9Q237.4 41.6 236.4 41.5M239.9 36.8Q239 39.8 236.4 41.5M241.2 34.7Q237.6 37.2 236.4 41.5M241.2 34.7Q240.6 39.4 236.4 41.5M241.2 34.7Q240.2 35.5 239.9 36.8M241.2 34.7Q241.2 36.1 239.9 36.8M239.9 36.8Q241.7 36.3 243.5 36.7M325.8 148.8Q327.7 145.6 325.9 142.4M325.8 148.8Q324.9 145.6 325.9 142.4M321.8 142.6Q323.8 142.1 325.9 142.4M321.8 142.6Q324.4 145.3 325.8 148.8M326 148Q325.7 148.3 325.8 148.8M326 148Q326.1 148.5 325.8 148.8M323.1 147.9Q325.9 145.8 325.9 142.4M323.1 147.9Q323.5 144.6 325.9 142.4M323.1 147.9Q324.3 148.9 325.8 148.8M321.7 146.5Q323.2 148.6 325.8 148.8M321.7 146.5Q324.1 147 325.8 148.8M321.8 142.6Q317.6 138.1 311.8 139.9M293.9 158.5Q294.8 156.3 295.6 154.1M292.4 156.2Q294.1 155.3 295.6 154.1M291.6 157.6Q292.6 158.5 293.9 158.5M291.6 157.6Q292.9 157.7 293.9 158.5M291.6 157.6Q292.3 157.1 292.4 156.2M291.6 157.6Q291.8 156.8 292.4 156.2M292.4 156.2Q292.5 153.9 292.4 151.6M320.8 68Q320.9 69.7 319.9 71.1M322.8 67.9Q320.8 68.9 319.9 71.1M322 71.2Q322.4 69.2 320.8 68M322 71.2Q320.5 69.9 320.8 68M320.3 73.6Q322.9 71.3 322.8 67.9M320.3 73.6Q320.1 70.1 322.8 67.9M259.4 177.6Q258.6 178.3 258.5 179.5M259.4 177.6Q259.3 178.7 258.5 179.5M258.9 178.2Q258.4 178.7 258.5 179.5M258.9 178.2Q259.3 178 259.4 177.6M260.5 179.1Q259.4 179.1 258.9 178.2M298.4 170.8Q297.5 168.1 295.5 166.2M294.6 167.8Q295.6 170.5 298.4 170.8M294.6 167.8Q297.2 168.5 298.4 170.8M295.5 166.2Q297.6 166.8 299.5 165.8M316.2 105.3Q314.2 104.6 312.4 105.9M314.9 109.1Q312.5 108.3 312.4 105.9M314.9 109.1Q316.4 107.5 316.2 105.3M309.8 109.6Q312.2 108.3 314.9 109.1M210.6 56.2Q208.9 56.5 208.1 58.1M210.6 56.2Q209.9 57.8 208.1 58.1M208.1 58.1Q208 55 206.7 52.2M270.4 182.9Q268.6 180.6 265.8 179.7M270.4 182.9Q267.3 182.4 265.8 179.7M271.6 178.1Q270 180.2 270.4 182.9M271.6 178.1Q271.7 180.7 270.4 182.9M268.8 182.7Q271 180.9 271.6 178.1M268.8 182.7Q269 179.6 271.6 178.1M268.9 178.6Q269.1 181 270.4 182.9M268.9 178.6Q270.4 179 271.6 178.1M268.9 178.6Q270.2 177.7 271.6 178.1M282 175.8Q282.6 174.6 281.8 173.6M286.3 178.7Q285.3 175 281.8 173.6M286.3 178.7Q282.9 177.2 281.8 173.6M286.3 178.7Q284.1 177.3 282 175.8M281.8 173.6Q278.4 173.9 275.4 175.5M202.9 104.1Q202.6 105.2 201.5 105.6M203.3 103.6Q203 103.8 202.9 104.1M203.3 103.6Q203.2 103.9 202.9 104.1M203.7 106.8Q204.4 105.1 203.3 103.6M203.7 106.8Q203 105.3 203.3 103.6M192.6 136.2Q191.1 135.8 190.4 134.3M190.4 134.3Q186.5 137.9 182.3 141M304 90.9Q303.6 90.1 303 89.5M304.5 90.7Q303.9 90 303 89.5M304.5 90.7Q304.3 90.9 304 90.9M302.3 90.1Q303.3 91 304.5 90.7M302.3 90.1Q303.6 89.9 304.5 90.7M305.1 87.2Q303.1 88.1 302.3 90.1M305.1 87.2Q304.5 89.4 302.3 90.1M302.5 86.9Q302.5 89.2 304 90.9M284.4 116Q285.6 112.2 284.3 108.5M284.4 116Q282.4 112.2 284.3 108.5M276.4 115.8Q282 113.9 284.3 108.5M282.2 109.3Q284.9 112.1 284.4 116M296.2 39Q297.5 40.6 299.1 41.7M299.2 44.2Q297.8 41.6 296.2 39M296.1 44.9Q294.8 41.9 296.2 39M307.8 74.7Q304.9 73.2 302.7 70.7M305.7 73Q306.8 73.8 307.8 74.7M274.1 44.6Q276.7 47.9 281 48.5M281 46.4Q280.5 47.4 281 48.5M281 46.4Q281.4 47.4 281 48.5M277.4 44.6Q278.1 47.5 281 48.5M277.4 44.6Q279.9 45.9 281 48.5M277.4 44.6Q279.8 44.2 281 46.4M281 48.5Q277.2 52.7 271.6 51.7M186 93.3Q184 94.4 183.1 96.5M186 93.3Q185.3 95.6 183.1 96.5M186.8 90.7Q183.4 92.6 183.1 96.5M186.8 90.7Q185.7 91.8 186 93.3M186.8 90.7Q187 92.2 186 93.3M186 96.2Q187.3 93.6 186.8 90.7M266.1 111.3Q265.9 114.1 267.9 116M269.2 114.8Q268.2 112.5 266.1 111.3M269.2 114.8Q267 113.6 266.1 111.3M265.9 111.4Q266 111.4 266.1 111.3M269 118.3Q268.5 117.1 267.9 116M265.5 112Q267.4 115.1 269 118.3M265.9 111.4Q263.9 117.1 264.3 123.1M267.6 167.2Q264.9 166 261.9 166.4M267.6 167.2Q264.6 167.8 261.9 166.4M269 167Q265.6 165 261.9 166.4M269 167Q265.4 167.8 261.9 166.4M269.4 165.1Q265.5 164.6 261.9 166.4M269.4 165.1Q266 167.8 261.9 166.4M269.4 165.1Q269.2 166.1 269 167M266.6 171.9Q265.8 167.8 261.9 166.4M266.6 171.9Q263.5 169.8 261.9 166.4M266.6 171.9Q268.5 169.8 267.6 167.2M241.9 113.7Q241.8 114.9 241.7 116.2M234.4 119.6Q239.8 118.7 241.9 113.7M234.4 119.6Q236.5 114.6 241.9 113.7M234.9 119.1Q238.8 118.8 241.7 116.2M234.9 119.1Q237.8 116.5 241.7 116.2M234.9 119.1Q242.2 119.3 244.2 112.4M209.8 94.5Q209.6 96 210.2 97.3M209.8 94.5Q210.4 95.9 210.2 97.3M213.3 98.5Q212 97.5 210.2 97.3M213.3 98.5Q211.5 98.8 210.2 97.3M213.3 98.5Q212.3 95.8 209.8 94.5M213.3 98.5Q210.9 97.1 209.8 94.5M321.3 118.4Q321.3 120.4 322.3 122.1M321.3 118.4Q322.9 120 322.3 122.1M240.6 147.8Q238.5 145.5 236.7 143M242 150.4Q240.5 149.5 240.6 147.8M237.4 142.8Q237 142.8 236.7 143M237.4 142.8Q237.1 143 236.7 143M239.1 146.3Q239.9 148.8 242 150.4M239.1 146.3Q241.3 147.8 242 150.4M239.1 146.3Q238 144.7 237.4 142.8M240.6 147.8Q244 145.1 248 147.1M262.5 31Q263 30.2 262.7 29.3M262.5 31Q262.3 30.2 262.7 29.3M262.1 31.9Q261.6 30.5 262.7 29.3M262.1 31.9Q262.1 31.4 262.5 31M260.8 25.5Q262 27.3 262.7 29.3M211.5 149Q211.2 149.6 210.6 150.1M213.9 147.2Q211.9 148.3 210.6 150.1M213.9 147.2Q214.1 143.1 210.6 140.9M234.8 143.5Q235.3 142 234.2 140.9M234.2 142.6Q234.5 141.8 234.2 140.9M234.2 142.6Q234 141.8 234.2 140.9M234.2 142.6Q234.8 142.9 234.8 143.5M307.4 135.9Q308.2 134.8 308.3 133.4M307.4 135.9Q307.5 134.5 308.3 133.4M312.3 136.5Q309.7 135.7 308.3 133.4M312.3 136.5Q310 135 307.4 135.9M312.3 136.5Q309.7 137 307.4 135.9M311.2 133.6Q308.9 134 307.4 135.9M311.2 133.6Q310 135.9 307.4 135.9M309.2 136.2Q309.4 134.6 308.3 133.4M242.9 124.7Q238.9 122.6 235.3 125.5M235 125.3Q239.1 126.7 242.9 124.7M235 125.3Q238.8 123.5 242.9 124.7M237.3 119.1Q239.8 122.2 242.9 124.7M242.1 126.4Q241.5 121.6 237.3 119.1M242.1 126.4Q237.7 124.1 237.3 119.1M239 120.8Q239.9 123.8 242.9 124.7M239 120.8Q241.6 122.1 242.9 124.7M235 125.3Q235.6 126.3 236.7 126.5M208.3 79.6Q207.6 81.6 208.1 83.7M208.3 79.6Q209 81.7 208.1 83.7M213.5 77.7Q209.7 79.7 208.1 83.7M213.5 77.7Q211.7 81.6 208.1 83.7M213.5 77.7Q210.4 77.2 208.3 79.6M212.8 77.7Q210.2 77.9 208.3 79.6M212.8 77.7Q211 79.6 208.3 79.6M212.8 77.7Q213.1 77.7 213.5 77.7M213.9 76.8Q210.6 77.3 208.3 79.6M213.9 76.8Q211.8 79.5 208.3 79.6M213.2 82Q213.8 79.8 212.8 77.7M213.2 82Q211.8 80 212.8 77.7M212.8 77.7Q221 74 220.4 65.1M236.4 31.5Q234.2 29.2 231 28.9M236.4 31.5Q232.9 31.8 231 28.9M232.6 26.1Q231.4 27.3 231 28.9M232.6 26.1Q232.4 27.9 231 28.9M232.6 26.1Q235.3 28.2 236.4 31.5M236.1 29.5Q235.9 30.5 236.4 31.5M232.9 33.8Q233.6 30.7 231 28.9M232.9 33.8Q234.7 29.9 232.6 26.1M232.9 33.8Q230.8 30 232.6 26.1M231.3 130.4Q230.9 130.7 230.8 131.2M231.3 130.4Q231.2 130.9 230.8 131.2M229.5 128.5Q230.6 129.6 230.8 131.2M229.5 128.5Q230.1 129.8 231.3 130.4M228.4 130.1Q229.7 130.4 230.8 131.2M228.4 130.1Q229.3 129.6 229.5 128.5M228.4 130.1Q228.6 129.1 229.5 128.5M231 132.3Q230.5 130.3 229.5 128.5M231 132.3Q229.5 131.5 228.4 130.1M229.5 128.5Q227.3 125.5 223.6 125.4M212.3 138.6Q213.4 142.6 217.1 144.4M212.3 138.6Q216.1 140.4 217.1 144.4M217 141.2Q216.5 142.8 217.1 144.4M217 141.2Q217.5 142.8 217.1 144.4M215.6 140.8Q216.3 140.8 217 141.2M210 139Q211.2 139.2 212.3 138.6M210.6 140.9Q213.1 139.3 215.6 140.8M212.3 138.6Q213.1 142.3 210.7 145.2M323.3 94.5Q322.8 97.8 322.4 101.1M320.9 97.3Q322.7 96.4 323.3 94.5M320.9 97.3Q321.7 95.5 323.3 94.5M316.9 96.6Q318.6 100.1 322.4 101.1M316.9 96.6Q320.6 97.6 322.4 101.1M316.9 96.6Q319.1 95.9 320.9 97.3M325.2 97.8Q323.1 97 320.9 97.3M325.2 97.8Q322.9 98.8 320.9 97.3M323.3 94.5Q319.8 99.5 314.1 97.6M221.2 177.3Q221.7 173.2 218.7 170.4M221.2 177.3Q219 174.2 218.7 170.4M225 173.9Q222.2 174.5 221.2 177.3M225 173.9Q223.6 176.1 221.2 177.3M221.4 178.9Q219.6 174.8 218.7 170.4M221.4 178.9Q221.3 178.1 221.2 177.3M243.3 183.1Q243.6 183.1 243.9 183M243.3 183.1Q243.6 182.9 243.9 183M243.3 183.1Q237 181.2 236.2 174.7M273.7 105.5Q275.3 108.5 273.1 111M269.6 106.1Q271.7 106.5 273.7 105.5M269.6 106.1Q271.6 105.2 273.7 105.5M269.6 106.1Q266.1 107.5 266.1 111.3M208.7 86.3Q211.4 85.5 214.2 85.7M208.3 89.9Q210.3 86.6 214.2 85.7M213.7 87.2Q213.7 86.4 214.2 85.7M213.7 87.2Q210.6 87.8 208.3 89.9M213.7 87.2Q211.4 89.3 208.3 89.9M209.4 86.3Q211.4 87.7 213.7 87.2M209.4 86.3Q211.8 85.5 213.7 87.2M209.1 86.6Q209.2 86.5 209.4 86.3M209.1 86.6Q207.2 90.8 209.8 94.5M231.2 157.8Q235 161.2 234.8 166.3M229.1 161.2Q231.1 164.7 234.8 166.3M229.1 161.2Q232.8 162.8 234.8 166.3M232.5 157.8Q231 159.7 229.1 161.2M229.1 161.2Q229.4 158.1 230.8 155.4M191.4 97.1Q191.4 100.3 189.1 102.7M195.2 102.4Q192.1 101.6 189.1 102.7M195.2 102.4Q192.2 103.4 189.1 102.7M189.7 100.8Q189.7 101.8 189.1 102.7M189.7 100.8Q191.9 103.4 195.2 102.4M194.7 104.7Q192.5 102.1 189.1 102.7M194.7 104.7Q191.6 104.6 189.1 102.7M194.7 104.7Q190.8 101.9 191.4 97.1M195.4 96.9Q191.8 99.3 189.1 102.7M194.7 104.7Q186.9 101.7 186 93.3M222.6 162.6Q223.6 165.9 226.4 167.9M222.6 162.6Q225.7 164.5 226.4 167.9M227.1 168.6Q226.7 168.4 226.4 167.9M227.1 168.6Q226.5 164.4 222.6 162.6M227.1 168.6Q224.1 166.2 222.6 162.6M227.1 168.6Q232.8 164.7 232.5 157.8M268.5 132.7Q270.1 132.5 271.1 131.3M271.4 127.8Q268.8 129.6 268.5 132.7M265.7 130.9Q266.8 132.4 268.5 132.7M265.7 130.9Q267.6 131.1 268.5 132.7M270.9 130.1Q270.4 128.8 271.4 127.8M217.7 43Q214.3 39.5 214.6 34.6M213.9 36.3Q214.8 35.7 214.6 34.6M213.9 36.3Q214.1 40.6 217.7 43M213.9 36.3Q216.7 39.2 217.7 43M216.5 34.9Q215.5 35.1 214.6 34.6M255.8 132.8Q258.6 131.2 261.7 131M256.4 134.1Q260 134.2 261.7 131M256.4 134.1Q258.6 131.8 261.7 131M259.6 133.4Q261.1 132.6 261.7 131M259.6 133.4Q260.3 131.8 261.7 131M259.6 133.4Q257.6 133.8 255.8 132.8M259.6 133.4Q254.5 133.3 249.4 133.1M231 34.9Q230.6 35.5 230.1 35.9M230.1 38.4Q231.3 36.8 231 34.9M230.1 38.4Q229.9 36.5 231 34.9M226.1 35.3Q228.6 35.9 231 34.9M226.1 35.3Q228.4 33.7 231 34.9M226.1 35.3Q227.2 38 230.1 38.4M226.1 35.3Q228.5 36.3 230.1 38.4M228 39.7Q229.8 38.2 230.1 35.9M228 39.7Q228.1 37.3 230.1 35.9M228 39.7Q227.4 37.4 226.1 35.3M226.1 35.3Q229 39.6 232.4 43.5M313.4 93.2Q315.7 93.4 317 91.7M313.4 93.2Q314.8 91.5 317 91.7M312.7 116.5Q310.4 119.6 312 123M312.7 116.5Q313.5 119.9 312 123M312.7 119.1Q313.4 117.8 312.7 116.5M312.7 119.1Q312.2 117.8 312.7 116.5M312.7 120.1Q311.7 121.4 312 123M312.7 120.1Q312.8 121.7 312 123M312.7 120.1Q313.6 118.3 312.7 116.5M224 148.3Q223.6 151.1 223.6 154M223.6 154Q224.8 156.8 224.2 159.8M313 82.4Q310.7 81.8 308.7 83M311.8 87.5Q311 84.7 308.7 83M311.8 87.5Q309.3 85.9 308.7 83M311.8 87.5Q313.1 85.1 313 82.4M311.8 87.5Q311.7 84.8 313 82.4M312.6 84.2Q312.2 83.2 313 82.4M308.7 83Q305.8 85.2 302.5 86.9M228.5 179.4Q228.4 179.9 228.6 180.3M228.5 179.4Q228.7 179.8 228.6 180.3M230.6 180.9Q229.8 179.9 228.5 179.4M230.6 180.9Q229.4 180.4 228.5 179.4M228.6 181.3Q228.2 180.8 228.6 180.3M228.6 181.3Q228.9 180.4 228.5 179.4M228.6 181.3Q228.2 180.4 228.5 179.4M228.6 181.3Q232.4 177.1 237.1 174.1M334.1 116.6Q333.6 116.2 333.1 116.3M336.8 116.3Q335 115.7 333.1 116.3M336.8 116.3Q335 117.4 333.1 116.3M333 112.5Q333 114.7 334.1 116.6M331.5 113.5Q331.6 115.3 333.1 116.3M331.5 113.5Q332.3 115.5 334.1 116.6M331.5 113.5Q333.3 114.6 334.1 116.6M220.9 71.2Q219.8 74.5 220.8 77.7M220.9 71.2Q221.8 74.5 220.8 77.7M218.7 74Q219.1 76.2 220.8 77.7M218.7 74Q220.7 75.3 220.8 77.7M218.7 74Q220.6 73.2 220.9 71.2M218.7 74Q219.2 72.2 220.9 71.2M221.3 76.2Q221 77 220.8 77.7M221.3 76.2Q219.4 73.9 220.9 71.2M213.8 74.2Q216.3 75.5 218.7 74M218.7 74Q217.8 69.2 220.4 65.1M312.6 101.4Q313.4 101 314.2 100.6M314.1 100.4Q314.1 100.5 314.2 100.6M314.1 100.4Q314.2 100.4 314.2 100.6M313.9 99.3Q312.6 100 312.6 101.4M314.1 97.6Q313.7 98.4 313.9 99.3M314.1 100.4Q316.4 96.4 320.9 97.3M212.9 166Q212.7 166.1 212.5 166.2M213.5 162.4Q212.3 164 212.9 166M206.6 166.4Q209.6 167.5 212.5 166.2M206.6 166.4Q209.5 165 212.5 166.2M207.5 165.5Q210.1 163.2 213.5 162.4M213.5 162.4Q217.3 159.5 218.8 155M270.6 31.7Q271.6 32 272.4 31.3M268.4 31.5Q270.5 32.7 272.4 31.3M268.4 31.5Q269.4 32 270.6 31.7M268.4 31.5Q269.5 31.1 270.6 31.7M267.3 33.9Q269.7 33.9 270.6 31.7M267.3 33.9Q268 32.8 268.4 31.5M267.8 33.2Q269.4 32.8 270.6 31.7M267.8 33.2Q268.8 31.8 270.6 31.7M267.3 33.9Q274.6 29 283.4 30.1M291.6 111.9Q291.8 113 292.1 114.2M290.5 110.6Q290.9 111.4 291.6 111.9M291.6 111.9Q282.3 107.4 276.4 115.8M286.4 53.9Q287.2 51.8 286.8 49.7M286.4 53.9Q285.6 51.7 286.8 49.7M287.8 51.9Q287.6 50.6 286.8 49.7M287.8 51.9Q286.7 51.1 286.8 49.7M281.1 47.1Q281.9 52 286.4 53.9M281.1 47.1Q283.5 50.9 287.8 51.9M281.1 47.1Q285.1 48.6 287.8 51.9M287.8 51.9Q282 49 277.4 44.6M208.1 45.9Q211.7 47 215.1 45M208.1 45.9Q211.4 44.1 215.1 45M212.8 43.5Q213.5 44.9 215.1 45M212.8 43.5Q214.2 43.8 215.1 45M211.6 43.8Q213.2 44.8 215.1 45M211.6 43.8Q213.5 44 215.1 45M211.6 43.8Q209.8 44.8 208.1 45.9M252.4 114.5Q253.2 115.7 254.6 115.6M252.4 114.5Q253.7 114.6 254.6 115.6M249.4 117.6Q252.3 117.4 254.6 115.6M249.4 117.6Q251.7 115.7 254.6 115.6M254.6 115.6Q254.3 111.4 250.1 110.7M277.2 52.9Q274.6 51.6 271.6 51.7M276.5 58.1Q274.9 54.2 271.6 51.7M276.5 58.1Q272.7 55.9 271.6 51.7M276.5 58.1Q277.7 55.6 277.2 52.9M301.8 110.5Q304.2 111.5 306.8 111M301.8 110.5Q304.4 109.8 306.8 111M301.1 108.9Q301.2 109.8 301.8 110.5M301.1 108.9Q301.7 109.6 301.8 110.5M298.9 107.3Q300.5 107.3 301.1 108.9M298.1 112.7Q302.9 114.3 306.8 111M298.1 112.7Q302 109.9 306.8 111M298.1 112.7Q300.2 111.3 301.1 108.9M301.8 110.5Q305.7 114 309.4 117.7M261.2 154.9Q261 150.8 262.2 146.8M219.1 61.1Q217.2 59.7 217.2 57.3M217 60.7Q218.2 60.6 219.1 61.1M214.5 59.2Q216.4 59 217.2 57.3M214.5 59.2Q215.5 57.8 217.2 57.3M218.1 57.3Q217.6 57.2 217.2 57.3M218.1 57.3Q217.6 57.5 217.2 57.3M218.1 57.3Q216.9 58.8 217 60.7M218.1 57.3Q218 59.1 217 60.7M217.2 57.3Q221 59.8 224.8 62.2M287.4 169.1Q286.8 171.1 287.5 173M291 175.8Q288.3 175.6 287.5 173M291 175.8Q290.8 171.6 287.4 169.1M291 175.8Q287.9 173.1 287.4 169.1M290 169.1Q288.8 171 287.5 173M289.5 169Q288.5 169.2 287.4 169.1M289.5 169Q289.4 172.6 291 175.8M289.5 169Q291.4 172.1 291 175.8M291 175.8Q288.5 174.5 286.6 172.3M297 152.2Q294.8 150.9 292.4 151.6M297 152.2Q294.5 152.8 292.4 151.6M293.1 147.8Q292.1 149.6 292.4 151.6M293.1 147.8Q293.6 149.9 292.4 151.6M177.9 93.2Q179.9 91.1 180.1 88.2M177.9 93.2Q178.2 90.4 180.1 88.2M182.6 91.4Q181.2 89.9 180.1 88.2M182.6 91.4Q179.8 91.2 177.9 93.2M182.6 91.4Q180.6 93.2 177.9 93.2M180.2 92.6Q181.7 92.6 182.6 91.4M180.2 92.6Q181.1 91.4 182.6 91.4M178.4 88.2Q178.9 90.6 180.2 92.6M324.7 78.3Q324.7 77.6 324 77.2M324.7 78.3Q324.1 77.9 324 77.2M323.8 76.3Q323.8 76.8 324 77.2M323.8 76.3Q324.1 76.7 324 77.2M323.8 76.3Q324 77.4 324.7 78.3M323.8 76.3Q324.7 77.1 324.7 78.3M316.6 79.1Q320.8 80 324 77.2M316.6 79.1Q312.7 76.9 308.5 78.1M241.9 38.3Q242.3 37.1 243.5 36.7M246.1 35.4Q244.4 35.3 243.5 36.7M246.1 35.4Q243.2 35.8 241.9 38.3M242.5 39.5Q242.4 38.8 241.9 38.3M242.5 39.5Q242 39 241.9 38.3M247.3 35.2Q244.1 35.9 241.9 38.3M247.3 35.2Q245.2 37.9 241.9 38.3M242.5 39.5Q240.3 40.3 238.2 40.9M336.3 100.9Q336.1 100.6 336.2 100.3M336.3 100.9Q334.7 105.9 333.8 111.2M317.7 141.7Q314.6 141.2 311.8 139.9M316.7 137.5Q313.8 137.8 311.8 139.9M316.7 137.5Q314.7 139.6 311.8 139.9M318.2 143.2Q318.3 142.3 317.7 141.7M318.2 143.2Q317.7 142.5 317.7 141.7M318.2 143.2Q318.6 140.1 316.7 137.5M318.2 143.2Q316.1 140.7 316.7 137.5M315.4 138.9Q316.8 140 317.7 141.7M315.4 138.9Q316.4 138.5 316.7 137.5M315.4 138.9Q315.8 137.9 316.7 137.5M317.5 136.7Q313.7 136.6 311.8 139.9M317.5 136.7Q318.8 139.1 317.7 141.7M317.5 136.7Q316.2 144.3 323.1 147.9M194.1 121.2Q194.3 120.2 194.2 119.1M196.9 115.1Q194.6 116.5 194.2 119.1M196.9 115.1Q196.2 117.6 194.2 119.1M195.6 119.9Q194.9 119.5 194.2 119.1M195.4 117.9Q194.7 118.5 194.2 119.1M193.9 117.1Q193.7 118.2 194.2 119.1M193.9 117.1Q194.4 118.1 194.2 119.1M193.9 117.1Q194 119 195.6 119.9M194.1 121.2Q193.8 121.4 193.8 121.8M264.3 123.1Q264.7 124.1 265.7 124.3M264.3 123.1Q265.1 123.5 265.7 124.3M266.8 125.5Q266.6 124.6 265.7 124.3M266.8 125.5Q265.2 124.6 264.3 123.1M268 119.6Q266.2 122.3 266.8 125.5M265.8 127.7Q264.8 125.5 264.3 123.1M265.8 127.6Q266.3 123.4 268 119.6M265.8 127.6Q265.8 127.7 265.8 127.7M268 119.6Q266.7 115.8 265.5 112M295.2 78.9Q293.4 80.2 291.3 79.8M292.2 75.9Q291.5 77.8 291.3 79.8M290.3 74.1Q289.4 77.2 291.3 79.8M290.3 74.1Q292 76.8 291.3 79.8M289.9 166.9Q292.6 164.5 293.5 160.9M288.6 164.5Q291.8 163.8 293.5 160.9M288.6 164.5Q290.4 161.9 293.5 160.9M288.6 164.5Q290 165.3 289.9 166.9M293 167.6Q294.7 164.3 293.5 160.9M293 167.6Q291.9 164.2 293.5 160.9M293 167.6Q290.7 166.2 288.6 164.5M290.1 168.9Q289.6 166.6 288.6 164.5M231.2 122.1Q231 121.4 230.4 120.9M233.1 123.1Q232.4 121.2 230.4 120.9M233.1 123.1Q231.3 122.6 230.4 120.9M233.1 123.1Q232.4 122.1 231.2 122.1M233.1 123.1Q232 122.9 231.2 122.1M233.1 123.1Q234.9 121.5 234.9 119.1M198.2 154.9Q196.9 153.9 195.2 153.5M198.2 154.9Q196.3 155 195.2 153.5M195.9 157.3Q197.3 156.4 198.2 154.9M195.9 157.3Q196.7 155.7 198.2 154.9M193.7 156.9Q196.2 156.6 198.2 154.9M193.7 156.9Q195.6 155.2 198.2 154.9M193.7 156.9Q194.8 157.1 195.9 157.3M199.1 155.2Q198.6 155.2 198.2 154.9M199.1 155.2Q197.2 155.8 195.9 157.3M199.1 155.2Q198.1 157.1 195.9 157.3M254.4 32.8Q254.2 34 254.8 35.2M254.4 32.8Q255.3 33.9 254.8 35.2M258.3 29.8Q255.7 30.4 254.4 32.8M258.3 29.8Q256.7 31.7 254.4 32.8M255.6 33.2Q255.2 32.6 254.4 32.8M256.7 35.6Q255.9 34.8 254.8 35.2M256.7 35.6Q256.1 33.7 254.4 32.8M256.7 35.6Q254.9 34.7 254.4 32.8M200.2 54.1Q199.5 55.2 199.5 56.4M203.3 58Q202.7 55.3 200.2 54.1M229.8 104.9Q228.7 106.1 228.1 107.6M227.5 108.9Q228 108.3 228.1 107.6M227.5 108.9Q227.6 108.2 228.1 107.6M227.5 108.9Q229.5 107.4 229.8 104.9M227.5 108.9Q228.1 106.6 229.8 104.9M230.9 103.5Q229.1 105.3 228.1 107.6M230.9 103.5Q228.5 105.8 227.5 108.9M230.9 103.5Q230.7 107.1 227.5 108.9M228.1 107.6Q224.2 112 220 116.1M295.6 54.8Q296.8 54.3 297.9 53.5M294.2 54.8Q294.9 54.9 295.6 54.8M293.5 54.5Q293.8 54.8 294.2 54.8M293.5 54.5Q293.9 54.5 294.2 54.8M295.6 52.9Q294.1 53.1 293.5 54.5M293.5 54.5Q296.1 50.1 296.1 44.9M183.3 81.4Q185 80.9 186.3 79.7M307.9 122.8Q307.1 123 306.5 122.5M304.2 120.1Q305.6 122 307.9 122.8M304.2 120.1Q306.8 120.5 307.9 122.8M306.9 122.7Q307.4 123.1 307.9 122.8M307.9 122.8Q309.4 119.8 312.7 120.1M190.3 129.7Q189.3 129.6 188.6 130.4M187.7 132.9Q188.4 130.8 190.3 129.7M188.6 130.4Q188.4 132.9 190.4 134.3M285.1 172.9Q285.2 172.6 285.1 172.3M282.8 167.8Q284 170 285.1 172.3M282.8 167.8Q282.7 170.9 285.1 172.9M282.8 167.8Q284.9 169.9 285.1 172.9M286.6 172.3Q285.9 172.5 285.1 172.3M286.6 172.3Q284.5 170.3 282.8 167.8M285.1 172.9Q286.3 169.3 290.1 168.9M205.9 90.9Q204 91.9 202.5 93.3M202.4 89.4Q204.6 89 205.9 90.9M202 87.9Q201.4 90.7 202.5 93.3M202 87.9Q203.1 90.5 202.5 93.3M202 87.9Q202 88.7 202.4 89.4M206.9 88.4Q205.9 89.5 205.9 90.9M206.9 88.4Q206.7 89.8 205.9 90.9M205.9 87.8Q206.4 89.4 205.9 90.9M205.9 87.8Q203.9 87.2 202 87.9M205.9 87.8Q204 88.4 202 87.9M202.4 89.4Q199.4 93.1 194.7 92.1M240.9 128.7Q240.9 130.4 241.9 131.8M240.9 128.7Q242 130 241.9 131.8M240 133.4Q241.2 132.9 241.9 131.8M240 133.4Q240.6 132.2 241.9 131.8M240 133.4Q241 131.1 240.9 128.7M240 133.4Q239.8 130.9 240.9 128.7M240 133.4Q237.7 129.2 235 125.3M327.3 86Q326 87.2 326 88.9M327.3 86Q327.5 87.9 326 88.9M326 88.9Q322.6 86.6 319 88.6M185.2 108.6Q184.3 108.4 183.4 108.8M185.2 108.6Q184.4 109.2 183.4 108.8M188.2 112.2Q186.3 109.8 183.4 108.8M188.2 112.2Q184.8 111.9 183.4 108.8M183.2 112.8Q185.8 113.4 188.2 112.2M183.2 112.8Q185.6 111.6 188.2 112.2M183.4 108.8Q184.1 107.9 184.9 107.1M237 29.1Q237.3 31.5 239.7 32.2M240.8 34.2Q239.7 31 237 29.1M240.8 34.2Q237.4 32.8 237 29.1M241.5 27.4Q240 29.6 239.7 32.2M241.5 27.4Q241.5 30.1 239.7 32.2M241.5 27.4Q241.8 30.9 240.8 34.2M243.1 30Q240.8 30.1 239.7 32.2M243.1 30Q242 32 239.7 32.2M243.1 30Q242.7 28.5 241.5 27.4M243.1 30Q241.9 29 241.5 27.4M241.7 28.3Q239.2 28 237 29.1M241.7 28.3Q239.6 30.1 237 29.1M241.7 28.3Q242 29.4 243.1 30M241.7 28.3Q242.7 28.9 243.1 30M236.9 178.8Q237.4 176.6 236.2 174.7M240.9 174Q238.3 173 236.2 174.7M240.9 174Q238.7 175.5 236.2 174.7M240.6 176.4Q238.8 174.3 236.2 174.7M240.6 176.4Q238.1 176.4 236.2 174.7M240.6 176.4Q238.3 176.9 236.9 178.8M240.6 176.4Q239.4 178.6 236.9 178.8M236.6 174.3Q238.4 175.8 240.6 176.4M236.9 178.8Q232.8 180.3 228.6 181.3M225.3 60.4Q224.7 61.2 224.8 62.2M226 63.8Q225.6 62.9 224.8 62.2M226 63.8Q225 63.3 224.8 62.2M227.9 61.7Q226.2 61.1 224.8 62.2M227.9 61.7Q226.5 62.4 224.8 62.2M250.6 26.8Q254.2 27.5 256.6 24.8M250.6 26.8Q253.3 25 256.6 24.8M256.6 24.8Q258.7 30.2 256.7 35.6M210.7 145.2Q208.7 140.9 204.2 139.6M210.7 145.2Q206.2 143.8 204.2 139.6M204.9 141.7Q204.7 140.6 204.2 139.6M204.9 141.7Q207 144.7 210.7 145.2M204.9 141.7Q208.7 141.9 210.7 145.2M203.5 143.6Q206.8 145.8 210.7 145.2M203.5 143.6Q207.3 143.3 210.7 145.2M203.5 143.6Q204.5 142.9 204.9 141.7M203.5 143.6Q203.7 142.3 204.9 141.7M210.7 145.2Q203.9 144.1 200.1 138.4" stroke="#6CC8A9" stroke-width="0.8" fill="none"/><path d="M203.7 84.4Q223.6 84.2 242.5 78.2M308.2 118.1Q305.4 127 318.2 139.1M297.1 149.2Q311.5 142.3 309.7 111.4M282.4 76.4Q280.6 76.6 263.8 74.4M256.4 169.3Q266.7 170.6 278.9 158.1M286.3 73.8Q286.8 69.7 284.5 58.6M239.9 64.4Q262.9 45.9 274.1 44.1M266.4 39.9Q270.2 33.8 281.7 34.9M243.7 140.6Q252.3 145 259.7 141.6M299 70Q293.5 76.5 287.6 81M300.2 124.7Q281.4 134.7 265.6 119.4M302.3 110.5Q291.4 100.8 285.8 104.8M306.7 119.1Q330.2 100 328.3 90.9M220.6 149.4Q229.2 141.9 240.1 131.7M232.9 68.7Q249.7 94.6 249.8 95.7M317.6 57.4Q309.7 67.6 304.4 67.3M249.3 100.4L245.2 100.1M249.3 100.4L243.9 101.4M249.3 100.4L248 106M249.3 100.4L256.5 113.6M220.4 107.3L217.5 109.1M220.4 107.3L222.6 102.7M220.4 107.3L218.7 112.2M220.4 107.3L224.1 119.8M230.6 118.9L230.3 120.6M230.6 118.9L228.8 116.3M230.6 118.9L232.3 122.9M245.2 100.1L243.9 101.4M245.2 100.1L241.3 101.1M245.2 100.1L249.3 100.4M245.2 100.1L233 110M217.5 109.1L218.7 112.2M217.5 109.1L220.4 107.3M217.5 109.1L224.2 112.7M217.5 109.1L256.5 113.6M226.1 111.6L224.2 112.7M226.1 111.6L228.6 115M226.1 111.6L229.3 107.4M226.1 111.6L256.5 113.6M247.8 118.4L249 116.3M247.8 118.4L255.2 116M247.8 118.4L240.9 114.5M230.3 120.6L230.6 118.9M230.3 120.6L232.3 122.9M230.3 120.6L228.8 116.3M224.9 122.7L223.8 123.4M224.9 122.7L224.1 119.8M224.9 122.7L230.3 120.6M235.2 127L232.3 122.9M235.2 127L240.3 122.2M235.2 127L242.4 124.5M233 110L231.4 107.7M233 110L229.3 107.4M233 110L236 105.6M222.6 102.7L220.4 107.3M222.6 102.7L217.5 109.1M222.6 102.7L229.3 107.4M223.8 123.4L224.9 122.7M223.8 123.4L224.1 119.8M223.8 123.4L230.3 120.6M248 106L248.6 108.1M248 106L253 106.7M248 106L249.3 100.4M242.4 124.5L243.8 125.6M242.4 124.5L240.3 122.2M242.4 124.5L235.2 127M235.5 103.6L236 105.6M235.5 103.6L231.4 107.7M235.5 103.6L241.3 101.1M235.5 103.6L242.4 124.5M249 116.3L247.8 118.4M249 116.3L255.2 116M249 116.3L255.9 114.9M249 116.3L241.3 101.1M253 106.7L248.6 108.1M253 106.7L255.7 110.8M253 106.7L248 106M228.6 115L228.8 116.3M228.6 115L226.1 111.6M228.6 115L230.6 118.9M236 105.6L235.5 103.6M236 105.6L231.4 107.7M236 105.6L233 110M224.1 119.8L224.9 122.7M224.1 119.8L223.8 123.4M224.1 119.8L228.8 116.3M255.6 112L255.7 110.8M255.6 112L256.5 113.6M255.6 112L255.9 114.9M243.9 101.4L245.2 100.1M243.9 101.4L241.3 101.1M243.9 101.4L249.3 100.4M229.3 107.4L231.4 107.7M229.3 107.4L233 110M229.3 107.4L226.1 111.6M255.2 116L255.9 114.9M255.2 116L256.5 113.6M255.2 116L257.9 113.9M248.6 108.1L248 106M248.6 108.1L253 106.7M248.6 108.1L255.7 110.8M236.6 115.8L240.9 114.5M236.6 115.8L230.6 118.9M236.6 115.8L233 110M241.3 101.1L243.9 101.4M241.3 101.1L245.2 100.1M241.3 101.1L235.5 103.6M255.9 114.9L255.2 116M255.9 114.9L256.5 113.6M255.9 114.9L257.9 113.9M257.9 113.9L256.5 113.6M257.9 113.9L255.9 114.9M257.9 113.9L255.6 112M240.9 114.5L236.6 115.8M240.9 114.5L240.3 122.2M240.9 114.5L247.8 118.4M240.3 122.2L242.4 124.5M240.3 122.2L243.8 125.6M240.3 122.2L235.2 127M240.3 122.2L235.2 127M243.8 125.6L242.4 124.5M243.8 125.6L240.3 122.2M243.8 125.6L247.8 118.4M255.7 110.8L255.6 112M255.7 110.8L256.5 113.6M255.7 110.8L257.9 113.9M256.5 113.6L255.9 114.9M256.5 113.6L257.9 113.9M256.5 113.6L255.6 112M256.5 113.6L235.2 127M228.8 116.3L228.6 115M228.8 116.3L230.6 118.9M228.8 116.3L230.3 120.6M232.3 122.9L230.3 120.6M232.3 122.9L230.6 118.9M232.3 122.9L235.2 127M231.4 107.7L229.3 107.4M231.4 107.7L233 110M231.4 107.7L236 105.6M218.7 112.2L217.5 109.1M218.7 112.2L220.4 107.3M218.7 112.2L224.2 112.7M218.7 112.2L230.6 118.9M224.2 112.7L226.1 111.6M224.2 112.7L228.6 115M224.2 112.7L218.7 112.2M208.5 129.9L207.3 127.9M208.5 129.9L206.4 128.4M208.5 129.9L205.5 127.1M207.3 127.9L206.4 128.4M207.3 127.9L205.5 127.1M207.3 127.9L208.5 129.9M217.7 128L217 126.1M217.7 128L218.4 130.4M217.7 128L216.3 130.6M217 126.1L217.7 128M217 126.1L218.4 130.4M217 126.1L216.3 130.6M205.5 127.1L206.4 128.4M205.5 127.1L205.2 125.3M205.5 127.1L207.3 127.9M205.2 125.3L205.5 127.1M205.2 125.3L207.8 124.2M205.2 125.3L206.4 128.4M216.3 130.6L218.4 130.4M216.3 130.6L217.7 128M216.3 130.6L217 126.1M216.3 130.6L216.3 130.6M206.4 128.4L207.3 127.9M206.4 128.4L205.5 127.1M206.4 128.4L208.5 129.9M207.8 124.2L205.2 125.3M207.8 124.2L205.5 127.1M207.8 124.2L207.3 127.9M207.8 124.2L205.5 127.1M218.4 130.4L216.3 130.6M218.4 130.4L217.7 128M218.4 130.4L217 126.1M191.8 125L193.5 126.1M191.8 125L187.3 123.4M191.8 125L193.3 120M191.8 125L187.3 123.4M193.3 120L192.7 118.8M193.3 120L192.2 118.9M193.3 120L191.8 125M186.8 122.3L187.3 123.4M186.8 122.3L186.5 119M186.8 122.3L191.8 125M186.5 119L186.8 122.3M186.5 119L187.3 123.4M186.5 119L192.2 118.9M187.3 123.4L186.8 122.3M187.3 123.4L186.5 119M187.3 123.4L191.8 125M192.7 118.8L192.2 118.9M192.7 118.8L193.3 120M192.7 118.8L186.5 119M192.7 118.8L187.3 123.4M193.5 126.1L191.8 125M193.5 126.1L193.3 120M193.5 126.1L187.3 123.4M192.2 118.9L192.7 118.8M192.2 118.9L193.3 120M192.2 118.9L186.5 119M311.1 54.5L312.2 52.2M311.1 54.5L313.6 52.3M311.1 54.5L314.6 54.5M311.1 54.5L312.2 52.2M314.6 54.5L313.6 52.3M314.6 54.5L316.3 51.9M314.6 54.5L312.2 52.2M319 54.9L319.2 54.3M319 54.9L316.3 51.9M319 54.9L314.6 54.5M312.2 52.2L313.6 52.3M312.2 52.2L311.1 54.5M312.2 52.2L314.6 54.5M316.3 51.9L313.6 52.3M316.3 51.9L314.6 54.5M316.3 51.9L319.2 54.3M319.2 54.3L319 54.9M319.2 54.3L316.3 51.9M319.2 54.3L314.6 54.5M313.6 52.3L312.2 52.2M313.6 52.3L314.6 54.5M313.6 52.3L316.3 51.9M232.9 141.8L234.6 145M232.9 141.8L230.2 146.2M232.9 141.8L229.6 146M227.6 146.8L228 145.4M227.6 146.8L229 148.2M227.6 146.8L229.6 146M230.2 146.2L229.6 146M230.2 146.2L228 145.4M230.2 146.2L229 148.2M229 148.2L227.6 146.8M229 148.2L229.6 146M229 148.2L230.2 146.2M229.6 146L230.2 146.2M229.6 146L228 145.4M229.6 146L227.6 146.8M229.6 146L234.6 145M234.6 145L232.9 141.8M234.6 145L237.6 147.6M234.6 145L230.2 146.2M234.6 145L229.6 146M228 145.4L227.6 146.8M228 145.4L229.6 146M228 145.4L230.2 146.2M228 145.4L237.6 147.6M237.6 147.6L234.6 145M237.6 147.6L232.9 141.8M237.6 147.6L230.2 146.2M264.5 106.7Q263.9 108.6 262.9 110.4M266.3 105.6Q265.4 108.5 262.9 110.4M260.3 107.8Q262.5 107.5 264.5 106.7M260.3 107.8Q263.2 106.3 266.3 105.6M264.5 106.7Q268.8 103.6 273.7 105.5M303.5 114.4Q302.2 116.4 302.4 118.7M296.5 118.3Q299.3 120.5 302.4 118.7M296.5 118.3Q300.2 116.6 303.5 114.4M197.2 110.6Q198.8 111 199 112.6M201.1 114Q199.9 113.5 199 112.6M204.3 113.6Q200.1 113.5 197.2 110.6M196.3 112.3Q197.7 111.8 199 112.6M196.3 112.3Q197.1 111.7 197.2 110.6M203.6 111.2Q201.5 111.8 201.1 114M222 120.4Q220.6 119.2 220.3 117.3M221.3 115.6Q221.8 118 222 120.4M221.4 118.7Q220.9 117.9 220.3 117.3M221.4 118.7Q221.3 119.7 222 120.4M218.1 160.2Q221.5 159 224.1 156.6M222.4 160.7Q220.2 161 218.1 160.2M223.6 160.6Q220.7 161.9 218.1 160.2M223.6 160.6Q223 160.9 222.4 160.7M224.2 159.8Q224.4 158.2 224.1 156.6M223.6 155.3Q222.8 158 222.4 160.7M223.6 155.3Q222.5 158 223.6 160.6M224.1 156.6Q221.2 152.5 224 148.3M248.5 33.7Q244.7 32.7 244.2 28.8M249.9 31.5Q246.6 31 244.2 28.8M248.6 30.6Q249.6 32.2 248.5 33.7M249.1 31.3Q248.9 30.9 248.6 30.6M249.9 31.5Q249.1 34.6 246.1 35.4M220 116.1Q219.4 114.8 220 113.5M220 113.5Q227.1 110.3 230.9 103.5M177.2 99.6Q179 100.3 180.7 101.2M176 99.2Q178.4 100.1 180.7 101.2M178.6 99.1Q179.1 100.7 180.7 101.2M181 100.8Q178.5 100 176 99.2M215.7 119.8Q215.5 119.8 215.4 119.8M213.8 123Q215.7 122 215.7 119.8M217 119.7Q216.2 119.8 215.4 119.8M213.8 122.5Q214.4 120.9 215.7 119.8M213.8 122.5Q213.7 122.8 213.8 123M217 119.7Q218.8 118.6 220.3 117.3M213.8 169.1Q216.8 171.3 220.6 171.2M213.8 169.1Q210.8 166.2 206.6 166.4M260.1 121.1Q260.4 120.1 261.1 119.2M260.4 122.9Q259.8 120.9 261.1 119.2M260.4 122.9Q260.3 122 260.1 121.1M320.1 110.7Q321 108 322.4 105.5M322 109.9Q321.2 110.7 320.1 110.7M320.1 110.7Q315.8 109.1 312.4 105.9M195.1 144.1Q194.8 144.7 195.1 145.4M190.9 146.4Q192.8 144.8 195.1 144.1M232.4 156.6Q231.5 157.8 230.6 159M232.2 157.2Q231.5 158.2 230.6 159M231.8 156.9Q232.1 156.8 232.4 156.6M230.8 155.4Q231.7 157.3 230.6 159M330.5 103.5Q331.2 103.4 331.9 103.6M325.9 107.6Q327 104.2 330.5 103.5M330.5 103.5Q330.2 101.4 330.4 99.3M257.8 106.7Q256.7 109.4 254 110.3M254 110.3Q251.4 113.7 249.4 117.6M241.1 97.6Q240.7 97.1 240 96.9M240 96.9Q248.6 101.2 250.1 110.7M227.7 56.5Q227.7 55.1 226.7 54.2M225.8 55.4Q226.5 55 226.7 54.2M225.8 55.4Q227.1 55.3 227.7 56.5M303.6 79Q303.2 82.6 306.4 84.2M301 77.3Q305.9 79.1 306.4 84.2M302.6 77Q301.9 77.6 301 77.3M305.8 80.5Q305.1 79.1 303.6 79M307.6 81Q306.7 80.9 305.8 80.5M218.3 64.6Q215 67.3 211.6 69.8M220.4 65.1Q214.8 65.3 211.6 69.8M220.4 65.1Q219.2 65.4 218.3 64.6M212.9 67.2Q211.5 68.1 211.6 69.8M212.9 67.2Q216 66.6 218.3 64.6M214.1 64Q211.4 66.3 211.6 69.8M214.1 64Q217.4 63.3 220.4 65.1M311.9 125.1Q311.2 127.3 309.1 128.2M310.8 123.2Q311.3 124.2 311.9 125.1M316 131.7Q314.1 128.3 311.9 125.1M310.8 123.2Q311.2 121.3 312.7 120.1M252.1 141.4Q251.7 139.5 253.2 138.1M253.4 136Q252.8 138.7 252.1 141.4M252.1 141.4Q258.5 146.9 265.5 142M253.9 181.6Q250.9 180.6 247.8 179.9M231.9 152.7Q231.6 151.7 232.1 150.8M232.3 151.9Q232.3 151.3 232.1 150.8M232.3 151.9Q231.9 152.2 231.9 152.7M230.2 152.5Q231 152.8 231.9 152.7M232.3 151.9Q231.5 146.9 234.2 142.6M206.7 52.2Q207.2 52.6 207.7 52.4M204.6 53.7Q206.3 53.5 207.7 52.4M204.6 53.7Q206.2 53.7 206.7 52.2M206.9 52.6Q207.3 52.5 207.7 52.4M192.8 108.7Q192 108.9 191.6 109.7M194.7 109.3Q193.1 109 191.6 109.7M184.7 102.3Q185.8 102.4 186.7 103.1M186.1 106.9Q186.3 104.3 184.7 102.3M184.9 107.1Q185.4 106.5 186.1 106.9M233.9 168.3Q234.6 172 233.3 175.5M237.1 174.1Q235.5 171.2 233.9 168.3M236.2 170.6Q237.9 172 237.1 174.1M236.2 170.6Q234.7 177.6 228.6 181.3M194.7 92.1Q195.6 93 195.3 94.3M195.7 94.2Q194.5 93.5 194.7 92.1M195.6 92Q195.1 91.8 194.7 92.1M195.6 92Q195.4 93.1 195.7 94.2M195.3 94.3Q198.5 86.3 206.9 88.4M223.4 45.4Q222.9 45.6 222.5 45.3M220.8 43.4Q221.5 44.6 222.5 45.3M220.8 43.4Q222.5 43.9 223.4 45.4M219.7 42.6Q221 44 222.5 45.3M219.7 42.6Q220.2 43.1 220.8 43.4M223.1 45.1Q223.1 45.3 223.4 45.4M223.1 45.1Q221.9 44.4 220.8 43.4M313.1 74.8Q314.5 76.5 313.4 78.4M308.5 78.1Q310.9 79.3 313.4 78.4M312.1 81Q309.8 80.1 308.5 78.1M316.1 81.8Q313.8 80.9 313.4 78.4M316.1 81.8Q311.8 82.4 307.6 81M315.2 56.2Q315.8 59.5 319.1 60.1M316.6 55.9Q316.9 58.6 319.1 60.1M312.2 59.8Q315.7 60.6 319.1 60.1M312.1 61.8Q313.4 58.8 315.2 56.2M312.1 61.8Q311.9 60.7 312.2 59.8M215.8 130.2Q214.3 129.7 212.6 129.6M215.8 130.2Q219.1 127.6 223.1 127.4M234.1 47.3Q234 48.6 235.2 49.2M235.5 46.4Q236.3 47.9 235.2 49.2M235.2 49.2Q235.8 44.7 238.2 40.9M221.1 37.6Q222.1 35.9 222.2 34M221.5 37.8Q221.3 37.7 221.1 37.6M222.2 36.5Q221.5 37 221.5 37.8M221.1 37.6Q221.3 41.6 222.5 45.3M228.5 111.5Q232 111.1 235.3 109.8M228.7 110.4Q231.9 109 235.3 109.8M228.7 110.4Q228.3 110.9 228.5 111.5M233.6 113.8Q235.4 112.3 235.3 109.8M234 109.7Q234.2 111.8 233.6 113.8M228.5 111.5Q230.2 107.6 230.9 103.5M210.9 116.8Q209.5 118.2 207.6 118.3M210.5 117.5Q209 117.9 207.6 118.3M210.5 117.5Q210.6 117.1 210.9 116.8M207.6 118.3Q209.2 123 204.8 125.4M247.9 130.2Q248.4 131.8 249.4 133.1M251 127.9Q249.2 128.6 247.9 130.2M248.4 130.3Q248.2 130 247.9 130.2M248.4 130.3Q250.4 129.9 251 127.9M268 138.2Q270.7 139 271.9 141.5M267.6 142.1Q269.6 140.5 271.9 141.5M267.6 142.1Q268.7 140.2 268 138.2M268 138.2Q264.6 141.1 266.2 145.3M266.2 145.3Q267.4 144.4 268 143M265.5 142Q266.7 142.7 268 143M265.5 142Q268.8 143.5 271.9 141.5M308.5 63.3Q307.9 63.2 307.3 62.9M303.9 61.9Q305.9 61.5 307.3 62.9M307.3 62.9Q309.4 60.9 312.1 61.8M232 139.1Q232.5 137.3 231 136.2M231.1 136Q230.5 137.8 232 139.1M232.3 139.5Q232.1 137.7 231 136.2M232.3 139.5Q231.1 138 231.1 136M287.8 41.4Q285.4 39.4 284.5 36.4M285 38.2Q284.2 37.4 284.5 36.4M286.9 36Q285.8 36.8 284.5 36.4M286.3 42.1Q286.9 41.3 287.8 41.4M305.6 47.2Q308.5 47 311.1 48.2M309.4 42.3Q310.8 45.1 311.1 48.2M309.4 42.3Q307.5 44.7 305.6 47.2M308.2 48.5Q309.7 48.3 311.1 48.2M308.2 48.5Q308.2 45.3 309.4 42.3M277 39.5Q273.9 38.5 272.5 35.6M277.3 35.1Q278.5 37.4 277 39.5M274.9 36.6Q273.5 36.6 272.5 35.6M276.7 37.6Q274.7 36.5 272.5 35.6M276.7 37.6Q277.4 38.5 277 39.5M277.4 39.9Q275.5 37.2 272.5 35.6M204.1 136.7Q203.3 133.6 204.3 130.5M204 130.8Q205.1 133.8 204.1 136.7M205.9 133Q205.7 135.2 204.1 136.7M206.9 137.5Q204.9 134.4 204 130.8M206.9 136.8Q207.4 134.6 205.9 133M203.1 121.6Q202.9 123.3 203.3 125.1M204.9 125Q204.1 124.9 203.3 125.1M204.9 125Q204.6 123 203.1 121.6M204.5 121.5Q203.8 121.7 203.1 121.6M204.8 125.4Q203.4 123.7 203.1 121.6M204.8 125.4Q204.8 125.2 204.9 125M219.9 108.2Q219.6 107 219.9 105.7M217.6 108.7Q218.6 107.8 219.9 108.2M222 105.1Q221.1 106.1 219.9 105.7M222 105.1Q221 106.7 219.9 108.2M221 107Q220.6 106.2 219.9 105.7M221 107Q221.5 106.1 222 105.1M218 104.8Q219.1 104.9 219.9 105.7M218 104.8Q218.8 106.8 217.6 108.7M203.2 142.1Q201.8 140.2 200.1 138.4M203.6 141.4Q203.2 141.7 203.2 142.1M201.1 141.3Q202.4 141.6 203.6 141.4M201.1 141.3Q205.8 143.6 210.7 145.2M219.9 54.3Q218.5 53.5 218.3 52M218.1 51.4Q218.5 53.2 219.9 54.3M214.7 51Q216.6 53.6 219.9 54.3M214.7 51Q216.3 51.8 218.1 51.4M216.2 53.5Q217.7 53.4 218.3 52M215.3 109.4Q214 108.3 213.2 106.9M213.1 109Q213.7 108 213.2 106.9M202.5 160.6Q201.1 160.6 199.6 160.6M206.7 155.4Q204.5 159.8 199.6 160.6M206.7 155.4Q204.7 158.1 202.5 160.6M203.6 158.5Q203 159.6 202.5 160.6M203.6 158.5Q205.3 157.1 206.7 155.4M199.5 156.3Q198.7 158.5 199.6 160.6M226 48.1Q229.5 46.3 232.4 43.5M232.4 43.5Q229.6 39.5 231 34.9M193.8 121.8Q191.6 120.4 189.1 120.3M244.2 112.4Q245.7 111.1 247.6 110.8M241.3 115.2Q244.8 113.5 247.6 110.8M241.3 115.2Q243.3 114.4 244.2 112.4M248.2 113.7Q246.2 112.9 244.2 112.4M275.4 175.5Q276.8 175.9 278.3 176M275.4 175.5Q279 175.8 281.8 173.6M185.7 121Q187.2 121.2 188.5 120.3M188.5 117.8Q188.6 119 188.5 120.3M188.5 117.8Q186.5 118.9 185.7 121M188.4 119Q188.8 119.6 188.5 120.3M188.4 119Q188.5 118.4 188.5 117.8M185.5 118.4Q187.1 118.2 188.4 119M188.5 120.3Q185.4 121.6 182.2 120.7M239.1 103.8Q237.6 106.2 235 107.5M237.9 104.9Q238.3 104 239.1 103.8M235 102Q237.1 102.8 237.9 104.9M239.1 103.8Q237.4 100.1 240 96.9M186.2 128.3Q185.9 124 182.5 121.5M186 124.9Q184.4 123 182.5 121.5M181.8 129.7Q183.6 127.7 186.2 128.3M181.8 129.7Q182.4 126.1 186 124.9M245.3 147.7Q245.3 144.5 244.4 141.5M250.5 142.9Q247.7 140.9 244.4 141.5M248 147.1Q246.4 146.6 245.3 147.7M332.3 111Q333.4 110.9 334.2 111.6M333.8 111.2Q333.9 111.4 334.2 111.6M333.3 109Q332.7 110 332.3 111M331.3 106.6Q332.1 109.4 334.2 111.6M331.3 106.6Q333.3 108.4 333.8 111.2M331.3 106.6Q332 105.2 331.9 103.6M197.3 128.8Q197.7 128.5 197.9 128M202 129.7Q199.4 130.4 197.3 128.8M198.2 128.8Q197.8 128.8 197.3 128.8M197.3 128.8Q193.3 130.9 190.4 134.3M288.8 43.3Q289.2 44.5 290.2 45.3M291 46.8Q289.5 45.3 288.8 43.3M291.5 46.1Q291.5 46.6 291 46.8M288.8 43.3Q293.8 41.3 299.1 41.7M248.8 135.3Q247.5 135 246.6 134.1M246.6 134.1Q248.7 132.8 248.4 130.3M201 97.7Q200.4 97.4 200.2 96.8M203.4 94.3Q201.7 95.4 200.2 96.8M204.5 100.5Q201.4 99.8 200.2 96.8M204.5 100.5Q204.9 97.3 203.4 94.3M202.1 95.6Q200.9 96.3 201 97.7M202.2 100.1Q200.8 97.8 202.1 95.6M311.4 51.3Q313.3 52.4 315.4 53.2M315.1 52.5Q315.2 52.9 315.4 53.2M315.1 52.5Q309.7 54.8 303.8 55M304.9 53Q304.7 54.2 303.8 55M181.5 110.6Q180.4 111.4 180.3 112.9M179.6 109.3Q179.8 111.1 180.3 112.9M179.6 109.3Q180.4 110.2 181.5 110.6M181 109.8Q180.2 109.8 179.6 109.3M182.4 107.2Q180.6 109.8 180.3 112.9M179.6 109.3Q183.7 112.3 182.4 117.2M222.8 68.4Q222.7 70.3 224.1 71.6M222.8 68.8Q222.7 68.6 222.8 68.4M222.8 68.8Q219.7 67.7 218.3 64.6M320.7 62.2Q321.7 61.8 322.8 61.4M324.5 60Q323.6 60.6 322.8 61.4M324.5 60Q323.2 62.1 320.7 62.2M320.8 64.7Q322.7 63.6 322.8 61.4M320.8 64.7Q320.9 63.4 320.7 62.2M323.5 65Q323.1 63.2 322.8 61.4M326.1 62.9Q326.2 61 324.5 60M323.5 65Q323.2 66.5 322.8 67.9M250.1 106.4Q249.7 108.6 250.1 110.7M248.8 105.5Q249.9 108 250.1 110.7M250.1 106.4Q253.8 109.5 257.8 106.7M223.1 127.4Q221.1 126.4 219.7 124.7M223.6 125.4Q221.6 125.1 219.7 124.7M223.6 125.4Q223.2 126.3 223.1 127.4M219.7 124.7Q228.5 123.9 231 132.3M307.5 114.4Q308.3 116.1 309.4 117.7M310 166.5Q311.2 164 309.5 161.9M308 163.6Q309.1 163.1 309.5 161.9M311.4 163.4Q309.7 163.4 308 163.6M310 166.5Q306.8 160.6 300.1 159.5M213.3 129.4Q216.3 131.8 219.4 134.2M214 134.5Q216.6 132.6 219.4 134.2M219.4 134.2Q222.5 135.4 222.4 138.7M271.9 120.5Q270.2 118.3 271.5 115.9M275.9 115.5Q273.6 114.7 271.5 115.9M275.9 115.5Q274.7 118.6 271.9 120.5M225 54.3Q224.4 52.3 224.8 50.1M222.2 53.5Q223.2 51.6 224.8 50.1M220.2 51.3Q221.9 54 225 54.3M220.2 51.3Q222.9 54.2 226.7 54.2M177.5 117Q179.5 117.5 181.5 117.3M182.2 120.7Q180.7 119.2 181.5 117.3M182.4 117.2Q183.4 119.1 182.2 120.7M178 120Q180.9 119.7 182.4 117.2M181.5 117.3Q183.8 121.7 188.5 120.3M209.9 109.5Q213.8 111.7 216.1 115.5M218.1 114.1Q217.1 114.9 216.1 115.5M218.1 114.1Q212.9 113.7 209.9 109.5M218.1 114.1Q215.9 111.3 213.1 109M300.2 74.9Q299.5 74.6 299.3 73.9M298.2 75Q299.2 74.5 300.2 74.9M299.5 76.2Q300.2 75.7 300.2 74.9M297.2 74.1Q298.2 73.4 299.3 73.9M299.3 73.9Q294.8 73.8 290.3 74.1M258.6 112.8Q260.2 113.4 260.4 115.1M263.4 114.6Q262.1 115.9 260.4 115.1M257.4 111.6Q259.1 113.1 260.4 115.1M257.4 111.6Q260 114 263.4 114.6M263.4 114.6Q260.1 118.1 260.4 122.9M301.9 100.1Q301.4 98.4 299.6 98.1M304.1 100.1Q303 99.5 301.9 100.1M302.2 96.7Q300.9 97.5 299.6 98.1M302.2 96.7Q301.5 98.4 301.9 100.1M304.5 101.6Q304.1 100.9 304.1 100.1M304.9 99.6Q303.5 100.6 301.9 100.1M304.1 100.1Q306.8 103.2 304.9 106.9" stroke="#F4895F" stroke-width="0.8" fill="none"/><path d="M313.8 118.7h0M315.8 151h0M283.1 45.3h0M297.3 37h0M269.4 144.6h0M256.3 178.4h0M201.3 112.4h0M202.2 86.9h0M290.9 101.4h0M291.7 86.9h0M332.1 118.3h0M311.8 148.8h0M237.9 40.2h0M251.6 49.8h0M323.3 132h0M320.4 115.6h0M261.7 141.5h0M262.6 176.9h0M288.8 34.2h0M279.2 46.9h0M301.8 41.4h0M284.1 50h0M289.3 34.3h0M285 40.2h0M298.2 46.7h0M302.8 38.1h0M284.7 43.2h0M285.3 35.9h0M295.5 38.7h0M285.5 45.4h0M280.7 44.7h0M293.3 41.5h0M291.7 45.8h0M279.7 42.6h0M293.6 48.6h0M288.5 43.2h0M299.4 33.8h0M290.3 37.2h0M286.2 36.2h0M282.9 46.3h0M280.6 39h0M293.3 34.9h0M281.1 42h0M283.3 40.2h0M280.8 47h0M287 42h0M285.5 33.6h0M301.8 40.2h0M283 40.2h0M296 31.5h0M284.9 37.8h0M303.8 34.1h0M306 92.9h0M306.6 95.5h0M306.3 78.6h0M317.2 79.1h0M305.3 90.3h0M316.8 89.6h0M312 84.7h0M306.8 75.2h0M306.7 77.2h0M305.3 84.9h0M318.2 85h0M316.5 88.2h0M302.8 95.7h0M298.6 84.2h0M298.2 84.1h0M300.3 82h0M309.6 81.8h0M304.3 77h0M298.8 82.7h0M316.5 91.4h0M297.6 86.1h0M298 81.6h0M316.1 83.2h0M315.3 89.9h0M303.1 85.1h0M311.1 83.9h0M302.2 76.7h0M311.2 74.7h0M300.8 87.9h0M302.3 77.5h0M316.7 95.2h0M318 83.1h0M194.8 110.4h0M187.7 107.1h0M187.2 105.1h0M200.8 102h0M199.8 109.8h0M201.9 109.5h0M186.9 108.4h0M200 108.5h0M191.5 104.7h0M187.2 103.6h0M202.9 103.5h0M201 109.5h0M193 106h0M188.6 109.9h0M196.8 112.3h0M187.4 107.6h0M225.1 110.7h0M222.5 108.2h0M220.6 112.7h0M225.2 108.9h0M219.5 108.2h0M218.5 108h0M219.1 107h0M217.5 110h0M216.6 108.4h0M225.2 110.3h0M216.2 114.2h0M222.8 113.7h0M226.7 108.2h0M220.2 117.8h0M217 114.9h0M218.8 111.2h0M187.3 147.7h0M182.2 149.4h0M184.9 141.7h0M181.9 142.3h0M185.4 144.6h0M189.4 146.2h0M183.1 147.9h0M188.1 148.3h0M179.6 143h0M178.7 148.9h0M187.4 147.6h0M185.3 149.7h0M177.9 146.3h0M205.7 148.3h0M203.1 148.5h0M201 143.5h0M205.5 143.3h0M201.2 142.8h0M199.1 149.5h0M206.1 141.9h0M209.2 143.8h0M204.6 148.8h0M207.5 148.9h0M206.5 152h0M207.5 144.8h0M201.6 141.7h0M324.4 123.4h0M324.4 118.2h0M324.5 123.1h0M284.5 35.3h0M283.4 30.1h0M277.7 35h0M304.7 163.2h0M300.1 159.5h0M302.1 159.7h0M299.5 165.8h0M300.1 159.3h0M304.1 165.5h0M310.5 105.9h0M304.9 106.9h0M311 70.9h0M312.1 65.9h0M312.4 67.9h0M309.5 68.6h0M187.1 137.9h0M182.3 141h0M184.1 135.5h0M186.9 134.9h0M294.6 83.2h0M295.9 83h0M298.3 83.7h0M297.7 81.4h0M316.8 89h0M315.8 84.7h0M319 88.6h0M250.4 120.6h0M250.1 122.7h0M251 122.6h0M250.6 118.2h0M256.1 121.5h0M253.3 122.3h0M219.2 133.3h0M221.4 135h0M222.9 134.8h0M222.4 138.7h0M221.2 138.1h0M223.8 134.3h0M323.4 72.8h0M325.2 75.4h0M326.5 80.3h0M330 80h0M324.7 80h0M330.2 78.1h0M189.6 83.9h0M188.3 88.9h0M189.7 88.6h0M186.8 83.5h0M185.3 82.7h0M185.3 82h0M325.2 94.5h0M324.1 96h0M330.4 99.3h0M324.5 98.8h0M274.7 143.6h0M274 148.6h0M204.5 145.7h0M205.9 148.1h0M203.5 147.6h0M202.1 148h0M194.2 54.3h0M190.4 59.2h0M190.1 61.9h0M194.6 61.7h0M190.5 56.9h0M198.3 53.5h0M332.9 84.2h0M332.9 84.7h0M331 82.3h0M329.8 88.3h0M332 86.1h0M304.8 92h0M308.8 97.1h0M307.2 94.8h0M234.3 131.3h0M232.9 130.9h0M238.1 128.9h0M236.7 126.5h0M287.6 153.1h0M285 156.2h0M215.3 156.2h0M210.1 153.8h0M218.5 157h0M218.8 155h0M221.4 146.5h0M217.3 143.9h0M221 140.7h0M236.4 41.5h0M238.2 40.9h0M239.9 36.8h0M241.2 34.7h0M325.9 142.4h0M325.8 148.8h0M321.8 142.6h0M326 148h0M323.1 147.9h0M321.7 146.5h0M295.6 154.1h0M293.9 158.5h0M292.4 156.2h0M291.6 157.6h0M319.9 71.1h0M320.8 68h0M322.8 67.9h0M322 71.2h0M320.3 73.6h0M258.5 179.5h0M259.4 177.6h0M258.9 178.2h0M260.5 179.1h0M295.5 166.2h0M298.4 170.8h0M294.6 167.8h0M312.4 105.9h0M316.2 105.3h0M314.9 109.1h0M309.8 109.6h0M208.1 58.1h0M210.6 56.2h0M265.8 179.7h0M270.4 182.9h0M271.6 178.1h0M268.8 182.7h0M268.9 178.6h0M281.8 173.6h0M282 175.8h0M286.3 178.7h0M201.5 105.6h0M202.9 104.1h0M203.3 103.6h0M203.7 106.8h0M190.4 134.3h0M192.6 136.2h0M303 89.5h0M304 90.9h0M304.5 90.7h0M302.3 90.1h0M305.1 87.2h0M302.5 86.9h0M284.3 108.5h0M284.4 116h0M276.4 115.8h0M282.2 109.3h0M299.1 41.7h0M296.2 39h0M299.2 44.2h0M296.1 44.9h0M302.7 70.7h0M307.8 74.7h0M305.7 73h0M281 48.5h0M274.1 44.6h0M281 46.4h0M277.4 44.6h0M183.1 96.5h0M186 93.3h0M186.8 90.7h0M186 96.2h0M267.9 116h0M266.1 111.3h0M269.2 114.8h0M265.9 111.4h0M269 118.3h0M265.5 112h0M261.9 166.4h0M267.6 167.2h0M269 167h0M269.4 165.1h0M266.6 171.9h0M241.7 116.2h0M241.9 113.7h0M234.4 119.6h0M234.9 119.1h0M210.2 97.3h0M209.8 94.5h0M213.3 98.5h0M322.3 122.1h0M321.3 118.4h0M236.7 143h0M240.6 147.8h0M242 150.4h0M237.4 142.8h0M239.1 146.3h0M262.7 29.3h0M262.5 31h0M262.1 31.9h0M260.8 25.5h0M210.6 150.1h0M211.5 149h0M213.9 147.2h0M234.2 140.9h0M234.8 143.5h0M234.2 142.6h0M308.3 133.4h0M307.4 135.9h0M312.3 136.5h0M311.2 133.6h0M309.2 136.2h0M235.3 125.5h0M242.9 124.7h0M235 125.3h0M237.3 119.1h0M242.1 126.4h0M239 120.8h0M208.1 83.7h0M208.3 79.6h0M213.5 77.7h0M212.8 77.7h0M213.9 76.8h0M213.2 82h0M231 28.9h0M236.4 31.5h0M232.6 26.1h0M236.1 29.5h0M232.9 33.8h0M230.8 131.2h0M231.3 130.4h0M229.5 128.5h0M228.4 130.1h0M231 132.3h0M217.1 144.4h0M212.3 138.6h0M217 141.2h0M215.6 140.8h0M210 139h0M210.6 140.9h0M322.4 101.1h0M323.3 94.5h0M320.9 97.3h0M316.9 96.6h0M325.2 97.8h0M218.7 170.4h0M221.2 177.3h0M225 173.9h0M221.4 178.9h0M243.9 183h0M243.3 183.1h0M273.1 111h0M273.7 105.5h0M269.6 106.1h0M214.2 85.7h0M208.7 86.3h0M208.3 89.9h0M213.7 87.2h0M209.4 86.3h0M209.1 86.6h0M234.8 166.3h0M231.2 157.8h0M229.1 161.2h0M232.5 157.8h0M189.1 102.7h0M191.4 97.1h0M195.2 102.4h0M189.7 100.8h0M194.7 104.7h0M195.4 96.9h0M226.4 167.9h0M222.6 162.6h0M227.1 168.6h0M271.1 131.3h0M268.5 132.7h0M271.4 127.8h0M265.7 130.9h0M270.9 130.1h0M214.6 34.6h0M217.7 43h0M213.9 36.3h0M216.5 34.9h0M261.7 131h0M255.8 132.8h0M256.4 134.1h0M259.6 133.4h0M230.1 35.9h0M231 34.9h0M230.1 38.4h0M226.1 35.3h0M228 39.7h0M317 91.7h0M313.4 93.2h0M312 123h0M312.7 116.5h0M312.7 119.1h0M312.7 120.1h0M223.6 154h0M224 148.3h0M308.7 83h0M313 82.4h0M311.8 87.5h0M312.6 84.2h0M228.6 180.3h0M228.5 179.4h0M230.6 180.9h0M228.6 181.3h0M333.1 116.3h0M334.1 116.6h0M336.8 116.3h0M333 112.5h0M331.5 113.5h0M220.8 77.7h0M220.9 71.2h0M218.7 74h0M221.3 76.2h0M213.8 74.2h0M314.2 100.6h0M312.6 101.4h0M314.1 100.4h0M313.9 99.3h0M314.1 97.6h0M212.5 166.2h0M212.9 166h0M213.5 162.4h0M206.6 166.4h0M207.5 165.5h0M272.4 31.3h0M270.6 31.7h0M268.4 31.5h0M267.3 33.9h0M267.8 33.2h0M292.1 114.2h0M291.6 111.9h0M290.5 110.6h0M286.8 49.7h0M286.4 53.9h0M287.8 51.9h0M281.1 47.1h0M215.1 45h0M208.1 45.9h0M212.8 43.5h0M211.6 43.8h0M254.6 115.6h0M252.4 114.5h0M249.4 117.6h0M271.6 51.7h0M277.2 52.9h0M276.5 58.1h0M306.8 111h0M301.8 110.5h0M301.1 108.9h0M298.9 107.3h0M298.1 112.7h0M262.2 146.8h0M261.2 154.9h0M217.2 57.3h0M219.1 61.1h0M217 60.7h0M214.5 59.2h0M218.1 57.3h0M287.5 173h0M287.4 169.1h0M291 175.8h0M290 169.1h0M289.5 169h0M292.4 151.6h0M297 152.2h0M293.1 147.8h0M180.1 88.2h0M177.9 93.2h0M182.6 91.4h0M180.2 92.6h0M178.4 88.2h0M324 77.2h0M324.7 78.3h0M323.8 76.3h0M316.6 79.1h0M243.5 36.7h0M241.9 38.3h0M246.1 35.4h0M242.5 39.5h0M247.3 35.2h0M336.2 100.3h0M336.3 100.9h0M311.8 139.9h0M317.7 141.7h0M316.7 137.5h0M318.2 143.2h0M315.4 138.9h0M317.5 136.7h0M194.2 119.1h0M194.1 121.2h0M196.9 115.1h0M195.6 119.9h0M195.4 117.9h0M193.9 117.1h0M265.7 124.3h0M264.3 123.1h0M266.8 125.5h0M268 119.6h0M265.8 127.7h0M265.8 127.6h0M291.3 79.8h0M295.2 78.9h0M292.2 75.9h0M290.3 74.1h0M293.5 160.9h0M289.9 166.9h0M288.6 164.5h0M293 167.6h0M290.1 168.9h0M230.4 120.9h0M231.2 122.1h0M233.1 123.1h0M195.2 153.5h0M198.2 154.9h0M195.9 157.3h0M193.7 156.9h0M199.1 155.2h0M254.8 35.2h0M254.4 32.8h0M258.3 29.8h0M255.6 33.2h0M256.7 35.6h0M199.5 56.4h0M200.2 54.1h0M203.3 58h0M228.1 107.6h0M229.8 104.9h0M227.5 108.9h0M230.9 103.5h0M297.9 53.5h0M295.6 54.8h0M294.2 54.8h0M293.5 54.5h0M295.6 52.9h0M186.3 79.7h0M183.3 81.4h0M306.5 122.5h0M307.9 122.8h0M304.2 120.1h0M306.9 122.7h0M188.6 130.4h0M190.3 129.7h0M187.7 132.9h0M285.1 172.3h0M285.1 172.9h0M282.8 167.8h0M286.6 172.3h0M202.5 93.3h0M205.9 90.9h0M202.4 89.4h0M202 87.9h0M206.9 88.4h0M205.9 87.8h0M241.9 131.8h0M240.9 128.7h0M240 133.4h0M326 88.9h0M327.3 86h0M183.4 108.8h0M185.2 108.6h0M188.2 112.2h0M183.2 112.8h0M239.7 32.2h0M237 29.1h0M240.8 34.2h0M241.5 27.4h0M243.1 30h0M241.7 28.3h0M236.2 174.7h0M236.9 178.8h0M240.9 174h0M240.6 176.4h0M236.6 174.3h0M224.8 62.2h0M225.3 60.4h0M226 63.8h0M227.9 61.7h0M256.6 24.8h0M250.6 26.8h0M204.2 139.6h0M210.7 145.2h0M204.9 141.7h0M203.5 143.6h0" stroke="#4A8873" stroke-width="1.25" stroke-linecap="round"/><path d="M203.7 84.4h0M242.5 78.2h0M308.2 118.1h0M318.2 139.1h0M297.1 149.2h0M309.7 111.4h0M282.4 76.4h0M263.8 74.4h0M256.4 169.3h0M278.9 158.1h0M286.3 73.8h0M284.5 58.6h0M239.9 64.4h0M274.1 44.1h0M266.4 39.9h0M281.7 34.9h0M243.7 140.6h0M259.7 141.6h0M299 70h0M287.6 81h0M300.2 124.7h0M265.6 119.4h0M302.3 110.5h0M285.8 104.8h0M306.7 119.1h0M328.3 90.9h0M220.6 149.4h0M240.1 131.7h0M232.9 68.7h0M249.8 95.7h0M317.6 57.4h0M304.4 67.3h0M249.3 100.4h0M220.4 107.3h0M230.6 118.9h0M245.2 100.1h0M217.5 109.1h0M226.1 111.6h0M247.8 118.4h0M230.3 120.6h0M224.9 122.7h0M235.2 127h0M233 110h0M222.6 102.7h0M223.8 123.4h0M248 106h0M242.4 124.5h0M235.5 103.6h0M249 116.3h0M253 106.7h0M228.6 115h0M236 105.6h0M224.1 119.8h0M255.6 112h0M243.9 101.4h0M229.3 107.4h0M255.2 116h0M248.6 108.1h0M236.6 115.8h0M241.3 101.1h0M255.9 114.9h0M257.9 113.9h0M240.9 114.5h0M240.3 122.2h0M243.8 125.6h0M255.7 110.8h0M256.5 113.6h0M228.8 116.3h0M232.3 122.9h0M231.4 107.7h0M218.7 112.2h0M224.2 112.7h0M208.5 129.9h0M207.3 127.9h0M217.7 128h0M217 126.1h0M205.5 127.1h0M205.2 125.3h0M216.3 130.6h0M206.4 128.4h0M207.8 124.2h0M218.4 130.4h0M191.8 125h0M193.3 120h0M186.8 122.3h0M186.5 119h0M187.3 123.4h0M192.7 118.8h0M193.5 126.1h0M192.2 118.9h0M311.1 54.5h0M314.6 54.5h0M319 54.9h0M312.2 52.2h0M316.3 51.9h0M319.2 54.3h0M313.6 52.3h0M232.9 141.8h0M227.6 146.8h0M230.2 146.2h0M229 148.2h0M229.6 146h0M234.6 145h0M228 145.4h0M237.6 147.6h0M262.9 110.4h0M264.5 106.7h0M266.3 105.6h0M260.3 107.8h0M302.4 118.7h0M303.5 114.4h0M296.5 118.3h0M199 112.6h0M197.2 110.6h0M201.1 114h0M204.3 113.6h0M196.3 112.3h0M203.6 111.2h0M220.3 117.3h0M222 120.4h0M221.3 115.6h0M221.4 118.7h0M224.1 156.6h0M218.1 160.2h0M222.4 160.7h0M223.6 160.6h0M224.2 159.8h0M223.6 155.3h0M244.2 28.8h0M248.5 33.7h0M249.9 31.5h0M248.6 30.6h0M249.1 31.3h0M220 113.5h0M220 116.1h0M180.7 101.2h0M177.2 99.6h0M176 99.2h0M178.6 99.1h0M181 100.8h0M215.4 119.8h0M215.7 119.8h0M213.8 123h0M217 119.7h0M213.8 122.5h0M220.6 171.2h0M213.8 169.1h0M261.1 119.2h0M260.1 121.1h0M260.4 122.9h0M322.4 105.5h0M320.1 110.7h0M322 109.9h0M195.1 145.4h0M195.1 144.1h0M190.9 146.4h0M230.6 159h0M232.4 156.6h0M232.2 157.2h0M231.8 156.9h0M230.8 155.4h0M331.9 103.6h0M330.5 103.5h0M325.9 107.6h0M254 110.3h0M257.8 106.7h0M240 96.9h0M241.1 97.6h0M226.7 54.2h0M227.7 56.5h0M225.8 55.4h0M306.4 84.2h0M303.6 79h0M301 77.3h0M302.6 77h0M305.8 80.5h0M307.6 81h0M211.6 69.8h0M218.3 64.6h0M220.4 65.1h0M212.9 67.2h0M214.1 64h0M309.1 128.2h0M311.9 125.1h0M310.8 123.2h0M316 131.7h0M253.2 138.1h0M252.1 141.4h0M253.4 136h0M247.8 179.9h0M253.9 181.6h0M232.1 150.8h0M231.9 152.7h0M232.3 151.9h0M230.2 152.5h0M207.7 52.4h0M206.7 52.2h0M204.6 53.7h0M206.9 52.6h0M191.6 109.7h0M192.8 108.7h0M194.7 109.3h0M186.7 103.1h0M184.7 102.3h0M186.1 106.9h0M184.9 107.1h0M233.3 175.5h0M233.9 168.3h0M237.1 174.1h0M236.2 170.6h0M195.3 94.3h0M194.7 92.1h0M195.7 94.2h0M195.6 92h0M222.5 45.3h0M223.4 45.4h0M220.8 43.4h0M219.7 42.6h0M223.1 45.1h0M313.4 78.4h0M313.1 74.8h0M308.5 78.1h0M312.1 81h0M316.1 81.8h0M319.1 60.1h0M315.2 56.2h0M316.6 55.9h0M312.2 59.8h0M312.1 61.8h0M212.6 129.6h0M215.8 130.2h0M235.2 49.2h0M234.1 47.3h0M235.5 46.4h0M222.2 34h0M221.1 37.6h0M221.5 37.8h0M222.2 36.5h0M235.3 109.8h0M228.5 111.5h0M228.7 110.4h0M233.6 113.8h0M234 109.7h0M207.6 118.3h0M210.9 116.8h0M210.5 117.5h0M249.4 133.1h0M247.9 130.2h0M251 127.9h0M248.4 130.3h0M271.9 141.5h0M268 138.2h0M267.6 142.1h0M268 143h0M266.2 145.3h0M265.5 142h0M307.3 62.9h0M308.5 63.3h0M303.9 61.9h0M231 136.2h0M232 139.1h0M231.1 136h0M232.3 139.5h0M284.5 36.4h0M287.8 41.4h0M285 38.2h0M286.9 36h0M286.3 42.1h0M311.1 48.2h0M305.6 47.2h0M309.4 42.3h0M308.2 48.5h0M272.5 35.6h0M277 39.5h0M277.3 35.1h0M274.9 36.6h0M276.7 37.6h0M277.4 39.9h0M204.3 130.5h0M204.1 136.7h0M204 130.8h0M205.9 133h0M206.9 137.5h0M206.9 136.8h0M203.3 125.1h0M203.1 121.6h0M204.9 125h0M204.5 121.5h0M204.8 125.4h0M219.9 105.7h0M219.9 108.2h0M217.6 108.7h0M222 105.1h0M221 107h0M218 104.8h0M200.1 138.4h0M203.2 142.1h0M203.6 141.4h0M201.1 141.3h0M218.3 52h0M219.9 54.3h0M218.1 51.4h0M214.7 51h0M216.2 53.5h0M213.2 106.9h0M215.3 109.4h0M213.1 109h0M199.6 160.6h0M202.5 160.6h0M206.7 155.4h0M203.6 158.5h0M199.5 156.3h0M232.4 43.5h0M226 48.1h0M189.1 120.3h0M193.8 121.8h0M247.6 110.8h0M244.2 112.4h0M241.3 115.2h0M248.2 113.7h0M278.3 176h0M275.4 175.5h0M188.5 120.3h0M185.7 121h0M188.5 117.8h0M188.4 119h0M185.5 118.4h0M235 107.5h0M239.1 103.8h0M237.9 104.9h0M235 102h0M182.5 121.5h0M186.2 128.3h0M186 124.9h0M181.8 129.7h0M244.4 141.5h0M245.3 147.7h0M250.5 142.9h0M248 147.1h0M334.2 111.6h0M332.3 111h0M333.8 111.2h0M333.3 109h0M331.3 106.6h0M197.9 128h0M197.3 128.8h0M202 129.7h0M198.2 128.8h0M290.2 45.3h0M288.8 43.3h0M291 46.8h0M291.5 46.1h0M246.6 134.1h0M248.8 135.3h0M200.2 96.8h0M201 97.7h0M203.4 94.3h0M204.5 100.5h0M202.1 95.6h0M202.2 100.1h0M315.4 53.2h0M311.4 51.3h0M315.1 52.5h0M303.8 55h0M304.9 53h0M180.3 112.9h0M181.5 110.6h0M179.6 109.3h0M181 109.8h0M182.4 107.2h0M224.1 71.6h0M222.8 68.4h0M222.8 68.8h0M322.8 61.4h0M320.7 62.2h0M324.5 60h0M320.8 64.7h0M323.5 65h0M326.1 62.9h0M250.1 110.7h0M250.1 106.4h0M248.8 105.5h0M219.7 124.7h0M223.1 127.4h0M223.6 125.4h0M309.4 117.7h0M307.5 114.4h0M309.5 161.9h0M310 166.5h0M308 163.6h0M311.4 163.4h0M219.4 134.2h0M213.3 129.4h0M214 134.5h0M271.5 115.9h0M271.9 120.5h0M275.9 115.5h0M224.8 50.1h0M225 54.3h0M222.2 53.5h0M220.2 51.3h0M181.5 117.3h0M177.5 117h0M182.2 120.7h0M182.4 117.2h0M178 120h0M216.1 115.5h0M209.9 109.5h0M218.1 114.1h0M299.3 73.9h0M300.2 74.9h0M298.2 75h0M299.5 76.2h0M297.2 74.1h0M260.4 115.1h0M258.6 112.8h0M263.4 114.6h0M257.4 111.6h0M299.6 98.1h0M301.9 100.1h0M304.1 100.1h0M302.2 96.7h0M304.5 101.6h0M304.9 99.6h0" stroke="#A85C44" stroke-width="1.25" stroke-linecap="round"/><path d="M209.5 73L209.3 75L208.8 77L208.1 78.9L207 80.7L205.7 82.3L204.1 83.7L202.2 84.7L200.1 85.2L198 85.2L195.9 84.8L194 84.1L192.2 83.2L190.5 82.1L189 80.7L187.7 79L186.8 77.2L186.2 75.1L186.1 73L186.5 70.9L187.1 69L188.1 67.2L189.2 65.5L190.6 64L192.1 62.7L193.9 61.6L195.9 60.9L198 60.7L200.1 60.9L202.1 61.5L204 62.4L205.7 63.7L207.1 65.3L208.2 67L208.9 69L209.4 71Z" fill="#7DD2B4"/><path d="M195.4 62.9h0M199.1 62.7h0M189.9 66.1h0M193.3 66.5h0M197 66.4h0M201 65.7h0M205.4 66.6h0M191.5 69.8h0M195.1 69.9h0M198.8 70h0M203.5 69.9h0M206.7 69.3h0M189.6 73.3h0M193.2 72.9h0M197.2 72.8h0M201 73.3h0M205.3 73h0M187.8 76.6h0M191.7 76.1h0M195 76.1h0M199.2 76.1h0M203.3 75.9h0M206.9 76.2h0M193.7 80.1h0M197.7 79.4h0M201.5 79.6h0M205.3 79.4h0M194.8 83h0M198.8 83.2h0" stroke="#336D5A" stroke-width="1.85" stroke-linecap="round"/><path d="M241.2 89L241 91.2L240.5 93.4L239.6 95.4L238.4 97.3L236.9 99L235 100.3L233 101.4L230.8 102L228.5 102.2L226.2 102L224 101.4L221.9 100.3L220.1 99L218.5 97.4L217.3 95.5L216.4 93.4L215.8 91.2L215.6 89L215.8 86.8L216.4 84.6L217.3 82.6L218.6 80.7L220.2 79.1L222 77.8L224.1 76.8L226.2 76.1L228.5 75.9L230.8 76L233 76.6L235.1 77.5L237 78.9L238.6 80.6L239.8 82.5L240.6 84.6L241.1 86.8Z" fill="#7DD2B4"/><path d="M227.2 77.5h0M231.4 77.7h0M221.6 80.8h0M225.6 81.2h0M229.2 80.8h0M233.1 81.4h0M237.2 80.7h0M219.1 84.7h0M223 84.6h0M226.8 84.6h0M231.5 84.3h0M235 84.8h0M238.8 84.9h0M217.1 88.2h0M221 88h0M225.5 87.8h0M228.7 87.7h0M232.8 88.2h0M236.5 88.4h0M240.4 88.3h0M219 91.4h0M223.1 91.2h0M227.7 91h0M231.4 91.6h0M235.2 91.5h0M238.9 91.7h0M221.3 94.3h0M225.4 94.2h0M229 94.8h0M233.3 94.4h0M236.6 94.5h0M222.9 97.7h0M226.9 97.8h0M231.4 98h0M234.6 98.3h0" stroke="#336D5A" stroke-width="1.85" stroke-linecap="round"/><path d="M271.8 50.5L271.6 52.9L271 55.3L269.9 57.4L268.4 59.4L266.5 61L264.3 62.3L262 63.3L259.6 64.1L257 64.6L254.3 64.7L251.6 64.3L249.1 63.3L247 61.6L245.4 59.6L244.3 57.4L243.5 55.1L243 52.8L242.6 50.5L242.5 48.1L242.8 45.7L243.6 43.3L245.1 41.2L247.1 39.5L249.5 38.3L252 37.6L254.5 37.2L257 36.9L259.6 36.9L262.2 37.3L264.7 38.1L267 39.4L268.8 41.2L270.2 43.4L271.2 45.7L271.7 48.1Z" fill="#7DD2B4"/><path d="M249.8 40h0M253.2 40.2h0M257.1 39.5h0M261.2 39.5h0M247.4 43.8h0M251.8 43.7h0M255.9 43.8h0M259.9 43.2h0M263.1 43.3h0M267.3 43.7h0M245.6 47h0M249.3 46.9h0M253.9 46.8h0M257.2 46.8h0M261.1 47.2h0M265.5 46.3h0M269.6 47.2h0M243.6 50.4h0M247.7 49.7h0M251.3 50.6h0M255.7 50.5h0M259.3 50.7h0M263 50.5h0M267.6 50.3h0M270.8 49.8h0M245.3 53.2h0M249.9 53.7h0M253.5 53.6h0M257.2 53.5h0M261.4 53.2h0M265.2 54h0M268.9 53.5h0M247.5 57.1h0M251.4 56.9h0M255.3 56.9h0M259.2 57h0M263.4 56.9h0M267.2 57.3h0M249.4 60.2h0M254.1 60.2h0M257.3 60.6h0M261.5 60.2h0M265.5 60h0M259.4 63.3h0" stroke="#336D5A" stroke-width="1.85" stroke-linecap="round"/><path d="M295.4 106.4L293.6 108.2L291.3 109.5L288.3 110.1L284.7 109.8L280.7 108.6L276.5 106.4L272.2 103.5L268.3 100.1L264.6 96.4L261.3 92.6L258.3 88.6L255.7 84.6L253.5 80.6L251.9 76.6L251 72.7L250.9 69.3L251.6 66.4L253.3 64.3L255.7 62.9L258.6 62.4L262.1 62.6L265.8 63.4L269.7 64.9L273.6 66.8L277.7 69.1L281.7 72L285.7 75.3L289.5 79.1L292.8 83.2L295.5 87.5L297.3 91.6L298.2 95.5L298.3 98.9L297.8 101.8L296.8 104.3Z" fill="#7DD2B4"/><path d="M259.3 63.5h0M262.8 64.1h0M256.7 67.2h0M261.5 66.8h0M265.1 67.3h0M268.4 67.6h0M273 67.2h0M255.5 70.9h0M259 70.9h0M263.1 71h0M267.3 70.3h0M270.4 70.9h0M274.5 70.6h0M253 73.9h0M256.8 74.1h0M260.6 73.8h0M264.8 73.8h0M268.8 74.1h0M272.6 74h0M276.8 74.2h0M280.3 73.7h0M254.8 77.7h0M258.8 77.2h0M262.6 77.8h0M266.7 77.8h0M270.5 77.1h0M275 77.9h0M278.8 77.9h0M282.6 77.8h0M257.1 81.1h0M260.8 80.8h0M265.4 81.2h0M268.5 80.5h0M273.2 80.4h0M276.5 80.8h0M280.7 80.5h0M284.3 81.1h0M288.7 80.9h0M259.6 84.6h0M263.1 84.6h0M267.3 84.2h0M270.4 83.9h0M275.2 84.6h0M279 84.2h0M282.4 83.8h0M286.6 83.9h0M289.9 84.6h0M261.1 88.1h0M265 87.8h0M268.6 87.9h0M273 87.5h0M276.5 87.1h0M280.6 87.8h0M284.7 87.8h0M288.1 87.9h0M292.2 87.4h0M262.8 91.2h0M266.7 90.9h0M271.2 90.7h0M274.7 90.7h0M278.2 91.2h0M282.9 91.3h0M286.7 91.1h0M290.7 90.7h0M294.4 90.6h0M264.9 94.1h0M268.7 94.6h0M272.4 94.3h0M277.1 94.6h0M280.6 94.2h0M284.8 94.1h0M288.8 94.1h0M292.1 94.7h0M296.3 94.3h0M271 97.9h0M274.7 97.6h0M278.8 98.3h0M282 98.1h0M286.4 97.9h0M290.5 97.8h0M294.6 97.8h0M273 101.2h0M277 101.3h0M280.2 101.4h0M284.6 100.9h0M288 101.4h0M291.8 101.5h0M296.3 101.5h0M279 104.2h0M282.9 104.2h0M286.3 104.2h0M290.4 104.3h0M294.4 104.9h0M284.1 107.6h0M288.3 108.1h0M292.2 107.6h0" stroke="#336D5A" stroke-width="1.85" stroke-linecap="round"/><path d="M301.2 64L300.9 65.8L300.3 67.4L299.2 69L297.9 70.4L296.2 71.5L294.4 72.5L292.4 73.2L290.2 73.7L288 73.9L285.7 73.8L283.5 73.4L281.4 72.7L279.5 71.7L277.9 70.5L276.6 69.1L275.6 67.5L275 65.8L274.9 64L275.1 62.3L275.8 60.6L276.8 59L278.2 57.7L279.8 56.5L281.6 55.5L283.6 54.7L285.8 54.2L288 54L290.3 54.2L292.5 54.6L294.5 55.3L296.4 56.3L298 57.5L299.4 59L300.4 60.5L301 62.2Z" fill="#7DD2B4"/><path d="M286.8 55.8h0M290.9 55.4h0M281.5 58.9h0M284.8 58.7h0M288.4 58.9h0M292.9 58.3h0M296.6 58.5h0M279.1 62.1h0M283.2 62.5h0M286.9 61.8h0M291.2 62h0M294.5 62.2h0M298.4 61.8h0M277.2 65.3h0M281.3 65.8h0M284.4 65.8h0M288.4 65.3h0M293.1 65.6h0M296.5 65.7h0M279.3 69.3h0M282.8 68.6h0M287.3 69.3h0M291 69.2h0M295 68.5h0M284.7 72.4h0M289 72.5h0" stroke="#336D5A" stroke-width="1.85" stroke-linecap="round"/><path d="M303.7 133.5L303.7 136.2L303.4 138.9L302.5 141.6L301 144L299 146L296.6 147.5L293.9 148.4L291.2 148.7L288.5 148.6L285.9 148.1L283.4 147.4L281 146.4L278.8 145.1L276.7 143.4L274.9 141.4L273.6 138.9L272.9 136.2L272.8 133.5L273.2 130.8L274 128.2L275.2 125.8L276.7 123.6L278.5 121.6L280.7 119.9L283.1 118.6L285.7 117.9L288.5 117.6L291.2 118L293.8 118.8L296.2 120.2L298.3 121.9L300 123.9L301.4 126.1L302.5 128.4L303.2 130.9Z" fill="#86D5B9"/><path d="M285.3 119.4h0M279.5 122.4h0M283.5 122.2h0M287.3 122.2h0M291.2 122.2h0M294.4 122.6h0M298.4 122.8h0M277.7 126.2h0M281.5 126.1h0M284.8 125.6h0M288.8 126.2h0M293 125.6h0M296.6 125.7h0M301 126.1h0M275.7 128.7h0M279.4 129.4h0M283.5 129.6h0M287.3 129.3h0M290.8 129.4h0M294.6 129h0M298.6 129.5h0M302.1 129.4h0M277.2 132.1h0M280.9 132.4h0M285.2 132.2h0M288.5 132.6h0M293 132.3h0M296.2 132.9h0M300.3 133.1h0M275.2 136h0M279.2 135.9h0M282.9 136.3h0M286.6 136.3h0M290.8 135.9h0M295.2 136.1h0M298.3 136.2h0M277.5 139h0M280.8 138.9h0M285 139.4h0M289.4 139.4h0M292.7 139.7h0M296.2 139.1h0M301 139.8h0M279.3 143.2h0M283.4 143.1h0M286.9 143.1h0M290.6 142.7h0M295 142.8h0M298.4 143h0M280.9 146h0M285.1 146.3h0M289.3 145.9h0M293.2 145.8h0" stroke="#336D5A" stroke-width="1.85" stroke-linecap="round"/><circle cx="283.4" cy="143.1" r="1.3" fill="none" stroke="#336D5A" stroke-width="0.6"/><circle cx="280.9" cy="146" r="1.3" fill="none" stroke="#336D5A" stroke-width="0.6"/><circle cx="298.4" cy="122.8" r="1.3" fill="none" stroke="#336D5A" stroke-width="0.6"/><circle cx="283.5" cy="129.6" r="1.3" fill="none" stroke="#336D5A" stroke-width="0.6"/><circle cx="294.6" cy="129" r="1.3" fill="none" stroke="#336D5A" stroke-width="0.6"/><circle cx="290.8" cy="129.4" r="1.3" fill="none" stroke="#336D5A" stroke-width="0.6"/><path d="M333.6 131L333.3 132.5L332.8 133.8L332.2 135.1L331.4 136.3L330.4 137.5L329.3 138.5L328 139.2L326.5 139.7L325 139.8L323.5 139.5L322.1 138.9L320.9 138.1L319.7 137.3L318.7 136.3L317.7 135.2L316.9 133.9L316.4 132.5L316.3 131L316.5 129.5L317 128.1L317.8 126.8L318.7 125.7L319.7 124.6L320.8 123.7L322.1 122.9L323.5 122.5L325 122.3L326.5 122.5L327.9 123L329.2 123.7L330.4 124.6L331.5 125.6L332.4 126.7L333.1 128.1L333.5 129.5Z" fill="#F3AD90"/><path d="M322 124.3h0M326.5 124h0M320.2 127.5h0M324.2 127.4h0M328.2 127.3h0M318.6 130.9h0M322.6 131.2h0M325.7 130.7h0M330.2 131h0M319.9 134.6h0M324.4 133.9h0M328.3 134.6h0M322.1 137.5h0M326.5 137.3h0" stroke="#84402C" stroke-width="1.85" stroke-linecap="round"/><path d="M318.7 151.5L318.6 153.1L318.2 154.7L317.7 156.3L316.8 157.7L315.6 159L314.1 159.9L312.4 160.4L310.7 160.7L309 160.7L307.3 160.6L305.6 160.3L304 159.8L302.4 159L301 157.8L300 156.4L299.4 154.8L299.2 153.1L299.2 151.5L299.5 149.9L299.9 148.3L300.5 146.8L301.3 145.4L302.5 144.1L303.9 143.2L305.6 142.5L307.3 142.2L309 142.1L310.7 142.2L312.4 142.6L314.1 143.1L315.6 144L316.9 145.2L317.8 146.7L318.4 148.3L318.7 149.9Z" fill="#7DD2B4"/><path d="M307 143.5h0M305.5 146.3h0M309.4 146.9h0M313.2 146.9h0M303.4 150h0M306.7 149.8h0M310.6 150.2h0M314.9 149.6h0M301.7 153.6h0M305.1 153.5h0M308.8 153h0M313 153.2h0M317.1 153.1h0M302.9 156.6h0M306.7 156.6h0M311.2 156.7h0M314.5 156.1h0M309.4 159.8h0" stroke="#336D5A" stroke-width="1.85" stroke-linecap="round"/><path d="M283.9 159L283.9 160.7L283.7 162.5L283.2 164.2L282.4 165.7L281.3 166.9L280 167.8L278.7 168.3L277.4 168.6L276 168.7L274.7 168.5L273.3 168.1L272.1 167.5L271 166.5L270 165.3L269.2 163.9L268.6 162.4L268.1 160.8L267.7 159L267.7 157.2L268 155.3L268.6 153.7L269.6 152.3L270.8 151.3L272.1 150.6L273.4 150.2L274.7 149.9L276 149.6L277.3 149.5L278.7 149.6L280.1 150.1L281.3 151.1L282.3 152.4L283 154L283.4 155.6L283.7 157.3Z" fill="#7DD2B4"/><path d="M275.4 150.1h0M273.1 153.4h0M277.4 153.7h0M280.8 153.2h0M270.8 156.6h0M274.7 156.6h0M278.6 157.2h0M282.8 157.1h0M273.5 160.5h0M277 160.8h0M280.8 159.9h0M271 163.7h0M274.7 163.4h0M278.7 163.2h0M273.4 166.6h0M277.1 166.9h0" stroke="#336D5A" stroke-width="1.85" stroke-linecap="round"/><path d="M262.8 163.3L262.5 165.9L261.9 168.4L261.1 170.8L260 173.2L258.7 175.4L257.1 177.4L255.1 179L252.9 180L250.5 180.2L248.2 179.6L246 178.4L244.2 176.8L242.6 175L241.2 173L239.9 170.9L238.8 168.5L238 166L237.7 163.3L237.8 160.5L238.4 157.9L239.5 155.4L240.8 153.3L242.4 151.4L244.2 149.8L246.1 148.5L248.2 147.5L250.5 147.1L252.8 147.2L255 147.9L257.1 149.2L258.9 150.9L260.4 153L261.6 155.4L262.3 158L262.7 160.6Z" fill="#86D5B9"/><path d="M245.9 149.9h0M250.2 150h0M253.8 149.9h0M244.4 154.1h0M248.1 153.6h0M251.9 153.6h0M256.1 153.5h0M259.2 153.6h0M242 156.9h0M246.4 156.6h0M249.4 156.8h0M253.9 157h0M257.7 156.7h0M240.5 160.7h0M243.7 160h0M248.4 160.1h0M251.5 160.3h0M256 160.7h0M259.5 160h0M242.2 164h0M246 163.3h0M249.4 163.5h0M253.4 164.2h0M257.9 163.5h0M261.2 164.3h0M239.8 167h0M244.1 167.7h0M248.3 167.2h0M252.2 167.5h0M255.4 167h0M259.3 167.6h0M242.4 171h0M246 171h0M250.1 170.4h0M254 170.8h0M258.1 170.6h0M243.5 174.2h0M248.2 174.2h0M252.2 173.8h0M255.8 173.8h0M246.4 177.2h0M250.3 177.8h0M253.4 177.1h0" stroke="#336D5A" stroke-width="1.85" stroke-linecap="round"/><circle cx="248.2" cy="174.2" r="1.3" fill="none" stroke="#336D5A" stroke-width="0.6"/><circle cx="249.4" cy="156.8" r="1.3" fill="none" stroke="#336D5A" stroke-width="0.6"/><circle cx="246.4" cy="156.6" r="1.3" fill="none" stroke="#336D5A" stroke-width="0.6"/><circle cx="248.1" cy="153.6" r="1.3" fill="none" stroke="#336D5A" stroke-width="0.6"/><circle cx="244.1" cy="167.7" r="1.3" fill="none" stroke="#336D5A" stroke-width="0.6"/><circle cx="253.9" cy="157" r="1.3" fill="none" stroke="#336D5A" stroke-width="0.6"/></g>
</svg></body></html>
